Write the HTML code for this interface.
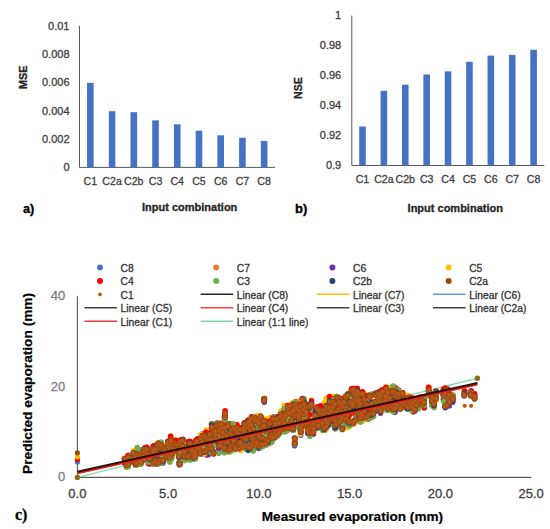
<!DOCTYPE html>
<html><head><meta charset="utf-8"><style>
html,body{margin:0;padding:0;background:#fff;}
svg{display:block;}
</style></head><body>
<svg width="550" height="529" viewBox="0 0 550 529">
<rect width="550" height="529" fill="#fff"/>
<line x1="79.5" y1="25.9" x2="79.5" y2="167.4" stroke="#595959" stroke-width="1"/>
<line x1="79.5" y1="167.4" x2="275.0" y2="167.4" stroke="#595959" stroke-width="1"/>
<text x="69.50" y="171.10" font-size="11.0" text-anchor="end" fill="#404040" stroke="#404040" stroke-width="0.3" font-weight="normal" font-family='"Liberation Sans", sans-serif' >0</text>
<text x="69.50" y="142.80" font-size="11.0" text-anchor="end" fill="#404040" stroke="#404040" stroke-width="0.3" font-weight="normal" font-family='"Liberation Sans", sans-serif' >0.002</text>
<text x="69.50" y="114.50" font-size="11.0" text-anchor="end" fill="#404040" stroke="#404040" stroke-width="0.3" font-weight="normal" font-family='"Liberation Sans", sans-serif' >0.004</text>
<text x="69.50" y="86.20" font-size="11.0" text-anchor="end" fill="#404040" stroke="#404040" stroke-width="0.3" font-weight="normal" font-family='"Liberation Sans", sans-serif' >0.006</text>
<text x="69.50" y="57.90" font-size="11.0" text-anchor="end" fill="#404040" stroke="#404040" stroke-width="0.3" font-weight="normal" font-family='"Liberation Sans", sans-serif' >0.008</text>
<text x="69.50" y="29.60" font-size="11.0" text-anchor="end" fill="#404040" stroke="#404040" stroke-width="0.3" font-weight="normal" font-family='"Liberation Sans", sans-serif' >0.01</text>
<rect x="87.06" y="82.8" width="6.6" height="84.60" fill="#4472C4"/>
<text x="90.36" y="184.90" font-size="10.6" text-anchor="middle" fill="#404040" stroke="#404040" stroke-width="0.3" font-weight="normal" font-family='"Liberation Sans", sans-serif' >C1</text>
<rect x="108.78" y="111.2" width="6.6" height="56.20" fill="#4472C4"/>
<text x="112.08" y="184.90" font-size="10.6" text-anchor="middle" fill="#404040" stroke="#404040" stroke-width="0.3" font-weight="normal" font-family='"Liberation Sans", sans-serif' >C2a</text>
<rect x="130.51" y="112.2" width="6.6" height="55.20" fill="#4472C4"/>
<text x="133.81" y="184.90" font-size="10.6" text-anchor="middle" fill="#404040" stroke="#404040" stroke-width="0.3" font-weight="normal" font-family='"Liberation Sans", sans-serif' >C2b</text>
<rect x="152.23" y="120.4" width="6.6" height="47.00" fill="#4472C4"/>
<text x="155.53" y="184.90" font-size="10.6" text-anchor="middle" fill="#404040" stroke="#404040" stroke-width="0.3" font-weight="normal" font-family='"Liberation Sans", sans-serif' >C3</text>
<rect x="173.95" y="124.3" width="6.6" height="43.10" fill="#4472C4"/>
<text x="177.25" y="184.90" font-size="10.6" text-anchor="middle" fill="#404040" stroke="#404040" stroke-width="0.3" font-weight="normal" font-family='"Liberation Sans", sans-serif' >C4</text>
<rect x="195.67" y="130.7" width="6.6" height="36.70" fill="#4472C4"/>
<text x="198.97" y="184.90" font-size="10.6" text-anchor="middle" fill="#404040" stroke="#404040" stroke-width="0.3" font-weight="normal" font-family='"Liberation Sans", sans-serif' >C5</text>
<rect x="217.39" y="135.3" width="6.6" height="32.10" fill="#4472C4"/>
<text x="220.69" y="184.90" font-size="10.6" text-anchor="middle" fill="#404040" stroke="#404040" stroke-width="0.3" font-weight="normal" font-family='"Liberation Sans", sans-serif' >C6</text>
<rect x="239.12" y="137.8" width="6.6" height="29.60" fill="#4472C4"/>
<text x="242.42" y="184.90" font-size="10.6" text-anchor="middle" fill="#404040" stroke="#404040" stroke-width="0.3" font-weight="normal" font-family='"Liberation Sans", sans-serif' >C7</text>
<rect x="260.84" y="141.0" width="6.6" height="26.40" fill="#4472C4"/>
<text x="264.14" y="184.90" font-size="10.6" text-anchor="middle" fill="#404040" stroke="#404040" stroke-width="0.3" font-weight="normal" font-family='"Liberation Sans", sans-serif' >C8</text>
<text x="0.00" y="0.00" font-size="10.9" text-anchor="middle" fill="#262626" stroke="#262626" stroke-width="0.3" font-weight="bold" font-family='"Liberation Sans", sans-serif' transform="translate(26.6,77.3) rotate(-90)">MSE</text>
<text x="23.00" y="212.80" font-size="12.8" text-anchor="start" fill="#000" stroke="#000" stroke-width="0.3" font-weight="bold" font-family='"Liberation Sans", sans-serif' >a)</text>
<text x="142.00" y="210.90" font-size="11.0" text-anchor="start" fill="#262626" stroke="#262626" stroke-width="0.3" font-weight="bold" font-family='"Liberation Sans", sans-serif' >Input combination</text>
<line x1="351.8" y1="15.5" x2="351.8" y2="165.5" stroke="#595959" stroke-width="1"/>
<line x1="351.8" y1="165.5" x2="544.3" y2="165.5" stroke="#595959" stroke-width="1"/>
<text x="341.20" y="168.90" font-size="11.0" text-anchor="end" fill="#404040" stroke="#404040" stroke-width="0.3" font-weight="normal" font-family='"Liberation Sans", sans-serif' >0.9</text>
<text x="341.20" y="138.90" font-size="11.0" text-anchor="end" fill="#404040" stroke="#404040" stroke-width="0.3" font-weight="normal" font-family='"Liberation Sans", sans-serif' >0.92</text>
<text x="341.20" y="108.90" font-size="11.0" text-anchor="end" fill="#404040" stroke="#404040" stroke-width="0.3" font-weight="normal" font-family='"Liberation Sans", sans-serif' >0.94</text>
<text x="341.20" y="78.90" font-size="11.0" text-anchor="end" fill="#404040" stroke="#404040" stroke-width="0.3" font-weight="normal" font-family='"Liberation Sans", sans-serif' >0.96</text>
<text x="341.20" y="48.90" font-size="11.0" text-anchor="end" fill="#404040" stroke="#404040" stroke-width="0.3" font-weight="normal" font-family='"Liberation Sans", sans-serif' >0.98</text>
<text x="341.20" y="18.90" font-size="11.0" text-anchor="end" fill="#404040" stroke="#404040" stroke-width="0.3" font-weight="normal" font-family='"Liberation Sans", sans-serif' >1</text>
<rect x="359.19" y="126.5" width="6.6" height="39.00" fill="#4472C4"/>
<text x="362.49" y="183.10" font-size="10.6" text-anchor="middle" fill="#404040" stroke="#404040" stroke-width="0.3" font-weight="normal" font-family='"Liberation Sans", sans-serif' >C1</text>
<rect x="380.58" y="90.9" width="6.6" height="74.60" fill="#4472C4"/>
<text x="383.88" y="183.10" font-size="10.6" text-anchor="middle" fill="#404040" stroke="#404040" stroke-width="0.3" font-weight="normal" font-family='"Liberation Sans", sans-serif' >C2a</text>
<rect x="401.97" y="84.7" width="6.6" height="80.80" fill="#4472C4"/>
<text x="405.27" y="183.10" font-size="10.6" text-anchor="middle" fill="#404040" stroke="#404040" stroke-width="0.3" font-weight="normal" font-family='"Liberation Sans", sans-serif' >C2b</text>
<rect x="423.36" y="74.5" width="6.6" height="91.00" fill="#4472C4"/>
<text x="426.66" y="183.10" font-size="10.6" text-anchor="middle" fill="#404040" stroke="#404040" stroke-width="0.3" font-weight="normal" font-family='"Liberation Sans", sans-serif' >C3</text>
<rect x="444.75" y="71.3" width="6.6" height="94.20" fill="#4472C4"/>
<text x="448.05" y="183.10" font-size="10.6" text-anchor="middle" fill="#404040" stroke="#404040" stroke-width="0.3" font-weight="normal" font-family='"Liberation Sans", sans-serif' >C4</text>
<rect x="466.14" y="61.8" width="6.6" height="103.70" fill="#4472C4"/>
<text x="469.44" y="183.10" font-size="10.6" text-anchor="middle" fill="#404040" stroke="#404040" stroke-width="0.3" font-weight="normal" font-family='"Liberation Sans", sans-serif' >C5</text>
<rect x="487.53" y="55.6" width="6.6" height="109.90" fill="#4472C4"/>
<text x="490.83" y="183.10" font-size="10.6" text-anchor="middle" fill="#404040" stroke="#404040" stroke-width="0.3" font-weight="normal" font-family='"Liberation Sans", sans-serif' >C6</text>
<rect x="508.92" y="54.9" width="6.6" height="110.60" fill="#4472C4"/>
<text x="512.22" y="183.10" font-size="10.6" text-anchor="middle" fill="#404040" stroke="#404040" stroke-width="0.3" font-weight="normal" font-family='"Liberation Sans", sans-serif' >C7</text>
<rect x="530.31" y="49.8" width="6.6" height="115.70" fill="#4472C4"/>
<text x="533.61" y="183.10" font-size="10.6" text-anchor="middle" fill="#404040" stroke="#404040" stroke-width="0.3" font-weight="normal" font-family='"Liberation Sans", sans-serif' >C8</text>
<text x="0.00" y="0.00" font-size="10.6" text-anchor="middle" fill="#262626" stroke="#262626" stroke-width="0.3" font-weight="bold" font-family='"Liberation Sans", sans-serif' transform="translate(301.6,88.1) rotate(-90)">NSE</text>
<text x="295.00" y="212.80" font-size="13.0" text-anchor="start" fill="#000" stroke="#000" stroke-width="0.3" font-weight="bold" font-family='"Liberation Sans", sans-serif' >b)</text>
<text x="407.60" y="211.50" font-size="11.0" text-anchor="start" fill="#262626" stroke="#262626" stroke-width="0.3" font-weight="bold" font-family='"Liberation Sans", sans-serif' >Input combination</text>
<line x1="77.4" y1="296.20" x2="77.4" y2="477.4" stroke="#595959" stroke-width="1.1"/>
<line x1="77.4" y1="477.4" x2="531.15" y2="477.4" stroke="#595959" stroke-width="1.1"/>
<text x="65.20" y="481.30" font-size="13.0" text-anchor="end" fill="#7f7f7f" stroke="#7f7f7f" stroke-width="0.3" font-weight="normal" font-family='"Liberation Sans", sans-serif' >0</text>
<text x="65.20" y="390.70" font-size="13.0" text-anchor="end" fill="#7f7f7f" stroke="#7f7f7f" stroke-width="0.3" font-weight="normal" font-family='"Liberation Sans", sans-serif' >20</text>
<text x="65.20" y="300.10" font-size="13.0" text-anchor="end" fill="#7f7f7f" stroke="#7f7f7f" stroke-width="0.3" font-weight="normal" font-family='"Liberation Sans", sans-serif' >40</text>
<text x="77.40" y="497.80" font-size="13.0" text-anchor="middle" fill="#404040" stroke="#404040" stroke-width="0.3" font-weight="normal" font-family='"Liberation Sans", sans-serif' >0.0</text>
<text x="168.15" y="497.80" font-size="13.0" text-anchor="middle" fill="#404040" stroke="#404040" stroke-width="0.3" font-weight="normal" font-family='"Liberation Sans", sans-serif' >5.0</text>
<text x="258.90" y="497.80" font-size="13.0" text-anchor="middle" fill="#404040" stroke="#404040" stroke-width="0.3" font-weight="normal" font-family='"Liberation Sans", sans-serif' >10.0</text>
<text x="349.65" y="497.80" font-size="13.0" text-anchor="middle" fill="#404040" stroke="#404040" stroke-width="0.3" font-weight="normal" font-family='"Liberation Sans", sans-serif' >15.0</text>
<text x="440.40" y="497.80" font-size="13.0" text-anchor="middle" fill="#404040" stroke="#404040" stroke-width="0.3" font-weight="normal" font-family='"Liberation Sans", sans-serif' >20.0</text>
<text x="531.15" y="497.80" font-size="13.0" text-anchor="middle" fill="#404040" stroke="#404040" stroke-width="0.3" font-weight="normal" font-family='"Liberation Sans", sans-serif' >25.0</text>
<text x="0.00" y="0.00" font-size="13.7" text-anchor="middle" fill="#000" stroke="#000" stroke-width="0.2" font-weight="bold" font-family='"Liberation Sans", sans-serif' transform="translate(31.7,383.4) rotate(-90)">Predicted evaporation (mm)</text>
<text x="261.80" y="520.80" font-size="13.6" text-anchor="start" fill="#000" stroke="#000" stroke-width="0.2" font-weight="bold" font-family='"Liberation Sans", sans-serif' >Measured evaporation (mm)</text>
<text x="15.00" y="520.20" font-size="16.0" text-anchor="start" fill="#000" stroke="#000" stroke-width="0.3" font-weight="bold" font-family='"Liberation Serif", serif' >c)</text>
<circle cx="100.00" cy="267.50" r="3.0" fill="#4472C4"/>
<text x="120.60" y="271.90" font-size="10.3" text-anchor="start" fill="#333333" stroke="#333333" stroke-width="0.3" font-weight="normal" font-family='"Liberation Sans", sans-serif' >C8</text>
<circle cx="216.20" cy="267.50" r="3.0" fill="#ED7D31"/>
<text x="236.80" y="271.90" font-size="10.3" text-anchor="start" fill="#333333" stroke="#333333" stroke-width="0.3" font-weight="normal" font-family='"Liberation Sans", sans-serif' >C7</text>
<circle cx="332.40" cy="267.50" r="3.0" fill="#7030A0"/>
<text x="353.00" y="271.90" font-size="10.3" text-anchor="start" fill="#333333" stroke="#333333" stroke-width="0.3" font-weight="normal" font-family='"Liberation Sans", sans-serif' >C6</text>
<circle cx="448.60" cy="267.50" r="3.0" fill="#FFC000"/>
<text x="469.20" y="271.90" font-size="10.3" text-anchor="start" fill="#333333" stroke="#333333" stroke-width="0.3" font-weight="normal" font-family='"Liberation Sans", sans-serif' >C5</text>
<circle cx="100.00" cy="280.92" r="3.0" fill="#FF0000"/>
<text x="120.60" y="285.32" font-size="10.3" text-anchor="start" fill="#333333" stroke="#333333" stroke-width="0.3" font-weight="normal" font-family='"Liberation Sans", sans-serif' >C4</text>
<circle cx="216.20" cy="280.92" r="3.0" fill="#70AD47"/>
<text x="236.80" y="285.32" font-size="10.3" text-anchor="start" fill="#333333" stroke="#333333" stroke-width="0.3" font-weight="normal" font-family='"Liberation Sans", sans-serif' >C3</text>
<circle cx="332.40" cy="280.92" r="3.0" fill="#264478"/>
<text x="353.00" y="285.32" font-size="10.3" text-anchor="start" fill="#333333" stroke="#333333" stroke-width="0.3" font-weight="normal" font-family='"Liberation Sans", sans-serif' >C2b</text>
<circle cx="448.60" cy="280.92" r="3.0" fill="#9E480E"/>
<text x="469.20" y="285.32" font-size="10.3" text-anchor="start" fill="#333333" stroke="#333333" stroke-width="0.3" font-weight="normal" font-family='"Liberation Sans", sans-serif' >C2a</text>
<circle cx="100.00" cy="294.34" r="1.9" fill="#C55A11"/>
<text x="120.60" y="298.74" font-size="10.3" text-anchor="start" fill="#333333" stroke="#333333" stroke-width="0.3" font-weight="normal" font-family='"Liberation Sans", sans-serif' >C1</text>
<line x1="200.60" y1="294.34" x2="233.20" y2="294.34" stroke="#262626" stroke-width="1.5"/>
<text x="236.80" y="298.74" font-size="10.3" text-anchor="start" fill="#333333" stroke="#333333" stroke-width="0.3" font-weight="normal" font-family='"Liberation Sans", sans-serif' >Linear (C8)</text>
<line x1="316.80" y1="294.34" x2="349.40" y2="294.34" stroke="#FFC000" stroke-width="1.5"/>
<text x="353.00" y="298.74" font-size="10.3" text-anchor="start" fill="#333333" stroke="#333333" stroke-width="0.3" font-weight="normal" font-family='"Liberation Sans", sans-serif' >Linear (C7)</text>
<line x1="433.00" y1="294.34" x2="465.60" y2="294.34" stroke="#5B9BD5" stroke-width="1.5"/>
<text x="469.20" y="298.74" font-size="10.3" text-anchor="start" fill="#333333" stroke="#333333" stroke-width="0.3" font-weight="normal" font-family='"Liberation Sans", sans-serif' >Linear (C6)</text>
<line x1="84.40" y1="307.76" x2="117.00" y2="307.76" stroke="#404040" stroke-width="1.5"/>
<text x="120.60" y="312.16" font-size="10.3" text-anchor="start" fill="#333333" stroke="#333333" stroke-width="0.3" font-weight="normal" font-family='"Liberation Sans", sans-serif' >Linear (C5)</text>
<line x1="200.60" y1="307.76" x2="233.20" y2="307.76" stroke="#FF4040" stroke-width="1.5"/>
<text x="236.80" y="312.16" font-size="10.3" text-anchor="start" fill="#333333" stroke="#333333" stroke-width="0.3" font-weight="normal" font-family='"Liberation Sans", sans-serif' >Linear (C4)</text>
<line x1="316.80" y1="307.76" x2="349.40" y2="307.76" stroke="#404040" stroke-width="1.5"/>
<text x="353.00" y="312.16" font-size="10.3" text-anchor="start" fill="#333333" stroke="#333333" stroke-width="0.3" font-weight="normal" font-family='"Liberation Sans", sans-serif' >Linear (C3)</text>
<line x1="433.00" y1="307.76" x2="465.60" y2="307.76" stroke="#404040" stroke-width="1.5"/>
<text x="469.20" y="312.16" font-size="10.3" text-anchor="start" fill="#333333" stroke="#333333" stroke-width="0.3" font-weight="normal" font-family='"Liberation Sans", sans-serif' >Linear (C2a)</text>
<line x1="84.40" y1="321.18" x2="117.00" y2="321.18" stroke="#E04040" stroke-width="1.5"/>
<text x="120.60" y="325.58" font-size="10.3" text-anchor="start" fill="#333333" stroke="#333333" stroke-width="0.3" font-weight="normal" font-family='"Liberation Sans", sans-serif' >Linear (C1)</text>
<line x1="200.60" y1="321.18" x2="233.20" y2="321.18" stroke="#7FD6A8" stroke-width="1.5"/>
<text x="236.80" y="325.58" font-size="10.3" text-anchor="start" fill="#333333" stroke="#333333" stroke-width="0.3" font-weight="normal" font-family='"Liberation Sans", sans-serif' >Linear (1:1 line)</text>
<line x1="77.4" y1="477.4" x2="477.4" y2="378.2" stroke="#8ED8B0" stroke-width="1.4"/>
<circle cx="124.6" cy="458.6" r="2.8" fill="#4472C4"/>
<circle cx="126.6" cy="461.4" r="2.8" fill="#4472C4"/>
<circle cx="126.5" cy="462.8" r="2.8" fill="#4472C4"/>
<circle cx="128.3" cy="457.6" r="2.8" fill="#4472C4"/>
<circle cx="128.4" cy="461.2" r="2.8" fill="#4472C4"/>
<circle cx="130.2" cy="457.4" r="2.8" fill="#4472C4"/>
<circle cx="132.1" cy="457.2" r="2.8" fill="#4472C4"/>
<circle cx="133.6" cy="452.7" r="2.8" fill="#4472C4"/>
<circle cx="135.2" cy="462.8" r="2.8" fill="#4472C4"/>
<circle cx="135.4" cy="462.0" r="2.8" fill="#4472C4"/>
<circle cx="135.2" cy="457.2" r="2.8" fill="#4472C4"/>
<circle cx="137.4" cy="462.9" r="2.8" fill="#4472C4"/>
<circle cx="137.1" cy="456.4" r="2.8" fill="#4472C4"/>
<circle cx="139.3" cy="456.7" r="2.8" fill="#4472C4"/>
<circle cx="139.1" cy="459.3" r="2.8" fill="#4472C4"/>
<circle cx="139.1" cy="456.1" r="2.8" fill="#4472C4"/>
<circle cx="141.2" cy="456.7" r="2.8" fill="#4472C4"/>
<circle cx="141.0" cy="462.8" r="2.8" fill="#4472C4"/>
<circle cx="142.8" cy="452.6" r="2.8" fill="#4472C4"/>
<circle cx="143.0" cy="452.7" r="2.8" fill="#4472C4"/>
<circle cx="144.8" cy="449.4" r="2.8" fill="#4472C4"/>
<circle cx="144.6" cy="452.7" r="2.8" fill="#4472C4"/>
<circle cx="144.6" cy="456.2" r="2.8" fill="#4472C4"/>
<circle cx="146.5" cy="450.7" r="2.8" fill="#4472C4"/>
<circle cx="146.4" cy="454.8" r="2.8" fill="#4472C4"/>
<circle cx="148.1" cy="458.0" r="2.8" fill="#4472C4"/>
<circle cx="148.4" cy="457.2" r="2.8" fill="#4472C4"/>
<circle cx="148.4" cy="458.8" r="2.8" fill="#4472C4"/>
<circle cx="150.2" cy="452.0" r="2.8" fill="#4472C4"/>
<circle cx="150.0" cy="458.2" r="2.8" fill="#4472C4"/>
<circle cx="151.8" cy="449.4" r="2.8" fill="#4472C4"/>
<circle cx="151.7" cy="452.2" r="2.8" fill="#4472C4"/>
<circle cx="151.5" cy="451.7" r="2.8" fill="#4472C4"/>
<circle cx="153.4" cy="460.4" r="2.8" fill="#4472C4"/>
<circle cx="153.7" cy="449.2" r="2.8" fill="#4472C4"/>
<circle cx="153.5" cy="452.0" r="2.8" fill="#4472C4"/>
<circle cx="155.3" cy="460.7" r="2.8" fill="#4472C4"/>
<circle cx="155.7" cy="462.8" r="2.8" fill="#4472C4"/>
<circle cx="155.3" cy="450.0" r="2.8" fill="#4472C4"/>
<circle cx="157.2" cy="460.6" r="2.8" fill="#4472C4"/>
<circle cx="157.4" cy="443.8" r="2.8" fill="#4472C4"/>
<circle cx="157.2" cy="453.6" r="2.8" fill="#4472C4"/>
<circle cx="159.3" cy="461.0" r="2.8" fill="#4472C4"/>
<circle cx="159.3" cy="446.1" r="2.8" fill="#4472C4"/>
<circle cx="158.9" cy="446.7" r="2.8" fill="#4472C4"/>
<circle cx="160.9" cy="462.2" r="2.8" fill="#4472C4"/>
<circle cx="161.1" cy="449.0" r="2.8" fill="#4472C4"/>
<circle cx="160.9" cy="443.2" r="2.8" fill="#4472C4"/>
<circle cx="162.9" cy="447.7" r="2.8" fill="#4472C4"/>
<circle cx="162.5" cy="461.5" r="2.8" fill="#4472C4"/>
<circle cx="164.4" cy="450.3" r="2.8" fill="#4472C4"/>
<circle cx="164.3" cy="448.7" r="2.8" fill="#4472C4"/>
<circle cx="166.6" cy="456.5" r="2.8" fill="#4472C4"/>
<circle cx="166.3" cy="452.7" r="2.8" fill="#4472C4"/>
<circle cx="168.3" cy="454.4" r="2.8" fill="#4472C4"/>
<circle cx="167.9" cy="441.4" r="2.8" fill="#4472C4"/>
<circle cx="168.3" cy="453.2" r="2.8" fill="#4472C4"/>
<circle cx="170.0" cy="456.5" r="2.8" fill="#4472C4"/>
<circle cx="169.9" cy="457.5" r="2.8" fill="#4472C4"/>
<circle cx="170.1" cy="446.9" r="2.8" fill="#4472C4"/>
<circle cx="172.1" cy="449.5" r="2.8" fill="#4472C4"/>
<circle cx="171.6" cy="448.0" r="2.8" fill="#4472C4"/>
<circle cx="171.9" cy="452.2" r="2.8" fill="#4472C4"/>
<circle cx="173.9" cy="447.4" r="2.8" fill="#4472C4"/>
<circle cx="173.7" cy="444.2" r="2.8" fill="#4472C4"/>
<circle cx="173.4" cy="450.3" r="2.8" fill="#4472C4"/>
<circle cx="175.3" cy="445.6" r="2.8" fill="#4472C4"/>
<circle cx="175.6" cy="451.3" r="2.8" fill="#4472C4"/>
<circle cx="175.5" cy="444.3" r="2.8" fill="#4472C4"/>
<circle cx="177.4" cy="445.2" r="2.8" fill="#4472C4"/>
<circle cx="177.1" cy="446.2" r="2.8" fill="#4472C4"/>
<circle cx="178.9" cy="456.7" r="2.8" fill="#4472C4"/>
<circle cx="178.8" cy="444.5" r="2.8" fill="#4472C4"/>
<circle cx="180.8" cy="446.8" r="2.8" fill="#4472C4"/>
<circle cx="180.9" cy="441.9" r="2.8" fill="#4472C4"/>
<circle cx="182.8" cy="447.9" r="2.8" fill="#4472C4"/>
<circle cx="182.8" cy="439.5" r="2.8" fill="#4472C4"/>
<circle cx="184.7" cy="457.6" r="2.8" fill="#4472C4"/>
<circle cx="184.7" cy="450.7" r="2.8" fill="#4472C4"/>
<circle cx="184.5" cy="449.5" r="2.8" fill="#4472C4"/>
<circle cx="186.3" cy="448.9" r="2.8" fill="#4472C4"/>
<circle cx="186.3" cy="454.8" r="2.8" fill="#4472C4"/>
<circle cx="187.9" cy="447.0" r="2.8" fill="#4472C4"/>
<circle cx="187.9" cy="457.6" r="2.8" fill="#4472C4"/>
<circle cx="190.0" cy="456.2" r="2.8" fill="#4472C4"/>
<circle cx="189.7" cy="444.9" r="2.8" fill="#4472C4"/>
<circle cx="190.0" cy="448.1" r="2.8" fill="#4472C4"/>
<circle cx="191.8" cy="455.3" r="2.8" fill="#4472C4"/>
<circle cx="191.6" cy="452.3" r="2.8" fill="#4472C4"/>
<circle cx="192.0" cy="450.0" r="2.8" fill="#4472C4"/>
<circle cx="193.8" cy="456.1" r="2.8" fill="#4472C4"/>
<circle cx="193.5" cy="452.3" r="2.8" fill="#4472C4"/>
<circle cx="193.3" cy="454.5" r="2.8" fill="#4472C4"/>
<circle cx="195.2" cy="449.4" r="2.8" fill="#4472C4"/>
<circle cx="195.5" cy="444.3" r="2.8" fill="#4472C4"/>
<circle cx="195.3" cy="456.6" r="2.8" fill="#4472C4"/>
<circle cx="197.4" cy="441.4" r="2.8" fill="#4472C4"/>
<circle cx="197.3" cy="448.7" r="2.8" fill="#4472C4"/>
<circle cx="199.0" cy="450.3" r="2.8" fill="#4472C4"/>
<circle cx="199.2" cy="445.7" r="2.8" fill="#4472C4"/>
<circle cx="200.7" cy="452.5" r="2.8" fill="#4472C4"/>
<circle cx="200.9" cy="439.0" r="2.8" fill="#4472C4"/>
<circle cx="201.0" cy="454.2" r="2.8" fill="#4472C4"/>
<circle cx="202.5" cy="435.8" r="2.8" fill="#4472C4"/>
<circle cx="202.7" cy="438.0" r="2.8" fill="#4472C4"/>
<circle cx="202.8" cy="443.3" r="2.8" fill="#4472C4"/>
<circle cx="204.7" cy="434.3" r="2.8" fill="#4472C4"/>
<circle cx="204.4" cy="450.5" r="2.8" fill="#4472C4"/>
<circle cx="204.6" cy="435.4" r="2.8" fill="#4472C4"/>
<circle cx="206.1" cy="442.5" r="2.8" fill="#4472C4"/>
<circle cx="206.4" cy="437.8" r="2.8" fill="#4472C4"/>
<circle cx="206.4" cy="450.7" r="2.8" fill="#4472C4"/>
<circle cx="206.0" cy="438.0" r="2.8" fill="#4472C4"/>
<circle cx="208.0" cy="448.0" r="2.8" fill="#4472C4"/>
<circle cx="208.0" cy="437.4" r="2.8" fill="#4472C4"/>
<circle cx="208.3" cy="445.7" r="2.8" fill="#4472C4"/>
<circle cx="207.9" cy="439.8" r="2.8" fill="#4472C4"/>
<circle cx="209.8" cy="440.5" r="2.8" fill="#4472C4"/>
<circle cx="209.6" cy="434.8" r="2.8" fill="#4472C4"/>
<circle cx="210.1" cy="443.3" r="2.8" fill="#4472C4"/>
<circle cx="209.8" cy="441.7" r="2.8" fill="#4472C4"/>
<circle cx="211.6" cy="438.4" r="2.8" fill="#4472C4"/>
<circle cx="212.0" cy="424.9" r="2.8" fill="#4472C4"/>
<circle cx="211.7" cy="426.8" r="2.8" fill="#4472C4"/>
<circle cx="211.9" cy="447.9" r="2.8" fill="#4472C4"/>
<circle cx="213.5" cy="452.8" r="2.8" fill="#4472C4"/>
<circle cx="213.5" cy="441.1" r="2.8" fill="#4472C4"/>
<circle cx="213.3" cy="433.2" r="2.8" fill="#4472C4"/>
<circle cx="213.7" cy="434.0" r="2.8" fill="#4472C4"/>
<circle cx="215.1" cy="438.3" r="2.8" fill="#4472C4"/>
<circle cx="215.2" cy="431.5" r="2.8" fill="#4472C4"/>
<circle cx="215.6" cy="434.1" r="2.8" fill="#4472C4"/>
<circle cx="215.3" cy="430.6" r="2.8" fill="#4472C4"/>
<circle cx="217.0" cy="439.3" r="2.8" fill="#4472C4"/>
<circle cx="217.1" cy="424.2" r="2.8" fill="#4472C4"/>
<circle cx="217.0" cy="425.7" r="2.8" fill="#4472C4"/>
<circle cx="219.2" cy="446.0" r="2.8" fill="#4472C4"/>
<circle cx="218.9" cy="434.6" r="2.8" fill="#4472C4"/>
<circle cx="218.8" cy="424.8" r="2.8" fill="#4472C4"/>
<circle cx="218.9" cy="431.0" r="2.8" fill="#4472C4"/>
<circle cx="220.7" cy="446.0" r="2.8" fill="#4472C4"/>
<circle cx="220.5" cy="426.6" r="2.8" fill="#4472C4"/>
<circle cx="220.6" cy="442.5" r="2.8" fill="#4472C4"/>
<circle cx="220.7" cy="429.9" r="2.8" fill="#4472C4"/>
<circle cx="222.7" cy="432.2" r="2.8" fill="#4472C4"/>
<circle cx="222.6" cy="431.4" r="2.8" fill="#4472C4"/>
<circle cx="222.8" cy="439.6" r="2.8" fill="#4472C4"/>
<circle cx="224.5" cy="449.3" r="2.8" fill="#4472C4"/>
<circle cx="224.2" cy="428.0" r="2.8" fill="#4472C4"/>
<circle cx="224.6" cy="446.2" r="2.8" fill="#4472C4"/>
<circle cx="226.1" cy="436.1" r="2.8" fill="#4472C4"/>
<circle cx="226.2" cy="443.1" r="2.8" fill="#4472C4"/>
<circle cx="226.0" cy="437.4" r="2.8" fill="#4472C4"/>
<circle cx="228.0" cy="424.5" r="2.8" fill="#4472C4"/>
<circle cx="228.3" cy="426.1" r="2.8" fill="#4472C4"/>
<circle cx="228.1" cy="451.5" r="2.8" fill="#4472C4"/>
<circle cx="227.9" cy="440.7" r="2.8" fill="#4472C4"/>
<circle cx="229.8" cy="434.5" r="2.8" fill="#4472C4"/>
<circle cx="230.1" cy="432.5" r="2.8" fill="#4472C4"/>
<circle cx="229.6" cy="448.2" r="2.8" fill="#4472C4"/>
<circle cx="231.5" cy="446.5" r="2.8" fill="#4472C4"/>
<circle cx="231.6" cy="437.1" r="2.8" fill="#4472C4"/>
<circle cx="231.4" cy="430.0" r="2.8" fill="#4472C4"/>
<circle cx="233.4" cy="445.9" r="2.8" fill="#4472C4"/>
<circle cx="233.5" cy="429.5" r="2.8" fill="#4472C4"/>
<circle cx="233.5" cy="439.9" r="2.8" fill="#4472C4"/>
<circle cx="235.3" cy="430.3" r="2.8" fill="#4472C4"/>
<circle cx="235.3" cy="445.5" r="2.8" fill="#4472C4"/>
<circle cx="235.0" cy="447.8" r="2.8" fill="#4472C4"/>
<circle cx="235.1" cy="447.5" r="2.8" fill="#4472C4"/>
<circle cx="236.9" cy="436.1" r="2.8" fill="#4472C4"/>
<circle cx="237.1" cy="431.5" r="2.8" fill="#4472C4"/>
<circle cx="237.1" cy="429.7" r="2.8" fill="#4472C4"/>
<circle cx="239.1" cy="444.6" r="2.8" fill="#4472C4"/>
<circle cx="238.9" cy="441.8" r="2.8" fill="#4472C4"/>
<circle cx="239.2" cy="436.5" r="2.8" fill="#4472C4"/>
<circle cx="238.7" cy="435.0" r="2.8" fill="#4472C4"/>
<circle cx="240.7" cy="444.4" r="2.8" fill="#4472C4"/>
<circle cx="240.8" cy="430.4" r="2.8" fill="#4472C4"/>
<circle cx="240.8" cy="444.0" r="2.8" fill="#4472C4"/>
<circle cx="240.7" cy="444.9" r="2.8" fill="#4472C4"/>
<circle cx="242.3" cy="438.1" r="2.8" fill="#4472C4"/>
<circle cx="242.8" cy="430.7" r="2.8" fill="#4472C4"/>
<circle cx="242.8" cy="435.4" r="2.8" fill="#4472C4"/>
<circle cx="242.5" cy="446.9" r="2.8" fill="#4472C4"/>
<circle cx="244.1" cy="423.4" r="2.8" fill="#4472C4"/>
<circle cx="244.1" cy="427.9" r="2.8" fill="#4472C4"/>
<circle cx="244.3" cy="431.2" r="2.8" fill="#4472C4"/>
<circle cx="244.5" cy="438.6" r="2.8" fill="#4472C4"/>
<circle cx="246.3" cy="423.0" r="2.8" fill="#4472C4"/>
<circle cx="246.2" cy="441.1" r="2.8" fill="#4472C4"/>
<circle cx="246.0" cy="437.7" r="2.8" fill="#4472C4"/>
<circle cx="246.2" cy="446.9" r="2.8" fill="#4472C4"/>
<circle cx="248.2" cy="422.9" r="2.8" fill="#4472C4"/>
<circle cx="248.1" cy="426.0" r="2.8" fill="#4472C4"/>
<circle cx="247.8" cy="446.6" r="2.8" fill="#4472C4"/>
<circle cx="248.2" cy="435.7" r="2.8" fill="#4472C4"/>
<circle cx="250.0" cy="449.4" r="2.8" fill="#4472C4"/>
<circle cx="249.6" cy="427.5" r="2.8" fill="#4472C4"/>
<circle cx="249.7" cy="420.7" r="2.8" fill="#4472C4"/>
<circle cx="249.7" cy="431.0" r="2.8" fill="#4472C4"/>
<circle cx="251.9" cy="426.1" r="2.8" fill="#4472C4"/>
<circle cx="251.4" cy="443.9" r="2.8" fill="#4472C4"/>
<circle cx="251.7" cy="437.1" r="2.8" fill="#4472C4"/>
<circle cx="251.9" cy="418.4" r="2.8" fill="#4472C4"/>
<circle cx="253.4" cy="438.9" r="2.8" fill="#4472C4"/>
<circle cx="253.2" cy="441.8" r="2.8" fill="#4472C4"/>
<circle cx="253.3" cy="430.2" r="2.8" fill="#4472C4"/>
<circle cx="253.3" cy="429.7" r="2.8" fill="#4472C4"/>
<circle cx="253.2" cy="437.4" r="2.8" fill="#4472C4"/>
<circle cx="255.4" cy="443.7" r="2.8" fill="#4472C4"/>
<circle cx="255.4" cy="442.7" r="2.8" fill="#4472C4"/>
<circle cx="255.1" cy="416.7" r="2.8" fill="#4472C4"/>
<circle cx="255.2" cy="420.8" r="2.8" fill="#4472C4"/>
<circle cx="257.3" cy="442.0" r="2.8" fill="#4472C4"/>
<circle cx="257.4" cy="443.2" r="2.8" fill="#4472C4"/>
<circle cx="257.2" cy="432.2" r="2.8" fill="#4472C4"/>
<circle cx="256.9" cy="443.8" r="2.8" fill="#4472C4"/>
<circle cx="257.4" cy="421.6" r="2.8" fill="#4472C4"/>
<circle cx="258.8" cy="445.1" r="2.8" fill="#4472C4"/>
<circle cx="259.0" cy="434.1" r="2.8" fill="#4472C4"/>
<circle cx="258.6" cy="435.9" r="2.8" fill="#4472C4"/>
<circle cx="258.7" cy="418.8" r="2.8" fill="#4472C4"/>
<circle cx="259.0" cy="422.1" r="2.8" fill="#4472C4"/>
<circle cx="260.9" cy="443.4" r="2.8" fill="#4472C4"/>
<circle cx="260.7" cy="418.6" r="2.8" fill="#4472C4"/>
<circle cx="260.5" cy="427.1" r="2.8" fill="#4472C4"/>
<circle cx="261.0" cy="443.9" r="2.8" fill="#4472C4"/>
<circle cx="262.8" cy="427.4" r="2.8" fill="#4472C4"/>
<circle cx="262.8" cy="426.7" r="2.8" fill="#4472C4"/>
<circle cx="262.6" cy="441.7" r="2.8" fill="#4472C4"/>
<circle cx="262.4" cy="438.4" r="2.8" fill="#4472C4"/>
<circle cx="264.3" cy="427.6" r="2.8" fill="#4472C4"/>
<circle cx="264.5" cy="426.8" r="2.8" fill="#4472C4"/>
<circle cx="264.3" cy="424.0" r="2.8" fill="#4472C4"/>
<circle cx="266.3" cy="431.9" r="2.8" fill="#4472C4"/>
<circle cx="266.1" cy="439.6" r="2.8" fill="#4472C4"/>
<circle cx="266.0" cy="441.8" r="2.8" fill="#4472C4"/>
<circle cx="267.7" cy="439.2" r="2.8" fill="#4472C4"/>
<circle cx="267.8" cy="429.4" r="2.8" fill="#4472C4"/>
<circle cx="267.7" cy="441.2" r="2.8" fill="#4472C4"/>
<circle cx="269.6" cy="431.4" r="2.8" fill="#4472C4"/>
<circle cx="269.6" cy="439.5" r="2.8" fill="#4472C4"/>
<circle cx="269.8" cy="424.3" r="2.8" fill="#4472C4"/>
<circle cx="269.7" cy="427.2" r="2.8" fill="#4472C4"/>
<circle cx="271.7" cy="438.1" r="2.8" fill="#4472C4"/>
<circle cx="271.4" cy="433.3" r="2.8" fill="#4472C4"/>
<circle cx="271.4" cy="436.3" r="2.8" fill="#4472C4"/>
<circle cx="273.3" cy="418.3" r="2.8" fill="#4472C4"/>
<circle cx="273.2" cy="438.1" r="2.8" fill="#4472C4"/>
<circle cx="273.7" cy="420.7" r="2.8" fill="#4472C4"/>
<circle cx="275.2" cy="433.4" r="2.8" fill="#4472C4"/>
<circle cx="275.4" cy="422.4" r="2.8" fill="#4472C4"/>
<circle cx="276.9" cy="417.9" r="2.8" fill="#4472C4"/>
<circle cx="276.9" cy="435.0" r="2.8" fill="#4472C4"/>
<circle cx="277.1" cy="425.6" r="2.8" fill="#4472C4"/>
<circle cx="278.6" cy="434.4" r="2.8" fill="#4472C4"/>
<circle cx="278.6" cy="423.9" r="2.8" fill="#4472C4"/>
<circle cx="278.7" cy="422.3" r="2.8" fill="#4472C4"/>
<circle cx="280.9" cy="415.2" r="2.8" fill="#4472C4"/>
<circle cx="280.4" cy="430.2" r="2.8" fill="#4472C4"/>
<circle cx="280.8" cy="416.5" r="2.8" fill="#4472C4"/>
<circle cx="282.4" cy="419.2" r="2.8" fill="#4472C4"/>
<circle cx="282.3" cy="427.1" r="2.8" fill="#4472C4"/>
<circle cx="282.6" cy="428.1" r="2.8" fill="#4472C4"/>
<circle cx="284.2" cy="422.8" r="2.8" fill="#4472C4"/>
<circle cx="284.5" cy="414.8" r="2.8" fill="#4472C4"/>
<circle cx="284.6" cy="417.9" r="2.8" fill="#4472C4"/>
<circle cx="284.3" cy="430.9" r="2.8" fill="#4472C4"/>
<circle cx="286.0" cy="413.2" r="2.8" fill="#4472C4"/>
<circle cx="286.1" cy="430.8" r="2.8" fill="#4472C4"/>
<circle cx="285.9" cy="414.6" r="2.8" fill="#4472C4"/>
<circle cx="288.1" cy="408.6" r="2.8" fill="#4472C4"/>
<circle cx="287.9" cy="411.6" r="2.8" fill="#4472C4"/>
<circle cx="287.7" cy="426.5" r="2.8" fill="#4472C4"/>
<circle cx="289.9" cy="411.2" r="2.8" fill="#4472C4"/>
<circle cx="289.6" cy="406.4" r="2.8" fill="#4472C4"/>
<circle cx="290.0" cy="424.2" r="2.8" fill="#4472C4"/>
<circle cx="291.5" cy="425.4" r="2.8" fill="#4472C4"/>
<circle cx="291.7" cy="421.8" r="2.8" fill="#4472C4"/>
<circle cx="291.7" cy="423.0" r="2.8" fill="#4472C4"/>
<circle cx="291.7" cy="412.9" r="2.8" fill="#4472C4"/>
<circle cx="293.5" cy="427.7" r="2.8" fill="#4472C4"/>
<circle cx="293.1" cy="409.8" r="2.8" fill="#4472C4"/>
<circle cx="293.7" cy="416.1" r="2.8" fill="#4472C4"/>
<circle cx="295.4" cy="403.0" r="2.8" fill="#4472C4"/>
<circle cx="295.5" cy="416.2" r="2.8" fill="#4472C4"/>
<circle cx="295.3" cy="407.2" r="2.8" fill="#4472C4"/>
<circle cx="295.2" cy="416.3" r="2.8" fill="#4472C4"/>
<circle cx="297.1" cy="408.6" r="2.8" fill="#4472C4"/>
<circle cx="296.7" cy="409.5" r="2.8" fill="#4472C4"/>
<circle cx="297.1" cy="415.6" r="2.8" fill="#4472C4"/>
<circle cx="298.9" cy="412.5" r="2.8" fill="#4472C4"/>
<circle cx="298.9" cy="423.0" r="2.8" fill="#4472C4"/>
<circle cx="298.8" cy="418.8" r="2.8" fill="#4472C4"/>
<circle cx="298.9" cy="412.8" r="2.8" fill="#4472C4"/>
<circle cx="300.4" cy="430.9" r="2.8" fill="#4472C4"/>
<circle cx="300.7" cy="405.2" r="2.8" fill="#4472C4"/>
<circle cx="300.4" cy="413.3" r="2.8" fill="#4472C4"/>
<circle cx="300.6" cy="427.3" r="2.8" fill="#4472C4"/>
<circle cx="302.3" cy="423.2" r="2.8" fill="#4472C4"/>
<circle cx="302.7" cy="400.5" r="2.8" fill="#4472C4"/>
<circle cx="302.5" cy="410.5" r="2.8" fill="#4472C4"/>
<circle cx="302.4" cy="409.6" r="2.8" fill="#4472C4"/>
<circle cx="304.4" cy="407.9" r="2.8" fill="#4472C4"/>
<circle cx="304.3" cy="403.4" r="2.8" fill="#4472C4"/>
<circle cx="304.2" cy="411.4" r="2.8" fill="#4472C4"/>
<circle cx="304.2" cy="413.3" r="2.8" fill="#4472C4"/>
<circle cx="306.0" cy="420.2" r="2.8" fill="#4472C4"/>
<circle cx="305.8" cy="407.0" r="2.8" fill="#4472C4"/>
<circle cx="305.9" cy="413.5" r="2.8" fill="#4472C4"/>
<circle cx="305.9" cy="421.7" r="2.8" fill="#4472C4"/>
<circle cx="306.1" cy="414.0" r="2.8" fill="#4472C4"/>
<circle cx="307.8" cy="426.2" r="2.8" fill="#4472C4"/>
<circle cx="307.7" cy="424.0" r="2.8" fill="#4472C4"/>
<circle cx="307.9" cy="405.1" r="2.8" fill="#4472C4"/>
<circle cx="307.9" cy="431.4" r="2.8" fill="#4472C4"/>
<circle cx="309.6" cy="422.5" r="2.8" fill="#4472C4"/>
<circle cx="309.9" cy="431.2" r="2.8" fill="#4472C4"/>
<circle cx="309.6" cy="408.3" r="2.8" fill="#4472C4"/>
<circle cx="309.7" cy="406.4" r="2.8" fill="#4472C4"/>
<circle cx="311.6" cy="427.6" r="2.8" fill="#4472C4"/>
<circle cx="311.3" cy="403.1" r="2.8" fill="#4472C4"/>
<circle cx="311.7" cy="432.1" r="2.8" fill="#4472C4"/>
<circle cx="311.7" cy="424.9" r="2.8" fill="#4472C4"/>
<circle cx="313.1" cy="425.3" r="2.8" fill="#4472C4"/>
<circle cx="313.3" cy="430.3" r="2.8" fill="#4472C4"/>
<circle cx="313.6" cy="430.1" r="2.8" fill="#4472C4"/>
<circle cx="313.2" cy="423.9" r="2.8" fill="#4472C4"/>
<circle cx="315.1" cy="423.7" r="2.8" fill="#4472C4"/>
<circle cx="314.9" cy="414.8" r="2.8" fill="#4472C4"/>
<circle cx="315.1" cy="419.3" r="2.8" fill="#4472C4"/>
<circle cx="316.7" cy="408.8" r="2.8" fill="#4472C4"/>
<circle cx="316.7" cy="420.8" r="2.8" fill="#4472C4"/>
<circle cx="316.7" cy="424.9" r="2.8" fill="#4472C4"/>
<circle cx="319.0" cy="411.7" r="2.8" fill="#4472C4"/>
<circle cx="318.6" cy="421.2" r="2.8" fill="#4472C4"/>
<circle cx="319.0" cy="425.9" r="2.8" fill="#4472C4"/>
<circle cx="318.6" cy="426.0" r="2.8" fill="#4472C4"/>
<circle cx="320.8" cy="414.8" r="2.8" fill="#4472C4"/>
<circle cx="320.4" cy="415.8" r="2.8" fill="#4472C4"/>
<circle cx="320.7" cy="418.9" r="2.8" fill="#4472C4"/>
<circle cx="322.3" cy="412.4" r="2.8" fill="#4472C4"/>
<circle cx="322.7" cy="423.5" r="2.8" fill="#4472C4"/>
<circle cx="322.4" cy="414.2" r="2.8" fill="#4472C4"/>
<circle cx="322.4" cy="418.1" r="2.8" fill="#4472C4"/>
<circle cx="324.5" cy="429.1" r="2.8" fill="#4472C4"/>
<circle cx="324.3" cy="425.0" r="2.8" fill="#4472C4"/>
<circle cx="324.4" cy="410.1" r="2.8" fill="#4472C4"/>
<circle cx="324.2" cy="428.1" r="2.8" fill="#4472C4"/>
<circle cx="325.8" cy="428.0" r="2.8" fill="#4472C4"/>
<circle cx="326.3" cy="408.4" r="2.8" fill="#4472C4"/>
<circle cx="326.1" cy="416.0" r="2.8" fill="#4472C4"/>
<circle cx="325.8" cy="413.4" r="2.8" fill="#4472C4"/>
<circle cx="328.0" cy="408.4" r="2.8" fill="#4472C4"/>
<circle cx="328.1" cy="410.7" r="2.8" fill="#4472C4"/>
<circle cx="327.6" cy="424.8" r="2.8" fill="#4472C4"/>
<circle cx="329.9" cy="403.3" r="2.8" fill="#4472C4"/>
<circle cx="329.5" cy="423.1" r="2.8" fill="#4472C4"/>
<circle cx="329.5" cy="409.6" r="2.8" fill="#4472C4"/>
<circle cx="329.5" cy="408.7" r="2.8" fill="#4472C4"/>
<circle cx="329.4" cy="414.2" r="2.8" fill="#4472C4"/>
<circle cx="331.5" cy="415.2" r="2.8" fill="#4472C4"/>
<circle cx="331.6" cy="419.4" r="2.8" fill="#4472C4"/>
<circle cx="331.3" cy="409.6" r="2.8" fill="#4472C4"/>
<circle cx="331.3" cy="410.9" r="2.8" fill="#4472C4"/>
<circle cx="333.3" cy="402.7" r="2.8" fill="#4472C4"/>
<circle cx="333.0" cy="401.2" r="2.8" fill="#4472C4"/>
<circle cx="333.4" cy="404.7" r="2.8" fill="#4472C4"/>
<circle cx="333.5" cy="419.0" r="2.8" fill="#4472C4"/>
<circle cx="335.2" cy="402.9" r="2.8" fill="#4472C4"/>
<circle cx="335.3" cy="414.5" r="2.8" fill="#4472C4"/>
<circle cx="335.1" cy="424.1" r="2.8" fill="#4472C4"/>
<circle cx="334.8" cy="418.6" r="2.8" fill="#4472C4"/>
<circle cx="336.7" cy="423.6" r="2.8" fill="#4472C4"/>
<circle cx="337.1" cy="413.1" r="2.8" fill="#4472C4"/>
<circle cx="336.7" cy="397.4" r="2.8" fill="#4472C4"/>
<circle cx="338.9" cy="401.4" r="2.8" fill="#4472C4"/>
<circle cx="338.8" cy="413.4" r="2.8" fill="#4472C4"/>
<circle cx="338.7" cy="408.0" r="2.8" fill="#4472C4"/>
<circle cx="338.6" cy="420.5" r="2.8" fill="#4472C4"/>
<circle cx="340.6" cy="414.4" r="2.8" fill="#4472C4"/>
<circle cx="340.8" cy="403.1" r="2.8" fill="#4472C4"/>
<circle cx="340.4" cy="417.8" r="2.8" fill="#4472C4"/>
<circle cx="340.5" cy="419.8" r="2.8" fill="#4472C4"/>
<circle cx="342.2" cy="411.3" r="2.8" fill="#4472C4"/>
<circle cx="342.6" cy="406.7" r="2.8" fill="#4472C4"/>
<circle cx="342.1" cy="428.0" r="2.8" fill="#4472C4"/>
<circle cx="342.1" cy="418.7" r="2.8" fill="#4472C4"/>
<circle cx="344.2" cy="402.0" r="2.8" fill="#4472C4"/>
<circle cx="344.0" cy="408.3" r="2.8" fill="#4472C4"/>
<circle cx="344.1" cy="410.8" r="2.8" fill="#4472C4"/>
<circle cx="344.4" cy="416.3" r="2.8" fill="#4472C4"/>
<circle cx="344.4" cy="406.1" r="2.8" fill="#4472C4"/>
<circle cx="346.1" cy="398.7" r="2.8" fill="#4472C4"/>
<circle cx="345.8" cy="397.4" r="2.8" fill="#4472C4"/>
<circle cx="345.9" cy="417.7" r="2.8" fill="#4472C4"/>
<circle cx="345.9" cy="407.0" r="2.8" fill="#4472C4"/>
<circle cx="345.9" cy="410.2" r="2.8" fill="#4472C4"/>
<circle cx="347.9" cy="395.2" r="2.8" fill="#4472C4"/>
<circle cx="348.1" cy="415.2" r="2.8" fill="#4472C4"/>
<circle cx="347.7" cy="420.2" r="2.8" fill="#4472C4"/>
<circle cx="347.6" cy="412.5" r="2.8" fill="#4472C4"/>
<circle cx="349.8" cy="403.4" r="2.8" fill="#4472C4"/>
<circle cx="349.7" cy="421.6" r="2.8" fill="#4472C4"/>
<circle cx="349.6" cy="421.7" r="2.8" fill="#4472C4"/>
<circle cx="349.6" cy="411.6" r="2.8" fill="#4472C4"/>
<circle cx="351.6" cy="402.9" r="2.8" fill="#4472C4"/>
<circle cx="351.4" cy="404.9" r="2.8" fill="#4472C4"/>
<circle cx="351.6" cy="404.0" r="2.8" fill="#4472C4"/>
<circle cx="351.5" cy="390.6" r="2.8" fill="#4472C4"/>
<circle cx="353.3" cy="407.2" r="2.8" fill="#4472C4"/>
<circle cx="353.4" cy="391.5" r="2.8" fill="#4472C4"/>
<circle cx="353.5" cy="392.8" r="2.8" fill="#4472C4"/>
<circle cx="353.3" cy="403.6" r="2.8" fill="#4472C4"/>
<circle cx="353.3" cy="420.9" r="2.8" fill="#4472C4"/>
<circle cx="355.2" cy="399.8" r="2.8" fill="#4472C4"/>
<circle cx="355.1" cy="420.7" r="2.8" fill="#4472C4"/>
<circle cx="355.2" cy="394.1" r="2.8" fill="#4472C4"/>
<circle cx="355.2" cy="402.3" r="2.8" fill="#4472C4"/>
<circle cx="356.8" cy="410.1" r="2.8" fill="#4472C4"/>
<circle cx="357.0" cy="402.5" r="2.8" fill="#4472C4"/>
<circle cx="356.8" cy="395.2" r="2.8" fill="#4472C4"/>
<circle cx="357.0" cy="391.8" r="2.8" fill="#4472C4"/>
<circle cx="358.7" cy="414.2" r="2.8" fill="#4472C4"/>
<circle cx="358.6" cy="406.6" r="2.8" fill="#4472C4"/>
<circle cx="359.0" cy="395.2" r="2.8" fill="#4472C4"/>
<circle cx="358.8" cy="400.8" r="2.8" fill="#4472C4"/>
<circle cx="358.6" cy="400.9" r="2.8" fill="#4472C4"/>
<circle cx="360.5" cy="412.9" r="2.8" fill="#4472C4"/>
<circle cx="360.6" cy="418.4" r="2.8" fill="#4472C4"/>
<circle cx="360.7" cy="411.5" r="2.8" fill="#4472C4"/>
<circle cx="360.6" cy="405.5" r="2.8" fill="#4472C4"/>
<circle cx="362.6" cy="395.9" r="2.8" fill="#4472C4"/>
<circle cx="362.6" cy="393.8" r="2.8" fill="#4472C4"/>
<circle cx="362.6" cy="416.6" r="2.8" fill="#4472C4"/>
<circle cx="363.9" cy="399.5" r="2.8" fill="#4472C4"/>
<circle cx="364.1" cy="411.1" r="2.8" fill="#4472C4"/>
<circle cx="364.1" cy="399.9" r="2.8" fill="#4472C4"/>
<circle cx="366.0" cy="404.6" r="2.8" fill="#4472C4"/>
<circle cx="365.9" cy="417.6" r="2.8" fill="#4472C4"/>
<circle cx="365.7" cy="407.0" r="2.8" fill="#4472C4"/>
<circle cx="367.5" cy="415.3" r="2.8" fill="#4472C4"/>
<circle cx="368.0" cy="416.3" r="2.8" fill="#4472C4"/>
<circle cx="367.9" cy="406.1" r="2.8" fill="#4472C4"/>
<circle cx="369.6" cy="396.1" r="2.8" fill="#4472C4"/>
<circle cx="369.9" cy="395.8" r="2.8" fill="#4472C4"/>
<circle cx="369.5" cy="413.9" r="2.8" fill="#4472C4"/>
<circle cx="371.7" cy="404.8" r="2.8" fill="#4472C4"/>
<circle cx="371.5" cy="416.2" r="2.8" fill="#4472C4"/>
<circle cx="371.7" cy="413.5" r="2.8" fill="#4472C4"/>
<circle cx="373.1" cy="410.4" r="2.8" fill="#4472C4"/>
<circle cx="373.2" cy="411.0" r="2.8" fill="#4472C4"/>
<circle cx="373.0" cy="414.9" r="2.8" fill="#4472C4"/>
<circle cx="375.3" cy="394.5" r="2.8" fill="#4472C4"/>
<circle cx="374.8" cy="403.5" r="2.8" fill="#4472C4"/>
<circle cx="375.2" cy="406.6" r="2.8" fill="#4472C4"/>
<circle cx="377.1" cy="395.7" r="2.8" fill="#4472C4"/>
<circle cx="377.1" cy="404.7" r="2.8" fill="#4472C4"/>
<circle cx="378.9" cy="397.6" r="2.8" fill="#4472C4"/>
<circle cx="378.6" cy="395.2" r="2.8" fill="#4472C4"/>
<circle cx="378.8" cy="394.5" r="2.8" fill="#4472C4"/>
<circle cx="380.6" cy="396.1" r="2.8" fill="#4472C4"/>
<circle cx="380.6" cy="409.9" r="2.8" fill="#4472C4"/>
<circle cx="380.3" cy="394.3" r="2.8" fill="#4472C4"/>
<circle cx="382.1" cy="405.2" r="2.8" fill="#4472C4"/>
<circle cx="382.3" cy="399.1" r="2.8" fill="#4472C4"/>
<circle cx="382.5" cy="392.2" r="2.8" fill="#4472C4"/>
<circle cx="384.2" cy="400.1" r="2.8" fill="#4472C4"/>
<circle cx="384.1" cy="405.1" r="2.8" fill="#4472C4"/>
<circle cx="386.1" cy="389.0" r="2.8" fill="#4472C4"/>
<circle cx="385.8" cy="399.4" r="2.8" fill="#4472C4"/>
<circle cx="385.7" cy="396.5" r="2.8" fill="#4472C4"/>
<circle cx="388.0" cy="393.2" r="2.8" fill="#4472C4"/>
<circle cx="388.0" cy="406.9" r="2.8" fill="#4472C4"/>
<circle cx="387.9" cy="410.0" r="2.8" fill="#4472C4"/>
<circle cx="389.6" cy="398.2" r="2.8" fill="#4472C4"/>
<circle cx="389.4" cy="403.2" r="2.8" fill="#4472C4"/>
<circle cx="389.5" cy="403.0" r="2.8" fill="#4472C4"/>
<circle cx="391.3" cy="402.0" r="2.8" fill="#4472C4"/>
<circle cx="391.6" cy="409.7" r="2.8" fill="#4472C4"/>
<circle cx="391.6" cy="392.8" r="2.8" fill="#4472C4"/>
<circle cx="393.0" cy="391.4" r="2.8" fill="#4472C4"/>
<circle cx="392.9" cy="394.1" r="2.8" fill="#4472C4"/>
<circle cx="393.3" cy="409.8" r="2.8" fill="#4472C4"/>
<circle cx="393.3" cy="400.3" r="2.8" fill="#4472C4"/>
<circle cx="395.3" cy="410.5" r="2.8" fill="#4472C4"/>
<circle cx="394.8" cy="392.1" r="2.8" fill="#4472C4"/>
<circle cx="394.8" cy="394.7" r="2.8" fill="#4472C4"/>
<circle cx="396.9" cy="393.2" r="2.8" fill="#4472C4"/>
<circle cx="396.6" cy="401.1" r="2.8" fill="#4472C4"/>
<circle cx="397.0" cy="394.9" r="2.8" fill="#4472C4"/>
<circle cx="398.6" cy="401.2" r="2.8" fill="#4472C4"/>
<circle cx="398.7" cy="395.4" r="2.8" fill="#4472C4"/>
<circle cx="398.8" cy="395.8" r="2.8" fill="#4472C4"/>
<circle cx="400.6" cy="407.1" r="2.8" fill="#4472C4"/>
<circle cx="400.2" cy="403.8" r="2.8" fill="#4472C4"/>
<circle cx="400.2" cy="408.7" r="2.8" fill="#4472C4"/>
<circle cx="402.2" cy="392.7" r="2.8" fill="#4472C4"/>
<circle cx="402.6" cy="394.1" r="2.8" fill="#4472C4"/>
<circle cx="404.4" cy="403.1" r="2.8" fill="#4472C4"/>
<circle cx="404.3" cy="402.2" r="2.8" fill="#4472C4"/>
<circle cx="406.0" cy="407.7" r="2.8" fill="#4472C4"/>
<circle cx="405.7" cy="400.8" r="2.8" fill="#4472C4"/>
<circle cx="407.9" cy="406.6" r="2.8" fill="#4472C4"/>
<circle cx="407.5" cy="397.7" r="2.8" fill="#4472C4"/>
<circle cx="409.8" cy="397.4" r="2.8" fill="#4472C4"/>
<circle cx="409.4" cy="406.0" r="2.8" fill="#4472C4"/>
<circle cx="411.6" cy="404.2" r="2.8" fill="#4472C4"/>
<circle cx="411.1" cy="406.2" r="2.8" fill="#4472C4"/>
<circle cx="413.3" cy="409.0" r="2.8" fill="#4472C4"/>
<circle cx="413.2" cy="401.2" r="2.8" fill="#4472C4"/>
<circle cx="415.2" cy="402.8" r="2.8" fill="#4472C4"/>
<circle cx="414.9" cy="411.1" r="2.8" fill="#4472C4"/>
<circle cx="416.7" cy="405.2" r="2.8" fill="#4472C4"/>
<circle cx="416.7" cy="405.3" r="2.8" fill="#4472C4"/>
<circle cx="418.7" cy="402.9" r="2.8" fill="#4472C4"/>
<circle cx="418.9" cy="400.8" r="2.8" fill="#4472C4"/>
<circle cx="420.7" cy="401.4" r="2.8" fill="#4472C4"/>
<circle cx="420.3" cy="397.9" r="2.8" fill="#4472C4"/>
<circle cx="422.5" cy="406.3" r="2.8" fill="#4472C4"/>
<circle cx="422.1" cy="404.8" r="2.8" fill="#4472C4"/>
<circle cx="424.2" cy="400.2" r="2.8" fill="#4472C4"/>
<circle cx="424.3" cy="403.2" r="2.8" fill="#4472C4"/>
<circle cx="429.0" cy="389.3" r="2.8" fill="#4472C4"/>
<circle cx="428.6" cy="389.0" r="2.8" fill="#4472C4"/>
<circle cx="432.2" cy="396.5" r="2.8" fill="#4472C4"/>
<circle cx="431.8" cy="399.7" r="2.8" fill="#4472C4"/>
<circle cx="434.1" cy="402.8" r="2.8" fill="#4472C4"/>
<circle cx="433.9" cy="405.7" r="2.8" fill="#4472C4"/>
<circle cx="435.8" cy="391.0" r="2.8" fill="#4472C4"/>
<circle cx="436.1" cy="397.2" r="2.8" fill="#4472C4"/>
<circle cx="443.5" cy="391.3" r="2.8" fill="#4472C4"/>
<circle cx="443.5" cy="395.1" r="2.8" fill="#4472C4"/>
<circle cx="445.0" cy="393.5" r="2.8" fill="#4472C4"/>
<circle cx="445.3" cy="407.0" r="2.8" fill="#4472C4"/>
<circle cx="447.3" cy="402.2" r="2.8" fill="#4472C4"/>
<circle cx="447.0" cy="388.2" r="2.8" fill="#4472C4"/>
<circle cx="448.8" cy="399.2" r="2.8" fill="#4472C4"/>
<circle cx="449.1" cy="393.3" r="2.8" fill="#4472C4"/>
<circle cx="453.0" cy="398.3" r="2.8" fill="#4472C4"/>
<circle cx="452.6" cy="400.9" r="2.8" fill="#4472C4"/>
<circle cx="464.6" cy="394.9" r="2.8" fill="#4472C4"/>
<circle cx="464.7" cy="394.3" r="2.8" fill="#4472C4"/>
<circle cx="471.2" cy="391.0" r="2.8" fill="#4472C4"/>
<circle cx="471.1" cy="395.3" r="2.8" fill="#4472C4"/>
<circle cx="474.6" cy="398.6" r="2.8" fill="#4472C4"/>
<circle cx="474.3" cy="396.2" r="2.8" fill="#4472C4"/>
<circle cx="225.1" cy="414.9" r="2.8" fill="#4472C4"/>
<circle cx="225.0" cy="412.8" r="2.8" fill="#4472C4"/>
<circle cx="264.3" cy="398.8" r="2.8" fill="#4472C4"/>
<circle cx="264.4" cy="402.0" r="2.8" fill="#4472C4"/>
<circle cx="294.6" cy="438.0" r="2.8" fill="#4472C4"/>
<circle cx="294.6" cy="445.7" r="2.8" fill="#4472C4"/>
<circle cx="171.1" cy="438.2" r="2.8" fill="#4472C4"/>
<circle cx="170.8" cy="440.7" r="2.8" fill="#4472C4"/>
<circle cx="179.4" cy="462.3" r="2.8" fill="#4472C4"/>
<circle cx="179.5" cy="463.7" r="2.8" fill="#4472C4"/>
<circle cx="124.5" cy="458.4" r="2.8" fill="#ED7D31"/>
<circle cx="126.3" cy="461.0" r="2.8" fill="#ED7D31"/>
<circle cx="126.4" cy="464.3" r="2.8" fill="#ED7D31"/>
<circle cx="128.4" cy="458.0" r="2.8" fill="#ED7D31"/>
<circle cx="128.1" cy="459.7" r="2.8" fill="#ED7D31"/>
<circle cx="130.3" cy="458.9" r="2.8" fill="#ED7D31"/>
<circle cx="132.0" cy="459.7" r="2.8" fill="#ED7D31"/>
<circle cx="133.4" cy="453.4" r="2.8" fill="#ED7D31"/>
<circle cx="135.2" cy="464.5" r="2.8" fill="#ED7D31"/>
<circle cx="135.3" cy="461.2" r="2.8" fill="#ED7D31"/>
<circle cx="135.3" cy="457.7" r="2.8" fill="#ED7D31"/>
<circle cx="137.5" cy="460.7" r="2.8" fill="#ED7D31"/>
<circle cx="137.1" cy="453.8" r="2.8" fill="#ED7D31"/>
<circle cx="139.3" cy="454.9" r="2.8" fill="#ED7D31"/>
<circle cx="139.1" cy="463.3" r="2.8" fill="#ED7D31"/>
<circle cx="139.0" cy="455.3" r="2.8" fill="#ED7D31"/>
<circle cx="141.2" cy="454.1" r="2.8" fill="#ED7D31"/>
<circle cx="140.7" cy="463.7" r="2.8" fill="#ED7D31"/>
<circle cx="142.7" cy="452.3" r="2.8" fill="#ED7D31"/>
<circle cx="142.9" cy="453.0" r="2.8" fill="#ED7D31"/>
<circle cx="144.5" cy="448.7" r="2.8" fill="#ED7D31"/>
<circle cx="144.4" cy="451.4" r="2.8" fill="#ED7D31"/>
<circle cx="144.7" cy="454.3" r="2.8" fill="#ED7D31"/>
<circle cx="146.2" cy="447.2" r="2.8" fill="#ED7D31"/>
<circle cx="146.4" cy="453.6" r="2.8" fill="#ED7D31"/>
<circle cx="148.1" cy="455.5" r="2.8" fill="#ED7D31"/>
<circle cx="148.2" cy="453.8" r="2.8" fill="#ED7D31"/>
<circle cx="148.3" cy="458.9" r="2.8" fill="#ED7D31"/>
<circle cx="150.1" cy="454.1" r="2.8" fill="#ED7D31"/>
<circle cx="150.0" cy="460.3" r="2.8" fill="#ED7D31"/>
<circle cx="152.1" cy="449.6" r="2.8" fill="#ED7D31"/>
<circle cx="152.0" cy="452.6" r="2.8" fill="#ED7D31"/>
<circle cx="151.6" cy="453.1" r="2.8" fill="#ED7D31"/>
<circle cx="153.8" cy="461.5" r="2.8" fill="#ED7D31"/>
<circle cx="153.6" cy="448.7" r="2.8" fill="#ED7D31"/>
<circle cx="153.7" cy="451.9" r="2.8" fill="#ED7D31"/>
<circle cx="155.4" cy="461.7" r="2.8" fill="#ED7D31"/>
<circle cx="155.3" cy="459.1" r="2.8" fill="#ED7D31"/>
<circle cx="155.2" cy="447.4" r="2.8" fill="#ED7D31"/>
<circle cx="157.1" cy="459.6" r="2.8" fill="#ED7D31"/>
<circle cx="157.1" cy="445.7" r="2.8" fill="#ED7D31"/>
<circle cx="157.4" cy="454.2" r="2.8" fill="#ED7D31"/>
<circle cx="159.2" cy="462.2" r="2.8" fill="#ED7D31"/>
<circle cx="159.0" cy="449.6" r="2.8" fill="#ED7D31"/>
<circle cx="159.2" cy="445.5" r="2.8" fill="#ED7D31"/>
<circle cx="161.2" cy="461.5" r="2.8" fill="#ED7D31"/>
<circle cx="160.6" cy="450.8" r="2.8" fill="#ED7D31"/>
<circle cx="160.7" cy="445.1" r="2.8" fill="#ED7D31"/>
<circle cx="162.8" cy="448.6" r="2.8" fill="#ED7D31"/>
<circle cx="162.5" cy="460.8" r="2.8" fill="#ED7D31"/>
<circle cx="164.6" cy="450.6" r="2.8" fill="#ED7D31"/>
<circle cx="164.3" cy="449.6" r="2.8" fill="#ED7D31"/>
<circle cx="166.3" cy="456.6" r="2.8" fill="#ED7D31"/>
<circle cx="166.6" cy="453.1" r="2.8" fill="#ED7D31"/>
<circle cx="168.0" cy="453.3" r="2.8" fill="#ED7D31"/>
<circle cx="168.4" cy="442.0" r="2.8" fill="#ED7D31"/>
<circle cx="168.3" cy="454.1" r="2.8" fill="#ED7D31"/>
<circle cx="169.9" cy="456.8" r="2.8" fill="#ED7D31"/>
<circle cx="170.1" cy="456.8" r="2.8" fill="#ED7D31"/>
<circle cx="170.2" cy="448.4" r="2.8" fill="#ED7D31"/>
<circle cx="171.8" cy="448.1" r="2.8" fill="#ED7D31"/>
<circle cx="171.8" cy="447.7" r="2.8" fill="#ED7D31"/>
<circle cx="171.8" cy="452.4" r="2.8" fill="#ED7D31"/>
<circle cx="173.7" cy="446.9" r="2.8" fill="#ED7D31"/>
<circle cx="173.8" cy="444.2" r="2.8" fill="#ED7D31"/>
<circle cx="173.3" cy="450.9" r="2.8" fill="#ED7D31"/>
<circle cx="175.3" cy="445.2" r="2.8" fill="#ED7D31"/>
<circle cx="175.4" cy="448.3" r="2.8" fill="#ED7D31"/>
<circle cx="175.5" cy="444.0" r="2.8" fill="#ED7D31"/>
<circle cx="177.4" cy="445.2" r="2.8" fill="#ED7D31"/>
<circle cx="177.5" cy="445.1" r="2.8" fill="#ED7D31"/>
<circle cx="179.2" cy="456.7" r="2.8" fill="#ED7D31"/>
<circle cx="179.1" cy="443.3" r="2.8" fill="#ED7D31"/>
<circle cx="181.1" cy="444.6" r="2.8" fill="#ED7D31"/>
<circle cx="180.6" cy="444.8" r="2.8" fill="#ED7D31"/>
<circle cx="182.4" cy="450.5" r="2.8" fill="#ED7D31"/>
<circle cx="182.7" cy="442.5" r="2.8" fill="#ED7D31"/>
<circle cx="184.6" cy="455.0" r="2.8" fill="#ED7D31"/>
<circle cx="184.3" cy="453.4" r="2.8" fill="#ED7D31"/>
<circle cx="184.6" cy="450.7" r="2.8" fill="#ED7D31"/>
<circle cx="186.4" cy="447.8" r="2.8" fill="#ED7D31"/>
<circle cx="186.1" cy="454.4" r="2.8" fill="#ED7D31"/>
<circle cx="187.8" cy="448.6" r="2.8" fill="#ED7D31"/>
<circle cx="188.3" cy="454.4" r="2.8" fill="#ED7D31"/>
<circle cx="190.1" cy="457.7" r="2.8" fill="#ED7D31"/>
<circle cx="189.9" cy="445.3" r="2.8" fill="#ED7D31"/>
<circle cx="190.0" cy="447.5" r="2.8" fill="#ED7D31"/>
<circle cx="191.9" cy="457.4" r="2.8" fill="#ED7D31"/>
<circle cx="191.6" cy="450.8" r="2.8" fill="#ED7D31"/>
<circle cx="191.8" cy="448.9" r="2.8" fill="#ED7D31"/>
<circle cx="193.7" cy="455.6" r="2.8" fill="#ED7D31"/>
<circle cx="193.3" cy="453.2" r="2.8" fill="#ED7D31"/>
<circle cx="193.8" cy="454.9" r="2.8" fill="#ED7D31"/>
<circle cx="195.7" cy="452.9" r="2.8" fill="#ED7D31"/>
<circle cx="195.2" cy="444.7" r="2.8" fill="#ED7D31"/>
<circle cx="195.4" cy="454.6" r="2.8" fill="#ED7D31"/>
<circle cx="197.4" cy="443.7" r="2.8" fill="#ED7D31"/>
<circle cx="197.4" cy="447.5" r="2.8" fill="#ED7D31"/>
<circle cx="199.0" cy="446.4" r="2.8" fill="#ED7D31"/>
<circle cx="198.8" cy="445.7" r="2.8" fill="#ED7D31"/>
<circle cx="200.5" cy="447.7" r="2.8" fill="#ED7D31"/>
<circle cx="200.9" cy="437.8" r="2.8" fill="#ED7D31"/>
<circle cx="200.9" cy="453.6" r="2.8" fill="#ED7D31"/>
<circle cx="202.4" cy="436.7" r="2.8" fill="#ED7D31"/>
<circle cx="202.6" cy="434.7" r="2.8" fill="#ED7D31"/>
<circle cx="202.5" cy="443.8" r="2.8" fill="#ED7D31"/>
<circle cx="204.7" cy="440.2" r="2.8" fill="#ED7D31"/>
<circle cx="204.7" cy="451.1" r="2.8" fill="#ED7D31"/>
<circle cx="204.5" cy="435.3" r="2.8" fill="#ED7D31"/>
<circle cx="206.5" cy="441.0" r="2.8" fill="#ED7D31"/>
<circle cx="206.0" cy="436.7" r="2.8" fill="#ED7D31"/>
<circle cx="206.1" cy="450.3" r="2.8" fill="#ED7D31"/>
<circle cx="206.3" cy="438.1" r="2.8" fill="#ED7D31"/>
<circle cx="208.0" cy="449.5" r="2.8" fill="#ED7D31"/>
<circle cx="208.1" cy="437.7" r="2.8" fill="#ED7D31"/>
<circle cx="208.2" cy="447.8" r="2.8" fill="#ED7D31"/>
<circle cx="207.9" cy="440.3" r="2.8" fill="#ED7D31"/>
<circle cx="209.7" cy="440.5" r="2.8" fill="#ED7D31"/>
<circle cx="210.1" cy="433.8" r="2.8" fill="#ED7D31"/>
<circle cx="209.9" cy="443.1" r="2.8" fill="#ED7D31"/>
<circle cx="210.1" cy="439.7" r="2.8" fill="#ED7D31"/>
<circle cx="211.5" cy="439.4" r="2.8" fill="#ED7D31"/>
<circle cx="211.9" cy="425.5" r="2.8" fill="#ED7D31"/>
<circle cx="211.8" cy="428.7" r="2.8" fill="#ED7D31"/>
<circle cx="211.8" cy="448.4" r="2.8" fill="#ED7D31"/>
<circle cx="213.7" cy="452.6" r="2.8" fill="#ED7D31"/>
<circle cx="213.3" cy="439.5" r="2.8" fill="#ED7D31"/>
<circle cx="213.4" cy="432.1" r="2.8" fill="#ED7D31"/>
<circle cx="213.4" cy="432.2" r="2.8" fill="#ED7D31"/>
<circle cx="215.3" cy="437.0" r="2.8" fill="#ED7D31"/>
<circle cx="215.1" cy="432.3" r="2.8" fill="#ED7D31"/>
<circle cx="215.2" cy="432.8" r="2.8" fill="#ED7D31"/>
<circle cx="215.4" cy="429.7" r="2.8" fill="#ED7D31"/>
<circle cx="216.9" cy="441.5" r="2.8" fill="#ED7D31"/>
<circle cx="217.1" cy="423.3" r="2.8" fill="#ED7D31"/>
<circle cx="217.1" cy="426.1" r="2.8" fill="#ED7D31"/>
<circle cx="219.0" cy="446.6" r="2.8" fill="#ED7D31"/>
<circle cx="219.2" cy="434.1" r="2.8" fill="#ED7D31"/>
<circle cx="219.0" cy="423.4" r="2.8" fill="#ED7D31"/>
<circle cx="219.2" cy="432.7" r="2.8" fill="#ED7D31"/>
<circle cx="220.7" cy="445.0" r="2.8" fill="#ED7D31"/>
<circle cx="220.9" cy="424.4" r="2.8" fill="#ED7D31"/>
<circle cx="220.5" cy="443.6" r="2.8" fill="#ED7D31"/>
<circle cx="220.8" cy="428.2" r="2.8" fill="#ED7D31"/>
<circle cx="222.4" cy="432.3" r="2.8" fill="#ED7D31"/>
<circle cx="222.5" cy="430.6" r="2.8" fill="#ED7D31"/>
<circle cx="222.9" cy="436.5" r="2.8" fill="#ED7D31"/>
<circle cx="224.4" cy="448.7" r="2.8" fill="#ED7D31"/>
<circle cx="224.4" cy="426.6" r="2.8" fill="#ED7D31"/>
<circle cx="224.2" cy="447.2" r="2.8" fill="#ED7D31"/>
<circle cx="226.1" cy="434.7" r="2.8" fill="#ED7D31"/>
<circle cx="226.4" cy="442.2" r="2.8" fill="#ED7D31"/>
<circle cx="225.9" cy="434.8" r="2.8" fill="#ED7D31"/>
<circle cx="228.3" cy="425.6" r="2.8" fill="#ED7D31"/>
<circle cx="228.1" cy="427.4" r="2.8" fill="#ED7D31"/>
<circle cx="227.9" cy="451.1" r="2.8" fill="#ED7D31"/>
<circle cx="228.2" cy="440.4" r="2.8" fill="#ED7D31"/>
<circle cx="229.7" cy="433.0" r="2.8" fill="#ED7D31"/>
<circle cx="229.8" cy="430.8" r="2.8" fill="#ED7D31"/>
<circle cx="229.7" cy="449.5" r="2.8" fill="#ED7D31"/>
<circle cx="231.5" cy="444.8" r="2.8" fill="#ED7D31"/>
<circle cx="231.7" cy="436.0" r="2.8" fill="#ED7D31"/>
<circle cx="231.9" cy="430.7" r="2.8" fill="#ED7D31"/>
<circle cx="233.5" cy="444.4" r="2.8" fill="#ED7D31"/>
<circle cx="233.3" cy="428.8" r="2.8" fill="#ED7D31"/>
<circle cx="233.4" cy="443.3" r="2.8" fill="#ED7D31"/>
<circle cx="235.1" cy="431.5" r="2.8" fill="#ED7D31"/>
<circle cx="235.5" cy="447.0" r="2.8" fill="#ED7D31"/>
<circle cx="235.1" cy="446.7" r="2.8" fill="#ED7D31"/>
<circle cx="235.5" cy="447.2" r="2.8" fill="#ED7D31"/>
<circle cx="237.3" cy="437.4" r="2.8" fill="#ED7D31"/>
<circle cx="237.1" cy="431.3" r="2.8" fill="#ED7D31"/>
<circle cx="237.1" cy="434.5" r="2.8" fill="#ED7D31"/>
<circle cx="238.8" cy="444.0" r="2.8" fill="#ED7D31"/>
<circle cx="239.0" cy="444.8" r="2.8" fill="#ED7D31"/>
<circle cx="239.0" cy="437.2" r="2.8" fill="#ED7D31"/>
<circle cx="238.7" cy="431.5" r="2.8" fill="#ED7D31"/>
<circle cx="240.8" cy="445.2" r="2.8" fill="#ED7D31"/>
<circle cx="241.0" cy="429.6" r="2.8" fill="#ED7D31"/>
<circle cx="241.0" cy="445.9" r="2.8" fill="#ED7D31"/>
<circle cx="240.7" cy="443.7" r="2.8" fill="#ED7D31"/>
<circle cx="242.4" cy="435.3" r="2.8" fill="#ED7D31"/>
<circle cx="242.8" cy="431.7" r="2.8" fill="#ED7D31"/>
<circle cx="242.7" cy="434.9" r="2.8" fill="#ED7D31"/>
<circle cx="242.6" cy="447.1" r="2.8" fill="#ED7D31"/>
<circle cx="244.6" cy="425.8" r="2.8" fill="#ED7D31"/>
<circle cx="244.1" cy="426.7" r="2.8" fill="#ED7D31"/>
<circle cx="244.4" cy="433.0" r="2.8" fill="#ED7D31"/>
<circle cx="244.3" cy="438.4" r="2.8" fill="#ED7D31"/>
<circle cx="246.2" cy="425.7" r="2.8" fill="#ED7D31"/>
<circle cx="246.0" cy="440.5" r="2.8" fill="#ED7D31"/>
<circle cx="246.2" cy="437.6" r="2.8" fill="#ED7D31"/>
<circle cx="246.0" cy="447.0" r="2.8" fill="#ED7D31"/>
<circle cx="248.1" cy="421.0" r="2.8" fill="#ED7D31"/>
<circle cx="247.7" cy="426.3" r="2.8" fill="#ED7D31"/>
<circle cx="247.9" cy="448.5" r="2.8" fill="#ED7D31"/>
<circle cx="248.1" cy="432.0" r="2.8" fill="#ED7D31"/>
<circle cx="250.0" cy="446.4" r="2.8" fill="#ED7D31"/>
<circle cx="249.8" cy="426.1" r="2.8" fill="#ED7D31"/>
<circle cx="249.9" cy="419.7" r="2.8" fill="#ED7D31"/>
<circle cx="249.6" cy="428.4" r="2.8" fill="#ED7D31"/>
<circle cx="251.6" cy="423.5" r="2.8" fill="#ED7D31"/>
<circle cx="251.7" cy="445.3" r="2.8" fill="#ED7D31"/>
<circle cx="251.9" cy="439.4" r="2.8" fill="#ED7D31"/>
<circle cx="251.9" cy="419.4" r="2.8" fill="#ED7D31"/>
<circle cx="253.7" cy="436.1" r="2.8" fill="#ED7D31"/>
<circle cx="253.3" cy="442.5" r="2.8" fill="#ED7D31"/>
<circle cx="253.7" cy="429.0" r="2.8" fill="#ED7D31"/>
<circle cx="253.5" cy="427.5" r="2.8" fill="#ED7D31"/>
<circle cx="253.3" cy="440.7" r="2.8" fill="#ED7D31"/>
<circle cx="255.5" cy="444.7" r="2.8" fill="#ED7D31"/>
<circle cx="255.4" cy="441.6" r="2.8" fill="#ED7D31"/>
<circle cx="255.1" cy="416.8" r="2.8" fill="#ED7D31"/>
<circle cx="255.3" cy="421.3" r="2.8" fill="#ED7D31"/>
<circle cx="256.8" cy="442.2" r="2.8" fill="#ED7D31"/>
<circle cx="256.8" cy="441.9" r="2.8" fill="#ED7D31"/>
<circle cx="256.9" cy="433.3" r="2.8" fill="#ED7D31"/>
<circle cx="257.0" cy="442.0" r="2.8" fill="#ED7D31"/>
<circle cx="257.3" cy="419.7" r="2.8" fill="#ED7D31"/>
<circle cx="259.1" cy="447.9" r="2.8" fill="#ED7D31"/>
<circle cx="259.1" cy="433.7" r="2.8" fill="#ED7D31"/>
<circle cx="259.0" cy="434.7" r="2.8" fill="#ED7D31"/>
<circle cx="258.8" cy="423.0" r="2.8" fill="#ED7D31"/>
<circle cx="259.2" cy="420.4" r="2.8" fill="#ED7D31"/>
<circle cx="260.7" cy="443.3" r="2.8" fill="#ED7D31"/>
<circle cx="260.5" cy="416.0" r="2.8" fill="#ED7D31"/>
<circle cx="260.8" cy="430.2" r="2.8" fill="#ED7D31"/>
<circle cx="260.9" cy="441.5" r="2.8" fill="#ED7D31"/>
<circle cx="262.6" cy="427.2" r="2.8" fill="#ED7D31"/>
<circle cx="262.7" cy="423.9" r="2.8" fill="#ED7D31"/>
<circle cx="262.8" cy="445.8" r="2.8" fill="#ED7D31"/>
<circle cx="262.2" cy="437.3" r="2.8" fill="#ED7D31"/>
<circle cx="264.6" cy="427.8" r="2.8" fill="#ED7D31"/>
<circle cx="264.2" cy="426.3" r="2.8" fill="#ED7D31"/>
<circle cx="264.4" cy="423.6" r="2.8" fill="#ED7D31"/>
<circle cx="266.0" cy="432.0" r="2.8" fill="#ED7D31"/>
<circle cx="265.9" cy="439.9" r="2.8" fill="#ED7D31"/>
<circle cx="266.3" cy="442.0" r="2.8" fill="#ED7D31"/>
<circle cx="267.9" cy="441.6" r="2.8" fill="#ED7D31"/>
<circle cx="268.0" cy="427.7" r="2.8" fill="#ED7D31"/>
<circle cx="267.9" cy="441.0" r="2.8" fill="#ED7D31"/>
<circle cx="270.0" cy="429.6" r="2.8" fill="#ED7D31"/>
<circle cx="269.8" cy="437.9" r="2.8" fill="#ED7D31"/>
<circle cx="269.7" cy="425.2" r="2.8" fill="#ED7D31"/>
<circle cx="269.8" cy="424.2" r="2.8" fill="#ED7D31"/>
<circle cx="271.5" cy="438.4" r="2.8" fill="#ED7D31"/>
<circle cx="271.9" cy="431.6" r="2.8" fill="#ED7D31"/>
<circle cx="271.5" cy="436.5" r="2.8" fill="#ED7D31"/>
<circle cx="273.7" cy="417.8" r="2.8" fill="#ED7D31"/>
<circle cx="273.1" cy="435.5" r="2.8" fill="#ED7D31"/>
<circle cx="273.2" cy="420.9" r="2.8" fill="#ED7D31"/>
<circle cx="275.0" cy="432.2" r="2.8" fill="#ED7D31"/>
<circle cx="275.1" cy="420.3" r="2.8" fill="#ED7D31"/>
<circle cx="277.1" cy="417.0" r="2.8" fill="#ED7D31"/>
<circle cx="277.2" cy="433.5" r="2.8" fill="#ED7D31"/>
<circle cx="277.2" cy="428.7" r="2.8" fill="#ED7D31"/>
<circle cx="278.8" cy="432.0" r="2.8" fill="#ED7D31"/>
<circle cx="279.1" cy="423.6" r="2.8" fill="#ED7D31"/>
<circle cx="279.1" cy="423.2" r="2.8" fill="#ED7D31"/>
<circle cx="280.6" cy="414.5" r="2.8" fill="#ED7D31"/>
<circle cx="280.8" cy="427.7" r="2.8" fill="#ED7D31"/>
<circle cx="280.9" cy="414.6" r="2.8" fill="#ED7D31"/>
<circle cx="282.7" cy="422.8" r="2.8" fill="#ED7D31"/>
<circle cx="282.4" cy="423.6" r="2.8" fill="#ED7D31"/>
<circle cx="282.7" cy="426.7" r="2.8" fill="#ED7D31"/>
<circle cx="284.6" cy="423.8" r="2.8" fill="#ED7D31"/>
<circle cx="284.1" cy="416.9" r="2.8" fill="#ED7D31"/>
<circle cx="284.6" cy="417.5" r="2.8" fill="#ED7D31"/>
<circle cx="284.6" cy="426.3" r="2.8" fill="#ED7D31"/>
<circle cx="286.0" cy="411.1" r="2.8" fill="#ED7D31"/>
<circle cx="285.9" cy="429.3" r="2.8" fill="#ED7D31"/>
<circle cx="286.0" cy="414.5" r="2.8" fill="#ED7D31"/>
<circle cx="288.2" cy="408.9" r="2.8" fill="#ED7D31"/>
<circle cx="287.9" cy="411.0" r="2.8" fill="#ED7D31"/>
<circle cx="287.7" cy="427.2" r="2.8" fill="#ED7D31"/>
<circle cx="289.6" cy="413.8" r="2.8" fill="#ED7D31"/>
<circle cx="289.5" cy="405.3" r="2.8" fill="#ED7D31"/>
<circle cx="289.9" cy="425.0" r="2.8" fill="#ED7D31"/>
<circle cx="291.5" cy="429.1" r="2.8" fill="#ED7D31"/>
<circle cx="291.6" cy="420.9" r="2.8" fill="#ED7D31"/>
<circle cx="291.6" cy="420.9" r="2.8" fill="#ED7D31"/>
<circle cx="291.7" cy="416.5" r="2.8" fill="#ED7D31"/>
<circle cx="293.4" cy="426.8" r="2.8" fill="#ED7D31"/>
<circle cx="293.4" cy="407.9" r="2.8" fill="#ED7D31"/>
<circle cx="293.4" cy="414.1" r="2.8" fill="#ED7D31"/>
<circle cx="295.4" cy="403.6" r="2.8" fill="#ED7D31"/>
<circle cx="295.2" cy="417.4" r="2.8" fill="#ED7D31"/>
<circle cx="295.3" cy="403.9" r="2.8" fill="#ED7D31"/>
<circle cx="295.4" cy="417.8" r="2.8" fill="#ED7D31"/>
<circle cx="297.1" cy="408.8" r="2.8" fill="#ED7D31"/>
<circle cx="297.0" cy="409.0" r="2.8" fill="#ED7D31"/>
<circle cx="296.7" cy="414.3" r="2.8" fill="#ED7D31"/>
<circle cx="298.6" cy="411.0" r="2.8" fill="#ED7D31"/>
<circle cx="298.7" cy="424.0" r="2.8" fill="#ED7D31"/>
<circle cx="298.7" cy="418.5" r="2.8" fill="#ED7D31"/>
<circle cx="298.6" cy="415.4" r="2.8" fill="#ED7D31"/>
<circle cx="300.4" cy="429.7" r="2.8" fill="#ED7D31"/>
<circle cx="300.4" cy="404.4" r="2.8" fill="#ED7D31"/>
<circle cx="300.4" cy="412.3" r="2.8" fill="#ED7D31"/>
<circle cx="300.4" cy="428.1" r="2.8" fill="#ED7D31"/>
<circle cx="302.7" cy="426.2" r="2.8" fill="#ED7D31"/>
<circle cx="302.8" cy="399.8" r="2.8" fill="#ED7D31"/>
<circle cx="302.3" cy="412.8" r="2.8" fill="#ED7D31"/>
<circle cx="302.3" cy="407.5" r="2.8" fill="#ED7D31"/>
<circle cx="304.4" cy="405.4" r="2.8" fill="#ED7D31"/>
<circle cx="304.2" cy="400.5" r="2.8" fill="#ED7D31"/>
<circle cx="304.5" cy="407.9" r="2.8" fill="#ED7D31"/>
<circle cx="304.4" cy="413.6" r="2.8" fill="#ED7D31"/>
<circle cx="306.2" cy="420.7" r="2.8" fill="#ED7D31"/>
<circle cx="306.3" cy="407.2" r="2.8" fill="#ED7D31"/>
<circle cx="306.2" cy="412.6" r="2.8" fill="#ED7D31"/>
<circle cx="306.1" cy="424.6" r="2.8" fill="#ED7D31"/>
<circle cx="306.0" cy="414.1" r="2.8" fill="#ED7D31"/>
<circle cx="308.0" cy="429.1" r="2.8" fill="#ED7D31"/>
<circle cx="307.9" cy="424.5" r="2.8" fill="#ED7D31"/>
<circle cx="308.1" cy="408.2" r="2.8" fill="#ED7D31"/>
<circle cx="307.6" cy="433.0" r="2.8" fill="#ED7D31"/>
<circle cx="309.6" cy="422.6" r="2.8" fill="#ED7D31"/>
<circle cx="309.5" cy="432.1" r="2.8" fill="#ED7D31"/>
<circle cx="309.7" cy="411.4" r="2.8" fill="#ED7D31"/>
<circle cx="309.9" cy="404.4" r="2.8" fill="#ED7D31"/>
<circle cx="311.6" cy="430.5" r="2.8" fill="#ED7D31"/>
<circle cx="311.4" cy="405.3" r="2.8" fill="#ED7D31"/>
<circle cx="311.6" cy="432.4" r="2.8" fill="#ED7D31"/>
<circle cx="311.3" cy="425.6" r="2.8" fill="#ED7D31"/>
<circle cx="313.2" cy="425.3" r="2.8" fill="#ED7D31"/>
<circle cx="313.5" cy="431.5" r="2.8" fill="#ED7D31"/>
<circle cx="313.6" cy="429.7" r="2.8" fill="#ED7D31"/>
<circle cx="313.4" cy="422.8" r="2.8" fill="#ED7D31"/>
<circle cx="315.2" cy="424.9" r="2.8" fill="#ED7D31"/>
<circle cx="314.9" cy="413.5" r="2.8" fill="#ED7D31"/>
<circle cx="315.4" cy="419.7" r="2.8" fill="#ED7D31"/>
<circle cx="316.8" cy="409.3" r="2.8" fill="#ED7D31"/>
<circle cx="317.1" cy="419.9" r="2.8" fill="#ED7D31"/>
<circle cx="317.0" cy="425.8" r="2.8" fill="#ED7D31"/>
<circle cx="318.8" cy="409.9" r="2.8" fill="#ED7D31"/>
<circle cx="319.1" cy="420.9" r="2.8" fill="#ED7D31"/>
<circle cx="318.6" cy="424.5" r="2.8" fill="#ED7D31"/>
<circle cx="318.8" cy="425.5" r="2.8" fill="#ED7D31"/>
<circle cx="320.5" cy="415.1" r="2.8" fill="#ED7D31"/>
<circle cx="320.8" cy="413.1" r="2.8" fill="#ED7D31"/>
<circle cx="320.9" cy="416.6" r="2.8" fill="#ED7D31"/>
<circle cx="322.2" cy="414.9" r="2.8" fill="#ED7D31"/>
<circle cx="322.2" cy="423.3" r="2.8" fill="#ED7D31"/>
<circle cx="322.3" cy="416.9" r="2.8" fill="#ED7D31"/>
<circle cx="322.3" cy="418.1" r="2.8" fill="#ED7D31"/>
<circle cx="324.3" cy="428.6" r="2.8" fill="#ED7D31"/>
<circle cx="324.5" cy="426.1" r="2.8" fill="#ED7D31"/>
<circle cx="324.0" cy="409.4" r="2.8" fill="#ED7D31"/>
<circle cx="324.1" cy="429.9" r="2.8" fill="#ED7D31"/>
<circle cx="325.8" cy="427.6" r="2.8" fill="#ED7D31"/>
<circle cx="325.8" cy="406.0" r="2.8" fill="#ED7D31"/>
<circle cx="325.8" cy="417.3" r="2.8" fill="#ED7D31"/>
<circle cx="326.0" cy="412.3" r="2.8" fill="#ED7D31"/>
<circle cx="328.0" cy="411.0" r="2.8" fill="#ED7D31"/>
<circle cx="327.8" cy="415.0" r="2.8" fill="#ED7D31"/>
<circle cx="328.0" cy="423.0" r="2.8" fill="#ED7D31"/>
<circle cx="329.6" cy="400.7" r="2.8" fill="#ED7D31"/>
<circle cx="329.6" cy="422.4" r="2.8" fill="#ED7D31"/>
<circle cx="329.9" cy="411.6" r="2.8" fill="#ED7D31"/>
<circle cx="329.9" cy="405.1" r="2.8" fill="#ED7D31"/>
<circle cx="329.7" cy="413.8" r="2.8" fill="#ED7D31"/>
<circle cx="331.3" cy="414.6" r="2.8" fill="#ED7D31"/>
<circle cx="331.4" cy="420.7" r="2.8" fill="#ED7D31"/>
<circle cx="331.7" cy="408.1" r="2.8" fill="#ED7D31"/>
<circle cx="331.5" cy="408.9" r="2.8" fill="#ED7D31"/>
<circle cx="333.2" cy="402.6" r="2.8" fill="#ED7D31"/>
<circle cx="333.5" cy="404.8" r="2.8" fill="#ED7D31"/>
<circle cx="333.2" cy="406.3" r="2.8" fill="#ED7D31"/>
<circle cx="333.2" cy="420.7" r="2.8" fill="#ED7D31"/>
<circle cx="335.3" cy="402.1" r="2.8" fill="#ED7D31"/>
<circle cx="335.3" cy="413.7" r="2.8" fill="#ED7D31"/>
<circle cx="335.3" cy="427.6" r="2.8" fill="#ED7D31"/>
<circle cx="335.4" cy="416.8" r="2.8" fill="#ED7D31"/>
<circle cx="336.9" cy="422.7" r="2.8" fill="#ED7D31"/>
<circle cx="336.7" cy="413.6" r="2.8" fill="#ED7D31"/>
<circle cx="336.9" cy="399.0" r="2.8" fill="#ED7D31"/>
<circle cx="339.0" cy="405.0" r="2.8" fill="#ED7D31"/>
<circle cx="338.5" cy="415.5" r="2.8" fill="#ED7D31"/>
<circle cx="338.6" cy="410.2" r="2.8" fill="#ED7D31"/>
<circle cx="338.9" cy="422.0" r="2.8" fill="#ED7D31"/>
<circle cx="340.3" cy="410.0" r="2.8" fill="#ED7D31"/>
<circle cx="340.8" cy="402.0" r="2.8" fill="#ED7D31"/>
<circle cx="340.6" cy="415.6" r="2.8" fill="#ED7D31"/>
<circle cx="340.7" cy="421.9" r="2.8" fill="#ED7D31"/>
<circle cx="342.3" cy="411.9" r="2.8" fill="#ED7D31"/>
<circle cx="342.6" cy="408.3" r="2.8" fill="#ED7D31"/>
<circle cx="342.7" cy="426.7" r="2.8" fill="#ED7D31"/>
<circle cx="342.7" cy="420.0" r="2.8" fill="#ED7D31"/>
<circle cx="344.2" cy="402.6" r="2.8" fill="#ED7D31"/>
<circle cx="344.3" cy="405.4" r="2.8" fill="#ED7D31"/>
<circle cx="344.5" cy="410.0" r="2.8" fill="#ED7D31"/>
<circle cx="344.4" cy="416.1" r="2.8" fill="#ED7D31"/>
<circle cx="344.1" cy="407.9" r="2.8" fill="#ED7D31"/>
<circle cx="346.0" cy="396.4" r="2.8" fill="#ED7D31"/>
<circle cx="346.0" cy="399.9" r="2.8" fill="#ED7D31"/>
<circle cx="346.2" cy="420.0" r="2.8" fill="#ED7D31"/>
<circle cx="346.3" cy="404.8" r="2.8" fill="#ED7D31"/>
<circle cx="346.3" cy="412.7" r="2.8" fill="#ED7D31"/>
<circle cx="347.7" cy="395.8" r="2.8" fill="#ED7D31"/>
<circle cx="348.0" cy="417.0" r="2.8" fill="#ED7D31"/>
<circle cx="347.7" cy="424.4" r="2.8" fill="#ED7D31"/>
<circle cx="348.1" cy="411.3" r="2.8" fill="#ED7D31"/>
<circle cx="349.7" cy="403.6" r="2.8" fill="#ED7D31"/>
<circle cx="349.9" cy="422.3" r="2.8" fill="#ED7D31"/>
<circle cx="349.7" cy="422.7" r="2.8" fill="#ED7D31"/>
<circle cx="349.5" cy="412.0" r="2.8" fill="#ED7D31"/>
<circle cx="351.3" cy="401.9" r="2.8" fill="#ED7D31"/>
<circle cx="351.3" cy="403.7" r="2.8" fill="#ED7D31"/>
<circle cx="351.7" cy="402.2" r="2.8" fill="#ED7D31"/>
<circle cx="351.5" cy="391.0" r="2.8" fill="#ED7D31"/>
<circle cx="353.5" cy="406.5" r="2.8" fill="#ED7D31"/>
<circle cx="353.2" cy="388.6" r="2.8" fill="#ED7D31"/>
<circle cx="353.5" cy="390.4" r="2.8" fill="#ED7D31"/>
<circle cx="353.6" cy="400.6" r="2.8" fill="#ED7D31"/>
<circle cx="353.4" cy="422.9" r="2.8" fill="#ED7D31"/>
<circle cx="355.2" cy="399.9" r="2.8" fill="#ED7D31"/>
<circle cx="354.8" cy="421.3" r="2.8" fill="#ED7D31"/>
<circle cx="354.9" cy="394.1" r="2.8" fill="#ED7D31"/>
<circle cx="355.1" cy="400.3" r="2.8" fill="#ED7D31"/>
<circle cx="356.7" cy="409.8" r="2.8" fill="#ED7D31"/>
<circle cx="357.0" cy="401.2" r="2.8" fill="#ED7D31"/>
<circle cx="356.7" cy="395.8" r="2.8" fill="#ED7D31"/>
<circle cx="356.9" cy="390.6" r="2.8" fill="#ED7D31"/>
<circle cx="358.6" cy="415.8" r="2.8" fill="#ED7D31"/>
<circle cx="358.4" cy="404.8" r="2.8" fill="#ED7D31"/>
<circle cx="358.6" cy="393.9" r="2.8" fill="#ED7D31"/>
<circle cx="358.8" cy="401.8" r="2.8" fill="#ED7D31"/>
<circle cx="358.6" cy="404.4" r="2.8" fill="#ED7D31"/>
<circle cx="360.4" cy="416.0" r="2.8" fill="#ED7D31"/>
<circle cx="360.8" cy="416.9" r="2.8" fill="#ED7D31"/>
<circle cx="360.8" cy="412.2" r="2.8" fill="#ED7D31"/>
<circle cx="360.7" cy="405.5" r="2.8" fill="#ED7D31"/>
<circle cx="362.3" cy="395.6" r="2.8" fill="#ED7D31"/>
<circle cx="362.6" cy="396.1" r="2.8" fill="#ED7D31"/>
<circle cx="362.2" cy="416.4" r="2.8" fill="#ED7D31"/>
<circle cx="364.0" cy="399.2" r="2.8" fill="#ED7D31"/>
<circle cx="364.2" cy="412.3" r="2.8" fill="#ED7D31"/>
<circle cx="364.0" cy="398.0" r="2.8" fill="#ED7D31"/>
<circle cx="365.7" cy="401.9" r="2.8" fill="#ED7D31"/>
<circle cx="365.8" cy="417.7" r="2.8" fill="#ED7D31"/>
<circle cx="365.8" cy="404.5" r="2.8" fill="#ED7D31"/>
<circle cx="367.8" cy="415.2" r="2.8" fill="#ED7D31"/>
<circle cx="367.8" cy="415.7" r="2.8" fill="#ED7D31"/>
<circle cx="367.6" cy="407.8" r="2.8" fill="#ED7D31"/>
<circle cx="369.7" cy="394.7" r="2.8" fill="#ED7D31"/>
<circle cx="369.9" cy="396.3" r="2.8" fill="#ED7D31"/>
<circle cx="369.4" cy="415.5" r="2.8" fill="#ED7D31"/>
<circle cx="371.3" cy="401.2" r="2.8" fill="#ED7D31"/>
<circle cx="371.4" cy="415.0" r="2.8" fill="#ED7D31"/>
<circle cx="371.2" cy="415.7" r="2.8" fill="#ED7D31"/>
<circle cx="373.1" cy="410.0" r="2.8" fill="#ED7D31"/>
<circle cx="373.2" cy="412.2" r="2.8" fill="#ED7D31"/>
<circle cx="373.1" cy="413.9" r="2.8" fill="#ED7D31"/>
<circle cx="374.9" cy="393.7" r="2.8" fill="#ED7D31"/>
<circle cx="374.9" cy="403.4" r="2.8" fill="#ED7D31"/>
<circle cx="375.0" cy="409.0" r="2.8" fill="#ED7D31"/>
<circle cx="377.2" cy="394.6" r="2.8" fill="#ED7D31"/>
<circle cx="376.9" cy="405.5" r="2.8" fill="#ED7D31"/>
<circle cx="378.5" cy="398.4" r="2.8" fill="#ED7D31"/>
<circle cx="378.6" cy="392.7" r="2.8" fill="#ED7D31"/>
<circle cx="379.0" cy="395.5" r="2.8" fill="#ED7D31"/>
<circle cx="380.6" cy="395.5" r="2.8" fill="#ED7D31"/>
<circle cx="380.7" cy="412.9" r="2.8" fill="#ED7D31"/>
<circle cx="380.7" cy="393.0" r="2.8" fill="#ED7D31"/>
<circle cx="382.1" cy="405.9" r="2.8" fill="#ED7D31"/>
<circle cx="382.3" cy="402.7" r="2.8" fill="#ED7D31"/>
<circle cx="382.3" cy="392.8" r="2.8" fill="#ED7D31"/>
<circle cx="384.4" cy="403.2" r="2.8" fill="#ED7D31"/>
<circle cx="384.1" cy="407.4" r="2.8" fill="#ED7D31"/>
<circle cx="385.7" cy="388.1" r="2.8" fill="#ED7D31"/>
<circle cx="385.8" cy="400.0" r="2.8" fill="#ED7D31"/>
<circle cx="385.8" cy="394.9" r="2.8" fill="#ED7D31"/>
<circle cx="387.7" cy="394.0" r="2.8" fill="#ED7D31"/>
<circle cx="388.0" cy="406.8" r="2.8" fill="#ED7D31"/>
<circle cx="387.9" cy="408.6" r="2.8" fill="#ED7D31"/>
<circle cx="389.3" cy="397.2" r="2.8" fill="#ED7D31"/>
<circle cx="389.3" cy="403.2" r="2.8" fill="#ED7D31"/>
<circle cx="389.7" cy="404.0" r="2.8" fill="#ED7D31"/>
<circle cx="391.7" cy="400.3" r="2.8" fill="#ED7D31"/>
<circle cx="391.6" cy="409.7" r="2.8" fill="#ED7D31"/>
<circle cx="391.2" cy="393.0" r="2.8" fill="#ED7D31"/>
<circle cx="393.0" cy="391.6" r="2.8" fill="#ED7D31"/>
<circle cx="393.0" cy="391.1" r="2.8" fill="#ED7D31"/>
<circle cx="393.2" cy="407.8" r="2.8" fill="#ED7D31"/>
<circle cx="393.4" cy="402.1" r="2.8" fill="#ED7D31"/>
<circle cx="395.0" cy="411.4" r="2.8" fill="#ED7D31"/>
<circle cx="394.9" cy="392.3" r="2.8" fill="#ED7D31"/>
<circle cx="395.3" cy="397.2" r="2.8" fill="#ED7D31"/>
<circle cx="396.6" cy="393.6" r="2.8" fill="#ED7D31"/>
<circle cx="396.6" cy="399.4" r="2.8" fill="#ED7D31"/>
<circle cx="396.7" cy="392.4" r="2.8" fill="#ED7D31"/>
<circle cx="398.6" cy="400.1" r="2.8" fill="#ED7D31"/>
<circle cx="398.6" cy="393.3" r="2.8" fill="#ED7D31"/>
<circle cx="398.8" cy="395.5" r="2.8" fill="#ED7D31"/>
<circle cx="400.2" cy="406.7" r="2.8" fill="#ED7D31"/>
<circle cx="400.2" cy="402.5" r="2.8" fill="#ED7D31"/>
<circle cx="400.5" cy="408.2" r="2.8" fill="#ED7D31"/>
<circle cx="402.3" cy="396.8" r="2.8" fill="#ED7D31"/>
<circle cx="402.6" cy="393.3" r="2.8" fill="#ED7D31"/>
<circle cx="404.0" cy="404.2" r="2.8" fill="#ED7D31"/>
<circle cx="404.2" cy="403.3" r="2.8" fill="#ED7D31"/>
<circle cx="405.7" cy="405.9" r="2.8" fill="#ED7D31"/>
<circle cx="406.0" cy="401.1" r="2.8" fill="#ED7D31"/>
<circle cx="407.9" cy="408.7" r="2.8" fill="#ED7D31"/>
<circle cx="408.0" cy="395.9" r="2.8" fill="#ED7D31"/>
<circle cx="409.7" cy="396.5" r="2.8" fill="#ED7D31"/>
<circle cx="409.4" cy="401.8" r="2.8" fill="#ED7D31"/>
<circle cx="411.4" cy="401.3" r="2.8" fill="#ED7D31"/>
<circle cx="411.5" cy="406.3" r="2.8" fill="#ED7D31"/>
<circle cx="413.0" cy="407.4" r="2.8" fill="#ED7D31"/>
<circle cx="413.1" cy="403.5" r="2.8" fill="#ED7D31"/>
<circle cx="414.7" cy="400.6" r="2.8" fill="#ED7D31"/>
<circle cx="415.0" cy="408.6" r="2.8" fill="#ED7D31"/>
<circle cx="416.7" cy="403.7" r="2.8" fill="#ED7D31"/>
<circle cx="416.9" cy="404.6" r="2.8" fill="#ED7D31"/>
<circle cx="418.3" cy="401.6" r="2.8" fill="#ED7D31"/>
<circle cx="418.9" cy="401.1" r="2.8" fill="#ED7D31"/>
<circle cx="420.4" cy="398.0" r="2.8" fill="#ED7D31"/>
<circle cx="420.1" cy="397.1" r="2.8" fill="#ED7D31"/>
<circle cx="422.2" cy="404.7" r="2.8" fill="#ED7D31"/>
<circle cx="422.5" cy="401.0" r="2.8" fill="#ED7D31"/>
<circle cx="424.0" cy="402.4" r="2.8" fill="#ED7D31"/>
<circle cx="424.1" cy="402.6" r="2.8" fill="#ED7D31"/>
<circle cx="428.8" cy="390.7" r="2.8" fill="#ED7D31"/>
<circle cx="428.4" cy="387.6" r="2.8" fill="#ED7D31"/>
<circle cx="431.7" cy="398.5" r="2.8" fill="#ED7D31"/>
<circle cx="431.7" cy="402.0" r="2.8" fill="#ED7D31"/>
<circle cx="434.0" cy="403.6" r="2.8" fill="#ED7D31"/>
<circle cx="433.9" cy="406.2" r="2.8" fill="#ED7D31"/>
<circle cx="435.7" cy="391.1" r="2.8" fill="#ED7D31"/>
<circle cx="436.0" cy="397.5" r="2.8" fill="#ED7D31"/>
<circle cx="443.7" cy="392.4" r="2.8" fill="#ED7D31"/>
<circle cx="443.8" cy="396.1" r="2.8" fill="#ED7D31"/>
<circle cx="445.6" cy="395.6" r="2.8" fill="#ED7D31"/>
<circle cx="445.4" cy="405.3" r="2.8" fill="#ED7D31"/>
<circle cx="447.3" cy="403.2" r="2.8" fill="#ED7D31"/>
<circle cx="446.9" cy="388.9" r="2.8" fill="#ED7D31"/>
<circle cx="449.1" cy="402.0" r="2.8" fill="#ED7D31"/>
<circle cx="449.0" cy="398.5" r="2.8" fill="#ED7D31"/>
<circle cx="452.7" cy="396.3" r="2.8" fill="#ED7D31"/>
<circle cx="453.0" cy="400.9" r="2.8" fill="#ED7D31"/>
<circle cx="464.2" cy="392.3" r="2.8" fill="#ED7D31"/>
<circle cx="464.6" cy="392.6" r="2.8" fill="#ED7D31"/>
<circle cx="471.0" cy="392.2" r="2.8" fill="#ED7D31"/>
<circle cx="471.2" cy="393.2" r="2.8" fill="#ED7D31"/>
<circle cx="474.3" cy="398.6" r="2.8" fill="#ED7D31"/>
<circle cx="474.7" cy="396.3" r="2.8" fill="#ED7D31"/>
<circle cx="224.8" cy="417.1" r="2.8" fill="#ED7D31"/>
<circle cx="224.9" cy="415.9" r="2.8" fill="#ED7D31"/>
<circle cx="264.2" cy="398.9" r="2.8" fill="#ED7D31"/>
<circle cx="264.3" cy="400.0" r="2.8" fill="#ED7D31"/>
<circle cx="294.9" cy="438.2" r="2.8" fill="#ED7D31"/>
<circle cx="295.0" cy="443.0" r="2.8" fill="#ED7D31"/>
<circle cx="170.7" cy="440.8" r="2.8" fill="#ED7D31"/>
<circle cx="170.8" cy="439.5" r="2.8" fill="#ED7D31"/>
<circle cx="179.8" cy="462.8" r="2.8" fill="#ED7D31"/>
<circle cx="179.7" cy="462.1" r="2.8" fill="#ED7D31"/>
<circle cx="124.3" cy="463.0" r="2.8" fill="#7030A0"/>
<circle cx="126.3" cy="462.8" r="2.8" fill="#7030A0"/>
<circle cx="126.5" cy="462.8" r="2.8" fill="#7030A0"/>
<circle cx="128.1" cy="455.6" r="2.8" fill="#7030A0"/>
<circle cx="127.9" cy="460.9" r="2.8" fill="#7030A0"/>
<circle cx="130.0" cy="460.1" r="2.8" fill="#7030A0"/>
<circle cx="132.0" cy="455.0" r="2.8" fill="#7030A0"/>
<circle cx="133.4" cy="455.0" r="2.8" fill="#7030A0"/>
<circle cx="135.7" cy="463.7" r="2.8" fill="#7030A0"/>
<circle cx="135.6" cy="463.6" r="2.8" fill="#7030A0"/>
<circle cx="135.8" cy="457.9" r="2.8" fill="#7030A0"/>
<circle cx="137.5" cy="464.5" r="2.8" fill="#7030A0"/>
<circle cx="137.5" cy="459.1" r="2.8" fill="#7030A0"/>
<circle cx="139.0" cy="456.9" r="2.8" fill="#7030A0"/>
<circle cx="139.1" cy="461.9" r="2.8" fill="#7030A0"/>
<circle cx="139.1" cy="456.0" r="2.8" fill="#7030A0"/>
<circle cx="141.2" cy="455.5" r="2.8" fill="#7030A0"/>
<circle cx="140.8" cy="464.1" r="2.8" fill="#7030A0"/>
<circle cx="142.8" cy="456.1" r="2.8" fill="#7030A0"/>
<circle cx="143.0" cy="452.5" r="2.8" fill="#7030A0"/>
<circle cx="144.8" cy="447.9" r="2.8" fill="#7030A0"/>
<circle cx="144.4" cy="453.1" r="2.8" fill="#7030A0"/>
<circle cx="144.8" cy="459.1" r="2.8" fill="#7030A0"/>
<circle cx="146.3" cy="450.3" r="2.8" fill="#7030A0"/>
<circle cx="146.1" cy="455.5" r="2.8" fill="#7030A0"/>
<circle cx="148.3" cy="461.0" r="2.8" fill="#7030A0"/>
<circle cx="148.3" cy="460.5" r="2.8" fill="#7030A0"/>
<circle cx="148.3" cy="456.0" r="2.8" fill="#7030A0"/>
<circle cx="149.8" cy="453.9" r="2.8" fill="#7030A0"/>
<circle cx="149.8" cy="464.0" r="2.8" fill="#7030A0"/>
<circle cx="151.8" cy="454.5" r="2.8" fill="#7030A0"/>
<circle cx="152.0" cy="457.3" r="2.8" fill="#7030A0"/>
<circle cx="152.1" cy="454.6" r="2.8" fill="#7030A0"/>
<circle cx="153.7" cy="458.3" r="2.8" fill="#7030A0"/>
<circle cx="153.5" cy="451.5" r="2.8" fill="#7030A0"/>
<circle cx="153.6" cy="455.9" r="2.8" fill="#7030A0"/>
<circle cx="155.7" cy="454.3" r="2.8" fill="#7030A0"/>
<circle cx="155.5" cy="463.9" r="2.8" fill="#7030A0"/>
<circle cx="155.6" cy="449.2" r="2.8" fill="#7030A0"/>
<circle cx="157.4" cy="463.0" r="2.8" fill="#7030A0"/>
<circle cx="157.3" cy="446.6" r="2.8" fill="#7030A0"/>
<circle cx="157.2" cy="455.6" r="2.8" fill="#7030A0"/>
<circle cx="159.0" cy="463.4" r="2.8" fill="#7030A0"/>
<circle cx="159.0" cy="451.5" r="2.8" fill="#7030A0"/>
<circle cx="158.9" cy="447.2" r="2.8" fill="#7030A0"/>
<circle cx="160.7" cy="463.2" r="2.8" fill="#7030A0"/>
<circle cx="160.7" cy="451.9" r="2.8" fill="#7030A0"/>
<circle cx="161.0" cy="442.4" r="2.8" fill="#7030A0"/>
<circle cx="163.0" cy="447.1" r="2.8" fill="#7030A0"/>
<circle cx="163.0" cy="462.9" r="2.8" fill="#7030A0"/>
<circle cx="164.2" cy="449.4" r="2.8" fill="#7030A0"/>
<circle cx="164.4" cy="450.1" r="2.8" fill="#7030A0"/>
<circle cx="166.6" cy="458.5" r="2.8" fill="#7030A0"/>
<circle cx="166.5" cy="455.6" r="2.8" fill="#7030A0"/>
<circle cx="168.3" cy="450.1" r="2.8" fill="#7030A0"/>
<circle cx="168.2" cy="446.8" r="2.8" fill="#7030A0"/>
<circle cx="168.1" cy="453.0" r="2.8" fill="#7030A0"/>
<circle cx="170.2" cy="459.2" r="2.8" fill="#7030A0"/>
<circle cx="169.8" cy="461.3" r="2.8" fill="#7030A0"/>
<circle cx="169.7" cy="448.8" r="2.8" fill="#7030A0"/>
<circle cx="171.7" cy="446.8" r="2.8" fill="#7030A0"/>
<circle cx="172.0" cy="445.2" r="2.8" fill="#7030A0"/>
<circle cx="171.6" cy="458.4" r="2.8" fill="#7030A0"/>
<circle cx="173.3" cy="449.1" r="2.8" fill="#7030A0"/>
<circle cx="173.5" cy="447.3" r="2.8" fill="#7030A0"/>
<circle cx="173.7" cy="448.4" r="2.8" fill="#7030A0"/>
<circle cx="175.6" cy="445.9" r="2.8" fill="#7030A0"/>
<circle cx="175.3" cy="450.5" r="2.8" fill="#7030A0"/>
<circle cx="175.1" cy="443.2" r="2.8" fill="#7030A0"/>
<circle cx="177.3" cy="442.0" r="2.8" fill="#7030A0"/>
<circle cx="177.3" cy="441.4" r="2.8" fill="#7030A0"/>
<circle cx="179.0" cy="457.8" r="2.8" fill="#7030A0"/>
<circle cx="179.2" cy="450.3" r="2.8" fill="#7030A0"/>
<circle cx="180.9" cy="446.8" r="2.8" fill="#7030A0"/>
<circle cx="180.7" cy="439.7" r="2.8" fill="#7030A0"/>
<circle cx="182.6" cy="448.8" r="2.8" fill="#7030A0"/>
<circle cx="182.5" cy="439.5" r="2.8" fill="#7030A0"/>
<circle cx="184.4" cy="456.0" r="2.8" fill="#7030A0"/>
<circle cx="184.4" cy="450.1" r="2.8" fill="#7030A0"/>
<circle cx="184.4" cy="453.8" r="2.8" fill="#7030A0"/>
<circle cx="186.1" cy="447.1" r="2.8" fill="#7030A0"/>
<circle cx="186.4" cy="459.2" r="2.8" fill="#7030A0"/>
<circle cx="188.0" cy="447.4" r="2.8" fill="#7030A0"/>
<circle cx="187.8" cy="456.3" r="2.8" fill="#7030A0"/>
<circle cx="190.1" cy="452.7" r="2.8" fill="#7030A0"/>
<circle cx="189.9" cy="446.9" r="2.8" fill="#7030A0"/>
<circle cx="190.0" cy="452.5" r="2.8" fill="#7030A0"/>
<circle cx="191.7" cy="457.7" r="2.8" fill="#7030A0"/>
<circle cx="191.9" cy="449.2" r="2.8" fill="#7030A0"/>
<circle cx="191.9" cy="448.8" r="2.8" fill="#7030A0"/>
<circle cx="193.4" cy="455.4" r="2.8" fill="#7030A0"/>
<circle cx="193.8" cy="452.5" r="2.8" fill="#7030A0"/>
<circle cx="193.7" cy="453.4" r="2.8" fill="#7030A0"/>
<circle cx="195.1" cy="452.8" r="2.8" fill="#7030A0"/>
<circle cx="195.5" cy="447.1" r="2.8" fill="#7030A0"/>
<circle cx="195.4" cy="458.6" r="2.8" fill="#7030A0"/>
<circle cx="197.4" cy="449.1" r="2.8" fill="#7030A0"/>
<circle cx="197.3" cy="449.6" r="2.8" fill="#7030A0"/>
<circle cx="198.8" cy="447.5" r="2.8" fill="#7030A0"/>
<circle cx="199.0" cy="442.9" r="2.8" fill="#7030A0"/>
<circle cx="200.6" cy="452.6" r="2.8" fill="#7030A0"/>
<circle cx="200.8" cy="443.2" r="2.8" fill="#7030A0"/>
<circle cx="200.6" cy="449.5" r="2.8" fill="#7030A0"/>
<circle cx="202.8" cy="437.1" r="2.8" fill="#7030A0"/>
<circle cx="202.6" cy="433.8" r="2.8" fill="#7030A0"/>
<circle cx="202.5" cy="445.3" r="2.8" fill="#7030A0"/>
<circle cx="204.7" cy="439.5" r="2.8" fill="#7030A0"/>
<circle cx="204.2" cy="452.8" r="2.8" fill="#7030A0"/>
<circle cx="204.6" cy="437.9" r="2.8" fill="#7030A0"/>
<circle cx="206.2" cy="441.5" r="2.8" fill="#7030A0"/>
<circle cx="206.3" cy="444.1" r="2.8" fill="#7030A0"/>
<circle cx="206.3" cy="455.0" r="2.8" fill="#7030A0"/>
<circle cx="206.3" cy="439.0" r="2.8" fill="#7030A0"/>
<circle cx="208.3" cy="454.7" r="2.8" fill="#7030A0"/>
<circle cx="208.4" cy="440.3" r="2.8" fill="#7030A0"/>
<circle cx="208.0" cy="446.8" r="2.8" fill="#7030A0"/>
<circle cx="208.0" cy="440.5" r="2.8" fill="#7030A0"/>
<circle cx="209.8" cy="443.0" r="2.8" fill="#7030A0"/>
<circle cx="209.8" cy="434.5" r="2.8" fill="#7030A0"/>
<circle cx="210.1" cy="445.5" r="2.8" fill="#7030A0"/>
<circle cx="209.8" cy="443.8" r="2.8" fill="#7030A0"/>
<circle cx="211.5" cy="436.4" r="2.8" fill="#7030A0"/>
<circle cx="211.7" cy="424.0" r="2.8" fill="#7030A0"/>
<circle cx="211.7" cy="434.1" r="2.8" fill="#7030A0"/>
<circle cx="211.9" cy="453.2" r="2.8" fill="#7030A0"/>
<circle cx="213.2" cy="452.2" r="2.8" fill="#7030A0"/>
<circle cx="213.3" cy="443.1" r="2.8" fill="#7030A0"/>
<circle cx="213.6" cy="439.5" r="2.8" fill="#7030A0"/>
<circle cx="213.4" cy="436.5" r="2.8" fill="#7030A0"/>
<circle cx="215.2" cy="442.0" r="2.8" fill="#7030A0"/>
<circle cx="215.1" cy="430.5" r="2.8" fill="#7030A0"/>
<circle cx="215.2" cy="438.5" r="2.8" fill="#7030A0"/>
<circle cx="215.3" cy="430.4" r="2.8" fill="#7030A0"/>
<circle cx="216.9" cy="440.2" r="2.8" fill="#7030A0"/>
<circle cx="217.0" cy="423.3" r="2.8" fill="#7030A0"/>
<circle cx="217.2" cy="428.6" r="2.8" fill="#7030A0"/>
<circle cx="218.7" cy="449.1" r="2.8" fill="#7030A0"/>
<circle cx="219.2" cy="431.2" r="2.8" fill="#7030A0"/>
<circle cx="219.0" cy="430.4" r="2.8" fill="#7030A0"/>
<circle cx="219.2" cy="430.2" r="2.8" fill="#7030A0"/>
<circle cx="220.7" cy="446.8" r="2.8" fill="#7030A0"/>
<circle cx="220.6" cy="429.2" r="2.8" fill="#7030A0"/>
<circle cx="220.7" cy="444.2" r="2.8" fill="#7030A0"/>
<circle cx="220.6" cy="426.4" r="2.8" fill="#7030A0"/>
<circle cx="222.4" cy="426.0" r="2.8" fill="#7030A0"/>
<circle cx="222.8" cy="428.8" r="2.8" fill="#7030A0"/>
<circle cx="222.8" cy="441.9" r="2.8" fill="#7030A0"/>
<circle cx="224.3" cy="452.5" r="2.8" fill="#7030A0"/>
<circle cx="224.4" cy="428.2" r="2.8" fill="#7030A0"/>
<circle cx="224.2" cy="452.5" r="2.8" fill="#7030A0"/>
<circle cx="226.5" cy="434.5" r="2.8" fill="#7030A0"/>
<circle cx="226.0" cy="448.2" r="2.8" fill="#7030A0"/>
<circle cx="226.0" cy="441.5" r="2.8" fill="#7030A0"/>
<circle cx="227.9" cy="425.9" r="2.8" fill="#7030A0"/>
<circle cx="228.0" cy="429.1" r="2.8" fill="#7030A0"/>
<circle cx="227.9" cy="451.2" r="2.8" fill="#7030A0"/>
<circle cx="228.2" cy="447.2" r="2.8" fill="#7030A0"/>
<circle cx="229.6" cy="434.2" r="2.8" fill="#7030A0"/>
<circle cx="229.6" cy="437.0" r="2.8" fill="#7030A0"/>
<circle cx="229.7" cy="448.6" r="2.8" fill="#7030A0"/>
<circle cx="231.8" cy="440.6" r="2.8" fill="#7030A0"/>
<circle cx="231.7" cy="434.4" r="2.8" fill="#7030A0"/>
<circle cx="231.7" cy="426.2" r="2.8" fill="#7030A0"/>
<circle cx="233.2" cy="446.9" r="2.8" fill="#7030A0"/>
<circle cx="233.3" cy="431.6" r="2.8" fill="#7030A0"/>
<circle cx="233.6" cy="443.1" r="2.8" fill="#7030A0"/>
<circle cx="235.4" cy="432.6" r="2.8" fill="#7030A0"/>
<circle cx="235.4" cy="448.9" r="2.8" fill="#7030A0"/>
<circle cx="235.6" cy="448.0" r="2.8" fill="#7030A0"/>
<circle cx="235.3" cy="447.7" r="2.8" fill="#7030A0"/>
<circle cx="237.0" cy="434.7" r="2.8" fill="#7030A0"/>
<circle cx="236.8" cy="429.3" r="2.8" fill="#7030A0"/>
<circle cx="237.4" cy="431.9" r="2.8" fill="#7030A0"/>
<circle cx="238.8" cy="442.8" r="2.8" fill="#7030A0"/>
<circle cx="238.8" cy="440.6" r="2.8" fill="#7030A0"/>
<circle cx="239.1" cy="433.5" r="2.8" fill="#7030A0"/>
<circle cx="238.8" cy="434.7" r="2.8" fill="#7030A0"/>
<circle cx="240.7" cy="444.4" r="2.8" fill="#7030A0"/>
<circle cx="240.9" cy="431.9" r="2.8" fill="#7030A0"/>
<circle cx="240.9" cy="448.4" r="2.8" fill="#7030A0"/>
<circle cx="240.7" cy="445.8" r="2.8" fill="#7030A0"/>
<circle cx="242.3" cy="443.6" r="2.8" fill="#7030A0"/>
<circle cx="242.6" cy="436.9" r="2.8" fill="#7030A0"/>
<circle cx="242.4" cy="436.7" r="2.8" fill="#7030A0"/>
<circle cx="242.5" cy="444.8" r="2.8" fill="#7030A0"/>
<circle cx="244.2" cy="429.4" r="2.8" fill="#7030A0"/>
<circle cx="244.3" cy="429.6" r="2.8" fill="#7030A0"/>
<circle cx="244.3" cy="435.6" r="2.8" fill="#7030A0"/>
<circle cx="244.6" cy="437.6" r="2.8" fill="#7030A0"/>
<circle cx="246.1" cy="427.6" r="2.8" fill="#7030A0"/>
<circle cx="246.4" cy="440.8" r="2.8" fill="#7030A0"/>
<circle cx="246.3" cy="435.4" r="2.8" fill="#7030A0"/>
<circle cx="246.2" cy="444.9" r="2.8" fill="#7030A0"/>
<circle cx="248.2" cy="421.6" r="2.8" fill="#7030A0"/>
<circle cx="248.3" cy="428.7" r="2.8" fill="#7030A0"/>
<circle cx="247.8" cy="448.0" r="2.8" fill="#7030A0"/>
<circle cx="248.2" cy="437.3" r="2.8" fill="#7030A0"/>
<circle cx="250.0" cy="445.9" r="2.8" fill="#7030A0"/>
<circle cx="250.1" cy="428.1" r="2.8" fill="#7030A0"/>
<circle cx="249.5" cy="425.6" r="2.8" fill="#7030A0"/>
<circle cx="249.8" cy="430.3" r="2.8" fill="#7030A0"/>
<circle cx="251.6" cy="418.2" r="2.8" fill="#7030A0"/>
<circle cx="251.6" cy="447.0" r="2.8" fill="#7030A0"/>
<circle cx="251.9" cy="436.1" r="2.8" fill="#7030A0"/>
<circle cx="251.7" cy="422.0" r="2.8" fill="#7030A0"/>
<circle cx="253.3" cy="437.9" r="2.8" fill="#7030A0"/>
<circle cx="253.7" cy="436.3" r="2.8" fill="#7030A0"/>
<circle cx="253.5" cy="424.6" r="2.8" fill="#7030A0"/>
<circle cx="253.2" cy="428.9" r="2.8" fill="#7030A0"/>
<circle cx="253.5" cy="435.2" r="2.8" fill="#7030A0"/>
<circle cx="255.0" cy="447.7" r="2.8" fill="#7030A0"/>
<circle cx="255.5" cy="436.7" r="2.8" fill="#7030A0"/>
<circle cx="255.4" cy="419.5" r="2.8" fill="#7030A0"/>
<circle cx="255.5" cy="421.9" r="2.8" fill="#7030A0"/>
<circle cx="256.8" cy="440.0" r="2.8" fill="#7030A0"/>
<circle cx="257.1" cy="441.4" r="2.8" fill="#7030A0"/>
<circle cx="257.2" cy="433.4" r="2.8" fill="#7030A0"/>
<circle cx="257.4" cy="447.1" r="2.8" fill="#7030A0"/>
<circle cx="257.3" cy="423.1" r="2.8" fill="#7030A0"/>
<circle cx="258.6" cy="448.3" r="2.8" fill="#7030A0"/>
<circle cx="258.7" cy="429.7" r="2.8" fill="#7030A0"/>
<circle cx="258.8" cy="440.3" r="2.8" fill="#7030A0"/>
<circle cx="259.0" cy="420.7" r="2.8" fill="#7030A0"/>
<circle cx="258.6" cy="424.1" r="2.8" fill="#7030A0"/>
<circle cx="260.8" cy="445.7" r="2.8" fill="#7030A0"/>
<circle cx="260.7" cy="417.1" r="2.8" fill="#7030A0"/>
<circle cx="260.4" cy="433.7" r="2.8" fill="#7030A0"/>
<circle cx="260.8" cy="444.8" r="2.8" fill="#7030A0"/>
<circle cx="262.7" cy="431.8" r="2.8" fill="#7030A0"/>
<circle cx="262.7" cy="425.9" r="2.8" fill="#7030A0"/>
<circle cx="262.4" cy="446.5" r="2.8" fill="#7030A0"/>
<circle cx="262.4" cy="438.5" r="2.8" fill="#7030A0"/>
<circle cx="264.5" cy="427.1" r="2.8" fill="#7030A0"/>
<circle cx="264.4" cy="430.8" r="2.8" fill="#7030A0"/>
<circle cx="264.1" cy="420.0" r="2.8" fill="#7030A0"/>
<circle cx="266.0" cy="428.3" r="2.8" fill="#7030A0"/>
<circle cx="265.9" cy="435.8" r="2.8" fill="#7030A0"/>
<circle cx="266.4" cy="437.4" r="2.8" fill="#7030A0"/>
<circle cx="268.1" cy="441.0" r="2.8" fill="#7030A0"/>
<circle cx="267.8" cy="426.9" r="2.8" fill="#7030A0"/>
<circle cx="268.1" cy="442.5" r="2.8" fill="#7030A0"/>
<circle cx="269.8" cy="434.1" r="2.8" fill="#7030A0"/>
<circle cx="269.6" cy="434.3" r="2.8" fill="#7030A0"/>
<circle cx="270.0" cy="427.7" r="2.8" fill="#7030A0"/>
<circle cx="269.9" cy="428.8" r="2.8" fill="#7030A0"/>
<circle cx="271.6" cy="439.8" r="2.8" fill="#7030A0"/>
<circle cx="271.6" cy="435.0" r="2.8" fill="#7030A0"/>
<circle cx="271.5" cy="438.1" r="2.8" fill="#7030A0"/>
<circle cx="273.5" cy="420.0" r="2.8" fill="#7030A0"/>
<circle cx="273.3" cy="433.0" r="2.8" fill="#7030A0"/>
<circle cx="273.3" cy="417.6" r="2.8" fill="#7030A0"/>
<circle cx="275.0" cy="437.8" r="2.8" fill="#7030A0"/>
<circle cx="275.3" cy="427.4" r="2.8" fill="#7030A0"/>
<circle cx="277.3" cy="417.4" r="2.8" fill="#7030A0"/>
<circle cx="276.8" cy="436.2" r="2.8" fill="#7030A0"/>
<circle cx="277.0" cy="428.6" r="2.8" fill="#7030A0"/>
<circle cx="278.6" cy="432.1" r="2.8" fill="#7030A0"/>
<circle cx="279.0" cy="426.0" r="2.8" fill="#7030A0"/>
<circle cx="279.0" cy="425.1" r="2.8" fill="#7030A0"/>
<circle cx="280.7" cy="415.5" r="2.8" fill="#7030A0"/>
<circle cx="281.0" cy="424.9" r="2.8" fill="#7030A0"/>
<circle cx="280.9" cy="416.3" r="2.8" fill="#7030A0"/>
<circle cx="282.3" cy="424.7" r="2.8" fill="#7030A0"/>
<circle cx="282.4" cy="427.4" r="2.8" fill="#7030A0"/>
<circle cx="282.6" cy="421.6" r="2.8" fill="#7030A0"/>
<circle cx="284.6" cy="422.7" r="2.8" fill="#7030A0"/>
<circle cx="284.3" cy="422.2" r="2.8" fill="#7030A0"/>
<circle cx="284.1" cy="414.0" r="2.8" fill="#7030A0"/>
<circle cx="284.4" cy="427.7" r="2.8" fill="#7030A0"/>
<circle cx="286.2" cy="412.5" r="2.8" fill="#7030A0"/>
<circle cx="286.2" cy="430.8" r="2.8" fill="#7030A0"/>
<circle cx="286.0" cy="417.8" r="2.8" fill="#7030A0"/>
<circle cx="287.9" cy="406.9" r="2.8" fill="#7030A0"/>
<circle cx="288.0" cy="413.1" r="2.8" fill="#7030A0"/>
<circle cx="287.7" cy="429.7" r="2.8" fill="#7030A0"/>
<circle cx="289.7" cy="411.2" r="2.8" fill="#7030A0"/>
<circle cx="289.9" cy="406.5" r="2.8" fill="#7030A0"/>
<circle cx="289.5" cy="418.7" r="2.8" fill="#7030A0"/>
<circle cx="291.9" cy="428.3" r="2.8" fill="#7030A0"/>
<circle cx="291.6" cy="415.5" r="2.8" fill="#7030A0"/>
<circle cx="291.5" cy="427.0" r="2.8" fill="#7030A0"/>
<circle cx="291.7" cy="418.0" r="2.8" fill="#7030A0"/>
<circle cx="293.3" cy="430.3" r="2.8" fill="#7030A0"/>
<circle cx="293.5" cy="410.5" r="2.8" fill="#7030A0"/>
<circle cx="293.2" cy="419.7" r="2.8" fill="#7030A0"/>
<circle cx="295.2" cy="407.5" r="2.8" fill="#7030A0"/>
<circle cx="295.4" cy="417.9" r="2.8" fill="#7030A0"/>
<circle cx="295.4" cy="406.5" r="2.8" fill="#7030A0"/>
<circle cx="295.4" cy="415.7" r="2.8" fill="#7030A0"/>
<circle cx="296.9" cy="413.0" r="2.8" fill="#7030A0"/>
<circle cx="296.8" cy="410.9" r="2.8" fill="#7030A0"/>
<circle cx="297.1" cy="409.8" r="2.8" fill="#7030A0"/>
<circle cx="298.6" cy="416.2" r="2.8" fill="#7030A0"/>
<circle cx="298.6" cy="424.6" r="2.8" fill="#7030A0"/>
<circle cx="299.0" cy="419.3" r="2.8" fill="#7030A0"/>
<circle cx="298.7" cy="417.4" r="2.8" fill="#7030A0"/>
<circle cx="300.7" cy="435.1" r="2.8" fill="#7030A0"/>
<circle cx="300.5" cy="406.8" r="2.8" fill="#7030A0"/>
<circle cx="300.9" cy="405.8" r="2.8" fill="#7030A0"/>
<circle cx="300.7" cy="426.9" r="2.8" fill="#7030A0"/>
<circle cx="302.2" cy="425.0" r="2.8" fill="#7030A0"/>
<circle cx="302.6" cy="398.5" r="2.8" fill="#7030A0"/>
<circle cx="302.5" cy="411.7" r="2.8" fill="#7030A0"/>
<circle cx="302.7" cy="405.2" r="2.8" fill="#7030A0"/>
<circle cx="304.0" cy="407.5" r="2.8" fill="#7030A0"/>
<circle cx="304.4" cy="403.2" r="2.8" fill="#7030A0"/>
<circle cx="304.1" cy="412.6" r="2.8" fill="#7030A0"/>
<circle cx="304.3" cy="411.9" r="2.8" fill="#7030A0"/>
<circle cx="305.9" cy="418.2" r="2.8" fill="#7030A0"/>
<circle cx="306.3" cy="409.6" r="2.8" fill="#7030A0"/>
<circle cx="305.8" cy="405.3" r="2.8" fill="#7030A0"/>
<circle cx="306.3" cy="423.0" r="2.8" fill="#7030A0"/>
<circle cx="306.0" cy="410.7" r="2.8" fill="#7030A0"/>
<circle cx="308.2" cy="431.2" r="2.8" fill="#7030A0"/>
<circle cx="307.7" cy="422.3" r="2.8" fill="#7030A0"/>
<circle cx="308.2" cy="405.8" r="2.8" fill="#7030A0"/>
<circle cx="308.1" cy="433.7" r="2.8" fill="#7030A0"/>
<circle cx="309.9" cy="428.5" r="2.8" fill="#7030A0"/>
<circle cx="309.9" cy="432.5" r="2.8" fill="#7030A0"/>
<circle cx="309.9" cy="407.8" r="2.8" fill="#7030A0"/>
<circle cx="309.6" cy="407.6" r="2.8" fill="#7030A0"/>
<circle cx="311.7" cy="427.3" r="2.8" fill="#7030A0"/>
<circle cx="311.3" cy="407.1" r="2.8" fill="#7030A0"/>
<circle cx="311.7" cy="430.8" r="2.8" fill="#7030A0"/>
<circle cx="311.3" cy="428.1" r="2.8" fill="#7030A0"/>
<circle cx="313.5" cy="429.0" r="2.8" fill="#7030A0"/>
<circle cx="313.2" cy="434.0" r="2.8" fill="#7030A0"/>
<circle cx="313.4" cy="434.0" r="2.8" fill="#7030A0"/>
<circle cx="313.5" cy="422.6" r="2.8" fill="#7030A0"/>
<circle cx="315.2" cy="423.7" r="2.8" fill="#7030A0"/>
<circle cx="315.0" cy="409.7" r="2.8" fill="#7030A0"/>
<circle cx="315.3" cy="419.0" r="2.8" fill="#7030A0"/>
<circle cx="317.2" cy="407.9" r="2.8" fill="#7030A0"/>
<circle cx="316.8" cy="417.1" r="2.8" fill="#7030A0"/>
<circle cx="316.9" cy="421.8" r="2.8" fill="#7030A0"/>
<circle cx="318.6" cy="416.0" r="2.8" fill="#7030A0"/>
<circle cx="318.7" cy="419.7" r="2.8" fill="#7030A0"/>
<circle cx="319.1" cy="425.2" r="2.8" fill="#7030A0"/>
<circle cx="318.6" cy="427.8" r="2.8" fill="#7030A0"/>
<circle cx="320.4" cy="423.4" r="2.8" fill="#7030A0"/>
<circle cx="320.8" cy="418.8" r="2.8" fill="#7030A0"/>
<circle cx="320.5" cy="420.9" r="2.8" fill="#7030A0"/>
<circle cx="322.3" cy="411.1" r="2.8" fill="#7030A0"/>
<circle cx="322.1" cy="427.7" r="2.8" fill="#7030A0"/>
<circle cx="322.2" cy="408.5" r="2.8" fill="#7030A0"/>
<circle cx="322.5" cy="418.2" r="2.8" fill="#7030A0"/>
<circle cx="324.4" cy="428.8" r="2.8" fill="#7030A0"/>
<circle cx="324.3" cy="430.3" r="2.8" fill="#7030A0"/>
<circle cx="324.1" cy="407.4" r="2.8" fill="#7030A0"/>
<circle cx="324.3" cy="429.5" r="2.8" fill="#7030A0"/>
<circle cx="326.1" cy="426.3" r="2.8" fill="#7030A0"/>
<circle cx="326.1" cy="407.3" r="2.8" fill="#7030A0"/>
<circle cx="325.9" cy="421.0" r="2.8" fill="#7030A0"/>
<circle cx="325.8" cy="415.2" r="2.8" fill="#7030A0"/>
<circle cx="327.6" cy="404.6" r="2.8" fill="#7030A0"/>
<circle cx="327.7" cy="408.0" r="2.8" fill="#7030A0"/>
<circle cx="328.0" cy="424.3" r="2.8" fill="#7030A0"/>
<circle cx="329.9" cy="403.2" r="2.8" fill="#7030A0"/>
<circle cx="329.9" cy="417.7" r="2.8" fill="#7030A0"/>
<circle cx="329.6" cy="408.0" r="2.8" fill="#7030A0"/>
<circle cx="329.7" cy="405.5" r="2.8" fill="#7030A0"/>
<circle cx="329.8" cy="420.3" r="2.8" fill="#7030A0"/>
<circle cx="331.5" cy="421.1" r="2.8" fill="#7030A0"/>
<circle cx="331.7" cy="420.0" r="2.8" fill="#7030A0"/>
<circle cx="331.5" cy="405.4" r="2.8" fill="#7030A0"/>
<circle cx="331.3" cy="408.0" r="2.8" fill="#7030A0"/>
<circle cx="333.2" cy="408.0" r="2.8" fill="#7030A0"/>
<circle cx="333.6" cy="404.1" r="2.8" fill="#7030A0"/>
<circle cx="333.4" cy="412.2" r="2.8" fill="#7030A0"/>
<circle cx="333.1" cy="415.3" r="2.8" fill="#7030A0"/>
<circle cx="335.3" cy="405.0" r="2.8" fill="#7030A0"/>
<circle cx="334.9" cy="414.8" r="2.8" fill="#7030A0"/>
<circle cx="334.8" cy="425.4" r="2.8" fill="#7030A0"/>
<circle cx="335.3" cy="415.9" r="2.8" fill="#7030A0"/>
<circle cx="336.9" cy="425.5" r="2.8" fill="#7030A0"/>
<circle cx="336.8" cy="415.2" r="2.8" fill="#7030A0"/>
<circle cx="336.9" cy="405.3" r="2.8" fill="#7030A0"/>
<circle cx="338.5" cy="405.0" r="2.8" fill="#7030A0"/>
<circle cx="338.7" cy="413.4" r="2.8" fill="#7030A0"/>
<circle cx="339.0" cy="416.4" r="2.8" fill="#7030A0"/>
<circle cx="338.5" cy="426.4" r="2.8" fill="#7030A0"/>
<circle cx="340.4" cy="410.3" r="2.8" fill="#7030A0"/>
<circle cx="340.3" cy="402.2" r="2.8" fill="#7030A0"/>
<circle cx="340.4" cy="416.6" r="2.8" fill="#7030A0"/>
<circle cx="340.8" cy="424.3" r="2.8" fill="#7030A0"/>
<circle cx="342.1" cy="411.3" r="2.8" fill="#7030A0"/>
<circle cx="342.5" cy="405.7" r="2.8" fill="#7030A0"/>
<circle cx="342.2" cy="428.6" r="2.8" fill="#7030A0"/>
<circle cx="342.3" cy="423.6" r="2.8" fill="#7030A0"/>
<circle cx="344.4" cy="397.9" r="2.8" fill="#7030A0"/>
<circle cx="344.0" cy="408.9" r="2.8" fill="#7030A0"/>
<circle cx="344.4" cy="415.9" r="2.8" fill="#7030A0"/>
<circle cx="344.0" cy="417.5" r="2.8" fill="#7030A0"/>
<circle cx="344.4" cy="407.8" r="2.8" fill="#7030A0"/>
<circle cx="345.8" cy="396.1" r="2.8" fill="#7030A0"/>
<circle cx="346.0" cy="398.3" r="2.8" fill="#7030A0"/>
<circle cx="346.1" cy="419.3" r="2.8" fill="#7030A0"/>
<circle cx="345.8" cy="407.7" r="2.8" fill="#7030A0"/>
<circle cx="346.2" cy="416.3" r="2.8" fill="#7030A0"/>
<circle cx="347.9" cy="394.3" r="2.8" fill="#7030A0"/>
<circle cx="347.6" cy="416.5" r="2.8" fill="#7030A0"/>
<circle cx="347.9" cy="425.9" r="2.8" fill="#7030A0"/>
<circle cx="347.8" cy="412.1" r="2.8" fill="#7030A0"/>
<circle cx="349.4" cy="410.5" r="2.8" fill="#7030A0"/>
<circle cx="349.9" cy="422.8" r="2.8" fill="#7030A0"/>
<circle cx="349.4" cy="423.0" r="2.8" fill="#7030A0"/>
<circle cx="349.5" cy="405.4" r="2.8" fill="#7030A0"/>
<circle cx="351.4" cy="407.4" r="2.8" fill="#7030A0"/>
<circle cx="351.7" cy="402.7" r="2.8" fill="#7030A0"/>
<circle cx="351.8" cy="404.4" r="2.8" fill="#7030A0"/>
<circle cx="351.4" cy="393.4" r="2.8" fill="#7030A0"/>
<circle cx="353.2" cy="411.0" r="2.8" fill="#7030A0"/>
<circle cx="353.3" cy="390.7" r="2.8" fill="#7030A0"/>
<circle cx="353.0" cy="394.3" r="2.8" fill="#7030A0"/>
<circle cx="353.6" cy="405.2" r="2.8" fill="#7030A0"/>
<circle cx="353.4" cy="422.0" r="2.8" fill="#7030A0"/>
<circle cx="355.2" cy="398.9" r="2.8" fill="#7030A0"/>
<circle cx="355.1" cy="419.8" r="2.8" fill="#7030A0"/>
<circle cx="354.8" cy="397.7" r="2.8" fill="#7030A0"/>
<circle cx="355.3" cy="403.0" r="2.8" fill="#7030A0"/>
<circle cx="357.1" cy="417.8" r="2.8" fill="#7030A0"/>
<circle cx="356.7" cy="402.7" r="2.8" fill="#7030A0"/>
<circle cx="357.1" cy="399.2" r="2.8" fill="#7030A0"/>
<circle cx="356.8" cy="388.6" r="2.8" fill="#7030A0"/>
<circle cx="358.9" cy="415.1" r="2.8" fill="#7030A0"/>
<circle cx="358.6" cy="402.5" r="2.8" fill="#7030A0"/>
<circle cx="358.9" cy="392.9" r="2.8" fill="#7030A0"/>
<circle cx="358.4" cy="405.6" r="2.8" fill="#7030A0"/>
<circle cx="358.5" cy="393.7" r="2.8" fill="#7030A0"/>
<circle cx="360.3" cy="418.3" r="2.8" fill="#7030A0"/>
<circle cx="360.3" cy="421.8" r="2.8" fill="#7030A0"/>
<circle cx="360.3" cy="421.0" r="2.8" fill="#7030A0"/>
<circle cx="360.8" cy="406.2" r="2.8" fill="#7030A0"/>
<circle cx="362.4" cy="395.5" r="2.8" fill="#7030A0"/>
<circle cx="362.5" cy="395.8" r="2.8" fill="#7030A0"/>
<circle cx="362.1" cy="416.7" r="2.8" fill="#7030A0"/>
<circle cx="364.1" cy="401.6" r="2.8" fill="#7030A0"/>
<circle cx="364.2" cy="411.1" r="2.8" fill="#7030A0"/>
<circle cx="364.4" cy="403.9" r="2.8" fill="#7030A0"/>
<circle cx="365.7" cy="405.4" r="2.8" fill="#7030A0"/>
<circle cx="366.0" cy="415.9" r="2.8" fill="#7030A0"/>
<circle cx="365.8" cy="410.1" r="2.8" fill="#7030A0"/>
<circle cx="368.0" cy="419.2" r="2.8" fill="#7030A0"/>
<circle cx="367.5" cy="419.2" r="2.8" fill="#7030A0"/>
<circle cx="367.9" cy="409.0" r="2.8" fill="#7030A0"/>
<circle cx="369.7" cy="395.5" r="2.8" fill="#7030A0"/>
<circle cx="369.8" cy="395.8" r="2.8" fill="#7030A0"/>
<circle cx="369.6" cy="418.0" r="2.8" fill="#7030A0"/>
<circle cx="371.3" cy="401.8" r="2.8" fill="#7030A0"/>
<circle cx="371.4" cy="410.6" r="2.8" fill="#7030A0"/>
<circle cx="371.5" cy="414.5" r="2.8" fill="#7030A0"/>
<circle cx="373.4" cy="409.7" r="2.8" fill="#7030A0"/>
<circle cx="373.3" cy="415.8" r="2.8" fill="#7030A0"/>
<circle cx="373.2" cy="409.6" r="2.8" fill="#7030A0"/>
<circle cx="375.1" cy="393.4" r="2.8" fill="#7030A0"/>
<circle cx="375.0" cy="405.6" r="2.8" fill="#7030A0"/>
<circle cx="375.3" cy="411.3" r="2.8" fill="#7030A0"/>
<circle cx="377.1" cy="402.2" r="2.8" fill="#7030A0"/>
<circle cx="376.9" cy="407.4" r="2.8" fill="#7030A0"/>
<circle cx="378.4" cy="397.5" r="2.8" fill="#7030A0"/>
<circle cx="378.9" cy="397.5" r="2.8" fill="#7030A0"/>
<circle cx="378.4" cy="392.5" r="2.8" fill="#7030A0"/>
<circle cx="380.4" cy="395.4" r="2.8" fill="#7030A0"/>
<circle cx="380.4" cy="412.9" r="2.8" fill="#7030A0"/>
<circle cx="380.6" cy="393.2" r="2.8" fill="#7030A0"/>
<circle cx="382.5" cy="401.1" r="2.8" fill="#7030A0"/>
<circle cx="382.4" cy="401.3" r="2.8" fill="#7030A0"/>
<circle cx="382.3" cy="395.1" r="2.8" fill="#7030A0"/>
<circle cx="383.9" cy="400.2" r="2.8" fill="#7030A0"/>
<circle cx="383.9" cy="401.8" r="2.8" fill="#7030A0"/>
<circle cx="385.7" cy="391.8" r="2.8" fill="#7030A0"/>
<circle cx="385.8" cy="402.3" r="2.8" fill="#7030A0"/>
<circle cx="386.0" cy="397.6" r="2.8" fill="#7030A0"/>
<circle cx="387.6" cy="397.3" r="2.8" fill="#7030A0"/>
<circle cx="388.0" cy="406.4" r="2.8" fill="#7030A0"/>
<circle cx="387.8" cy="407.0" r="2.8" fill="#7030A0"/>
<circle cx="389.3" cy="398.0" r="2.8" fill="#7030A0"/>
<circle cx="389.9" cy="404.9" r="2.8" fill="#7030A0"/>
<circle cx="389.4" cy="402.6" r="2.8" fill="#7030A0"/>
<circle cx="391.3" cy="400.7" r="2.8" fill="#7030A0"/>
<circle cx="391.4" cy="408.7" r="2.8" fill="#7030A0"/>
<circle cx="391.6" cy="387.7" r="2.8" fill="#7030A0"/>
<circle cx="393.4" cy="395.8" r="2.8" fill="#7030A0"/>
<circle cx="393.3" cy="392.2" r="2.8" fill="#7030A0"/>
<circle cx="393.1" cy="410.5" r="2.8" fill="#7030A0"/>
<circle cx="393.3" cy="397.2" r="2.8" fill="#7030A0"/>
<circle cx="394.9" cy="412.2" r="2.8" fill="#7030A0"/>
<circle cx="394.8" cy="394.5" r="2.8" fill="#7030A0"/>
<circle cx="394.8" cy="393.5" r="2.8" fill="#7030A0"/>
<circle cx="397.1" cy="394.7" r="2.8" fill="#7030A0"/>
<circle cx="397.0" cy="400.9" r="2.8" fill="#7030A0"/>
<circle cx="397.0" cy="399.7" r="2.8" fill="#7030A0"/>
<circle cx="398.5" cy="398.9" r="2.8" fill="#7030A0"/>
<circle cx="398.6" cy="397.6" r="2.8" fill="#7030A0"/>
<circle cx="398.8" cy="394.9" r="2.8" fill="#7030A0"/>
<circle cx="400.4" cy="408.8" r="2.8" fill="#7030A0"/>
<circle cx="400.3" cy="403.9" r="2.8" fill="#7030A0"/>
<circle cx="400.2" cy="408.8" r="2.8" fill="#7030A0"/>
<circle cx="402.4" cy="395.6" r="2.8" fill="#7030A0"/>
<circle cx="402.5" cy="392.7" r="2.8" fill="#7030A0"/>
<circle cx="404.2" cy="406.5" r="2.8" fill="#7030A0"/>
<circle cx="404.1" cy="403.2" r="2.8" fill="#7030A0"/>
<circle cx="406.1" cy="407.7" r="2.8" fill="#7030A0"/>
<circle cx="406.0" cy="401.0" r="2.8" fill="#7030A0"/>
<circle cx="407.9" cy="405.1" r="2.8" fill="#7030A0"/>
<circle cx="407.7" cy="400.4" r="2.8" fill="#7030A0"/>
<circle cx="409.4" cy="402.6" r="2.8" fill="#7030A0"/>
<circle cx="409.6" cy="405.1" r="2.8" fill="#7030A0"/>
<circle cx="411.5" cy="397.4" r="2.8" fill="#7030A0"/>
<circle cx="411.4" cy="406.2" r="2.8" fill="#7030A0"/>
<circle cx="413.3" cy="411.6" r="2.8" fill="#7030A0"/>
<circle cx="413.3" cy="407.0" r="2.8" fill="#7030A0"/>
<circle cx="415.0" cy="398.9" r="2.8" fill="#7030A0"/>
<circle cx="415.0" cy="410.1" r="2.8" fill="#7030A0"/>
<circle cx="417.1" cy="404.5" r="2.8" fill="#7030A0"/>
<circle cx="416.7" cy="406.8" r="2.8" fill="#7030A0"/>
<circle cx="418.6" cy="404.7" r="2.8" fill="#7030A0"/>
<circle cx="418.4" cy="404.1" r="2.8" fill="#7030A0"/>
<circle cx="420.5" cy="401.6" r="2.8" fill="#7030A0"/>
<circle cx="420.5" cy="397.8" r="2.8" fill="#7030A0"/>
<circle cx="422.5" cy="401.0" r="2.8" fill="#7030A0"/>
<circle cx="422.4" cy="404.6" r="2.8" fill="#7030A0"/>
<circle cx="424.2" cy="403.4" r="2.8" fill="#7030A0"/>
<circle cx="424.2" cy="408.0" r="2.8" fill="#7030A0"/>
<circle cx="428.5" cy="395.7" r="2.8" fill="#7030A0"/>
<circle cx="428.8" cy="395.2" r="2.8" fill="#7030A0"/>
<circle cx="432.0" cy="403.3" r="2.8" fill="#7030A0"/>
<circle cx="431.8" cy="399.7" r="2.8" fill="#7030A0"/>
<circle cx="434.3" cy="405.4" r="2.8" fill="#7030A0"/>
<circle cx="433.9" cy="406.3" r="2.8" fill="#7030A0"/>
<circle cx="436.3" cy="392.5" r="2.8" fill="#7030A0"/>
<circle cx="435.9" cy="394.7" r="2.8" fill="#7030A0"/>
<circle cx="443.3" cy="395.6" r="2.8" fill="#7030A0"/>
<circle cx="443.3" cy="399.2" r="2.8" fill="#7030A0"/>
<circle cx="445.2" cy="393.7" r="2.8" fill="#7030A0"/>
<circle cx="445.4" cy="401.8" r="2.8" fill="#7030A0"/>
<circle cx="447.1" cy="405.7" r="2.8" fill="#7030A0"/>
<circle cx="447.0" cy="391.7" r="2.8" fill="#7030A0"/>
<circle cx="449.2" cy="406.0" r="2.8" fill="#7030A0"/>
<circle cx="448.9" cy="398.3" r="2.8" fill="#7030A0"/>
<circle cx="452.6" cy="402.3" r="2.8" fill="#7030A0"/>
<circle cx="452.5" cy="399.6" r="2.8" fill="#7030A0"/>
<circle cx="464.2" cy="395.7" r="2.8" fill="#7030A0"/>
<circle cx="464.1" cy="395.4" r="2.8" fill="#7030A0"/>
<circle cx="470.6" cy="395.7" r="2.8" fill="#7030A0"/>
<circle cx="470.8" cy="395.2" r="2.8" fill="#7030A0"/>
<circle cx="474.6" cy="395.8" r="2.8" fill="#7030A0"/>
<circle cx="474.5" cy="394.7" r="2.8" fill="#7030A0"/>
<circle cx="224.9" cy="419.6" r="2.8" fill="#7030A0"/>
<circle cx="225.0" cy="416.3" r="2.8" fill="#7030A0"/>
<circle cx="264.3" cy="399.0" r="2.8" fill="#7030A0"/>
<circle cx="264.1" cy="401.9" r="2.8" fill="#7030A0"/>
<circle cx="294.5" cy="438.0" r="2.8" fill="#7030A0"/>
<circle cx="294.6" cy="444.9" r="2.8" fill="#7030A0"/>
<circle cx="170.7" cy="442.0" r="2.8" fill="#7030A0"/>
<circle cx="170.8" cy="440.8" r="2.8" fill="#7030A0"/>
<circle cx="179.4" cy="465.0" r="2.8" fill="#7030A0"/>
<circle cx="179.4" cy="462.0" r="2.8" fill="#7030A0"/>
<circle cx="124.6" cy="458.6" r="2.8" fill="#FFC000"/>
<circle cx="126.6" cy="460.6" r="2.8" fill="#FFC000"/>
<circle cx="126.3" cy="467.5" r="2.8" fill="#FFC000"/>
<circle cx="128.3" cy="455.6" r="2.8" fill="#FFC000"/>
<circle cx="128.2" cy="465.1" r="2.8" fill="#FFC000"/>
<circle cx="130.3" cy="461.6" r="2.8" fill="#FFC000"/>
<circle cx="131.6" cy="456.0" r="2.8" fill="#FFC000"/>
<circle cx="133.6" cy="450.8" r="2.8" fill="#FFC000"/>
<circle cx="135.3" cy="464.7" r="2.8" fill="#FFC000"/>
<circle cx="135.4" cy="456.2" r="2.8" fill="#FFC000"/>
<circle cx="135.4" cy="461.0" r="2.8" fill="#FFC000"/>
<circle cx="137.5" cy="463.0" r="2.8" fill="#FFC000"/>
<circle cx="137.1" cy="458.9" r="2.8" fill="#FFC000"/>
<circle cx="139.0" cy="456.3" r="2.8" fill="#FFC000"/>
<circle cx="138.9" cy="459.8" r="2.8" fill="#FFC000"/>
<circle cx="139.1" cy="460.2" r="2.8" fill="#FFC000"/>
<circle cx="141.1" cy="457.6" r="2.8" fill="#FFC000"/>
<circle cx="141.2" cy="453.7" r="2.8" fill="#FFC000"/>
<circle cx="142.7" cy="451.2" r="2.8" fill="#FFC000"/>
<circle cx="142.8" cy="452.0" r="2.8" fill="#FFC000"/>
<circle cx="144.4" cy="451.1" r="2.8" fill="#FFC000"/>
<circle cx="144.3" cy="451.4" r="2.8" fill="#FFC000"/>
<circle cx="144.7" cy="453.5" r="2.8" fill="#FFC000"/>
<circle cx="146.2" cy="450.5" r="2.8" fill="#FFC000"/>
<circle cx="146.2" cy="455.8" r="2.8" fill="#FFC000"/>
<circle cx="148.3" cy="456.5" r="2.8" fill="#FFC000"/>
<circle cx="148.0" cy="451.0" r="2.8" fill="#FFC000"/>
<circle cx="147.9" cy="457.0" r="2.8" fill="#FFC000"/>
<circle cx="149.9" cy="450.9" r="2.8" fill="#FFC000"/>
<circle cx="150.3" cy="461.8" r="2.8" fill="#FFC000"/>
<circle cx="152.0" cy="453.0" r="2.8" fill="#FFC000"/>
<circle cx="151.6" cy="449.8" r="2.8" fill="#FFC000"/>
<circle cx="151.7" cy="448.3" r="2.8" fill="#FFC000"/>
<circle cx="153.5" cy="462.2" r="2.8" fill="#FFC000"/>
<circle cx="153.9" cy="449.8" r="2.8" fill="#FFC000"/>
<circle cx="153.6" cy="445.7" r="2.8" fill="#FFC000"/>
<circle cx="155.7" cy="461.6" r="2.8" fill="#FFC000"/>
<circle cx="155.6" cy="461.2" r="2.8" fill="#FFC000"/>
<circle cx="155.2" cy="451.6" r="2.8" fill="#FFC000"/>
<circle cx="157.1" cy="463.7" r="2.8" fill="#FFC000"/>
<circle cx="157.1" cy="443.0" r="2.8" fill="#FFC000"/>
<circle cx="157.1" cy="450.8" r="2.8" fill="#FFC000"/>
<circle cx="159.0" cy="460.5" r="2.8" fill="#FFC000"/>
<circle cx="159.3" cy="446.9" r="2.8" fill="#FFC000"/>
<circle cx="159.3" cy="442.7" r="2.8" fill="#FFC000"/>
<circle cx="160.8" cy="458.5" r="2.8" fill="#FFC000"/>
<circle cx="160.6" cy="453.2" r="2.8" fill="#FFC000"/>
<circle cx="161.0" cy="445.7" r="2.8" fill="#FFC000"/>
<circle cx="162.7" cy="449.0" r="2.8" fill="#FFC000"/>
<circle cx="162.6" cy="457.9" r="2.8" fill="#FFC000"/>
<circle cx="164.4" cy="446.1" r="2.8" fill="#FFC000"/>
<circle cx="164.4" cy="445.1" r="2.8" fill="#FFC000"/>
<circle cx="166.3" cy="451.4" r="2.8" fill="#FFC000"/>
<circle cx="166.6" cy="452.9" r="2.8" fill="#FFC000"/>
<circle cx="168.0" cy="456.1" r="2.8" fill="#FFC000"/>
<circle cx="168.2" cy="444.4" r="2.8" fill="#FFC000"/>
<circle cx="167.9" cy="452.8" r="2.8" fill="#FFC000"/>
<circle cx="170.3" cy="454.5" r="2.8" fill="#FFC000"/>
<circle cx="170.2" cy="461.5" r="2.8" fill="#FFC000"/>
<circle cx="170.0" cy="449.0" r="2.8" fill="#FFC000"/>
<circle cx="171.6" cy="452.0" r="2.8" fill="#FFC000"/>
<circle cx="171.6" cy="447.6" r="2.8" fill="#FFC000"/>
<circle cx="171.6" cy="457.3" r="2.8" fill="#FFC000"/>
<circle cx="173.6" cy="454.0" r="2.8" fill="#FFC000"/>
<circle cx="173.3" cy="446.2" r="2.8" fill="#FFC000"/>
<circle cx="173.8" cy="453.4" r="2.8" fill="#FFC000"/>
<circle cx="175.3" cy="440.4" r="2.8" fill="#FFC000"/>
<circle cx="175.2" cy="444.0" r="2.8" fill="#FFC000"/>
<circle cx="175.5" cy="440.4" r="2.8" fill="#FFC000"/>
<circle cx="177.1" cy="440.2" r="2.8" fill="#FFC000"/>
<circle cx="176.9" cy="444.5" r="2.8" fill="#FFC000"/>
<circle cx="179.0" cy="454.8" r="2.8" fill="#FFC000"/>
<circle cx="179.2" cy="446.1" r="2.8" fill="#FFC000"/>
<circle cx="181.0" cy="447.7" r="2.8" fill="#FFC000"/>
<circle cx="180.7" cy="443.7" r="2.8" fill="#FFC000"/>
<circle cx="183.0" cy="444.5" r="2.8" fill="#FFC000"/>
<circle cx="182.7" cy="439.5" r="2.8" fill="#FFC000"/>
<circle cx="184.6" cy="452.5" r="2.8" fill="#FFC000"/>
<circle cx="184.5" cy="445.4" r="2.8" fill="#FFC000"/>
<circle cx="184.8" cy="445.8" r="2.8" fill="#FFC000"/>
<circle cx="186.4" cy="448.1" r="2.8" fill="#FFC000"/>
<circle cx="186.5" cy="453.2" r="2.8" fill="#FFC000"/>
<circle cx="188.0" cy="442.4" r="2.8" fill="#FFC000"/>
<circle cx="188.4" cy="453.6" r="2.8" fill="#FFC000"/>
<circle cx="190.1" cy="446.7" r="2.8" fill="#FFC000"/>
<circle cx="190.0" cy="445.4" r="2.8" fill="#FFC000"/>
<circle cx="190.2" cy="446.7" r="2.8" fill="#FFC000"/>
<circle cx="191.8" cy="458.0" r="2.8" fill="#FFC000"/>
<circle cx="191.5" cy="447.7" r="2.8" fill="#FFC000"/>
<circle cx="191.8" cy="446.1" r="2.8" fill="#FFC000"/>
<circle cx="193.5" cy="453.9" r="2.8" fill="#FFC000"/>
<circle cx="193.8" cy="456.0" r="2.8" fill="#FFC000"/>
<circle cx="193.4" cy="450.9" r="2.8" fill="#FFC000"/>
<circle cx="195.5" cy="449.8" r="2.8" fill="#FFC000"/>
<circle cx="195.5" cy="440.4" r="2.8" fill="#FFC000"/>
<circle cx="195.3" cy="454.5" r="2.8" fill="#FFC000"/>
<circle cx="197.4" cy="442.8" r="2.8" fill="#FFC000"/>
<circle cx="197.2" cy="451.4" r="2.8" fill="#FFC000"/>
<circle cx="198.8" cy="445.3" r="2.8" fill="#FFC000"/>
<circle cx="198.7" cy="440.7" r="2.8" fill="#FFC000"/>
<circle cx="200.6" cy="451.5" r="2.8" fill="#FFC000"/>
<circle cx="200.8" cy="434.9" r="2.8" fill="#FFC000"/>
<circle cx="200.6" cy="444.0" r="2.8" fill="#FFC000"/>
<circle cx="202.5" cy="434.2" r="2.8" fill="#FFC000"/>
<circle cx="202.7" cy="439.7" r="2.8" fill="#FFC000"/>
<circle cx="202.9" cy="444.5" r="2.8" fill="#FFC000"/>
<circle cx="204.2" cy="436.6" r="2.8" fill="#FFC000"/>
<circle cx="204.3" cy="453.9" r="2.8" fill="#FFC000"/>
<circle cx="204.4" cy="436.2" r="2.8" fill="#FFC000"/>
<circle cx="206.3" cy="441.6" r="2.8" fill="#FFC000"/>
<circle cx="206.3" cy="430.1" r="2.8" fill="#FFC000"/>
<circle cx="206.3" cy="448.9" r="2.8" fill="#FFC000"/>
<circle cx="206.4" cy="433.8" r="2.8" fill="#FFC000"/>
<circle cx="208.3" cy="446.0" r="2.8" fill="#FFC000"/>
<circle cx="208.2" cy="436.3" r="2.8" fill="#FFC000"/>
<circle cx="208.4" cy="448.4" r="2.8" fill="#FFC000"/>
<circle cx="207.9" cy="442.1" r="2.8" fill="#FFC000"/>
<circle cx="209.9" cy="443.9" r="2.8" fill="#FFC000"/>
<circle cx="209.9" cy="433.3" r="2.8" fill="#FFC000"/>
<circle cx="209.9" cy="437.5" r="2.8" fill="#FFC000"/>
<circle cx="209.9" cy="435.0" r="2.8" fill="#FFC000"/>
<circle cx="212.0" cy="435.2" r="2.8" fill="#FFC000"/>
<circle cx="211.7" cy="424.0" r="2.8" fill="#FFC000"/>
<circle cx="211.7" cy="424.0" r="2.8" fill="#FFC000"/>
<circle cx="211.7" cy="437.1" r="2.8" fill="#FFC000"/>
<circle cx="213.4" cy="454.0" r="2.8" fill="#FFC000"/>
<circle cx="213.3" cy="442.6" r="2.8" fill="#FFC000"/>
<circle cx="213.4" cy="436.1" r="2.8" fill="#FFC000"/>
<circle cx="213.6" cy="425.7" r="2.8" fill="#FFC000"/>
<circle cx="215.4" cy="444.9" r="2.8" fill="#FFC000"/>
<circle cx="215.5" cy="426.6" r="2.8" fill="#FFC000"/>
<circle cx="215.3" cy="431.2" r="2.8" fill="#FFC000"/>
<circle cx="215.4" cy="434.4" r="2.8" fill="#FFC000"/>
<circle cx="217.3" cy="440.7" r="2.8" fill="#FFC000"/>
<circle cx="217.4" cy="423.3" r="2.8" fill="#FFC000"/>
<circle cx="217.0" cy="424.2" r="2.8" fill="#FFC000"/>
<circle cx="219.1" cy="445.1" r="2.8" fill="#FFC000"/>
<circle cx="219.0" cy="425.0" r="2.8" fill="#FFC000"/>
<circle cx="218.8" cy="423.4" r="2.8" fill="#FFC000"/>
<circle cx="218.8" cy="431.5" r="2.8" fill="#FFC000"/>
<circle cx="220.6" cy="445.1" r="2.8" fill="#FFC000"/>
<circle cx="220.8" cy="423.5" r="2.8" fill="#FFC000"/>
<circle cx="220.6" cy="434.1" r="2.8" fill="#FFC000"/>
<circle cx="220.5" cy="432.5" r="2.8" fill="#FFC000"/>
<circle cx="222.3" cy="434.0" r="2.8" fill="#FFC000"/>
<circle cx="222.8" cy="432.3" r="2.8" fill="#FFC000"/>
<circle cx="222.3" cy="434.1" r="2.8" fill="#FFC000"/>
<circle cx="224.5" cy="449.4" r="2.8" fill="#FFC000"/>
<circle cx="224.3" cy="429.7" r="2.8" fill="#FFC000"/>
<circle cx="224.6" cy="445.9" r="2.8" fill="#FFC000"/>
<circle cx="226.3" cy="429.1" r="2.8" fill="#FFC000"/>
<circle cx="226.3" cy="439.2" r="2.8" fill="#FFC000"/>
<circle cx="226.3" cy="438.7" r="2.8" fill="#FFC000"/>
<circle cx="228.2" cy="423.7" r="2.8" fill="#FFC000"/>
<circle cx="228.0" cy="425.3" r="2.8" fill="#FFC000"/>
<circle cx="228.1" cy="452.0" r="2.8" fill="#FFC000"/>
<circle cx="227.9" cy="433.7" r="2.8" fill="#FFC000"/>
<circle cx="229.6" cy="434.5" r="2.8" fill="#FFC000"/>
<circle cx="229.7" cy="428.7" r="2.8" fill="#FFC000"/>
<circle cx="229.8" cy="451.8" r="2.8" fill="#FFC000"/>
<circle cx="231.9" cy="442.3" r="2.8" fill="#FFC000"/>
<circle cx="231.4" cy="432.1" r="2.8" fill="#FFC000"/>
<circle cx="231.7" cy="428.9" r="2.8" fill="#FFC000"/>
<circle cx="233.5" cy="442.2" r="2.8" fill="#FFC000"/>
<circle cx="233.3" cy="425.1" r="2.8" fill="#FFC000"/>
<circle cx="233.2" cy="438.4" r="2.8" fill="#FFC000"/>
<circle cx="235.2" cy="434.2" r="2.8" fill="#FFC000"/>
<circle cx="235.3" cy="448.4" r="2.8" fill="#FFC000"/>
<circle cx="235.1" cy="444.9" r="2.8" fill="#FFC000"/>
<circle cx="235.1" cy="444.5" r="2.8" fill="#FFC000"/>
<circle cx="237.1" cy="433.6" r="2.8" fill="#FFC000"/>
<circle cx="237.2" cy="428.2" r="2.8" fill="#FFC000"/>
<circle cx="236.8" cy="431.8" r="2.8" fill="#FFC000"/>
<circle cx="239.2" cy="438.9" r="2.8" fill="#FFC000"/>
<circle cx="239.0" cy="438.0" r="2.8" fill="#FFC000"/>
<circle cx="238.8" cy="433.9" r="2.8" fill="#FFC000"/>
<circle cx="239.1" cy="433.8" r="2.8" fill="#FFC000"/>
<circle cx="240.7" cy="444.9" r="2.8" fill="#FFC000"/>
<circle cx="240.8" cy="431.8" r="2.8" fill="#FFC000"/>
<circle cx="240.7" cy="450.4" r="2.8" fill="#FFC000"/>
<circle cx="241.0" cy="438.5" r="2.8" fill="#FFC000"/>
<circle cx="242.3" cy="439.1" r="2.8" fill="#FFC000"/>
<circle cx="242.3" cy="435.1" r="2.8" fill="#FFC000"/>
<circle cx="242.3" cy="430.6" r="2.8" fill="#FFC000"/>
<circle cx="242.4" cy="447.9" r="2.8" fill="#FFC000"/>
<circle cx="244.6" cy="425.2" r="2.8" fill="#FFC000"/>
<circle cx="244.5" cy="422.7" r="2.8" fill="#FFC000"/>
<circle cx="244.6" cy="435.6" r="2.8" fill="#FFC000"/>
<circle cx="244.2" cy="434.1" r="2.8" fill="#FFC000"/>
<circle cx="246.4" cy="424.6" r="2.8" fill="#FFC000"/>
<circle cx="246.1" cy="436.1" r="2.8" fill="#FFC000"/>
<circle cx="246.0" cy="437.2" r="2.8" fill="#FFC000"/>
<circle cx="246.2" cy="444.4" r="2.8" fill="#FFC000"/>
<circle cx="247.8" cy="420.4" r="2.8" fill="#FFC000"/>
<circle cx="247.7" cy="430.7" r="2.8" fill="#FFC000"/>
<circle cx="247.9" cy="440.6" r="2.8" fill="#FFC000"/>
<circle cx="248.2" cy="438.0" r="2.8" fill="#FFC000"/>
<circle cx="250.0" cy="444.0" r="2.8" fill="#FFC000"/>
<circle cx="249.9" cy="429.3" r="2.8" fill="#FFC000"/>
<circle cx="249.8" cy="418.6" r="2.8" fill="#FFC000"/>
<circle cx="249.9" cy="433.7" r="2.8" fill="#FFC000"/>
<circle cx="251.9" cy="423.1" r="2.8" fill="#FFC000"/>
<circle cx="251.9" cy="438.9" r="2.8" fill="#FFC000"/>
<circle cx="251.4" cy="436.3" r="2.8" fill="#FFC000"/>
<circle cx="251.4" cy="420.6" r="2.8" fill="#FFC000"/>
<circle cx="253.3" cy="431.3" r="2.8" fill="#FFC000"/>
<circle cx="253.3" cy="445.6" r="2.8" fill="#FFC000"/>
<circle cx="253.6" cy="429.5" r="2.8" fill="#FFC000"/>
<circle cx="253.7" cy="432.7" r="2.8" fill="#FFC000"/>
<circle cx="253.6" cy="430.2" r="2.8" fill="#FFC000"/>
<circle cx="255.2" cy="445.7" r="2.8" fill="#FFC000"/>
<circle cx="255.4" cy="440.5" r="2.8" fill="#FFC000"/>
<circle cx="255.6" cy="418.2" r="2.8" fill="#FFC000"/>
<circle cx="255.0" cy="418.1" r="2.8" fill="#FFC000"/>
<circle cx="257.2" cy="440.4" r="2.8" fill="#FFC000"/>
<circle cx="257.2" cy="440.6" r="2.8" fill="#FFC000"/>
<circle cx="257.4" cy="435.6" r="2.8" fill="#FFC000"/>
<circle cx="257.0" cy="446.5" r="2.8" fill="#FFC000"/>
<circle cx="256.9" cy="415.7" r="2.8" fill="#FFC000"/>
<circle cx="258.7" cy="443.6" r="2.8" fill="#FFC000"/>
<circle cx="258.7" cy="431.8" r="2.8" fill="#FFC000"/>
<circle cx="259.0" cy="435.8" r="2.8" fill="#FFC000"/>
<circle cx="259.0" cy="415.8" r="2.8" fill="#FFC000"/>
<circle cx="259.1" cy="423.6" r="2.8" fill="#FFC000"/>
<circle cx="260.8" cy="437.8" r="2.8" fill="#FFC000"/>
<circle cx="260.5" cy="416.0" r="2.8" fill="#FFC000"/>
<circle cx="260.5" cy="425.2" r="2.8" fill="#FFC000"/>
<circle cx="260.9" cy="441.5" r="2.8" fill="#FFC000"/>
<circle cx="262.8" cy="422.1" r="2.8" fill="#FFC000"/>
<circle cx="262.4" cy="424.3" r="2.8" fill="#FFC000"/>
<circle cx="262.8" cy="443.4" r="2.8" fill="#FFC000"/>
<circle cx="262.8" cy="434.4" r="2.8" fill="#FFC000"/>
<circle cx="264.2" cy="422.8" r="2.8" fill="#FFC000"/>
<circle cx="264.2" cy="419.9" r="2.8" fill="#FFC000"/>
<circle cx="264.1" cy="418.3" r="2.8" fill="#FFC000"/>
<circle cx="266.0" cy="433.5" r="2.8" fill="#FFC000"/>
<circle cx="265.9" cy="439.1" r="2.8" fill="#FFC000"/>
<circle cx="266.4" cy="437.7" r="2.8" fill="#FFC000"/>
<circle cx="267.9" cy="441.4" r="2.8" fill="#FFC000"/>
<circle cx="268.2" cy="424.6" r="2.8" fill="#FFC000"/>
<circle cx="268.0" cy="440.4" r="2.8" fill="#FFC000"/>
<circle cx="269.6" cy="441.1" r="2.8" fill="#FFC000"/>
<circle cx="269.6" cy="434.0" r="2.8" fill="#FFC000"/>
<circle cx="270.1" cy="418.4" r="2.8" fill="#FFC000"/>
<circle cx="269.8" cy="417.8" r="2.8" fill="#FFC000"/>
<circle cx="271.7" cy="440.3" r="2.8" fill="#FFC000"/>
<circle cx="271.9" cy="429.4" r="2.8" fill="#FFC000"/>
<circle cx="271.6" cy="434.4" r="2.8" fill="#FFC000"/>
<circle cx="273.5" cy="417.4" r="2.8" fill="#FFC000"/>
<circle cx="273.2" cy="433.9" r="2.8" fill="#FFC000"/>
<circle cx="273.4" cy="420.5" r="2.8" fill="#FFC000"/>
<circle cx="275.0" cy="429.8" r="2.8" fill="#FFC000"/>
<circle cx="275.0" cy="424.0" r="2.8" fill="#FFC000"/>
<circle cx="276.9" cy="416.7" r="2.8" fill="#FFC000"/>
<circle cx="276.8" cy="434.5" r="2.8" fill="#FFC000"/>
<circle cx="277.0" cy="425.9" r="2.8" fill="#FFC000"/>
<circle cx="279.2" cy="428.9" r="2.8" fill="#FFC000"/>
<circle cx="278.6" cy="421.9" r="2.8" fill="#FFC000"/>
<circle cx="279.1" cy="422.6" r="2.8" fill="#FFC000"/>
<circle cx="281.0" cy="415.6" r="2.8" fill="#FFC000"/>
<circle cx="280.6" cy="422.7" r="2.8" fill="#FFC000"/>
<circle cx="280.9" cy="411.1" r="2.8" fill="#FFC000"/>
<circle cx="282.8" cy="412.7" r="2.8" fill="#FFC000"/>
<circle cx="282.2" cy="426.4" r="2.8" fill="#FFC000"/>
<circle cx="282.4" cy="426.7" r="2.8" fill="#FFC000"/>
<circle cx="284.0" cy="419.0" r="2.8" fill="#FFC000"/>
<circle cx="284.2" cy="405.4" r="2.8" fill="#FFC000"/>
<circle cx="284.6" cy="414.1" r="2.8" fill="#FFC000"/>
<circle cx="284.5" cy="426.0" r="2.8" fill="#FFC000"/>
<circle cx="286.4" cy="411.6" r="2.8" fill="#FFC000"/>
<circle cx="285.9" cy="429.0" r="2.8" fill="#FFC000"/>
<circle cx="286.1" cy="414.7" r="2.8" fill="#FFC000"/>
<circle cx="287.9" cy="408.5" r="2.8" fill="#FFC000"/>
<circle cx="288.1" cy="415.9" r="2.8" fill="#FFC000"/>
<circle cx="287.8" cy="422.1" r="2.8" fill="#FFC000"/>
<circle cx="290.0" cy="413.2" r="2.8" fill="#FFC000"/>
<circle cx="290.0" cy="410.0" r="2.8" fill="#FFC000"/>
<circle cx="289.5" cy="417.3" r="2.8" fill="#FFC000"/>
<circle cx="291.9" cy="428.3" r="2.8" fill="#FFC000"/>
<circle cx="291.5" cy="420.9" r="2.8" fill="#FFC000"/>
<circle cx="291.7" cy="419.2" r="2.8" fill="#FFC000"/>
<circle cx="291.5" cy="403.4" r="2.8" fill="#FFC000"/>
<circle cx="293.6" cy="423.3" r="2.8" fill="#FFC000"/>
<circle cx="293.3" cy="405.9" r="2.8" fill="#FFC000"/>
<circle cx="293.5" cy="417.4" r="2.8" fill="#FFC000"/>
<circle cx="295.3" cy="402.5" r="2.8" fill="#FFC000"/>
<circle cx="295.0" cy="412.2" r="2.8" fill="#FFC000"/>
<circle cx="295.5" cy="407.4" r="2.8" fill="#FFC000"/>
<circle cx="295.1" cy="413.5" r="2.8" fill="#FFC000"/>
<circle cx="297.3" cy="404.4" r="2.8" fill="#FFC000"/>
<circle cx="297.2" cy="411.3" r="2.8" fill="#FFC000"/>
<circle cx="297.2" cy="416.6" r="2.8" fill="#FFC000"/>
<circle cx="299.0" cy="400.9" r="2.8" fill="#FFC000"/>
<circle cx="298.6" cy="418.6" r="2.8" fill="#FFC000"/>
<circle cx="298.7" cy="414.0" r="2.8" fill="#FFC000"/>
<circle cx="298.6" cy="414.3" r="2.8" fill="#FFC000"/>
<circle cx="300.4" cy="434.1" r="2.8" fill="#FFC000"/>
<circle cx="300.6" cy="403.9" r="2.8" fill="#FFC000"/>
<circle cx="300.4" cy="409.1" r="2.8" fill="#FFC000"/>
<circle cx="300.9" cy="421.2" r="2.8" fill="#FFC000"/>
<circle cx="302.6" cy="422.8" r="2.8" fill="#FFC000"/>
<circle cx="302.7" cy="404.6" r="2.8" fill="#FFC000"/>
<circle cx="302.4" cy="413.8" r="2.8" fill="#FFC000"/>
<circle cx="302.4" cy="409.7" r="2.8" fill="#FFC000"/>
<circle cx="304.2" cy="403.1" r="2.8" fill="#FFC000"/>
<circle cx="304.5" cy="405.1" r="2.8" fill="#FFC000"/>
<circle cx="304.4" cy="405.2" r="2.8" fill="#FFC000"/>
<circle cx="304.1" cy="416.2" r="2.8" fill="#FFC000"/>
<circle cx="305.9" cy="416.0" r="2.8" fill="#FFC000"/>
<circle cx="306.1" cy="403.6" r="2.8" fill="#FFC000"/>
<circle cx="306.1" cy="415.5" r="2.8" fill="#FFC000"/>
<circle cx="305.9" cy="423.4" r="2.8" fill="#FFC000"/>
<circle cx="306.0" cy="416.8" r="2.8" fill="#FFC000"/>
<circle cx="308.0" cy="427.0" r="2.8" fill="#FFC000"/>
<circle cx="307.9" cy="425.2" r="2.8" fill="#FFC000"/>
<circle cx="308.1" cy="408.3" r="2.8" fill="#FFC000"/>
<circle cx="308.0" cy="426.2" r="2.8" fill="#FFC000"/>
<circle cx="310.0" cy="416.6" r="2.8" fill="#FFC000"/>
<circle cx="309.7" cy="427.3" r="2.8" fill="#FFC000"/>
<circle cx="309.9" cy="405.9" r="2.8" fill="#FFC000"/>
<circle cx="309.9" cy="408.7" r="2.8" fill="#FFC000"/>
<circle cx="311.4" cy="424.5" r="2.8" fill="#FFC000"/>
<circle cx="311.3" cy="400.2" r="2.8" fill="#FFC000"/>
<circle cx="311.4" cy="429.6" r="2.8" fill="#FFC000"/>
<circle cx="311.4" cy="416.2" r="2.8" fill="#FFC000"/>
<circle cx="313.6" cy="426.2" r="2.8" fill="#FFC000"/>
<circle cx="313.3" cy="426.3" r="2.8" fill="#FFC000"/>
<circle cx="313.6" cy="427.7" r="2.8" fill="#FFC000"/>
<circle cx="313.2" cy="422.4" r="2.8" fill="#FFC000"/>
<circle cx="315.0" cy="423.3" r="2.8" fill="#FFC000"/>
<circle cx="315.1" cy="415.2" r="2.8" fill="#FFC000"/>
<circle cx="314.9" cy="422.1" r="2.8" fill="#FFC000"/>
<circle cx="316.9" cy="406.7" r="2.8" fill="#FFC000"/>
<circle cx="317.0" cy="415.7" r="2.8" fill="#FFC000"/>
<circle cx="316.9" cy="423.9" r="2.8" fill="#FFC000"/>
<circle cx="318.7" cy="411.5" r="2.8" fill="#FFC000"/>
<circle cx="318.9" cy="421.9" r="2.8" fill="#FFC000"/>
<circle cx="319.0" cy="417.3" r="2.8" fill="#FFC000"/>
<circle cx="318.6" cy="427.6" r="2.8" fill="#FFC000"/>
<circle cx="320.5" cy="413.2" r="2.8" fill="#FFC000"/>
<circle cx="320.7" cy="412.2" r="2.8" fill="#FFC000"/>
<circle cx="320.9" cy="412.7" r="2.8" fill="#FFC000"/>
<circle cx="322.5" cy="408.2" r="2.8" fill="#FFC000"/>
<circle cx="322.4" cy="424.0" r="2.8" fill="#FFC000"/>
<circle cx="322.3" cy="406.5" r="2.8" fill="#FFC000"/>
<circle cx="322.4" cy="415.5" r="2.8" fill="#FFC000"/>
<circle cx="324.5" cy="430.3" r="2.8" fill="#FFC000"/>
<circle cx="324.4" cy="426.3" r="2.8" fill="#FFC000"/>
<circle cx="324.2" cy="402.9" r="2.8" fill="#FFC000"/>
<circle cx="324.4" cy="424.2" r="2.8" fill="#FFC000"/>
<circle cx="325.8" cy="430.0" r="2.8" fill="#FFC000"/>
<circle cx="326.3" cy="398.3" r="2.8" fill="#FFC000"/>
<circle cx="326.2" cy="408.7" r="2.8" fill="#FFC000"/>
<circle cx="326.2" cy="409.9" r="2.8" fill="#FFC000"/>
<circle cx="327.8" cy="405.4" r="2.8" fill="#FFC000"/>
<circle cx="327.7" cy="408.1" r="2.8" fill="#FFC000"/>
<circle cx="327.8" cy="414.2" r="2.8" fill="#FFC000"/>
<circle cx="329.9" cy="399.9" r="2.8" fill="#FFC000"/>
<circle cx="330.0" cy="420.8" r="2.8" fill="#FFC000"/>
<circle cx="329.5" cy="406.2" r="2.8" fill="#FFC000"/>
<circle cx="329.4" cy="408.0" r="2.8" fill="#FFC000"/>
<circle cx="329.6" cy="414.1" r="2.8" fill="#FFC000"/>
<circle cx="331.6" cy="413.2" r="2.8" fill="#FFC000"/>
<circle cx="331.5" cy="414.7" r="2.8" fill="#FFC000"/>
<circle cx="331.2" cy="405.8" r="2.8" fill="#FFC000"/>
<circle cx="331.4" cy="406.1" r="2.8" fill="#FFC000"/>
<circle cx="333.5" cy="396.6" r="2.8" fill="#FFC000"/>
<circle cx="333.2" cy="402.2" r="2.8" fill="#FFC000"/>
<circle cx="333.3" cy="401.9" r="2.8" fill="#FFC000"/>
<circle cx="333.4" cy="417.1" r="2.8" fill="#FFC000"/>
<circle cx="335.1" cy="402.7" r="2.8" fill="#FFC000"/>
<circle cx="335.4" cy="407.4" r="2.8" fill="#FFC000"/>
<circle cx="335.1" cy="428.1" r="2.8" fill="#FFC000"/>
<circle cx="335.0" cy="418.8" r="2.8" fill="#FFC000"/>
<circle cx="336.7" cy="422.5" r="2.8" fill="#FFC000"/>
<circle cx="336.8" cy="407.8" r="2.8" fill="#FFC000"/>
<circle cx="337.2" cy="397.8" r="2.8" fill="#FFC000"/>
<circle cx="338.9" cy="402.5" r="2.8" fill="#FFC000"/>
<circle cx="338.8" cy="415.3" r="2.8" fill="#FFC000"/>
<circle cx="338.6" cy="408.5" r="2.8" fill="#FFC000"/>
<circle cx="338.8" cy="414.7" r="2.8" fill="#FFC000"/>
<circle cx="340.8" cy="408.5" r="2.8" fill="#FFC000"/>
<circle cx="340.5" cy="405.8" r="2.8" fill="#FFC000"/>
<circle cx="340.4" cy="420.9" r="2.8" fill="#FFC000"/>
<circle cx="340.4" cy="417.0" r="2.8" fill="#FFC000"/>
<circle cx="342.5" cy="406.3" r="2.8" fill="#FFC000"/>
<circle cx="342.2" cy="398.2" r="2.8" fill="#FFC000"/>
<circle cx="342.5" cy="429.4" r="2.8" fill="#FFC000"/>
<circle cx="342.2" cy="418.4" r="2.8" fill="#FFC000"/>
<circle cx="344.2" cy="398.0" r="2.8" fill="#FFC000"/>
<circle cx="344.3" cy="402.0" r="2.8" fill="#FFC000"/>
<circle cx="344.2" cy="402.9" r="2.8" fill="#FFC000"/>
<circle cx="344.4" cy="410.9" r="2.8" fill="#FFC000"/>
<circle cx="344.4" cy="402.9" r="2.8" fill="#FFC000"/>
<circle cx="346.3" cy="398.7" r="2.8" fill="#FFC000"/>
<circle cx="346.3" cy="396.1" r="2.8" fill="#FFC000"/>
<circle cx="346.2" cy="414.5" r="2.8" fill="#FFC000"/>
<circle cx="345.8" cy="404.8" r="2.8" fill="#FFC000"/>
<circle cx="345.8" cy="407.5" r="2.8" fill="#FFC000"/>
<circle cx="347.7" cy="393.7" r="2.8" fill="#FFC000"/>
<circle cx="347.7" cy="408.8" r="2.8" fill="#FFC000"/>
<circle cx="348.0" cy="427.4" r="2.8" fill="#FFC000"/>
<circle cx="347.9" cy="414.3" r="2.8" fill="#FFC000"/>
<circle cx="349.8" cy="406.8" r="2.8" fill="#FFC000"/>
<circle cx="349.6" cy="415.6" r="2.8" fill="#FFC000"/>
<circle cx="349.8" cy="420.7" r="2.8" fill="#FFC000"/>
<circle cx="349.4" cy="404.8" r="2.8" fill="#FFC000"/>
<circle cx="351.7" cy="404.3" r="2.8" fill="#FFC000"/>
<circle cx="351.8" cy="404.8" r="2.8" fill="#FFC000"/>
<circle cx="351.2" cy="404.1" r="2.8" fill="#FFC000"/>
<circle cx="351.7" cy="395.7" r="2.8" fill="#FFC000"/>
<circle cx="353.3" cy="408.2" r="2.8" fill="#FFC000"/>
<circle cx="353.0" cy="396.6" r="2.8" fill="#FFC000"/>
<circle cx="353.5" cy="391.7" r="2.8" fill="#FFC000"/>
<circle cx="353.0" cy="393.6" r="2.8" fill="#FFC000"/>
<circle cx="353.4" cy="423.7" r="2.8" fill="#FFC000"/>
<circle cx="355.3" cy="396.2" r="2.8" fill="#FFC000"/>
<circle cx="355.3" cy="422.6" r="2.8" fill="#FFC000"/>
<circle cx="355.0" cy="392.1" r="2.8" fill="#FFC000"/>
<circle cx="355.1" cy="398.2" r="2.8" fill="#FFC000"/>
<circle cx="357.2" cy="410.2" r="2.8" fill="#FFC000"/>
<circle cx="357.1" cy="403.2" r="2.8" fill="#FFC000"/>
<circle cx="357.0" cy="395.7" r="2.8" fill="#FFC000"/>
<circle cx="356.9" cy="397.0" r="2.8" fill="#FFC000"/>
<circle cx="358.7" cy="409.6" r="2.8" fill="#FFC000"/>
<circle cx="358.5" cy="404.4" r="2.8" fill="#FFC000"/>
<circle cx="358.7" cy="394.4" r="2.8" fill="#FFC000"/>
<circle cx="359.0" cy="399.0" r="2.8" fill="#FFC000"/>
<circle cx="358.6" cy="400.3" r="2.8" fill="#FFC000"/>
<circle cx="360.3" cy="416.9" r="2.8" fill="#FFC000"/>
<circle cx="360.8" cy="415.5" r="2.8" fill="#FFC000"/>
<circle cx="360.5" cy="406.0" r="2.8" fill="#FFC000"/>
<circle cx="360.2" cy="405.3" r="2.8" fill="#FFC000"/>
<circle cx="362.4" cy="392.2" r="2.8" fill="#FFC000"/>
<circle cx="362.5" cy="391.7" r="2.8" fill="#FFC000"/>
<circle cx="362.5" cy="421.2" r="2.8" fill="#FFC000"/>
<circle cx="364.4" cy="393.7" r="2.8" fill="#FFC000"/>
<circle cx="364.1" cy="408.0" r="2.8" fill="#FFC000"/>
<circle cx="364.0" cy="393.2" r="2.8" fill="#FFC000"/>
<circle cx="366.1" cy="405.0" r="2.8" fill="#FFC000"/>
<circle cx="366.2" cy="413.0" r="2.8" fill="#FFC000"/>
<circle cx="366.1" cy="401.9" r="2.8" fill="#FFC000"/>
<circle cx="367.6" cy="412.2" r="2.8" fill="#FFC000"/>
<circle cx="367.9" cy="412.9" r="2.8" fill="#FFC000"/>
<circle cx="367.5" cy="407.9" r="2.8" fill="#FFC000"/>
<circle cx="369.4" cy="394.7" r="2.8" fill="#FFC000"/>
<circle cx="369.5" cy="394.7" r="2.8" fill="#FFC000"/>
<circle cx="369.6" cy="408.4" r="2.8" fill="#FFC000"/>
<circle cx="371.2" cy="400.5" r="2.8" fill="#FFC000"/>
<circle cx="371.7" cy="413.9" r="2.8" fill="#FFC000"/>
<circle cx="371.6" cy="411.7" r="2.8" fill="#FFC000"/>
<circle cx="373.1" cy="416.0" r="2.8" fill="#FFC000"/>
<circle cx="373.2" cy="410.1" r="2.8" fill="#FFC000"/>
<circle cx="373.2" cy="414.2" r="2.8" fill="#FFC000"/>
<circle cx="374.9" cy="394.4" r="2.8" fill="#FFC000"/>
<circle cx="375.3" cy="405.9" r="2.8" fill="#FFC000"/>
<circle cx="375.0" cy="408.1" r="2.8" fill="#FFC000"/>
<circle cx="376.6" cy="392.9" r="2.8" fill="#FFC000"/>
<circle cx="376.7" cy="400.9" r="2.8" fill="#FFC000"/>
<circle cx="378.8" cy="394.7" r="2.8" fill="#FFC000"/>
<circle cx="378.6" cy="399.8" r="2.8" fill="#FFC000"/>
<circle cx="379.0" cy="392.4" r="2.8" fill="#FFC000"/>
<circle cx="380.6" cy="391.1" r="2.8" fill="#FFC000"/>
<circle cx="380.7" cy="405.6" r="2.8" fill="#FFC000"/>
<circle cx="380.5" cy="391.1" r="2.8" fill="#FFC000"/>
<circle cx="382.1" cy="402.7" r="2.8" fill="#FFC000"/>
<circle cx="382.2" cy="402.1" r="2.8" fill="#FFC000"/>
<circle cx="382.1" cy="390.9" r="2.8" fill="#FFC000"/>
<circle cx="384.3" cy="397.7" r="2.8" fill="#FFC000"/>
<circle cx="384.3" cy="402.6" r="2.8" fill="#FFC000"/>
<circle cx="385.9" cy="389.5" r="2.8" fill="#FFC000"/>
<circle cx="386.1" cy="402.9" r="2.8" fill="#FFC000"/>
<circle cx="386.0" cy="394.4" r="2.8" fill="#FFC000"/>
<circle cx="387.8" cy="387.2" r="2.8" fill="#FFC000"/>
<circle cx="388.0" cy="410.0" r="2.8" fill="#FFC000"/>
<circle cx="387.6" cy="409.7" r="2.8" fill="#FFC000"/>
<circle cx="389.8" cy="402.1" r="2.8" fill="#FFC000"/>
<circle cx="389.7" cy="398.9" r="2.8" fill="#FFC000"/>
<circle cx="389.6" cy="400.8" r="2.8" fill="#FFC000"/>
<circle cx="391.3" cy="407.3" r="2.8" fill="#FFC000"/>
<circle cx="391.3" cy="405.5" r="2.8" fill="#FFC000"/>
<circle cx="391.7" cy="395.1" r="2.8" fill="#FFC000"/>
<circle cx="392.9" cy="392.7" r="2.8" fill="#FFC000"/>
<circle cx="393.3" cy="389.0" r="2.8" fill="#FFC000"/>
<circle cx="393.2" cy="403.5" r="2.8" fill="#FFC000"/>
<circle cx="393.0" cy="399.3" r="2.8" fill="#FFC000"/>
<circle cx="394.8" cy="403.4" r="2.8" fill="#FFC000"/>
<circle cx="395.1" cy="393.9" r="2.8" fill="#FFC000"/>
<circle cx="394.9" cy="389.5" r="2.8" fill="#FFC000"/>
<circle cx="397.0" cy="393.4" r="2.8" fill="#FFC000"/>
<circle cx="396.7" cy="394.8" r="2.8" fill="#FFC000"/>
<circle cx="396.5" cy="394.3" r="2.8" fill="#FFC000"/>
<circle cx="398.8" cy="399.5" r="2.8" fill="#FFC000"/>
<circle cx="398.9" cy="395.0" r="2.8" fill="#FFC000"/>
<circle cx="398.7" cy="396.5" r="2.8" fill="#FFC000"/>
<circle cx="400.3" cy="398.9" r="2.8" fill="#FFC000"/>
<circle cx="400.5" cy="399.1" r="2.8" fill="#FFC000"/>
<circle cx="400.5" cy="404.7" r="2.8" fill="#FFC000"/>
<circle cx="402.2" cy="392.7" r="2.8" fill="#FFC000"/>
<circle cx="402.3" cy="392.7" r="2.8" fill="#FFC000"/>
<circle cx="404.1" cy="394.0" r="2.8" fill="#FFC000"/>
<circle cx="404.0" cy="403.6" r="2.8" fill="#FFC000"/>
<circle cx="406.2" cy="400.7" r="2.8" fill="#FFC000"/>
<circle cx="406.2" cy="400.5" r="2.8" fill="#FFC000"/>
<circle cx="407.5" cy="406.2" r="2.8" fill="#FFC000"/>
<circle cx="408.0" cy="396.5" r="2.8" fill="#FFC000"/>
<circle cx="409.3" cy="398.0" r="2.8" fill="#FFC000"/>
<circle cx="409.6" cy="405.6" r="2.8" fill="#FFC000"/>
<circle cx="411.3" cy="397.4" r="2.8" fill="#FFC000"/>
<circle cx="411.2" cy="405.6" r="2.8" fill="#FFC000"/>
<circle cx="413.1" cy="406.7" r="2.8" fill="#FFC000"/>
<circle cx="413.3" cy="402.3" r="2.8" fill="#FFC000"/>
<circle cx="415.2" cy="398.9" r="2.8" fill="#FFC000"/>
<circle cx="415.0" cy="406.1" r="2.8" fill="#FFC000"/>
<circle cx="416.8" cy="401.2" r="2.8" fill="#FFC000"/>
<circle cx="416.8" cy="406.2" r="2.8" fill="#FFC000"/>
<circle cx="418.6" cy="397.7" r="2.8" fill="#FFC000"/>
<circle cx="418.6" cy="401.8" r="2.8" fill="#FFC000"/>
<circle cx="420.7" cy="398.6" r="2.8" fill="#FFC000"/>
<circle cx="420.4" cy="397.1" r="2.8" fill="#FFC000"/>
<circle cx="422.4" cy="406.1" r="2.8" fill="#FFC000"/>
<circle cx="422.4" cy="399.5" r="2.8" fill="#FFC000"/>
<circle cx="424.0" cy="397.0" r="2.8" fill="#FFC000"/>
<circle cx="424.2" cy="400.9" r="2.8" fill="#FFC000"/>
<circle cx="428.9" cy="387.7" r="2.8" fill="#FFC000"/>
<circle cx="428.9" cy="387.4" r="2.8" fill="#FFC000"/>
<circle cx="432.1" cy="395.0" r="2.8" fill="#FFC000"/>
<circle cx="432.0" cy="403.1" r="2.8" fill="#FFC000"/>
<circle cx="434.1" cy="402.2" r="2.8" fill="#FFC000"/>
<circle cx="434.0" cy="402.7" r="2.8" fill="#FFC000"/>
<circle cx="436.1" cy="391.0" r="2.8" fill="#FFC000"/>
<circle cx="435.9" cy="400.6" r="2.8" fill="#FFC000"/>
<circle cx="443.6" cy="393.1" r="2.8" fill="#FFC000"/>
<circle cx="443.7" cy="396.0" r="2.8" fill="#FFC000"/>
<circle cx="445.0" cy="388.1" r="2.8" fill="#FFC000"/>
<circle cx="445.5" cy="406.5" r="2.8" fill="#FFC000"/>
<circle cx="447.0" cy="401.6" r="2.8" fill="#FFC000"/>
<circle cx="447.2" cy="390.2" r="2.8" fill="#FFC000"/>
<circle cx="449.0" cy="395.8" r="2.8" fill="#FFC000"/>
<circle cx="449.3" cy="395.5" r="2.8" fill="#FFC000"/>
<circle cx="452.8" cy="395.4" r="2.8" fill="#FFC000"/>
<circle cx="452.7" cy="395.4" r="2.8" fill="#FFC000"/>
<circle cx="464.2" cy="391.0" r="2.8" fill="#FFC000"/>
<circle cx="464.2" cy="391.0" r="2.8" fill="#FFC000"/>
<circle cx="470.7" cy="395.0" r="2.8" fill="#FFC000"/>
<circle cx="471.0" cy="391.7" r="2.8" fill="#FFC000"/>
<circle cx="474.3" cy="393.9" r="2.8" fill="#FFC000"/>
<circle cx="474.2" cy="395.3" r="2.8" fill="#FFC000"/>
<circle cx="224.6" cy="416.0" r="2.8" fill="#FFC000"/>
<circle cx="224.6" cy="415.8" r="2.8" fill="#FFC000"/>
<circle cx="264.2" cy="398.9" r="2.8" fill="#FFC000"/>
<circle cx="264.2" cy="398.5" r="2.8" fill="#FFC000"/>
<circle cx="294.6" cy="438.0" r="2.8" fill="#FFC000"/>
<circle cx="294.7" cy="439.2" r="2.8" fill="#FFC000"/>
<circle cx="171.1" cy="439.1" r="2.8" fill="#FFC000"/>
<circle cx="170.9" cy="436.1" r="2.8" fill="#FFC000"/>
<circle cx="179.6" cy="464.6" r="2.8" fill="#FFC000"/>
<circle cx="179.5" cy="462.0" r="2.8" fill="#FFC000"/>
<circle cx="124.5" cy="458.8" r="2.8" fill="#FF0000"/>
<circle cx="126.5" cy="461.5" r="2.8" fill="#FF0000"/>
<circle cx="126.6" cy="458.4" r="2.8" fill="#FF0000"/>
<circle cx="128.2" cy="455.6" r="2.8" fill="#FF0000"/>
<circle cx="128.0" cy="462.9" r="2.8" fill="#FF0000"/>
<circle cx="129.8" cy="460.2" r="2.8" fill="#FF0000"/>
<circle cx="132.1" cy="461.7" r="2.8" fill="#FF0000"/>
<circle cx="133.7" cy="458.0" r="2.8" fill="#FF0000"/>
<circle cx="135.5" cy="465.1" r="2.8" fill="#FF0000"/>
<circle cx="135.8" cy="461.9" r="2.8" fill="#FF0000"/>
<circle cx="135.8" cy="465.1" r="2.8" fill="#FF0000"/>
<circle cx="137.1" cy="460.7" r="2.8" fill="#FF0000"/>
<circle cx="137.4" cy="457.6" r="2.8" fill="#FF0000"/>
<circle cx="139.1" cy="451.7" r="2.8" fill="#FF0000"/>
<circle cx="138.9" cy="464.0" r="2.8" fill="#FF0000"/>
<circle cx="139.1" cy="455.0" r="2.8" fill="#FF0000"/>
<circle cx="140.9" cy="454.6" r="2.8" fill="#FF0000"/>
<circle cx="141.2" cy="456.9" r="2.8" fill="#FF0000"/>
<circle cx="142.9" cy="460.4" r="2.8" fill="#FF0000"/>
<circle cx="142.5" cy="449.9" r="2.8" fill="#FF0000"/>
<circle cx="144.4" cy="450.6" r="2.8" fill="#FF0000"/>
<circle cx="144.4" cy="450.6" r="2.8" fill="#FF0000"/>
<circle cx="144.5" cy="451.8" r="2.8" fill="#FF0000"/>
<circle cx="146.6" cy="447.2" r="2.8" fill="#FF0000"/>
<circle cx="146.1" cy="455.1" r="2.8" fill="#FF0000"/>
<circle cx="148.4" cy="463.4" r="2.8" fill="#FF0000"/>
<circle cx="148.1" cy="456.5" r="2.8" fill="#FF0000"/>
<circle cx="147.9" cy="457.2" r="2.8" fill="#FF0000"/>
<circle cx="150.0" cy="452.2" r="2.8" fill="#FF0000"/>
<circle cx="150.0" cy="457.7" r="2.8" fill="#FF0000"/>
<circle cx="152.1" cy="447.7" r="2.8" fill="#FF0000"/>
<circle cx="152.1" cy="455.0" r="2.8" fill="#FF0000"/>
<circle cx="151.6" cy="450.6" r="2.8" fill="#FF0000"/>
<circle cx="153.4" cy="464.2" r="2.8" fill="#FF0000"/>
<circle cx="153.9" cy="445.8" r="2.8" fill="#FF0000"/>
<circle cx="153.5" cy="446.4" r="2.8" fill="#FF0000"/>
<circle cx="155.6" cy="459.9" r="2.8" fill="#FF0000"/>
<circle cx="155.5" cy="463.9" r="2.8" fill="#FF0000"/>
<circle cx="155.5" cy="450.8" r="2.8" fill="#FF0000"/>
<circle cx="157.4" cy="463.7" r="2.8" fill="#FF0000"/>
<circle cx="157.5" cy="445.9" r="2.8" fill="#FF0000"/>
<circle cx="157.0" cy="453.6" r="2.8" fill="#FF0000"/>
<circle cx="158.8" cy="458.8" r="2.8" fill="#FF0000"/>
<circle cx="159.3" cy="447.1" r="2.8" fill="#FF0000"/>
<circle cx="159.2" cy="442.7" r="2.8" fill="#FF0000"/>
<circle cx="160.7" cy="451.8" r="2.8" fill="#FF0000"/>
<circle cx="160.8" cy="452.4" r="2.8" fill="#FF0000"/>
<circle cx="160.7" cy="446.5" r="2.8" fill="#FF0000"/>
<circle cx="162.8" cy="447.0" r="2.8" fill="#FF0000"/>
<circle cx="162.6" cy="461.5" r="2.8" fill="#FF0000"/>
<circle cx="164.4" cy="447.3" r="2.8" fill="#FF0000"/>
<circle cx="164.6" cy="451.7" r="2.8" fill="#FF0000"/>
<circle cx="166.4" cy="455.2" r="2.8" fill="#FF0000"/>
<circle cx="166.6" cy="451.2" r="2.8" fill="#FF0000"/>
<circle cx="168.2" cy="453.3" r="2.8" fill="#FF0000"/>
<circle cx="168.2" cy="441.4" r="2.8" fill="#FF0000"/>
<circle cx="167.9" cy="455.1" r="2.8" fill="#FF0000"/>
<circle cx="169.8" cy="454.6" r="2.8" fill="#FF0000"/>
<circle cx="170.2" cy="458.1" r="2.8" fill="#FF0000"/>
<circle cx="170.2" cy="441.8" r="2.8" fill="#FF0000"/>
<circle cx="172.0" cy="447.7" r="2.8" fill="#FF0000"/>
<circle cx="171.5" cy="446.9" r="2.8" fill="#FF0000"/>
<circle cx="172.0" cy="455.5" r="2.8" fill="#FF0000"/>
<circle cx="173.3" cy="444.6" r="2.8" fill="#FF0000"/>
<circle cx="173.7" cy="448.5" r="2.8" fill="#FF0000"/>
<circle cx="173.6" cy="448.0" r="2.8" fill="#FF0000"/>
<circle cx="175.3" cy="446.2" r="2.8" fill="#FF0000"/>
<circle cx="175.7" cy="447.8" r="2.8" fill="#FF0000"/>
<circle cx="175.6" cy="440.4" r="2.8" fill="#FF0000"/>
<circle cx="177.4" cy="444.8" r="2.8" fill="#FF0000"/>
<circle cx="177.4" cy="441.8" r="2.8" fill="#FF0000"/>
<circle cx="179.0" cy="455.8" r="2.8" fill="#FF0000"/>
<circle cx="179.0" cy="441.1" r="2.8" fill="#FF0000"/>
<circle cx="180.8" cy="444.2" r="2.8" fill="#FF0000"/>
<circle cx="181.1" cy="440.6" r="2.8" fill="#FF0000"/>
<circle cx="182.6" cy="446.8" r="2.8" fill="#FF0000"/>
<circle cx="182.9" cy="439.5" r="2.8" fill="#FF0000"/>
<circle cx="184.7" cy="458.8" r="2.8" fill="#FF0000"/>
<circle cx="184.5" cy="451.7" r="2.8" fill="#FF0000"/>
<circle cx="184.4" cy="451.1" r="2.8" fill="#FF0000"/>
<circle cx="186.1" cy="450.1" r="2.8" fill="#FF0000"/>
<circle cx="186.2" cy="455.8" r="2.8" fill="#FF0000"/>
<circle cx="188.2" cy="441.8" r="2.8" fill="#FF0000"/>
<circle cx="187.9" cy="452.9" r="2.8" fill="#FF0000"/>
<circle cx="189.9" cy="455.2" r="2.8" fill="#FF0000"/>
<circle cx="190.1" cy="442.7" r="2.8" fill="#FF0000"/>
<circle cx="189.9" cy="441.3" r="2.8" fill="#FF0000"/>
<circle cx="191.9" cy="456.0" r="2.8" fill="#FF0000"/>
<circle cx="191.8" cy="449.3" r="2.8" fill="#FF0000"/>
<circle cx="191.8" cy="448.6" r="2.8" fill="#FF0000"/>
<circle cx="193.6" cy="453.7" r="2.8" fill="#FF0000"/>
<circle cx="193.3" cy="449.7" r="2.8" fill="#FF0000"/>
<circle cx="193.3" cy="450.5" r="2.8" fill="#FF0000"/>
<circle cx="195.3" cy="451.2" r="2.8" fill="#FF0000"/>
<circle cx="195.5" cy="440.9" r="2.8" fill="#FF0000"/>
<circle cx="195.3" cy="449.2" r="2.8" fill="#FF0000"/>
<circle cx="197.4" cy="438.8" r="2.8" fill="#FF0000"/>
<circle cx="197.3" cy="447.7" r="2.8" fill="#FF0000"/>
<circle cx="199.0" cy="445.8" r="2.8" fill="#FF0000"/>
<circle cx="199.2" cy="453.3" r="2.8" fill="#FF0000"/>
<circle cx="200.8" cy="443.1" r="2.8" fill="#FF0000"/>
<circle cx="201.1" cy="441.5" r="2.8" fill="#FF0000"/>
<circle cx="200.9" cy="452.7" r="2.8" fill="#FF0000"/>
<circle cx="202.5" cy="442.9" r="2.8" fill="#FF0000"/>
<circle cx="202.4" cy="436.0" r="2.8" fill="#FF0000"/>
<circle cx="202.4" cy="448.6" r="2.8" fill="#FF0000"/>
<circle cx="204.7" cy="434.8" r="2.8" fill="#FF0000"/>
<circle cx="204.3" cy="450.4" r="2.8" fill="#FF0000"/>
<circle cx="204.6" cy="435.1" r="2.8" fill="#FF0000"/>
<circle cx="206.2" cy="444.6" r="2.8" fill="#FF0000"/>
<circle cx="206.0" cy="432.3" r="2.8" fill="#FF0000"/>
<circle cx="206.5" cy="448.2" r="2.8" fill="#FF0000"/>
<circle cx="206.5" cy="438.9" r="2.8" fill="#FF0000"/>
<circle cx="208.1" cy="447.7" r="2.8" fill="#FF0000"/>
<circle cx="208.3" cy="440.9" r="2.8" fill="#FF0000"/>
<circle cx="208.2" cy="443.8" r="2.8" fill="#FF0000"/>
<circle cx="208.3" cy="442.7" r="2.8" fill="#FF0000"/>
<circle cx="210.1" cy="443.3" r="2.8" fill="#FF0000"/>
<circle cx="209.7" cy="433.0" r="2.8" fill="#FF0000"/>
<circle cx="210.1" cy="444.7" r="2.8" fill="#FF0000"/>
<circle cx="209.8" cy="433.3" r="2.8" fill="#FF0000"/>
<circle cx="211.9" cy="434.6" r="2.8" fill="#FF0000"/>
<circle cx="211.6" cy="424.0" r="2.8" fill="#FF0000"/>
<circle cx="211.6" cy="424.0" r="2.8" fill="#FF0000"/>
<circle cx="211.7" cy="448.6" r="2.8" fill="#FF0000"/>
<circle cx="213.6" cy="454.0" r="2.8" fill="#FF0000"/>
<circle cx="213.7" cy="440.1" r="2.8" fill="#FF0000"/>
<circle cx="213.3" cy="428.7" r="2.8" fill="#FF0000"/>
<circle cx="213.8" cy="433.8" r="2.8" fill="#FF0000"/>
<circle cx="215.3" cy="439.8" r="2.8" fill="#FF0000"/>
<circle cx="215.5" cy="432.0" r="2.8" fill="#FF0000"/>
<circle cx="215.2" cy="436.5" r="2.8" fill="#FF0000"/>
<circle cx="215.3" cy="426.0" r="2.8" fill="#FF0000"/>
<circle cx="217.4" cy="438.0" r="2.8" fill="#FF0000"/>
<circle cx="217.0" cy="423.3" r="2.8" fill="#FF0000"/>
<circle cx="217.3" cy="426.2" r="2.8" fill="#FF0000"/>
<circle cx="219.1" cy="446.6" r="2.8" fill="#FF0000"/>
<circle cx="219.1" cy="429.5" r="2.8" fill="#FF0000"/>
<circle cx="218.9" cy="427.0" r="2.8" fill="#FF0000"/>
<circle cx="219.2" cy="426.5" r="2.8" fill="#FF0000"/>
<circle cx="220.6" cy="443.0" r="2.8" fill="#FF0000"/>
<circle cx="220.8" cy="423.5" r="2.8" fill="#FF0000"/>
<circle cx="221.0" cy="436.6" r="2.8" fill="#FF0000"/>
<circle cx="221.0" cy="423.5" r="2.8" fill="#FF0000"/>
<circle cx="222.7" cy="429.0" r="2.8" fill="#FF0000"/>
<circle cx="222.6" cy="432.2" r="2.8" fill="#FF0000"/>
<circle cx="222.5" cy="433.4" r="2.8" fill="#FF0000"/>
<circle cx="224.5" cy="443.4" r="2.8" fill="#FF0000"/>
<circle cx="224.4" cy="424.4" r="2.8" fill="#FF0000"/>
<circle cx="224.7" cy="444.8" r="2.8" fill="#FF0000"/>
<circle cx="226.5" cy="436.1" r="2.8" fill="#FF0000"/>
<circle cx="226.4" cy="444.9" r="2.8" fill="#FF0000"/>
<circle cx="226.2" cy="433.7" r="2.8" fill="#FF0000"/>
<circle cx="228.0" cy="423.7" r="2.8" fill="#FF0000"/>
<circle cx="228.0" cy="423.7" r="2.8" fill="#FF0000"/>
<circle cx="228.3" cy="440.7" r="2.8" fill="#FF0000"/>
<circle cx="228.1" cy="440.4" r="2.8" fill="#FF0000"/>
<circle cx="229.8" cy="434.3" r="2.8" fill="#FF0000"/>
<circle cx="229.8" cy="423.8" r="2.8" fill="#FF0000"/>
<circle cx="230.1" cy="448.3" r="2.8" fill="#FF0000"/>
<circle cx="231.8" cy="445.0" r="2.8" fill="#FF0000"/>
<circle cx="232.0" cy="438.0" r="2.8" fill="#FF0000"/>
<circle cx="231.6" cy="424.6" r="2.8" fill="#FF0000"/>
<circle cx="233.4" cy="439.8" r="2.8" fill="#FF0000"/>
<circle cx="233.3" cy="426.0" r="2.8" fill="#FF0000"/>
<circle cx="233.7" cy="437.4" r="2.8" fill="#FF0000"/>
<circle cx="235.3" cy="431.3" r="2.8" fill="#FF0000"/>
<circle cx="235.1" cy="437.8" r="2.8" fill="#FF0000"/>
<circle cx="235.1" cy="445.1" r="2.8" fill="#FF0000"/>
<circle cx="235.0" cy="444.2" r="2.8" fill="#FF0000"/>
<circle cx="236.9" cy="436.7" r="2.8" fill="#FF0000"/>
<circle cx="237.1" cy="427.1" r="2.8" fill="#FF0000"/>
<circle cx="237.0" cy="424.8" r="2.8" fill="#FF0000"/>
<circle cx="239.1" cy="448.6" r="2.8" fill="#FF0000"/>
<circle cx="239.0" cy="439.3" r="2.8" fill="#FF0000"/>
<circle cx="238.9" cy="437.9" r="2.8" fill="#FF0000"/>
<circle cx="238.7" cy="428.6" r="2.8" fill="#FF0000"/>
<circle cx="240.8" cy="444.2" r="2.8" fill="#FF0000"/>
<circle cx="240.7" cy="427.9" r="2.8" fill="#FF0000"/>
<circle cx="240.5" cy="441.6" r="2.8" fill="#FF0000"/>
<circle cx="240.8" cy="438.1" r="2.8" fill="#FF0000"/>
<circle cx="242.3" cy="436.5" r="2.8" fill="#FF0000"/>
<circle cx="242.4" cy="435.7" r="2.8" fill="#FF0000"/>
<circle cx="242.5" cy="429.7" r="2.8" fill="#FF0000"/>
<circle cx="242.7" cy="446.6" r="2.8" fill="#FF0000"/>
<circle cx="244.4" cy="422.7" r="2.8" fill="#FF0000"/>
<circle cx="244.5" cy="425.4" r="2.8" fill="#FF0000"/>
<circle cx="244.7" cy="433.1" r="2.8" fill="#FF0000"/>
<circle cx="244.6" cy="446.3" r="2.8" fill="#FF0000"/>
<circle cx="246.4" cy="425.3" r="2.8" fill="#FF0000"/>
<circle cx="246.0" cy="442.6" r="2.8" fill="#FF0000"/>
<circle cx="246.1" cy="438.9" r="2.8" fill="#FF0000"/>
<circle cx="246.1" cy="442.8" r="2.8" fill="#FF0000"/>
<circle cx="247.9" cy="420.4" r="2.8" fill="#FF0000"/>
<circle cx="248.2" cy="422.3" r="2.8" fill="#FF0000"/>
<circle cx="247.8" cy="447.6" r="2.8" fill="#FF0000"/>
<circle cx="247.9" cy="438.3" r="2.8" fill="#FF0000"/>
<circle cx="250.1" cy="448.3" r="2.8" fill="#FF0000"/>
<circle cx="250.0" cy="424.7" r="2.8" fill="#FF0000"/>
<circle cx="250.0" cy="422.2" r="2.8" fill="#FF0000"/>
<circle cx="249.9" cy="429.2" r="2.8" fill="#FF0000"/>
<circle cx="251.4" cy="425.8" r="2.8" fill="#FF0000"/>
<circle cx="251.4" cy="446.5" r="2.8" fill="#FF0000"/>
<circle cx="251.7" cy="439.3" r="2.8" fill="#FF0000"/>
<circle cx="251.7" cy="416.8" r="2.8" fill="#FF0000"/>
<circle cx="253.6" cy="430.9" r="2.8" fill="#FF0000"/>
<circle cx="253.3" cy="436.8" r="2.8" fill="#FF0000"/>
<circle cx="253.6" cy="426.9" r="2.8" fill="#FF0000"/>
<circle cx="253.7" cy="424.0" r="2.8" fill="#FF0000"/>
<circle cx="253.7" cy="438.3" r="2.8" fill="#FF0000"/>
<circle cx="255.4" cy="436.8" r="2.8" fill="#FF0000"/>
<circle cx="255.5" cy="443.0" r="2.8" fill="#FF0000"/>
<circle cx="255.4" cy="418.0" r="2.8" fill="#FF0000"/>
<circle cx="255.2" cy="420.1" r="2.8" fill="#FF0000"/>
<circle cx="257.0" cy="440.1" r="2.8" fill="#FF0000"/>
<circle cx="257.0" cy="439.7" r="2.8" fill="#FF0000"/>
<circle cx="257.3" cy="431.3" r="2.8" fill="#FF0000"/>
<circle cx="257.0" cy="444.7" r="2.8" fill="#FF0000"/>
<circle cx="257.1" cy="423.3" r="2.8" fill="#FF0000"/>
<circle cx="258.6" cy="442.5" r="2.8" fill="#FF0000"/>
<circle cx="258.7" cy="434.5" r="2.8" fill="#FF0000"/>
<circle cx="259.0" cy="434.2" r="2.8" fill="#FF0000"/>
<circle cx="259.2" cy="418.6" r="2.8" fill="#FF0000"/>
<circle cx="259.0" cy="429.4" r="2.8" fill="#FF0000"/>
<circle cx="260.4" cy="442.3" r="2.8" fill="#FF0000"/>
<circle cx="260.6" cy="420.4" r="2.8" fill="#FF0000"/>
<circle cx="260.8" cy="430.3" r="2.8" fill="#FF0000"/>
<circle cx="260.5" cy="436.1" r="2.8" fill="#FF0000"/>
<circle cx="262.4" cy="424.9" r="2.8" fill="#FF0000"/>
<circle cx="262.6" cy="422.6" r="2.8" fill="#FF0000"/>
<circle cx="262.7" cy="445.1" r="2.8" fill="#FF0000"/>
<circle cx="262.6" cy="434.0" r="2.8" fill="#FF0000"/>
<circle cx="264.3" cy="428.1" r="2.8" fill="#FF0000"/>
<circle cx="264.6" cy="427.4" r="2.8" fill="#FF0000"/>
<circle cx="264.6" cy="420.8" r="2.8" fill="#FF0000"/>
<circle cx="266.1" cy="430.4" r="2.8" fill="#FF0000"/>
<circle cx="266.0" cy="435.9" r="2.8" fill="#FF0000"/>
<circle cx="266.2" cy="444.7" r="2.8" fill="#FF0000"/>
<circle cx="268.0" cy="443.8" r="2.8" fill="#FF0000"/>
<circle cx="268.2" cy="433.5" r="2.8" fill="#FF0000"/>
<circle cx="268.1" cy="442.3" r="2.8" fill="#FF0000"/>
<circle cx="269.7" cy="431.2" r="2.8" fill="#FF0000"/>
<circle cx="269.6" cy="442.9" r="2.8" fill="#FF0000"/>
<circle cx="269.7" cy="421.0" r="2.8" fill="#FF0000"/>
<circle cx="269.9" cy="425.3" r="2.8" fill="#FF0000"/>
<circle cx="271.7" cy="442.0" r="2.8" fill="#FF0000"/>
<circle cx="271.9" cy="433.1" r="2.8" fill="#FF0000"/>
<circle cx="271.9" cy="438.3" r="2.8" fill="#FF0000"/>
<circle cx="273.2" cy="417.4" r="2.8" fill="#FF0000"/>
<circle cx="273.5" cy="437.6" r="2.8" fill="#FF0000"/>
<circle cx="273.2" cy="417.4" r="2.8" fill="#FF0000"/>
<circle cx="275.4" cy="430.8" r="2.8" fill="#FF0000"/>
<circle cx="275.0" cy="423.1" r="2.8" fill="#FF0000"/>
<circle cx="276.9" cy="416.7" r="2.8" fill="#FF0000"/>
<circle cx="277.3" cy="431.2" r="2.8" fill="#FF0000"/>
<circle cx="276.9" cy="425.3" r="2.8" fill="#FF0000"/>
<circle cx="278.8" cy="432.9" r="2.8" fill="#FF0000"/>
<circle cx="278.7" cy="422.4" r="2.8" fill="#FF0000"/>
<circle cx="279.1" cy="424.4" r="2.8" fill="#FF0000"/>
<circle cx="280.6" cy="417.3" r="2.8" fill="#FF0000"/>
<circle cx="280.5" cy="431.4" r="2.8" fill="#FF0000"/>
<circle cx="280.8" cy="419.6" r="2.8" fill="#FF0000"/>
<circle cx="282.6" cy="418.7" r="2.8" fill="#FF0000"/>
<circle cx="282.2" cy="425.8" r="2.8" fill="#FF0000"/>
<circle cx="282.3" cy="428.8" r="2.8" fill="#FF0000"/>
<circle cx="284.4" cy="417.8" r="2.8" fill="#FF0000"/>
<circle cx="284.1" cy="411.0" r="2.8" fill="#FF0000"/>
<circle cx="284.5" cy="411.1" r="2.8" fill="#FF0000"/>
<circle cx="284.2" cy="422.8" r="2.8" fill="#FF0000"/>
<circle cx="286.3" cy="413.5" r="2.8" fill="#FF0000"/>
<circle cx="286.4" cy="421.8" r="2.8" fill="#FF0000"/>
<circle cx="286.1" cy="415.4" r="2.8" fill="#FF0000"/>
<circle cx="287.7" cy="405.6" r="2.8" fill="#FF0000"/>
<circle cx="287.9" cy="413.8" r="2.8" fill="#FF0000"/>
<circle cx="287.9" cy="422.1" r="2.8" fill="#FF0000"/>
<circle cx="289.7" cy="408.2" r="2.8" fill="#FF0000"/>
<circle cx="290.0" cy="408.8" r="2.8" fill="#FF0000"/>
<circle cx="289.9" cy="423.6" r="2.8" fill="#FF0000"/>
<circle cx="291.4" cy="425.4" r="2.8" fill="#FF0000"/>
<circle cx="291.8" cy="412.4" r="2.8" fill="#FF0000"/>
<circle cx="291.5" cy="414.2" r="2.8" fill="#FF0000"/>
<circle cx="291.6" cy="411.9" r="2.8" fill="#FF0000"/>
<circle cx="293.1" cy="430.3" r="2.8" fill="#FF0000"/>
<circle cx="293.7" cy="403.2" r="2.8" fill="#FF0000"/>
<circle cx="293.4" cy="423.6" r="2.8" fill="#FF0000"/>
<circle cx="295.5" cy="401.7" r="2.8" fill="#FF0000"/>
<circle cx="295.5" cy="419.1" r="2.8" fill="#FF0000"/>
<circle cx="295.3" cy="405.6" r="2.8" fill="#FF0000"/>
<circle cx="295.0" cy="424.5" r="2.8" fill="#FF0000"/>
<circle cx="297.2" cy="403.5" r="2.8" fill="#FF0000"/>
<circle cx="297.3" cy="405.0" r="2.8" fill="#FF0000"/>
<circle cx="296.8" cy="415.4" r="2.8" fill="#FF0000"/>
<circle cx="298.7" cy="409.6" r="2.8" fill="#FF0000"/>
<circle cx="299.0" cy="423.2" r="2.8" fill="#FF0000"/>
<circle cx="298.8" cy="420.2" r="2.8" fill="#FF0000"/>
<circle cx="298.7" cy="411.8" r="2.8" fill="#FF0000"/>
<circle cx="300.6" cy="428.9" r="2.8" fill="#FF0000"/>
<circle cx="300.8" cy="404.8" r="2.8" fill="#FF0000"/>
<circle cx="300.5" cy="408.2" r="2.8" fill="#FF0000"/>
<circle cx="300.8" cy="431.8" r="2.8" fill="#FF0000"/>
<circle cx="302.3" cy="426.3" r="2.8" fill="#FF0000"/>
<circle cx="302.5" cy="398.5" r="2.8" fill="#FF0000"/>
<circle cx="302.5" cy="408.8" r="2.8" fill="#FF0000"/>
<circle cx="302.4" cy="406.5" r="2.8" fill="#FF0000"/>
<circle cx="304.3" cy="414.8" r="2.8" fill="#FF0000"/>
<circle cx="304.2" cy="405.5" r="2.8" fill="#FF0000"/>
<circle cx="304.5" cy="406.6" r="2.8" fill="#FF0000"/>
<circle cx="304.3" cy="417.1" r="2.8" fill="#FF0000"/>
<circle cx="306.0" cy="417.4" r="2.8" fill="#FF0000"/>
<circle cx="306.0" cy="407.6" r="2.8" fill="#FF0000"/>
<circle cx="305.8" cy="411.9" r="2.8" fill="#FF0000"/>
<circle cx="306.0" cy="425.9" r="2.8" fill="#FF0000"/>
<circle cx="306.0" cy="414.3" r="2.8" fill="#FF0000"/>
<circle cx="307.9" cy="425.0" r="2.8" fill="#FF0000"/>
<circle cx="307.8" cy="420.0" r="2.8" fill="#FF0000"/>
<circle cx="308.0" cy="404.7" r="2.8" fill="#FF0000"/>
<circle cx="307.7" cy="422.1" r="2.8" fill="#FF0000"/>
<circle cx="309.6" cy="414.7" r="2.8" fill="#FF0000"/>
<circle cx="309.6" cy="434.2" r="2.8" fill="#FF0000"/>
<circle cx="309.5" cy="408.6" r="2.8" fill="#FF0000"/>
<circle cx="309.8" cy="406.1" r="2.8" fill="#FF0000"/>
<circle cx="311.6" cy="430.1" r="2.8" fill="#FF0000"/>
<circle cx="311.5" cy="400.8" r="2.8" fill="#FF0000"/>
<circle cx="311.6" cy="430.1" r="2.8" fill="#FF0000"/>
<circle cx="311.3" cy="424.9" r="2.8" fill="#FF0000"/>
<circle cx="313.5" cy="423.4" r="2.8" fill="#FF0000"/>
<circle cx="313.4" cy="432.9" r="2.8" fill="#FF0000"/>
<circle cx="313.2" cy="425.7" r="2.8" fill="#FF0000"/>
<circle cx="313.4" cy="421.9" r="2.8" fill="#FF0000"/>
<circle cx="315.1" cy="426.1" r="2.8" fill="#FF0000"/>
<circle cx="315.0" cy="413.5" r="2.8" fill="#FF0000"/>
<circle cx="315.0" cy="419.5" r="2.8" fill="#FF0000"/>
<circle cx="317.2" cy="407.1" r="2.8" fill="#FF0000"/>
<circle cx="316.8" cy="420.4" r="2.8" fill="#FF0000"/>
<circle cx="317.3" cy="426.5" r="2.8" fill="#FF0000"/>
<circle cx="318.8" cy="406.8" r="2.8" fill="#FF0000"/>
<circle cx="318.7" cy="419.5" r="2.8" fill="#FF0000"/>
<circle cx="319.0" cy="425.1" r="2.8" fill="#FF0000"/>
<circle cx="319.0" cy="424.3" r="2.8" fill="#FF0000"/>
<circle cx="320.7" cy="415.1" r="2.8" fill="#FF0000"/>
<circle cx="320.4" cy="405.7" r="2.8" fill="#FF0000"/>
<circle cx="320.5" cy="416.0" r="2.8" fill="#FF0000"/>
<circle cx="322.2" cy="414.2" r="2.8" fill="#FF0000"/>
<circle cx="322.4" cy="415.1" r="2.8" fill="#FF0000"/>
<circle cx="322.2" cy="415.7" r="2.8" fill="#FF0000"/>
<circle cx="322.2" cy="413.2" r="2.8" fill="#FF0000"/>
<circle cx="324.2" cy="427.7" r="2.8" fill="#FF0000"/>
<circle cx="324.2" cy="430.3" r="2.8" fill="#FF0000"/>
<circle cx="324.3" cy="409.1" r="2.8" fill="#FF0000"/>
<circle cx="324.1" cy="427.2" r="2.8" fill="#FF0000"/>
<circle cx="325.8" cy="426.9" r="2.8" fill="#FF0000"/>
<circle cx="326.3" cy="407.6" r="2.8" fill="#FF0000"/>
<circle cx="326.2" cy="413.8" r="2.8" fill="#FF0000"/>
<circle cx="325.8" cy="416.0" r="2.8" fill="#FF0000"/>
<circle cx="328.0" cy="406.1" r="2.8" fill="#FF0000"/>
<circle cx="328.0" cy="414.5" r="2.8" fill="#FF0000"/>
<circle cx="327.8" cy="419.6" r="2.8" fill="#FF0000"/>
<circle cx="329.5" cy="396.6" r="2.8" fill="#FF0000"/>
<circle cx="329.4" cy="416.5" r="2.8" fill="#FF0000"/>
<circle cx="329.7" cy="407.2" r="2.8" fill="#FF0000"/>
<circle cx="329.8" cy="411.5" r="2.8" fill="#FF0000"/>
<circle cx="329.5" cy="410.8" r="2.8" fill="#FF0000"/>
<circle cx="331.3" cy="416.9" r="2.8" fill="#FF0000"/>
<circle cx="331.4" cy="422.2" r="2.8" fill="#FF0000"/>
<circle cx="331.5" cy="408.3" r="2.8" fill="#FF0000"/>
<circle cx="331.4" cy="408.8" r="2.8" fill="#FF0000"/>
<circle cx="333.2" cy="398.9" r="2.8" fill="#FF0000"/>
<circle cx="333.2" cy="402.4" r="2.8" fill="#FF0000"/>
<circle cx="333.5" cy="404.4" r="2.8" fill="#FF0000"/>
<circle cx="333.1" cy="408.5" r="2.8" fill="#FF0000"/>
<circle cx="335.1" cy="404.1" r="2.8" fill="#FF0000"/>
<circle cx="335.3" cy="417.4" r="2.8" fill="#FF0000"/>
<circle cx="335.2" cy="428.6" r="2.8" fill="#FF0000"/>
<circle cx="335.0" cy="425.1" r="2.8" fill="#FF0000"/>
<circle cx="337.2" cy="424.6" r="2.8" fill="#FF0000"/>
<circle cx="337.0" cy="405.8" r="2.8" fill="#FF0000"/>
<circle cx="337.1" cy="396.6" r="2.8" fill="#FF0000"/>
<circle cx="338.9" cy="401.0" r="2.8" fill="#FF0000"/>
<circle cx="338.7" cy="411.7" r="2.8" fill="#FF0000"/>
<circle cx="338.5" cy="405.0" r="2.8" fill="#FF0000"/>
<circle cx="338.7" cy="425.7" r="2.8" fill="#FF0000"/>
<circle cx="340.4" cy="410.5" r="2.8" fill="#FF0000"/>
<circle cx="340.5" cy="398.3" r="2.8" fill="#FF0000"/>
<circle cx="340.4" cy="408.0" r="2.8" fill="#FF0000"/>
<circle cx="340.7" cy="423.6" r="2.8" fill="#FF0000"/>
<circle cx="342.2" cy="409.4" r="2.8" fill="#FF0000"/>
<circle cx="342.2" cy="407.4" r="2.8" fill="#FF0000"/>
<circle cx="342.3" cy="422.0" r="2.8" fill="#FF0000"/>
<circle cx="342.2" cy="409.9" r="2.8" fill="#FF0000"/>
<circle cx="343.9" cy="406.5" r="2.8" fill="#FF0000"/>
<circle cx="344.0" cy="405.0" r="2.8" fill="#FF0000"/>
<circle cx="344.0" cy="410.2" r="2.8" fill="#FF0000"/>
<circle cx="344.1" cy="412.1" r="2.8" fill="#FF0000"/>
<circle cx="344.1" cy="403.5" r="2.8" fill="#FF0000"/>
<circle cx="346.1" cy="398.2" r="2.8" fill="#FF0000"/>
<circle cx="346.0" cy="396.1" r="2.8" fill="#FF0000"/>
<circle cx="345.7" cy="409.6" r="2.8" fill="#FF0000"/>
<circle cx="345.9" cy="403.2" r="2.8" fill="#FF0000"/>
<circle cx="345.8" cy="411.6" r="2.8" fill="#FF0000"/>
<circle cx="348.0" cy="393.7" r="2.8" fill="#FF0000"/>
<circle cx="347.6" cy="412.0" r="2.8" fill="#FF0000"/>
<circle cx="348.0" cy="424.1" r="2.8" fill="#FF0000"/>
<circle cx="348.1" cy="417.9" r="2.8" fill="#FF0000"/>
<circle cx="349.4" cy="401.5" r="2.8" fill="#FF0000"/>
<circle cx="349.5" cy="414.7" r="2.8" fill="#FF0000"/>
<circle cx="349.8" cy="422.7" r="2.8" fill="#FF0000"/>
<circle cx="349.5" cy="409.7" r="2.8" fill="#FF0000"/>
<circle cx="351.6" cy="406.3" r="2.8" fill="#FF0000"/>
<circle cx="351.3" cy="401.1" r="2.8" fill="#FF0000"/>
<circle cx="351.6" cy="400.0" r="2.8" fill="#FF0000"/>
<circle cx="351.5" cy="388.8" r="2.8" fill="#FF0000"/>
<circle cx="353.6" cy="401.4" r="2.8" fill="#FF0000"/>
<circle cx="353.0" cy="388.6" r="2.8" fill="#FF0000"/>
<circle cx="353.1" cy="393.7" r="2.8" fill="#FF0000"/>
<circle cx="353.2" cy="401.8" r="2.8" fill="#FF0000"/>
<circle cx="353.5" cy="423.6" r="2.8" fill="#FF0000"/>
<circle cx="355.1" cy="396.2" r="2.8" fill="#FF0000"/>
<circle cx="355.1" cy="414.3" r="2.8" fill="#FF0000"/>
<circle cx="354.8" cy="390.2" r="2.8" fill="#FF0000"/>
<circle cx="355.3" cy="400.3" r="2.8" fill="#FF0000"/>
<circle cx="356.7" cy="415.1" r="2.8" fill="#FF0000"/>
<circle cx="356.8" cy="400.9" r="2.8" fill="#FF0000"/>
<circle cx="357.0" cy="396.6" r="2.8" fill="#FF0000"/>
<circle cx="357.2" cy="388.2" r="2.8" fill="#FF0000"/>
<circle cx="358.9" cy="407.5" r="2.8" fill="#FF0000"/>
<circle cx="358.5" cy="402.5" r="2.8" fill="#FF0000"/>
<circle cx="358.5" cy="392.3" r="2.8" fill="#FF0000"/>
<circle cx="358.5" cy="397.5" r="2.8" fill="#FF0000"/>
<circle cx="358.7" cy="400.2" r="2.8" fill="#FF0000"/>
<circle cx="360.8" cy="417.1" r="2.8" fill="#FF0000"/>
<circle cx="360.3" cy="418.5" r="2.8" fill="#FF0000"/>
<circle cx="360.7" cy="408.5" r="2.8" fill="#FF0000"/>
<circle cx="360.7" cy="401.8" r="2.8" fill="#FF0000"/>
<circle cx="362.3" cy="397.1" r="2.8" fill="#FF0000"/>
<circle cx="362.4" cy="391.7" r="2.8" fill="#FF0000"/>
<circle cx="362.4" cy="418.5" r="2.8" fill="#FF0000"/>
<circle cx="364.2" cy="396.0" r="2.8" fill="#FF0000"/>
<circle cx="364.2" cy="403.7" r="2.8" fill="#FF0000"/>
<circle cx="363.9" cy="402.7" r="2.8" fill="#FF0000"/>
<circle cx="366.0" cy="395.5" r="2.8" fill="#FF0000"/>
<circle cx="365.7" cy="416.3" r="2.8" fill="#FF0000"/>
<circle cx="366.1" cy="410.9" r="2.8" fill="#FF0000"/>
<circle cx="367.7" cy="411.9" r="2.8" fill="#FF0000"/>
<circle cx="367.8" cy="419.2" r="2.8" fill="#FF0000"/>
<circle cx="367.7" cy="403.5" r="2.8" fill="#FF0000"/>
<circle cx="369.7" cy="394.7" r="2.8" fill="#FF0000"/>
<circle cx="369.7" cy="396.2" r="2.8" fill="#FF0000"/>
<circle cx="369.5" cy="413.4" r="2.8" fill="#FF0000"/>
<circle cx="371.6" cy="394.3" r="2.8" fill="#FF0000"/>
<circle cx="371.1" cy="414.5" r="2.8" fill="#FF0000"/>
<circle cx="371.7" cy="416.2" r="2.8" fill="#FF0000"/>
<circle cx="373.0" cy="411.3" r="2.8" fill="#FF0000"/>
<circle cx="373.2" cy="412.4" r="2.8" fill="#FF0000"/>
<circle cx="373.1" cy="408.3" r="2.8" fill="#FF0000"/>
<circle cx="375.2" cy="393.4" r="2.8" fill="#FF0000"/>
<circle cx="374.9" cy="401.8" r="2.8" fill="#FF0000"/>
<circle cx="375.2" cy="405.6" r="2.8" fill="#FF0000"/>
<circle cx="377.1" cy="401.4" r="2.8" fill="#FF0000"/>
<circle cx="377.0" cy="404.4" r="2.8" fill="#FF0000"/>
<circle cx="378.7" cy="394.0" r="2.8" fill="#FF0000"/>
<circle cx="378.5" cy="392.4" r="2.8" fill="#FF0000"/>
<circle cx="378.4" cy="392.4" r="2.8" fill="#FF0000"/>
<circle cx="380.7" cy="391.1" r="2.8" fill="#FF0000"/>
<circle cx="380.7" cy="407.1" r="2.8" fill="#FF0000"/>
<circle cx="380.5" cy="396.2" r="2.8" fill="#FF0000"/>
<circle cx="382.3" cy="404.7" r="2.8" fill="#FF0000"/>
<circle cx="382.0" cy="396.3" r="2.8" fill="#FF0000"/>
<circle cx="382.3" cy="389.9" r="2.8" fill="#FF0000"/>
<circle cx="384.1" cy="399.8" r="2.8" fill="#FF0000"/>
<circle cx="384.3" cy="405.5" r="2.8" fill="#FF0000"/>
<circle cx="385.9" cy="387.4" r="2.8" fill="#FF0000"/>
<circle cx="385.7" cy="392.8" r="2.8" fill="#FF0000"/>
<circle cx="385.9" cy="394.6" r="2.8" fill="#FF0000"/>
<circle cx="387.8" cy="399.6" r="2.8" fill="#FF0000"/>
<circle cx="387.6" cy="410.0" r="2.8" fill="#FF0000"/>
<circle cx="388.0" cy="407.1" r="2.8" fill="#FF0000"/>
<circle cx="389.4" cy="398.0" r="2.8" fill="#FF0000"/>
<circle cx="389.5" cy="403.6" r="2.8" fill="#FF0000"/>
<circle cx="389.5" cy="402.9" r="2.8" fill="#FF0000"/>
<circle cx="391.6" cy="396.8" r="2.8" fill="#FF0000"/>
<circle cx="391.4" cy="404.2" r="2.8" fill="#FF0000"/>
<circle cx="391.1" cy="392.5" r="2.8" fill="#FF0000"/>
<circle cx="393.3" cy="391.4" r="2.8" fill="#FF0000"/>
<circle cx="393.0" cy="391.4" r="2.8" fill="#FF0000"/>
<circle cx="393.2" cy="408.2" r="2.8" fill="#FF0000"/>
<circle cx="393.1" cy="400.0" r="2.8" fill="#FF0000"/>
<circle cx="394.9" cy="409.4" r="2.8" fill="#FF0000"/>
<circle cx="395.1" cy="388.4" r="2.8" fill="#FF0000"/>
<circle cx="394.8" cy="387.2" r="2.8" fill="#FF0000"/>
<circle cx="396.6" cy="389.6" r="2.8" fill="#FF0000"/>
<circle cx="397.1" cy="398.8" r="2.8" fill="#FF0000"/>
<circle cx="396.8" cy="397.2" r="2.8" fill="#FF0000"/>
<circle cx="398.9" cy="401.2" r="2.8" fill="#FF0000"/>
<circle cx="398.7" cy="390.0" r="2.8" fill="#FF0000"/>
<circle cx="398.8" cy="394.0" r="2.8" fill="#FF0000"/>
<circle cx="400.4" cy="405.9" r="2.8" fill="#FF0000"/>
<circle cx="400.2" cy="400.2" r="2.8" fill="#FF0000"/>
<circle cx="400.6" cy="400.4" r="2.8" fill="#FF0000"/>
<circle cx="402.4" cy="392.7" r="2.8" fill="#FF0000"/>
<circle cx="402.5" cy="392.8" r="2.8" fill="#FF0000"/>
<circle cx="403.9" cy="397.5" r="2.8" fill="#FF0000"/>
<circle cx="404.2" cy="403.5" r="2.8" fill="#FF0000"/>
<circle cx="405.9" cy="401.1" r="2.8" fill="#FF0000"/>
<circle cx="406.0" cy="403.9" r="2.8" fill="#FF0000"/>
<circle cx="407.7" cy="406.4" r="2.8" fill="#FF0000"/>
<circle cx="407.9" cy="398.0" r="2.8" fill="#FF0000"/>
<circle cx="409.6" cy="397.3" r="2.8" fill="#FF0000"/>
<circle cx="409.4" cy="401.9" r="2.8" fill="#FF0000"/>
<circle cx="411.1" cy="408.0" r="2.8" fill="#FF0000"/>
<circle cx="411.4" cy="404.8" r="2.8" fill="#FF0000"/>
<circle cx="413.1" cy="411.6" r="2.8" fill="#FF0000"/>
<circle cx="412.9" cy="398.2" r="2.8" fill="#FF0000"/>
<circle cx="415.1" cy="398.9" r="2.8" fill="#FF0000"/>
<circle cx="415.1" cy="407.0" r="2.8" fill="#FF0000"/>
<circle cx="416.5" cy="402.8" r="2.8" fill="#FF0000"/>
<circle cx="417.0" cy="401.3" r="2.8" fill="#FF0000"/>
<circle cx="418.7" cy="399.2" r="2.8" fill="#FF0000"/>
<circle cx="418.9" cy="399.2" r="2.8" fill="#FF0000"/>
<circle cx="420.2" cy="401.8" r="2.8" fill="#FF0000"/>
<circle cx="420.7" cy="397.1" r="2.8" fill="#FF0000"/>
<circle cx="422.5" cy="401.6" r="2.8" fill="#FF0000"/>
<circle cx="422.0" cy="397.6" r="2.8" fill="#FF0000"/>
<circle cx="424.2" cy="407.3" r="2.8" fill="#FF0000"/>
<circle cx="424.3" cy="399.8" r="2.8" fill="#FF0000"/>
<circle cx="428.7" cy="387.4" r="2.8" fill="#FF0000"/>
<circle cx="429.0" cy="392.7" r="2.8" fill="#FF0000"/>
<circle cx="432.2" cy="393.9" r="2.8" fill="#FF0000"/>
<circle cx="432.1" cy="398.6" r="2.8" fill="#FF0000"/>
<circle cx="434.2" cy="396.4" r="2.8" fill="#FF0000"/>
<circle cx="433.9" cy="404.6" r="2.8" fill="#FF0000"/>
<circle cx="435.7" cy="392.7" r="2.8" fill="#FF0000"/>
<circle cx="435.9" cy="393.0" r="2.8" fill="#FF0000"/>
<circle cx="443.3" cy="389.6" r="2.8" fill="#FF0000"/>
<circle cx="443.2" cy="393.1" r="2.8" fill="#FF0000"/>
<circle cx="445.1" cy="388.1" r="2.8" fill="#FF0000"/>
<circle cx="445.3" cy="404.7" r="2.8" fill="#FF0000"/>
<circle cx="446.9" cy="400.9" r="2.8" fill="#FF0000"/>
<circle cx="447.4" cy="390.6" r="2.8" fill="#FF0000"/>
<circle cx="448.9" cy="393.4" r="2.8" fill="#FF0000"/>
<circle cx="448.9" cy="390.0" r="2.8" fill="#FF0000"/>
<circle cx="452.4" cy="395.5" r="2.8" fill="#FF0000"/>
<circle cx="452.9" cy="395.4" r="2.8" fill="#FF0000"/>
<circle cx="464.7" cy="391.0" r="2.8" fill="#FF0000"/>
<circle cx="464.5" cy="392.0" r="2.8" fill="#FF0000"/>
<circle cx="471.1" cy="391.0" r="2.8" fill="#FF0000"/>
<circle cx="470.9" cy="391.9" r="2.8" fill="#FF0000"/>
<circle cx="474.6" cy="393.9" r="2.8" fill="#FF0000"/>
<circle cx="474.7" cy="398.6" r="2.8" fill="#FF0000"/>
<circle cx="224.5" cy="416.7" r="2.8" fill="#FF0000"/>
<circle cx="225.1" cy="410.8" r="2.8" fill="#FF0000"/>
<circle cx="264.4" cy="398.5" r="2.8" fill="#FF0000"/>
<circle cx="264.3" cy="400.2" r="2.8" fill="#FF0000"/>
<circle cx="294.9" cy="439.6" r="2.8" fill="#FF0000"/>
<circle cx="294.9" cy="443.3" r="2.8" fill="#FF0000"/>
<circle cx="170.6" cy="436.4" r="2.8" fill="#FF0000"/>
<circle cx="171.0" cy="439.5" r="2.8" fill="#FF0000"/>
<circle cx="179.7" cy="462.0" r="2.8" fill="#FF0000"/>
<circle cx="179.6" cy="462.0" r="2.8" fill="#FF0000"/>
<circle cx="124.8" cy="461.4" r="2.8" fill="#70AD47"/>
<circle cx="126.3" cy="467.0" r="2.8" fill="#70AD47"/>
<circle cx="126.5" cy="463.6" r="2.8" fill="#70AD47"/>
<circle cx="128.4" cy="457.2" r="2.8" fill="#70AD47"/>
<circle cx="128.4" cy="466.8" r="2.8" fill="#70AD47"/>
<circle cx="129.9" cy="461.1" r="2.8" fill="#70AD47"/>
<circle cx="132.0" cy="456.5" r="2.8" fill="#70AD47"/>
<circle cx="133.5" cy="455.4" r="2.8" fill="#70AD47"/>
<circle cx="135.3" cy="465.1" r="2.8" fill="#70AD47"/>
<circle cx="135.7" cy="465.1" r="2.8" fill="#70AD47"/>
<circle cx="135.4" cy="455.2" r="2.8" fill="#70AD47"/>
<circle cx="137.5" cy="460.0" r="2.8" fill="#70AD47"/>
<circle cx="137.2" cy="447.6" r="2.8" fill="#70AD47"/>
<circle cx="138.9" cy="456.0" r="2.8" fill="#70AD47"/>
<circle cx="139.1" cy="463.6" r="2.8" fill="#70AD47"/>
<circle cx="139.2" cy="450.1" r="2.8" fill="#70AD47"/>
<circle cx="140.7" cy="458.1" r="2.8" fill="#70AD47"/>
<circle cx="141.1" cy="464.1" r="2.8" fill="#70AD47"/>
<circle cx="143.0" cy="458.4" r="2.8" fill="#70AD47"/>
<circle cx="142.9" cy="452.2" r="2.8" fill="#70AD47"/>
<circle cx="144.3" cy="454.0" r="2.8" fill="#70AD47"/>
<circle cx="144.5" cy="450.0" r="2.8" fill="#70AD47"/>
<circle cx="144.3" cy="454.7" r="2.8" fill="#70AD47"/>
<circle cx="146.7" cy="452.1" r="2.8" fill="#70AD47"/>
<circle cx="146.1" cy="457.3" r="2.8" fill="#70AD47"/>
<circle cx="148.3" cy="462.1" r="2.8" fill="#70AD47"/>
<circle cx="147.9" cy="458.3" r="2.8" fill="#70AD47"/>
<circle cx="148.0" cy="458.0" r="2.8" fill="#70AD47"/>
<circle cx="149.7" cy="452.7" r="2.8" fill="#70AD47"/>
<circle cx="150.2" cy="460.1" r="2.8" fill="#70AD47"/>
<circle cx="151.8" cy="449.3" r="2.8" fill="#70AD47"/>
<circle cx="151.7" cy="450.9" r="2.8" fill="#70AD47"/>
<circle cx="151.7" cy="458.5" r="2.8" fill="#70AD47"/>
<circle cx="153.6" cy="464.2" r="2.8" fill="#70AD47"/>
<circle cx="153.9" cy="451.6" r="2.8" fill="#70AD47"/>
<circle cx="153.4" cy="452.6" r="2.8" fill="#70AD47"/>
<circle cx="155.7" cy="462.4" r="2.8" fill="#70AD47"/>
<circle cx="155.6" cy="461.5" r="2.8" fill="#70AD47"/>
<circle cx="155.4" cy="452.1" r="2.8" fill="#70AD47"/>
<circle cx="157.2" cy="463.7" r="2.8" fill="#70AD47"/>
<circle cx="157.1" cy="445.6" r="2.8" fill="#70AD47"/>
<circle cx="157.0" cy="454.7" r="2.8" fill="#70AD47"/>
<circle cx="158.9" cy="463.4" r="2.8" fill="#70AD47"/>
<circle cx="158.8" cy="452.4" r="2.8" fill="#70AD47"/>
<circle cx="159.0" cy="444.1" r="2.8" fill="#70AD47"/>
<circle cx="161.1" cy="463.2" r="2.8" fill="#70AD47"/>
<circle cx="161.2" cy="452.2" r="2.8" fill="#70AD47"/>
<circle cx="161.1" cy="442.6" r="2.8" fill="#70AD47"/>
<circle cx="163.0" cy="455.8" r="2.8" fill="#70AD47"/>
<circle cx="162.9" cy="459.4" r="2.8" fill="#70AD47"/>
<circle cx="164.3" cy="449.6" r="2.8" fill="#70AD47"/>
<circle cx="164.4" cy="451.2" r="2.8" fill="#70AD47"/>
<circle cx="166.4" cy="458.7" r="2.8" fill="#70AD47"/>
<circle cx="166.6" cy="455.7" r="2.8" fill="#70AD47"/>
<circle cx="168.1" cy="459.4" r="2.8" fill="#70AD47"/>
<circle cx="168.1" cy="448.2" r="2.8" fill="#70AD47"/>
<circle cx="168.1" cy="458.6" r="2.8" fill="#70AD47"/>
<circle cx="170.3" cy="452.3" r="2.8" fill="#70AD47"/>
<circle cx="169.8" cy="461.9" r="2.8" fill="#70AD47"/>
<circle cx="170.0" cy="444.7" r="2.8" fill="#70AD47"/>
<circle cx="171.6" cy="450.0" r="2.8" fill="#70AD47"/>
<circle cx="171.5" cy="454.5" r="2.8" fill="#70AD47"/>
<circle cx="171.9" cy="457.5" r="2.8" fill="#70AD47"/>
<circle cx="173.8" cy="451.4" r="2.8" fill="#70AD47"/>
<circle cx="173.3" cy="443.2" r="2.8" fill="#70AD47"/>
<circle cx="173.6" cy="449.3" r="2.8" fill="#70AD47"/>
<circle cx="175.7" cy="445.1" r="2.8" fill="#70AD47"/>
<circle cx="175.2" cy="451.1" r="2.8" fill="#70AD47"/>
<circle cx="175.6" cy="450.6" r="2.8" fill="#70AD47"/>
<circle cx="177.0" cy="447.7" r="2.8" fill="#70AD47"/>
<circle cx="177.1" cy="450.2" r="2.8" fill="#70AD47"/>
<circle cx="178.9" cy="456.3" r="2.8" fill="#70AD47"/>
<circle cx="179.0" cy="444.4" r="2.8" fill="#70AD47"/>
<circle cx="180.8" cy="442.4" r="2.8" fill="#70AD47"/>
<circle cx="180.6" cy="450.8" r="2.8" fill="#70AD47"/>
<circle cx="182.5" cy="443.0" r="2.8" fill="#70AD47"/>
<circle cx="182.6" cy="446.0" r="2.8" fill="#70AD47"/>
<circle cx="184.6" cy="460.4" r="2.8" fill="#70AD47"/>
<circle cx="184.3" cy="453.9" r="2.8" fill="#70AD47"/>
<circle cx="184.6" cy="458.3" r="2.8" fill="#70AD47"/>
<circle cx="186.5" cy="447.9" r="2.8" fill="#70AD47"/>
<circle cx="186.3" cy="453.9" r="2.8" fill="#70AD47"/>
<circle cx="188.2" cy="449.3" r="2.8" fill="#70AD47"/>
<circle cx="187.9" cy="455.5" r="2.8" fill="#70AD47"/>
<circle cx="190.1" cy="459.9" r="2.8" fill="#70AD47"/>
<circle cx="189.9" cy="445.5" r="2.8" fill="#70AD47"/>
<circle cx="189.9" cy="458.1" r="2.8" fill="#70AD47"/>
<circle cx="191.7" cy="455.4" r="2.8" fill="#70AD47"/>
<circle cx="191.5" cy="446.7" r="2.8" fill="#70AD47"/>
<circle cx="191.7" cy="450.8" r="2.8" fill="#70AD47"/>
<circle cx="193.8" cy="459.3" r="2.8" fill="#70AD47"/>
<circle cx="193.6" cy="457.1" r="2.8" fill="#70AD47"/>
<circle cx="193.7" cy="451.8" r="2.8" fill="#70AD47"/>
<circle cx="195.5" cy="452.6" r="2.8" fill="#70AD47"/>
<circle cx="195.6" cy="448.9" r="2.8" fill="#70AD47"/>
<circle cx="195.5" cy="458.6" r="2.8" fill="#70AD47"/>
<circle cx="197.4" cy="443.4" r="2.8" fill="#70AD47"/>
<circle cx="197.4" cy="452.8" r="2.8" fill="#70AD47"/>
<circle cx="198.9" cy="446.9" r="2.8" fill="#70AD47"/>
<circle cx="199.0" cy="448.4" r="2.8" fill="#70AD47"/>
<circle cx="201.1" cy="450.5" r="2.8" fill="#70AD47"/>
<circle cx="200.7" cy="447.6" r="2.8" fill="#70AD47"/>
<circle cx="200.7" cy="447.5" r="2.8" fill="#70AD47"/>
<circle cx="202.9" cy="440.1" r="2.8" fill="#70AD47"/>
<circle cx="202.8" cy="439.7" r="2.8" fill="#70AD47"/>
<circle cx="202.9" cy="450.9" r="2.8" fill="#70AD47"/>
<circle cx="204.2" cy="435.6" r="2.8" fill="#70AD47"/>
<circle cx="204.2" cy="447.5" r="2.8" fill="#70AD47"/>
<circle cx="204.4" cy="437.4" r="2.8" fill="#70AD47"/>
<circle cx="206.3" cy="443.8" r="2.8" fill="#70AD47"/>
<circle cx="206.5" cy="439.1" r="2.8" fill="#70AD47"/>
<circle cx="206.4" cy="450.5" r="2.8" fill="#70AD47"/>
<circle cx="206.2" cy="444.5" r="2.8" fill="#70AD47"/>
<circle cx="208.4" cy="449.4" r="2.8" fill="#70AD47"/>
<circle cx="208.3" cy="437.7" r="2.8" fill="#70AD47"/>
<circle cx="207.9" cy="450.7" r="2.8" fill="#70AD47"/>
<circle cx="208.1" cy="444.6" r="2.8" fill="#70AD47"/>
<circle cx="209.7" cy="443.6" r="2.8" fill="#70AD47"/>
<circle cx="210.2" cy="434.8" r="2.8" fill="#70AD47"/>
<circle cx="209.7" cy="441.5" r="2.8" fill="#70AD47"/>
<circle cx="209.8" cy="443.4" r="2.8" fill="#70AD47"/>
<circle cx="212.0" cy="446.9" r="2.8" fill="#70AD47"/>
<circle cx="211.8" cy="424.8" r="2.8" fill="#70AD47"/>
<circle cx="211.7" cy="424.0" r="2.8" fill="#70AD47"/>
<circle cx="211.7" cy="452.7" r="2.8" fill="#70AD47"/>
<circle cx="213.3" cy="450.9" r="2.8" fill="#70AD47"/>
<circle cx="213.6" cy="445.1" r="2.8" fill="#70AD47"/>
<circle cx="213.8" cy="436.3" r="2.8" fill="#70AD47"/>
<circle cx="213.4" cy="432.1" r="2.8" fill="#70AD47"/>
<circle cx="215.3" cy="442.7" r="2.8" fill="#70AD47"/>
<circle cx="215.1" cy="434.5" r="2.8" fill="#70AD47"/>
<circle cx="215.6" cy="440.1" r="2.8" fill="#70AD47"/>
<circle cx="215.1" cy="430.8" r="2.8" fill="#70AD47"/>
<circle cx="217.3" cy="445.5" r="2.8" fill="#70AD47"/>
<circle cx="216.9" cy="430.7" r="2.8" fill="#70AD47"/>
<circle cx="217.0" cy="423.3" r="2.8" fill="#70AD47"/>
<circle cx="218.7" cy="453.2" r="2.8" fill="#70AD47"/>
<circle cx="218.9" cy="434.3" r="2.8" fill="#70AD47"/>
<circle cx="218.8" cy="428.4" r="2.8" fill="#70AD47"/>
<circle cx="219.0" cy="431.5" r="2.8" fill="#70AD47"/>
<circle cx="220.7" cy="443.8" r="2.8" fill="#70AD47"/>
<circle cx="220.5" cy="427.3" r="2.8" fill="#70AD47"/>
<circle cx="220.6" cy="439.1" r="2.8" fill="#70AD47"/>
<circle cx="220.9" cy="429.2" r="2.8" fill="#70AD47"/>
<circle cx="222.3" cy="435.2" r="2.8" fill="#70AD47"/>
<circle cx="222.6" cy="436.5" r="2.8" fill="#70AD47"/>
<circle cx="222.6" cy="434.6" r="2.8" fill="#70AD47"/>
<circle cx="224.4" cy="452.5" r="2.8" fill="#70AD47"/>
<circle cx="224.5" cy="428.5" r="2.8" fill="#70AD47"/>
<circle cx="224.5" cy="451.1" r="2.8" fill="#70AD47"/>
<circle cx="226.5" cy="433.1" r="2.8" fill="#70AD47"/>
<circle cx="226.0" cy="447.2" r="2.8" fill="#70AD47"/>
<circle cx="226.0" cy="443.5" r="2.8" fill="#70AD47"/>
<circle cx="227.8" cy="423.7" r="2.8" fill="#70AD47"/>
<circle cx="227.7" cy="426.7" r="2.8" fill="#70AD47"/>
<circle cx="227.8" cy="451.1" r="2.8" fill="#70AD47"/>
<circle cx="228.1" cy="437.5" r="2.8" fill="#70AD47"/>
<circle cx="229.9" cy="432.1" r="2.8" fill="#70AD47"/>
<circle cx="230.0" cy="429.5" r="2.8" fill="#70AD47"/>
<circle cx="229.9" cy="451.8" r="2.8" fill="#70AD47"/>
<circle cx="231.8" cy="450.6" r="2.8" fill="#70AD47"/>
<circle cx="231.4" cy="435.2" r="2.8" fill="#70AD47"/>
<circle cx="231.8" cy="426.5" r="2.8" fill="#70AD47"/>
<circle cx="233.8" cy="441.4" r="2.8" fill="#70AD47"/>
<circle cx="233.2" cy="423.9" r="2.8" fill="#70AD47"/>
<circle cx="233.2" cy="440.1" r="2.8" fill="#70AD47"/>
<circle cx="235.1" cy="432.0" r="2.8" fill="#70AD47"/>
<circle cx="235.5" cy="444.1" r="2.8" fill="#70AD47"/>
<circle cx="235.4" cy="447.0" r="2.8" fill="#70AD47"/>
<circle cx="235.6" cy="449.7" r="2.8" fill="#70AD47"/>
<circle cx="237.4" cy="435.6" r="2.8" fill="#70AD47"/>
<circle cx="237.2" cy="429.4" r="2.8" fill="#70AD47"/>
<circle cx="237.2" cy="429.3" r="2.8" fill="#70AD47"/>
<circle cx="238.9" cy="446.1" r="2.8" fill="#70AD47"/>
<circle cx="238.8" cy="444.3" r="2.8" fill="#70AD47"/>
<circle cx="239.0" cy="443.9" r="2.8" fill="#70AD47"/>
<circle cx="238.9" cy="435.2" r="2.8" fill="#70AD47"/>
<circle cx="240.5" cy="445.4" r="2.8" fill="#70AD47"/>
<circle cx="240.7" cy="432.7" r="2.8" fill="#70AD47"/>
<circle cx="240.9" cy="443.8" r="2.8" fill="#70AD47"/>
<circle cx="240.9" cy="446.6" r="2.8" fill="#70AD47"/>
<circle cx="242.7" cy="435.2" r="2.8" fill="#70AD47"/>
<circle cx="242.5" cy="436.0" r="2.8" fill="#70AD47"/>
<circle cx="242.6" cy="435.5" r="2.8" fill="#70AD47"/>
<circle cx="242.7" cy="446.3" r="2.8" fill="#70AD47"/>
<circle cx="244.5" cy="424.4" r="2.8" fill="#70AD47"/>
<circle cx="244.2" cy="436.6" r="2.8" fill="#70AD47"/>
<circle cx="244.3" cy="437.9" r="2.8" fill="#70AD47"/>
<circle cx="244.4" cy="433.9" r="2.8" fill="#70AD47"/>
<circle cx="245.9" cy="425.1" r="2.8" fill="#70AD47"/>
<circle cx="246.2" cy="443.7" r="2.8" fill="#70AD47"/>
<circle cx="246.4" cy="445.4" r="2.8" fill="#70AD47"/>
<circle cx="246.0" cy="449.3" r="2.8" fill="#70AD47"/>
<circle cx="248.0" cy="424.3" r="2.8" fill="#70AD47"/>
<circle cx="247.9" cy="425.9" r="2.8" fill="#70AD47"/>
<circle cx="247.9" cy="450.1" r="2.8" fill="#70AD47"/>
<circle cx="247.8" cy="440.0" r="2.8" fill="#70AD47"/>
<circle cx="249.8" cy="447.5" r="2.8" fill="#70AD47"/>
<circle cx="250.0" cy="425.4" r="2.8" fill="#70AD47"/>
<circle cx="249.8" cy="424.0" r="2.8" fill="#70AD47"/>
<circle cx="249.5" cy="430.2" r="2.8" fill="#70AD47"/>
<circle cx="251.7" cy="432.8" r="2.8" fill="#70AD47"/>
<circle cx="251.7" cy="442.5" r="2.8" fill="#70AD47"/>
<circle cx="251.6" cy="435.3" r="2.8" fill="#70AD47"/>
<circle cx="251.5" cy="424.1" r="2.8" fill="#70AD47"/>
<circle cx="253.4" cy="437.1" r="2.8" fill="#70AD47"/>
<circle cx="253.3" cy="450.9" r="2.8" fill="#70AD47"/>
<circle cx="253.4" cy="432.9" r="2.8" fill="#70AD47"/>
<circle cx="253.3" cy="428.9" r="2.8" fill="#70AD47"/>
<circle cx="253.6" cy="437.6" r="2.8" fill="#70AD47"/>
<circle cx="255.3" cy="446.8" r="2.8" fill="#70AD47"/>
<circle cx="255.0" cy="439.6" r="2.8" fill="#70AD47"/>
<circle cx="255.0" cy="417.1" r="2.8" fill="#70AD47"/>
<circle cx="255.2" cy="427.5" r="2.8" fill="#70AD47"/>
<circle cx="257.1" cy="439.5" r="2.8" fill="#70AD47"/>
<circle cx="256.9" cy="440.3" r="2.8" fill="#70AD47"/>
<circle cx="257.2" cy="426.2" r="2.8" fill="#70AD47"/>
<circle cx="257.3" cy="446.5" r="2.8" fill="#70AD47"/>
<circle cx="256.9" cy="426.0" r="2.8" fill="#70AD47"/>
<circle cx="259.1" cy="447.0" r="2.8" fill="#70AD47"/>
<circle cx="259.0" cy="433.0" r="2.8" fill="#70AD47"/>
<circle cx="259.0" cy="435.6" r="2.8" fill="#70AD47"/>
<circle cx="259.1" cy="420.7" r="2.8" fill="#70AD47"/>
<circle cx="258.7" cy="430.9" r="2.8" fill="#70AD47"/>
<circle cx="260.7" cy="443.8" r="2.8" fill="#70AD47"/>
<circle cx="260.5" cy="418.7" r="2.8" fill="#70AD47"/>
<circle cx="260.7" cy="433.1" r="2.8" fill="#70AD47"/>
<circle cx="261.0" cy="447.4" r="2.8" fill="#70AD47"/>
<circle cx="262.5" cy="425.3" r="2.8" fill="#70AD47"/>
<circle cx="262.8" cy="425.8" r="2.8" fill="#70AD47"/>
<circle cx="262.8" cy="446.0" r="2.8" fill="#70AD47"/>
<circle cx="262.6" cy="436.6" r="2.8" fill="#70AD47"/>
<circle cx="264.5" cy="430.7" r="2.8" fill="#70AD47"/>
<circle cx="264.1" cy="428.6" r="2.8" fill="#70AD47"/>
<circle cx="264.3" cy="421.5" r="2.8" fill="#70AD47"/>
<circle cx="266.2" cy="436.4" r="2.8" fill="#70AD47"/>
<circle cx="266.1" cy="441.6" r="2.8" fill="#70AD47"/>
<circle cx="266.0" cy="444.7" r="2.8" fill="#70AD47"/>
<circle cx="267.8" cy="443.8" r="2.8" fill="#70AD47"/>
<circle cx="267.9" cy="429.4" r="2.8" fill="#70AD47"/>
<circle cx="267.7" cy="441.0" r="2.8" fill="#70AD47"/>
<circle cx="269.7" cy="430.8" r="2.8" fill="#70AD47"/>
<circle cx="269.6" cy="442.9" r="2.8" fill="#70AD47"/>
<circle cx="269.5" cy="433.6" r="2.8" fill="#70AD47"/>
<circle cx="269.8" cy="428.4" r="2.8" fill="#70AD47"/>
<circle cx="271.6" cy="442.0" r="2.8" fill="#70AD47"/>
<circle cx="271.8" cy="439.0" r="2.8" fill="#70AD47"/>
<circle cx="271.7" cy="439.7" r="2.8" fill="#70AD47"/>
<circle cx="273.6" cy="417.4" r="2.8" fill="#70AD47"/>
<circle cx="273.1" cy="438.8" r="2.8" fill="#70AD47"/>
<circle cx="273.2" cy="420.8" r="2.8" fill="#70AD47"/>
<circle cx="275.1" cy="432.1" r="2.8" fill="#70AD47"/>
<circle cx="275.3" cy="429.1" r="2.8" fill="#70AD47"/>
<circle cx="276.8" cy="424.6" r="2.8" fill="#70AD47"/>
<circle cx="277.3" cy="436.2" r="2.8" fill="#70AD47"/>
<circle cx="276.9" cy="433.9" r="2.8" fill="#70AD47"/>
<circle cx="278.9" cy="433.7" r="2.8" fill="#70AD47"/>
<circle cx="278.9" cy="425.5" r="2.8" fill="#70AD47"/>
<circle cx="278.9" cy="422.1" r="2.8" fill="#70AD47"/>
<circle cx="280.5" cy="422.0" r="2.8" fill="#70AD47"/>
<circle cx="280.6" cy="425.7" r="2.8" fill="#70AD47"/>
<circle cx="280.9" cy="416.9" r="2.8" fill="#70AD47"/>
<circle cx="282.2" cy="416.9" r="2.8" fill="#70AD47"/>
<circle cx="282.2" cy="426.0" r="2.8" fill="#70AD47"/>
<circle cx="282.5" cy="425.7" r="2.8" fill="#70AD47"/>
<circle cx="284.3" cy="422.2" r="2.8" fill="#70AD47"/>
<circle cx="284.2" cy="408.5" r="2.8" fill="#70AD47"/>
<circle cx="284.2" cy="418.1" r="2.8" fill="#70AD47"/>
<circle cx="284.2" cy="431.9" r="2.8" fill="#70AD47"/>
<circle cx="286.3" cy="419.8" r="2.8" fill="#70AD47"/>
<circle cx="286.0" cy="430.8" r="2.8" fill="#70AD47"/>
<circle cx="286.4" cy="420.8" r="2.8" fill="#70AD47"/>
<circle cx="288.2" cy="407.0" r="2.8" fill="#70AD47"/>
<circle cx="288.2" cy="414.6" r="2.8" fill="#70AD47"/>
<circle cx="288.2" cy="429.7" r="2.8" fill="#70AD47"/>
<circle cx="289.9" cy="413.6" r="2.8" fill="#70AD47"/>
<circle cx="289.5" cy="406.5" r="2.8" fill="#70AD47"/>
<circle cx="289.8" cy="426.9" r="2.8" fill="#70AD47"/>
<circle cx="291.4" cy="427.3" r="2.8" fill="#70AD47"/>
<circle cx="291.8" cy="427.5" r="2.8" fill="#70AD47"/>
<circle cx="291.8" cy="420.2" r="2.8" fill="#70AD47"/>
<circle cx="291.4" cy="412.3" r="2.8" fill="#70AD47"/>
<circle cx="293.3" cy="430.3" r="2.8" fill="#70AD47"/>
<circle cx="293.7" cy="417.6" r="2.8" fill="#70AD47"/>
<circle cx="293.5" cy="420.5" r="2.8" fill="#70AD47"/>
<circle cx="295.0" cy="402.1" r="2.8" fill="#70AD47"/>
<circle cx="295.4" cy="415.7" r="2.8" fill="#70AD47"/>
<circle cx="295.2" cy="406.1" r="2.8" fill="#70AD47"/>
<circle cx="295.2" cy="415.7" r="2.8" fill="#70AD47"/>
<circle cx="297.1" cy="406.4" r="2.8" fill="#70AD47"/>
<circle cx="297.3" cy="406.2" r="2.8" fill="#70AD47"/>
<circle cx="297.2" cy="416.6" r="2.8" fill="#70AD47"/>
<circle cx="298.9" cy="415.1" r="2.8" fill="#70AD47"/>
<circle cx="298.6" cy="427.5" r="2.8" fill="#70AD47"/>
<circle cx="298.7" cy="422.4" r="2.8" fill="#70AD47"/>
<circle cx="298.8" cy="414.3" r="2.8" fill="#70AD47"/>
<circle cx="300.5" cy="432.2" r="2.8" fill="#70AD47"/>
<circle cx="300.9" cy="409.1" r="2.8" fill="#70AD47"/>
<circle cx="300.7" cy="415.5" r="2.8" fill="#70AD47"/>
<circle cx="300.4" cy="431.3" r="2.8" fill="#70AD47"/>
<circle cx="302.7" cy="422.5" r="2.8" fill="#70AD47"/>
<circle cx="302.7" cy="398.5" r="2.8" fill="#70AD47"/>
<circle cx="302.3" cy="411.4" r="2.8" fill="#70AD47"/>
<circle cx="302.4" cy="407.7" r="2.8" fill="#70AD47"/>
<circle cx="304.4" cy="411.2" r="2.8" fill="#70AD47"/>
<circle cx="304.2" cy="398.9" r="2.8" fill="#70AD47"/>
<circle cx="304.2" cy="412.4" r="2.8" fill="#70AD47"/>
<circle cx="304.2" cy="415.9" r="2.8" fill="#70AD47"/>
<circle cx="306.3" cy="425.5" r="2.8" fill="#70AD47"/>
<circle cx="305.9" cy="409.7" r="2.8" fill="#70AD47"/>
<circle cx="305.8" cy="415.3" r="2.8" fill="#70AD47"/>
<circle cx="306.2" cy="424.6" r="2.8" fill="#70AD47"/>
<circle cx="305.9" cy="413.6" r="2.8" fill="#70AD47"/>
<circle cx="307.7" cy="426.5" r="2.8" fill="#70AD47"/>
<circle cx="308.0" cy="423.5" r="2.8" fill="#70AD47"/>
<circle cx="307.6" cy="407.6" r="2.8" fill="#70AD47"/>
<circle cx="308.1" cy="430.8" r="2.8" fill="#70AD47"/>
<circle cx="310.0" cy="426.1" r="2.8" fill="#70AD47"/>
<circle cx="309.9" cy="436.3" r="2.8" fill="#70AD47"/>
<circle cx="309.6" cy="407.2" r="2.8" fill="#70AD47"/>
<circle cx="309.7" cy="408.6" r="2.8" fill="#70AD47"/>
<circle cx="311.7" cy="424.8" r="2.8" fill="#70AD47"/>
<circle cx="311.6" cy="405.1" r="2.8" fill="#70AD47"/>
<circle cx="311.6" cy="431.3" r="2.8" fill="#70AD47"/>
<circle cx="311.5" cy="427.2" r="2.8" fill="#70AD47"/>
<circle cx="313.3" cy="427.4" r="2.8" fill="#70AD47"/>
<circle cx="313.4" cy="431.2" r="2.8" fill="#70AD47"/>
<circle cx="313.5" cy="431.2" r="2.8" fill="#70AD47"/>
<circle cx="313.5" cy="421.5" r="2.8" fill="#70AD47"/>
<circle cx="315.0" cy="425.3" r="2.8" fill="#70AD47"/>
<circle cx="315.2" cy="413.7" r="2.8" fill="#70AD47"/>
<circle cx="315.3" cy="420.6" r="2.8" fill="#70AD47"/>
<circle cx="316.7" cy="413.1" r="2.8" fill="#70AD47"/>
<circle cx="317.0" cy="425.7" r="2.8" fill="#70AD47"/>
<circle cx="317.2" cy="425.8" r="2.8" fill="#70AD47"/>
<circle cx="318.9" cy="410.2" r="2.8" fill="#70AD47"/>
<circle cx="318.8" cy="418.1" r="2.8" fill="#70AD47"/>
<circle cx="318.8" cy="424.5" r="2.8" fill="#70AD47"/>
<circle cx="318.7" cy="425.7" r="2.8" fill="#70AD47"/>
<circle cx="320.7" cy="417.0" r="2.8" fill="#70AD47"/>
<circle cx="320.6" cy="413.1" r="2.8" fill="#70AD47"/>
<circle cx="320.7" cy="421.6" r="2.8" fill="#70AD47"/>
<circle cx="322.4" cy="415.0" r="2.8" fill="#70AD47"/>
<circle cx="322.6" cy="430.4" r="2.8" fill="#70AD47"/>
<circle cx="322.4" cy="417.5" r="2.8" fill="#70AD47"/>
<circle cx="322.6" cy="420.2" r="2.8" fill="#70AD47"/>
<circle cx="324.1" cy="430.3" r="2.8" fill="#70AD47"/>
<circle cx="324.3" cy="428.3" r="2.8" fill="#70AD47"/>
<circle cx="324.3" cy="417.0" r="2.8" fill="#70AD47"/>
<circle cx="324.2" cy="429.6" r="2.8" fill="#70AD47"/>
<circle cx="326.2" cy="424.9" r="2.8" fill="#70AD47"/>
<circle cx="326.3" cy="407.5" r="2.8" fill="#70AD47"/>
<circle cx="326.2" cy="416.4" r="2.8" fill="#70AD47"/>
<circle cx="325.9" cy="417.8" r="2.8" fill="#70AD47"/>
<circle cx="327.7" cy="412.9" r="2.8" fill="#70AD47"/>
<circle cx="327.7" cy="417.0" r="2.8" fill="#70AD47"/>
<circle cx="327.9" cy="425.5" r="2.8" fill="#70AD47"/>
<circle cx="329.8" cy="408.2" r="2.8" fill="#70AD47"/>
<circle cx="329.4" cy="419.6" r="2.8" fill="#70AD47"/>
<circle cx="330.0" cy="415.9" r="2.8" fill="#70AD47"/>
<circle cx="329.6" cy="412.1" r="2.8" fill="#70AD47"/>
<circle cx="329.5" cy="417.4" r="2.8" fill="#70AD47"/>
<circle cx="331.7" cy="419.5" r="2.8" fill="#70AD47"/>
<circle cx="331.8" cy="412.1" r="2.8" fill="#70AD47"/>
<circle cx="331.2" cy="408.8" r="2.8" fill="#70AD47"/>
<circle cx="331.6" cy="414.2" r="2.8" fill="#70AD47"/>
<circle cx="333.6" cy="399.5" r="2.8" fill="#70AD47"/>
<circle cx="333.1" cy="407.0" r="2.8" fill="#70AD47"/>
<circle cx="333.4" cy="410.2" r="2.8" fill="#70AD47"/>
<circle cx="333.4" cy="425.2" r="2.8" fill="#70AD47"/>
<circle cx="335.4" cy="403.2" r="2.8" fill="#70AD47"/>
<circle cx="335.0" cy="419.5" r="2.8" fill="#70AD47"/>
<circle cx="335.1" cy="428.6" r="2.8" fill="#70AD47"/>
<circle cx="334.9" cy="422.0" r="2.8" fill="#70AD47"/>
<circle cx="337.1" cy="426.2" r="2.8" fill="#70AD47"/>
<circle cx="337.2" cy="415.3" r="2.8" fill="#70AD47"/>
<circle cx="336.8" cy="396.6" r="2.8" fill="#70AD47"/>
<circle cx="338.8" cy="399.4" r="2.8" fill="#70AD47"/>
<circle cx="338.7" cy="419.9" r="2.8" fill="#70AD47"/>
<circle cx="339.0" cy="412.0" r="2.8" fill="#70AD47"/>
<circle cx="338.5" cy="423.0" r="2.8" fill="#70AD47"/>
<circle cx="340.5" cy="412.2" r="2.8" fill="#70AD47"/>
<circle cx="340.3" cy="401.6" r="2.8" fill="#70AD47"/>
<circle cx="340.4" cy="421.3" r="2.8" fill="#70AD47"/>
<circle cx="340.5" cy="422.1" r="2.8" fill="#70AD47"/>
<circle cx="342.2" cy="414.4" r="2.8" fill="#70AD47"/>
<circle cx="342.4" cy="409.3" r="2.8" fill="#70AD47"/>
<circle cx="342.2" cy="429.4" r="2.8" fill="#70AD47"/>
<circle cx="342.2" cy="423.8" r="2.8" fill="#70AD47"/>
<circle cx="344.1" cy="405.1" r="2.8" fill="#70AD47"/>
<circle cx="344.1" cy="410.8" r="2.8" fill="#70AD47"/>
<circle cx="344.1" cy="408.0" r="2.8" fill="#70AD47"/>
<circle cx="344.0" cy="413.4" r="2.8" fill="#70AD47"/>
<circle cx="344.4" cy="408.8" r="2.8" fill="#70AD47"/>
<circle cx="346.1" cy="401.1" r="2.8" fill="#70AD47"/>
<circle cx="345.9" cy="396.1" r="2.8" fill="#70AD47"/>
<circle cx="346.3" cy="420.0" r="2.8" fill="#70AD47"/>
<circle cx="346.0" cy="408.0" r="2.8" fill="#70AD47"/>
<circle cx="346.0" cy="414.9" r="2.8" fill="#70AD47"/>
<circle cx="347.8" cy="393.7" r="2.8" fill="#70AD47"/>
<circle cx="347.5" cy="406.0" r="2.8" fill="#70AD47"/>
<circle cx="348.1" cy="425.1" r="2.8" fill="#70AD47"/>
<circle cx="347.7" cy="410.0" r="2.8" fill="#70AD47"/>
<circle cx="349.9" cy="407.5" r="2.8" fill="#70AD47"/>
<circle cx="349.9" cy="421.9" r="2.8" fill="#70AD47"/>
<circle cx="349.9" cy="425.8" r="2.8" fill="#70AD47"/>
<circle cx="349.6" cy="412.0" r="2.8" fill="#70AD47"/>
<circle cx="351.4" cy="408.6" r="2.8" fill="#70AD47"/>
<circle cx="351.5" cy="406.3" r="2.8" fill="#70AD47"/>
<circle cx="351.5" cy="408.4" r="2.8" fill="#70AD47"/>
<circle cx="351.3" cy="396.5" r="2.8" fill="#70AD47"/>
<circle cx="353.5" cy="409.8" r="2.8" fill="#70AD47"/>
<circle cx="353.6" cy="395.1" r="2.8" fill="#70AD47"/>
<circle cx="353.5" cy="391.2" r="2.8" fill="#70AD47"/>
<circle cx="353.2" cy="402.6" r="2.8" fill="#70AD47"/>
<circle cx="353.4" cy="422.7" r="2.8" fill="#70AD47"/>
<circle cx="355.0" cy="399.7" r="2.8" fill="#70AD47"/>
<circle cx="355.3" cy="419.7" r="2.8" fill="#70AD47"/>
<circle cx="355.0" cy="396.8" r="2.8" fill="#70AD47"/>
<circle cx="354.9" cy="408.0" r="2.8" fill="#70AD47"/>
<circle cx="356.8" cy="415.8" r="2.8" fill="#70AD47"/>
<circle cx="357.0" cy="405.2" r="2.8" fill="#70AD47"/>
<circle cx="356.9" cy="399.0" r="2.8" fill="#70AD47"/>
<circle cx="357.1" cy="391.8" r="2.8" fill="#70AD47"/>
<circle cx="359.0" cy="418.1" r="2.8" fill="#70AD47"/>
<circle cx="358.7" cy="407.3" r="2.8" fill="#70AD47"/>
<circle cx="358.5" cy="395.2" r="2.8" fill="#70AD47"/>
<circle cx="358.9" cy="404.4" r="2.8" fill="#70AD47"/>
<circle cx="358.9" cy="401.8" r="2.8" fill="#70AD47"/>
<circle cx="360.3" cy="414.0" r="2.8" fill="#70AD47"/>
<circle cx="360.5" cy="421.8" r="2.8" fill="#70AD47"/>
<circle cx="360.8" cy="415.2" r="2.8" fill="#70AD47"/>
<circle cx="360.5" cy="405.3" r="2.8" fill="#70AD47"/>
<circle cx="362.3" cy="399.3" r="2.8" fill="#70AD47"/>
<circle cx="362.1" cy="397.7" r="2.8" fill="#70AD47"/>
<circle cx="362.1" cy="415.5" r="2.8" fill="#70AD47"/>
<circle cx="364.4" cy="400.3" r="2.8" fill="#70AD47"/>
<circle cx="364.2" cy="408.5" r="2.8" fill="#70AD47"/>
<circle cx="364.4" cy="403.7" r="2.8" fill="#70AD47"/>
<circle cx="366.2" cy="402.4" r="2.8" fill="#70AD47"/>
<circle cx="366.1" cy="418.0" r="2.8" fill="#70AD47"/>
<circle cx="366.2" cy="404.8" r="2.8" fill="#70AD47"/>
<circle cx="367.6" cy="416.2" r="2.8" fill="#70AD47"/>
<circle cx="368.0" cy="419.2" r="2.8" fill="#70AD47"/>
<circle cx="368.0" cy="417.3" r="2.8" fill="#70AD47"/>
<circle cx="369.6" cy="404.7" r="2.8" fill="#70AD47"/>
<circle cx="369.8" cy="394.7" r="2.8" fill="#70AD47"/>
<circle cx="369.7" cy="414.9" r="2.8" fill="#70AD47"/>
<circle cx="371.3" cy="404.1" r="2.8" fill="#70AD47"/>
<circle cx="371.6" cy="413.4" r="2.8" fill="#70AD47"/>
<circle cx="371.6" cy="417.4" r="2.8" fill="#70AD47"/>
<circle cx="373.1" cy="413.4" r="2.8" fill="#70AD47"/>
<circle cx="373.4" cy="416.0" r="2.8" fill="#70AD47"/>
<circle cx="373.5" cy="416.5" r="2.8" fill="#70AD47"/>
<circle cx="374.9" cy="393.6" r="2.8" fill="#70AD47"/>
<circle cx="374.8" cy="407.4" r="2.8" fill="#70AD47"/>
<circle cx="375.3" cy="408.8" r="2.8" fill="#70AD47"/>
<circle cx="376.9" cy="405.0" r="2.8" fill="#70AD47"/>
<circle cx="376.9" cy="404.5" r="2.8" fill="#70AD47"/>
<circle cx="379.0" cy="399.0" r="2.8" fill="#70AD47"/>
<circle cx="378.4" cy="393.2" r="2.8" fill="#70AD47"/>
<circle cx="378.9" cy="395.9" r="2.8" fill="#70AD47"/>
<circle cx="380.7" cy="402.6" r="2.8" fill="#70AD47"/>
<circle cx="380.2" cy="409.3" r="2.8" fill="#70AD47"/>
<circle cx="380.5" cy="394.2" r="2.8" fill="#70AD47"/>
<circle cx="382.5" cy="401.7" r="2.8" fill="#70AD47"/>
<circle cx="382.6" cy="398.2" r="2.8" fill="#70AD47"/>
<circle cx="382.2" cy="400.9" r="2.8" fill="#70AD47"/>
<circle cx="384.0" cy="401.5" r="2.8" fill="#70AD47"/>
<circle cx="384.4" cy="409.7" r="2.8" fill="#70AD47"/>
<circle cx="386.2" cy="395.5" r="2.8" fill="#70AD47"/>
<circle cx="386.2" cy="399.0" r="2.8" fill="#70AD47"/>
<circle cx="385.9" cy="395.6" r="2.8" fill="#70AD47"/>
<circle cx="387.5" cy="395.2" r="2.8" fill="#70AD47"/>
<circle cx="387.9" cy="410.0" r="2.8" fill="#70AD47"/>
<circle cx="387.9" cy="410.0" r="2.8" fill="#70AD47"/>
<circle cx="389.8" cy="392.5" r="2.8" fill="#70AD47"/>
<circle cx="389.6" cy="410.0" r="2.8" fill="#70AD47"/>
<circle cx="389.4" cy="405.2" r="2.8" fill="#70AD47"/>
<circle cx="391.5" cy="406.8" r="2.8" fill="#70AD47"/>
<circle cx="391.4" cy="408.0" r="2.8" fill="#70AD47"/>
<circle cx="391.2" cy="392.7" r="2.8" fill="#70AD47"/>
<circle cx="393.1" cy="386.1" r="2.8" fill="#70AD47"/>
<circle cx="393.4" cy="398.2" r="2.8" fill="#70AD47"/>
<circle cx="393.4" cy="411.7" r="2.8" fill="#70AD47"/>
<circle cx="393.2" cy="406.5" r="2.8" fill="#70AD47"/>
<circle cx="395.0" cy="408.0" r="2.8" fill="#70AD47"/>
<circle cx="394.9" cy="395.3" r="2.8" fill="#70AD47"/>
<circle cx="395.1" cy="401.3" r="2.8" fill="#70AD47"/>
<circle cx="396.6" cy="404.0" r="2.8" fill="#70AD47"/>
<circle cx="397.0" cy="404.9" r="2.8" fill="#70AD47"/>
<circle cx="396.9" cy="390.2" r="2.8" fill="#70AD47"/>
<circle cx="398.4" cy="399.0" r="2.8" fill="#70AD47"/>
<circle cx="398.8" cy="390.6" r="2.8" fill="#70AD47"/>
<circle cx="398.4" cy="395.2" r="2.8" fill="#70AD47"/>
<circle cx="400.6" cy="408.8" r="2.8" fill="#70AD47"/>
<circle cx="400.6" cy="404.2" r="2.8" fill="#70AD47"/>
<circle cx="400.5" cy="408.8" r="2.8" fill="#70AD47"/>
<circle cx="402.0" cy="394.2" r="2.8" fill="#70AD47"/>
<circle cx="402.4" cy="394.8" r="2.8" fill="#70AD47"/>
<circle cx="403.8" cy="406.2" r="2.8" fill="#70AD47"/>
<circle cx="404.0" cy="405.4" r="2.8" fill="#70AD47"/>
<circle cx="405.7" cy="404.4" r="2.8" fill="#70AD47"/>
<circle cx="405.9" cy="402.2" r="2.8" fill="#70AD47"/>
<circle cx="407.7" cy="408.7" r="2.8" fill="#70AD47"/>
<circle cx="407.6" cy="401.6" r="2.8" fill="#70AD47"/>
<circle cx="409.3" cy="406.0" r="2.8" fill="#70AD47"/>
<circle cx="409.6" cy="400.3" r="2.8" fill="#70AD47"/>
<circle cx="411.6" cy="409.8" r="2.8" fill="#70AD47"/>
<circle cx="411.5" cy="410.6" r="2.8" fill="#70AD47"/>
<circle cx="413.3" cy="409.8" r="2.8" fill="#70AD47"/>
<circle cx="413.0" cy="408.3" r="2.8" fill="#70AD47"/>
<circle cx="415.2" cy="398.9" r="2.8" fill="#70AD47"/>
<circle cx="415.1" cy="407.8" r="2.8" fill="#70AD47"/>
<circle cx="416.7" cy="402.9" r="2.8" fill="#70AD47"/>
<circle cx="416.9" cy="402.3" r="2.8" fill="#70AD47"/>
<circle cx="418.7" cy="406.1" r="2.8" fill="#70AD47"/>
<circle cx="418.4" cy="408.7" r="2.8" fill="#70AD47"/>
<circle cx="420.7" cy="402.4" r="2.8" fill="#70AD47"/>
<circle cx="420.4" cy="405.5" r="2.8" fill="#70AD47"/>
<circle cx="422.5" cy="400.4" r="2.8" fill="#70AD47"/>
<circle cx="422.4" cy="399.2" r="2.8" fill="#70AD47"/>
<circle cx="424.0" cy="399.0" r="2.8" fill="#70AD47"/>
<circle cx="424.3" cy="405.4" r="2.8" fill="#70AD47"/>
<circle cx="428.8" cy="395.6" r="2.8" fill="#70AD47"/>
<circle cx="428.6" cy="391.1" r="2.8" fill="#70AD47"/>
<circle cx="431.9" cy="404.7" r="2.8" fill="#70AD47"/>
<circle cx="431.9" cy="405.5" r="2.8" fill="#70AD47"/>
<circle cx="434.1" cy="407.4" r="2.8" fill="#70AD47"/>
<circle cx="433.9" cy="405.1" r="2.8" fill="#70AD47"/>
<circle cx="435.8" cy="397.1" r="2.8" fill="#70AD47"/>
<circle cx="436.0" cy="392.1" r="2.8" fill="#70AD47"/>
<circle cx="443.4" cy="391.8" r="2.8" fill="#70AD47"/>
<circle cx="443.6" cy="401.5" r="2.8" fill="#70AD47"/>
<circle cx="445.1" cy="393.3" r="2.8" fill="#70AD47"/>
<circle cx="445.4" cy="407.4" r="2.8" fill="#70AD47"/>
<circle cx="447.0" cy="404.0" r="2.8" fill="#70AD47"/>
<circle cx="447.1" cy="395.8" r="2.8" fill="#70AD47"/>
<circle cx="448.9" cy="403.0" r="2.8" fill="#70AD47"/>
<circle cx="448.7" cy="401.5" r="2.8" fill="#70AD47"/>
<circle cx="452.8" cy="395.4" r="2.8" fill="#70AD47"/>
<circle cx="452.6" cy="396.5" r="2.8" fill="#70AD47"/>
<circle cx="464.3" cy="393.8" r="2.8" fill="#70AD47"/>
<circle cx="464.3" cy="394.9" r="2.8" fill="#70AD47"/>
<circle cx="471.0" cy="393.0" r="2.8" fill="#70AD47"/>
<circle cx="470.7" cy="395.7" r="2.8" fill="#70AD47"/>
<circle cx="474.3" cy="398.6" r="2.8" fill="#70AD47"/>
<circle cx="474.3" cy="398.6" r="2.8" fill="#70AD47"/>
<circle cx="225.1" cy="418.4" r="2.8" fill="#70AD47"/>
<circle cx="224.5" cy="419.9" r="2.8" fill="#70AD47"/>
<circle cx="263.9" cy="399.2" r="2.8" fill="#70AD47"/>
<circle cx="263.9" cy="398.9" r="2.8" fill="#70AD47"/>
<circle cx="294.5" cy="441.2" r="2.8" fill="#70AD47"/>
<circle cx="294.8" cy="444.3" r="2.8" fill="#70AD47"/>
<circle cx="170.9" cy="442.0" r="2.8" fill="#70AD47"/>
<circle cx="170.9" cy="442.0" r="2.8" fill="#70AD47"/>
<circle cx="179.8" cy="464.1" r="2.8" fill="#70AD47"/>
<circle cx="179.8" cy="462.0" r="2.8" fill="#70AD47"/>
<circle cx="124.7" cy="459.3" r="2.8" fill="#264478"/>
<circle cx="126.1" cy="460.8" r="2.8" fill="#264478"/>
<circle cx="126.2" cy="463.2" r="2.8" fill="#264478"/>
<circle cx="128.3" cy="458.8" r="2.8" fill="#264478"/>
<circle cx="128.2" cy="463.9" r="2.8" fill="#264478"/>
<circle cx="130.1" cy="459.9" r="2.8" fill="#264478"/>
<circle cx="131.6" cy="457.7" r="2.8" fill="#264478"/>
<circle cx="133.6" cy="452.5" r="2.8" fill="#264478"/>
<circle cx="135.5" cy="464.0" r="2.8" fill="#264478"/>
<circle cx="135.6" cy="462.8" r="2.8" fill="#264478"/>
<circle cx="135.3" cy="457.5" r="2.8" fill="#264478"/>
<circle cx="137.6" cy="461.5" r="2.8" fill="#264478"/>
<circle cx="137.0" cy="454.1" r="2.8" fill="#264478"/>
<circle cx="139.1" cy="456.2" r="2.8" fill="#264478"/>
<circle cx="139.0" cy="461.5" r="2.8" fill="#264478"/>
<circle cx="139.2" cy="455.1" r="2.8" fill="#264478"/>
<circle cx="141.0" cy="455.0" r="2.8" fill="#264478"/>
<circle cx="140.9" cy="462.1" r="2.8" fill="#264478"/>
<circle cx="142.5" cy="453.1" r="2.8" fill="#264478"/>
<circle cx="143.0" cy="451.6" r="2.8" fill="#264478"/>
<circle cx="144.4" cy="449.2" r="2.8" fill="#264478"/>
<circle cx="144.7" cy="453.0" r="2.8" fill="#264478"/>
<circle cx="144.7" cy="455.8" r="2.8" fill="#264478"/>
<circle cx="146.6" cy="448.8" r="2.8" fill="#264478"/>
<circle cx="146.4" cy="453.4" r="2.8" fill="#264478"/>
<circle cx="148.0" cy="458.4" r="2.8" fill="#264478"/>
<circle cx="148.3" cy="456.7" r="2.8" fill="#264478"/>
<circle cx="148.3" cy="458.8" r="2.8" fill="#264478"/>
<circle cx="150.1" cy="454.4" r="2.8" fill="#264478"/>
<circle cx="149.9" cy="459.4" r="2.8" fill="#264478"/>
<circle cx="151.8" cy="450.0" r="2.8" fill="#264478"/>
<circle cx="152.1" cy="451.0" r="2.8" fill="#264478"/>
<circle cx="152.0" cy="454.2" r="2.8" fill="#264478"/>
<circle cx="153.8" cy="461.9" r="2.8" fill="#264478"/>
<circle cx="153.4" cy="449.4" r="2.8" fill="#264478"/>
<circle cx="153.4" cy="450.9" r="2.8" fill="#264478"/>
<circle cx="155.1" cy="459.5" r="2.8" fill="#264478"/>
<circle cx="155.2" cy="460.8" r="2.8" fill="#264478"/>
<circle cx="155.2" cy="448.6" r="2.8" fill="#264478"/>
<circle cx="157.5" cy="462.0" r="2.8" fill="#264478"/>
<circle cx="157.1" cy="444.7" r="2.8" fill="#264478"/>
<circle cx="157.5" cy="451.9" r="2.8" fill="#264478"/>
<circle cx="158.8" cy="460.1" r="2.8" fill="#264478"/>
<circle cx="159.2" cy="446.2" r="2.8" fill="#264478"/>
<circle cx="159.2" cy="444.2" r="2.8" fill="#264478"/>
<circle cx="161.1" cy="461.2" r="2.8" fill="#264478"/>
<circle cx="160.7" cy="451.3" r="2.8" fill="#264478"/>
<circle cx="160.8" cy="444.8" r="2.8" fill="#264478"/>
<circle cx="162.9" cy="448.4" r="2.8" fill="#264478"/>
<circle cx="162.8" cy="460.8" r="2.8" fill="#264478"/>
<circle cx="164.3" cy="450.1" r="2.8" fill="#264478"/>
<circle cx="164.8" cy="448.9" r="2.8" fill="#264478"/>
<circle cx="166.4" cy="456.7" r="2.8" fill="#264478"/>
<circle cx="166.6" cy="451.9" r="2.8" fill="#264478"/>
<circle cx="168.3" cy="454.5" r="2.8" fill="#264478"/>
<circle cx="168.1" cy="442.5" r="2.8" fill="#264478"/>
<circle cx="168.2" cy="453.8" r="2.8" fill="#264478"/>
<circle cx="170.2" cy="454.9" r="2.8" fill="#264478"/>
<circle cx="169.9" cy="457.0" r="2.8" fill="#264478"/>
<circle cx="169.7" cy="444.0" r="2.8" fill="#264478"/>
<circle cx="171.8" cy="447.8" r="2.8" fill="#264478"/>
<circle cx="171.7" cy="447.5" r="2.8" fill="#264478"/>
<circle cx="171.5" cy="452.4" r="2.8" fill="#264478"/>
<circle cx="173.9" cy="449.2" r="2.8" fill="#264478"/>
<circle cx="173.6" cy="446.0" r="2.8" fill="#264478"/>
<circle cx="173.5" cy="450.4" r="2.8" fill="#264478"/>
<circle cx="175.5" cy="444.6" r="2.8" fill="#264478"/>
<circle cx="175.7" cy="450.7" r="2.8" fill="#264478"/>
<circle cx="175.7" cy="445.4" r="2.8" fill="#264478"/>
<circle cx="176.9" cy="444.6" r="2.8" fill="#264478"/>
<circle cx="177.1" cy="446.2" r="2.8" fill="#264478"/>
<circle cx="179.3" cy="457.0" r="2.8" fill="#264478"/>
<circle cx="179.3" cy="445.2" r="2.8" fill="#264478"/>
<circle cx="181.0" cy="446.5" r="2.8" fill="#264478"/>
<circle cx="180.8" cy="444.2" r="2.8" fill="#264478"/>
<circle cx="182.5" cy="446.4" r="2.8" fill="#264478"/>
<circle cx="182.6" cy="439.8" r="2.8" fill="#264478"/>
<circle cx="184.4" cy="456.9" r="2.8" fill="#264478"/>
<circle cx="184.5" cy="452.6" r="2.8" fill="#264478"/>
<circle cx="184.4" cy="453.0" r="2.8" fill="#264478"/>
<circle cx="186.1" cy="447.2" r="2.8" fill="#264478"/>
<circle cx="186.2" cy="456.8" r="2.8" fill="#264478"/>
<circle cx="188.3" cy="445.8" r="2.8" fill="#264478"/>
<circle cx="188.0" cy="456.0" r="2.8" fill="#264478"/>
<circle cx="190.0" cy="453.4" r="2.8" fill="#264478"/>
<circle cx="190.1" cy="442.9" r="2.8" fill="#264478"/>
<circle cx="190.1" cy="447.8" r="2.8" fill="#264478"/>
<circle cx="191.7" cy="455.5" r="2.8" fill="#264478"/>
<circle cx="191.6" cy="452.0" r="2.8" fill="#264478"/>
<circle cx="191.6" cy="451.2" r="2.8" fill="#264478"/>
<circle cx="193.3" cy="457.7" r="2.8" fill="#264478"/>
<circle cx="193.3" cy="454.8" r="2.8" fill="#264478"/>
<circle cx="193.7" cy="451.9" r="2.8" fill="#264478"/>
<circle cx="195.4" cy="452.9" r="2.8" fill="#264478"/>
<circle cx="195.3" cy="445.6" r="2.8" fill="#264478"/>
<circle cx="195.6" cy="455.9" r="2.8" fill="#264478"/>
<circle cx="197.1" cy="442.1" r="2.8" fill="#264478"/>
<circle cx="197.4" cy="448.1" r="2.8" fill="#264478"/>
<circle cx="198.7" cy="447.9" r="2.8" fill="#264478"/>
<circle cx="199.2" cy="443.8" r="2.8" fill="#264478"/>
<circle cx="200.9" cy="451.4" r="2.8" fill="#264478"/>
<circle cx="200.7" cy="438.7" r="2.8" fill="#264478"/>
<circle cx="200.6" cy="452.8" r="2.8" fill="#264478"/>
<circle cx="202.4" cy="437.7" r="2.8" fill="#264478"/>
<circle cx="202.9" cy="435.5" r="2.8" fill="#264478"/>
<circle cx="202.6" cy="442.5" r="2.8" fill="#264478"/>
<circle cx="204.2" cy="436.9" r="2.8" fill="#264478"/>
<circle cx="204.4" cy="452.2" r="2.8" fill="#264478"/>
<circle cx="204.4" cy="437.7" r="2.8" fill="#264478"/>
<circle cx="206.5" cy="442.8" r="2.8" fill="#264478"/>
<circle cx="206.0" cy="438.2" r="2.8" fill="#264478"/>
<circle cx="206.3" cy="450.6" r="2.8" fill="#264478"/>
<circle cx="206.3" cy="435.7" r="2.8" fill="#264478"/>
<circle cx="208.0" cy="449.1" r="2.8" fill="#264478"/>
<circle cx="208.2" cy="438.0" r="2.8" fill="#264478"/>
<circle cx="208.1" cy="444.3" r="2.8" fill="#264478"/>
<circle cx="207.9" cy="439.4" r="2.8" fill="#264478"/>
<circle cx="209.8" cy="440.7" r="2.8" fill="#264478"/>
<circle cx="209.8" cy="434.6" r="2.8" fill="#264478"/>
<circle cx="210.1" cy="445.1" r="2.8" fill="#264478"/>
<circle cx="209.8" cy="439.4" r="2.8" fill="#264478"/>
<circle cx="212.0" cy="439.4" r="2.8" fill="#264478"/>
<circle cx="211.8" cy="425.0" r="2.8" fill="#264478"/>
<circle cx="211.6" cy="427.8" r="2.8" fill="#264478"/>
<circle cx="211.8" cy="448.7" r="2.8" fill="#264478"/>
<circle cx="213.4" cy="452.0" r="2.8" fill="#264478"/>
<circle cx="213.2" cy="439.6" r="2.8" fill="#264478"/>
<circle cx="213.5" cy="431.7" r="2.8" fill="#264478"/>
<circle cx="213.4" cy="430.3" r="2.8" fill="#264478"/>
<circle cx="215.5" cy="438.4" r="2.8" fill="#264478"/>
<circle cx="215.5" cy="429.7" r="2.8" fill="#264478"/>
<circle cx="215.2" cy="433.6" r="2.8" fill="#264478"/>
<circle cx="215.2" cy="430.9" r="2.8" fill="#264478"/>
<circle cx="216.9" cy="441.4" r="2.8" fill="#264478"/>
<circle cx="217.3" cy="426.1" r="2.8" fill="#264478"/>
<circle cx="217.1" cy="424.2" r="2.8" fill="#264478"/>
<circle cx="219.1" cy="445.9" r="2.8" fill="#264478"/>
<circle cx="218.7" cy="430.3" r="2.8" fill="#264478"/>
<circle cx="219.1" cy="425.3" r="2.8" fill="#264478"/>
<circle cx="219.1" cy="431.0" r="2.8" fill="#264478"/>
<circle cx="220.6" cy="444.9" r="2.8" fill="#264478"/>
<circle cx="220.9" cy="425.6" r="2.8" fill="#264478"/>
<circle cx="220.9" cy="442.8" r="2.8" fill="#264478"/>
<circle cx="220.8" cy="431.0" r="2.8" fill="#264478"/>
<circle cx="222.8" cy="433.5" r="2.8" fill="#264478"/>
<circle cx="222.4" cy="431.8" r="2.8" fill="#264478"/>
<circle cx="222.7" cy="437.9" r="2.8" fill="#264478"/>
<circle cx="224.6" cy="449.0" r="2.8" fill="#264478"/>
<circle cx="224.2" cy="428.2" r="2.8" fill="#264478"/>
<circle cx="224.6" cy="448.1" r="2.8" fill="#264478"/>
<circle cx="226.1" cy="435.2" r="2.8" fill="#264478"/>
<circle cx="226.1" cy="443.9" r="2.8" fill="#264478"/>
<circle cx="226.3" cy="437.2" r="2.8" fill="#264478"/>
<circle cx="228.3" cy="425.3" r="2.8" fill="#264478"/>
<circle cx="227.8" cy="425.9" r="2.8" fill="#264478"/>
<circle cx="228.3" cy="449.6" r="2.8" fill="#264478"/>
<circle cx="228.0" cy="440.8" r="2.8" fill="#264478"/>
<circle cx="229.6" cy="432.9" r="2.8" fill="#264478"/>
<circle cx="229.6" cy="431.3" r="2.8" fill="#264478"/>
<circle cx="230.1" cy="448.8" r="2.8" fill="#264478"/>
<circle cx="231.6" cy="444.8" r="2.8" fill="#264478"/>
<circle cx="231.6" cy="434.5" r="2.8" fill="#264478"/>
<circle cx="231.8" cy="428.6" r="2.8" fill="#264478"/>
<circle cx="233.2" cy="444.8" r="2.8" fill="#264478"/>
<circle cx="233.8" cy="428.2" r="2.8" fill="#264478"/>
<circle cx="233.7" cy="440.4" r="2.8" fill="#264478"/>
<circle cx="235.2" cy="431.4" r="2.8" fill="#264478"/>
<circle cx="235.5" cy="444.8" r="2.8" fill="#264478"/>
<circle cx="235.6" cy="447.4" r="2.8" fill="#264478"/>
<circle cx="235.1" cy="446.6" r="2.8" fill="#264478"/>
<circle cx="237.0" cy="436.3" r="2.8" fill="#264478"/>
<circle cx="237.3" cy="432.8" r="2.8" fill="#264478"/>
<circle cx="236.9" cy="432.1" r="2.8" fill="#264478"/>
<circle cx="238.8" cy="442.1" r="2.8" fill="#264478"/>
<circle cx="239.1" cy="444.0" r="2.8" fill="#264478"/>
<circle cx="239.2" cy="437.2" r="2.8" fill="#264478"/>
<circle cx="238.9" cy="435.2" r="2.8" fill="#264478"/>
<circle cx="240.6" cy="443.9" r="2.8" fill="#264478"/>
<circle cx="240.7" cy="430.0" r="2.8" fill="#264478"/>
<circle cx="240.7" cy="444.0" r="2.8" fill="#264478"/>
<circle cx="240.7" cy="442.7" r="2.8" fill="#264478"/>
<circle cx="242.3" cy="437.7" r="2.8" fill="#264478"/>
<circle cx="242.6" cy="434.4" r="2.8" fill="#264478"/>
<circle cx="242.7" cy="433.8" r="2.8" fill="#264478"/>
<circle cx="242.8" cy="446.5" r="2.8" fill="#264478"/>
<circle cx="244.2" cy="424.7" r="2.8" fill="#264478"/>
<circle cx="244.1" cy="428.4" r="2.8" fill="#264478"/>
<circle cx="244.5" cy="431.8" r="2.8" fill="#264478"/>
<circle cx="244.5" cy="437.3" r="2.8" fill="#264478"/>
<circle cx="246.1" cy="423.7" r="2.8" fill="#264478"/>
<circle cx="246.2" cy="440.3" r="2.8" fill="#264478"/>
<circle cx="246.0" cy="437.0" r="2.8" fill="#264478"/>
<circle cx="246.4" cy="446.2" r="2.8" fill="#264478"/>
<circle cx="247.8" cy="421.2" r="2.8" fill="#264478"/>
<circle cx="248.3" cy="428.1" r="2.8" fill="#264478"/>
<circle cx="248.2" cy="450.1" r="2.8" fill="#264478"/>
<circle cx="248.2" cy="436.4" r="2.8" fill="#264478"/>
<circle cx="250.1" cy="448.2" r="2.8" fill="#264478"/>
<circle cx="250.0" cy="426.2" r="2.8" fill="#264478"/>
<circle cx="249.7" cy="421.3" r="2.8" fill="#264478"/>
<circle cx="249.7" cy="430.3" r="2.8" fill="#264478"/>
<circle cx="251.9" cy="425.3" r="2.8" fill="#264478"/>
<circle cx="251.6" cy="442.0" r="2.8" fill="#264478"/>
<circle cx="251.8" cy="438.1" r="2.8" fill="#264478"/>
<circle cx="251.7" cy="418.8" r="2.8" fill="#264478"/>
<circle cx="253.7" cy="438.9" r="2.8" fill="#264478"/>
<circle cx="253.3" cy="441.0" r="2.8" fill="#264478"/>
<circle cx="253.6" cy="428.1" r="2.8" fill="#264478"/>
<circle cx="253.5" cy="428.5" r="2.8" fill="#264478"/>
<circle cx="253.6" cy="438.8" r="2.8" fill="#264478"/>
<circle cx="255.1" cy="444.2" r="2.8" fill="#264478"/>
<circle cx="255.3" cy="442.0" r="2.8" fill="#264478"/>
<circle cx="255.0" cy="418.8" r="2.8" fill="#264478"/>
<circle cx="255.4" cy="420.3" r="2.8" fill="#264478"/>
<circle cx="257.3" cy="441.8" r="2.8" fill="#264478"/>
<circle cx="256.9" cy="441.6" r="2.8" fill="#264478"/>
<circle cx="256.9" cy="432.9" r="2.8" fill="#264478"/>
<circle cx="256.8" cy="444.4" r="2.8" fill="#264478"/>
<circle cx="257.3" cy="421.3" r="2.8" fill="#264478"/>
<circle cx="258.6" cy="447.1" r="2.8" fill="#264478"/>
<circle cx="258.9" cy="433.5" r="2.8" fill="#264478"/>
<circle cx="259.1" cy="435.9" r="2.8" fill="#264478"/>
<circle cx="258.7" cy="418.8" r="2.8" fill="#264478"/>
<circle cx="258.9" cy="423.6" r="2.8" fill="#264478"/>
<circle cx="260.4" cy="443.1" r="2.8" fill="#264478"/>
<circle cx="260.9" cy="417.3" r="2.8" fill="#264478"/>
<circle cx="260.8" cy="427.0" r="2.8" fill="#264478"/>
<circle cx="260.6" cy="443.0" r="2.8" fill="#264478"/>
<circle cx="262.8" cy="426.9" r="2.8" fill="#264478"/>
<circle cx="262.6" cy="427.0" r="2.8" fill="#264478"/>
<circle cx="262.6" cy="444.3" r="2.8" fill="#264478"/>
<circle cx="262.3" cy="438.2" r="2.8" fill="#264478"/>
<circle cx="264.1" cy="426.0" r="2.8" fill="#264478"/>
<circle cx="264.4" cy="426.1" r="2.8" fill="#264478"/>
<circle cx="264.5" cy="421.1" r="2.8" fill="#264478"/>
<circle cx="265.9" cy="429.7" r="2.8" fill="#264478"/>
<circle cx="266.1" cy="439.8" r="2.8" fill="#264478"/>
<circle cx="266.0" cy="443.0" r="2.8" fill="#264478"/>
<circle cx="268.0" cy="442.2" r="2.8" fill="#264478"/>
<circle cx="267.8" cy="430.0" r="2.8" fill="#264478"/>
<circle cx="268.0" cy="441.0" r="2.8" fill="#264478"/>
<circle cx="269.7" cy="429.7" r="2.8" fill="#264478"/>
<circle cx="270.0" cy="436.8" r="2.8" fill="#264478"/>
<circle cx="269.5" cy="423.8" r="2.8" fill="#264478"/>
<circle cx="270.1" cy="425.4" r="2.8" fill="#264478"/>
<circle cx="271.3" cy="438.1" r="2.8" fill="#264478"/>
<circle cx="271.5" cy="433.8" r="2.8" fill="#264478"/>
<circle cx="271.6" cy="435.0" r="2.8" fill="#264478"/>
<circle cx="273.6" cy="418.4" r="2.8" fill="#264478"/>
<circle cx="273.5" cy="437.0" r="2.8" fill="#264478"/>
<circle cx="273.5" cy="418.8" r="2.8" fill="#264478"/>
<circle cx="275.0" cy="433.9" r="2.8" fill="#264478"/>
<circle cx="275.2" cy="423.0" r="2.8" fill="#264478"/>
<circle cx="277.2" cy="418.3" r="2.8" fill="#264478"/>
<circle cx="276.8" cy="434.2" r="2.8" fill="#264478"/>
<circle cx="277.2" cy="425.6" r="2.8" fill="#264478"/>
<circle cx="279.0" cy="432.8" r="2.8" fill="#264478"/>
<circle cx="278.7" cy="423.1" r="2.8" fill="#264478"/>
<circle cx="279.0" cy="422.4" r="2.8" fill="#264478"/>
<circle cx="280.5" cy="414.7" r="2.8" fill="#264478"/>
<circle cx="280.6" cy="428.6" r="2.8" fill="#264478"/>
<circle cx="280.6" cy="415.4" r="2.8" fill="#264478"/>
<circle cx="282.5" cy="421.1" r="2.8" fill="#264478"/>
<circle cx="282.5" cy="426.6" r="2.8" fill="#264478"/>
<circle cx="282.5" cy="427.6" r="2.8" fill="#264478"/>
<circle cx="284.5" cy="423.3" r="2.8" fill="#264478"/>
<circle cx="284.1" cy="413.9" r="2.8" fill="#264478"/>
<circle cx="284.0" cy="418.7" r="2.8" fill="#264478"/>
<circle cx="284.3" cy="427.6" r="2.8" fill="#264478"/>
<circle cx="286.0" cy="413.3" r="2.8" fill="#264478"/>
<circle cx="285.9" cy="428.2" r="2.8" fill="#264478"/>
<circle cx="286.1" cy="413.4" r="2.8" fill="#264478"/>
<circle cx="288.1" cy="408.3" r="2.8" fill="#264478"/>
<circle cx="288.0" cy="413.7" r="2.8" fill="#264478"/>
<circle cx="288.2" cy="427.0" r="2.8" fill="#264478"/>
<circle cx="289.5" cy="413.1" r="2.8" fill="#264478"/>
<circle cx="289.6" cy="406.9" r="2.8" fill="#264478"/>
<circle cx="289.6" cy="425.0" r="2.8" fill="#264478"/>
<circle cx="291.3" cy="426.8" r="2.8" fill="#264478"/>
<circle cx="291.4" cy="420.2" r="2.8" fill="#264478"/>
<circle cx="291.6" cy="422.6" r="2.8" fill="#264478"/>
<circle cx="291.4" cy="413.8" r="2.8" fill="#264478"/>
<circle cx="293.4" cy="428.9" r="2.8" fill="#264478"/>
<circle cx="293.6" cy="409.1" r="2.8" fill="#264478"/>
<circle cx="293.3" cy="416.0" r="2.8" fill="#264478"/>
<circle cx="295.0" cy="404.4" r="2.8" fill="#264478"/>
<circle cx="295.4" cy="415.9" r="2.8" fill="#264478"/>
<circle cx="295.0" cy="404.9" r="2.8" fill="#264478"/>
<circle cx="295.2" cy="417.2" r="2.8" fill="#264478"/>
<circle cx="296.9" cy="407.2" r="2.8" fill="#264478"/>
<circle cx="296.7" cy="408.5" r="2.8" fill="#264478"/>
<circle cx="296.9" cy="416.1" r="2.8" fill="#264478"/>
<circle cx="299.1" cy="413.8" r="2.8" fill="#264478"/>
<circle cx="298.9" cy="420.9" r="2.8" fill="#264478"/>
<circle cx="298.9" cy="418.5" r="2.8" fill="#264478"/>
<circle cx="298.6" cy="416.0" r="2.8" fill="#264478"/>
<circle cx="300.8" cy="432.3" r="2.8" fill="#264478"/>
<circle cx="300.7" cy="405.5" r="2.8" fill="#264478"/>
<circle cx="300.5" cy="412.3" r="2.8" fill="#264478"/>
<circle cx="300.7" cy="427.8" r="2.8" fill="#264478"/>
<circle cx="302.4" cy="424.4" r="2.8" fill="#264478"/>
<circle cx="302.5" cy="398.9" r="2.8" fill="#264478"/>
<circle cx="302.6" cy="411.7" r="2.8" fill="#264478"/>
<circle cx="302.6" cy="408.0" r="2.8" fill="#264478"/>
<circle cx="304.1" cy="409.0" r="2.8" fill="#264478"/>
<circle cx="304.1" cy="402.0" r="2.8" fill="#264478"/>
<circle cx="304.1" cy="408.5" r="2.8" fill="#264478"/>
<circle cx="304.5" cy="413.9" r="2.8" fill="#264478"/>
<circle cx="305.9" cy="422.1" r="2.8" fill="#264478"/>
<circle cx="306.3" cy="407.0" r="2.8" fill="#264478"/>
<circle cx="306.1" cy="412.7" r="2.8" fill="#264478"/>
<circle cx="305.8" cy="424.5" r="2.8" fill="#264478"/>
<circle cx="306.1" cy="412.0" r="2.8" fill="#264478"/>
<circle cx="308.0" cy="428.9" r="2.8" fill="#264478"/>
<circle cx="308.1" cy="421.9" r="2.8" fill="#264478"/>
<circle cx="308.0" cy="409.1" r="2.8" fill="#264478"/>
<circle cx="307.8" cy="430.3" r="2.8" fill="#264478"/>
<circle cx="309.6" cy="422.5" r="2.8" fill="#264478"/>
<circle cx="309.8" cy="433.1" r="2.8" fill="#264478"/>
<circle cx="309.7" cy="407.6" r="2.8" fill="#264478"/>
<circle cx="309.6" cy="404.5" r="2.8" fill="#264478"/>
<circle cx="311.8" cy="426.5" r="2.8" fill="#264478"/>
<circle cx="311.7" cy="403.5" r="2.8" fill="#264478"/>
<circle cx="311.3" cy="431.4" r="2.8" fill="#264478"/>
<circle cx="311.5" cy="424.0" r="2.8" fill="#264478"/>
<circle cx="313.2" cy="425.4" r="2.8" fill="#264478"/>
<circle cx="313.2" cy="430.6" r="2.8" fill="#264478"/>
<circle cx="313.4" cy="429.0" r="2.8" fill="#264478"/>
<circle cx="313.1" cy="423.6" r="2.8" fill="#264478"/>
<circle cx="315.3" cy="424.9" r="2.8" fill="#264478"/>
<circle cx="315.4" cy="413.0" r="2.8" fill="#264478"/>
<circle cx="314.9" cy="420.3" r="2.8" fill="#264478"/>
<circle cx="317.2" cy="408.7" r="2.8" fill="#264478"/>
<circle cx="317.1" cy="420.2" r="2.8" fill="#264478"/>
<circle cx="316.8" cy="427.7" r="2.8" fill="#264478"/>
<circle cx="318.6" cy="410.9" r="2.8" fill="#264478"/>
<circle cx="319.1" cy="420.8" r="2.8" fill="#264478"/>
<circle cx="319.0" cy="424.3" r="2.8" fill="#264478"/>
<circle cx="318.7" cy="426.7" r="2.8" fill="#264478"/>
<circle cx="320.5" cy="414.4" r="2.8" fill="#264478"/>
<circle cx="320.4" cy="413.2" r="2.8" fill="#264478"/>
<circle cx="320.7" cy="419.7" r="2.8" fill="#264478"/>
<circle cx="322.7" cy="413.3" r="2.8" fill="#264478"/>
<circle cx="322.3" cy="424.2" r="2.8" fill="#264478"/>
<circle cx="322.7" cy="416.2" r="2.8" fill="#264478"/>
<circle cx="322.2" cy="418.6" r="2.8" fill="#264478"/>
<circle cx="324.1" cy="429.2" r="2.8" fill="#264478"/>
<circle cx="324.5" cy="426.2" r="2.8" fill="#264478"/>
<circle cx="324.5" cy="409.3" r="2.8" fill="#264478"/>
<circle cx="324.4" cy="428.5" r="2.8" fill="#264478"/>
<circle cx="326.3" cy="427.3" r="2.8" fill="#264478"/>
<circle cx="326.2" cy="405.5" r="2.8" fill="#264478"/>
<circle cx="325.9" cy="416.0" r="2.8" fill="#264478"/>
<circle cx="326.0" cy="412.3" r="2.8" fill="#264478"/>
<circle cx="328.1" cy="408.0" r="2.8" fill="#264478"/>
<circle cx="327.9" cy="410.5" r="2.8" fill="#264478"/>
<circle cx="328.1" cy="425.4" r="2.8" fill="#264478"/>
<circle cx="329.5" cy="400.9" r="2.8" fill="#264478"/>
<circle cx="329.7" cy="419.2" r="2.8" fill="#264478"/>
<circle cx="329.4" cy="409.8" r="2.8" fill="#264478"/>
<circle cx="329.6" cy="409.5" r="2.8" fill="#264478"/>
<circle cx="329.8" cy="415.1" r="2.8" fill="#264478"/>
<circle cx="331.7" cy="416.7" r="2.8" fill="#264478"/>
<circle cx="331.2" cy="421.3" r="2.8" fill="#264478"/>
<circle cx="331.7" cy="409.4" r="2.8" fill="#264478"/>
<circle cx="331.6" cy="410.7" r="2.8" fill="#264478"/>
<circle cx="333.2" cy="402.1" r="2.8" fill="#264478"/>
<circle cx="333.4" cy="403.7" r="2.8" fill="#264478"/>
<circle cx="333.5" cy="408.2" r="2.8" fill="#264478"/>
<circle cx="333.1" cy="419.5" r="2.8" fill="#264478"/>
<circle cx="335.4" cy="401.5" r="2.8" fill="#264478"/>
<circle cx="335.3" cy="413.7" r="2.8" fill="#264478"/>
<circle cx="335.4" cy="427.7" r="2.8" fill="#264478"/>
<circle cx="335.3" cy="420.5" r="2.8" fill="#264478"/>
<circle cx="337.1" cy="424.4" r="2.8" fill="#264478"/>
<circle cx="337.2" cy="411.2" r="2.8" fill="#264478"/>
<circle cx="337.0" cy="397.8" r="2.8" fill="#264478"/>
<circle cx="338.8" cy="401.0" r="2.8" fill="#264478"/>
<circle cx="338.5" cy="415.8" r="2.8" fill="#264478"/>
<circle cx="338.6" cy="409.9" r="2.8" fill="#264478"/>
<circle cx="338.5" cy="422.9" r="2.8" fill="#264478"/>
<circle cx="340.5" cy="411.6" r="2.8" fill="#264478"/>
<circle cx="340.4" cy="404.1" r="2.8" fill="#264478"/>
<circle cx="340.5" cy="417.0" r="2.8" fill="#264478"/>
<circle cx="340.8" cy="420.9" r="2.8" fill="#264478"/>
<circle cx="342.3" cy="412.5" r="2.8" fill="#264478"/>
<circle cx="342.3" cy="407.4" r="2.8" fill="#264478"/>
<circle cx="342.7" cy="428.5" r="2.8" fill="#264478"/>
<circle cx="342.4" cy="418.1" r="2.8" fill="#264478"/>
<circle cx="344.4" cy="402.3" r="2.8" fill="#264478"/>
<circle cx="344.2" cy="407.8" r="2.8" fill="#264478"/>
<circle cx="344.1" cy="412.0" r="2.8" fill="#264478"/>
<circle cx="344.4" cy="415.2" r="2.8" fill="#264478"/>
<circle cx="344.0" cy="408.3" r="2.8" fill="#264478"/>
<circle cx="346.3" cy="398.6" r="2.8" fill="#264478"/>
<circle cx="346.1" cy="398.6" r="2.8" fill="#264478"/>
<circle cx="346.2" cy="419.6" r="2.8" fill="#264478"/>
<circle cx="346.2" cy="409.0" r="2.8" fill="#264478"/>
<circle cx="346.3" cy="412.3" r="2.8" fill="#264478"/>
<circle cx="347.6" cy="394.6" r="2.8" fill="#264478"/>
<circle cx="347.9" cy="413.8" r="2.8" fill="#264478"/>
<circle cx="347.8" cy="421.9" r="2.8" fill="#264478"/>
<circle cx="347.8" cy="411.7" r="2.8" fill="#264478"/>
<circle cx="349.8" cy="404.4" r="2.8" fill="#264478"/>
<circle cx="349.7" cy="423.5" r="2.8" fill="#264478"/>
<circle cx="349.4" cy="422.8" r="2.8" fill="#264478"/>
<circle cx="349.5" cy="412.5" r="2.8" fill="#264478"/>
<circle cx="351.6" cy="404.0" r="2.8" fill="#264478"/>
<circle cx="351.6" cy="405.5" r="2.8" fill="#264478"/>
<circle cx="351.2" cy="403.9" r="2.8" fill="#264478"/>
<circle cx="351.3" cy="390.9" r="2.8" fill="#264478"/>
<circle cx="353.4" cy="407.3" r="2.8" fill="#264478"/>
<circle cx="353.0" cy="391.8" r="2.8" fill="#264478"/>
<circle cx="353.0" cy="393.7" r="2.8" fill="#264478"/>
<circle cx="353.2" cy="403.6" r="2.8" fill="#264478"/>
<circle cx="353.3" cy="422.1" r="2.8" fill="#264478"/>
<circle cx="355.3" cy="399.5" r="2.8" fill="#264478"/>
<circle cx="355.4" cy="420.2" r="2.8" fill="#264478"/>
<circle cx="355.0" cy="393.5" r="2.8" fill="#264478"/>
<circle cx="354.9" cy="399.0" r="2.8" fill="#264478"/>
<circle cx="357.1" cy="411.8" r="2.8" fill="#264478"/>
<circle cx="357.1" cy="401.0" r="2.8" fill="#264478"/>
<circle cx="356.9" cy="396.3" r="2.8" fill="#264478"/>
<circle cx="357.0" cy="390.4" r="2.8" fill="#264478"/>
<circle cx="358.6" cy="415.3" r="2.8" fill="#264478"/>
<circle cx="358.7" cy="404.8" r="2.8" fill="#264478"/>
<circle cx="358.7" cy="393.2" r="2.8" fill="#264478"/>
<circle cx="358.6" cy="402.7" r="2.8" fill="#264478"/>
<circle cx="358.5" cy="401.0" r="2.8" fill="#264478"/>
<circle cx="360.3" cy="414.5" r="2.8" fill="#264478"/>
<circle cx="360.5" cy="417.9" r="2.8" fill="#264478"/>
<circle cx="360.8" cy="413.1" r="2.8" fill="#264478"/>
<circle cx="360.8" cy="405.0" r="2.8" fill="#264478"/>
<circle cx="362.1" cy="395.5" r="2.8" fill="#264478"/>
<circle cx="362.4" cy="394.0" r="2.8" fill="#264478"/>
<circle cx="362.5" cy="415.5" r="2.8" fill="#264478"/>
<circle cx="364.2" cy="399.2" r="2.8" fill="#264478"/>
<circle cx="364.2" cy="410.3" r="2.8" fill="#264478"/>
<circle cx="364.1" cy="399.4" r="2.8" fill="#264478"/>
<circle cx="365.9" cy="403.2" r="2.8" fill="#264478"/>
<circle cx="366.0" cy="416.7" r="2.8" fill="#264478"/>
<circle cx="366.2" cy="407.0" r="2.8" fill="#264478"/>
<circle cx="367.9" cy="415.1" r="2.8" fill="#264478"/>
<circle cx="367.9" cy="415.6" r="2.8" fill="#264478"/>
<circle cx="367.8" cy="406.2" r="2.8" fill="#264478"/>
<circle cx="369.5" cy="396.3" r="2.8" fill="#264478"/>
<circle cx="369.6" cy="395.8" r="2.8" fill="#264478"/>
<circle cx="369.5" cy="413.1" r="2.8" fill="#264478"/>
<circle cx="371.2" cy="402.1" r="2.8" fill="#264478"/>
<circle cx="371.2" cy="412.8" r="2.8" fill="#264478"/>
<circle cx="371.6" cy="414.9" r="2.8" fill="#264478"/>
<circle cx="373.2" cy="413.4" r="2.8" fill="#264478"/>
<circle cx="373.5" cy="412.4" r="2.8" fill="#264478"/>
<circle cx="373.3" cy="413.4" r="2.8" fill="#264478"/>
<circle cx="375.2" cy="394.0" r="2.8" fill="#264478"/>
<circle cx="374.9" cy="402.6" r="2.8" fill="#264478"/>
<circle cx="375.1" cy="407.6" r="2.8" fill="#264478"/>
<circle cx="376.8" cy="395.7" r="2.8" fill="#264478"/>
<circle cx="376.9" cy="404.6" r="2.8" fill="#264478"/>
<circle cx="378.6" cy="396.4" r="2.8" fill="#264478"/>
<circle cx="378.7" cy="394.0" r="2.8" fill="#264478"/>
<circle cx="378.6" cy="393.1" r="2.8" fill="#264478"/>
<circle cx="380.7" cy="395.8" r="2.8" fill="#264478"/>
<circle cx="380.3" cy="412.0" r="2.8" fill="#264478"/>
<circle cx="380.3" cy="392.7" r="2.8" fill="#264478"/>
<circle cx="382.3" cy="406.6" r="2.8" fill="#264478"/>
<circle cx="382.6" cy="399.7" r="2.8" fill="#264478"/>
<circle cx="382.3" cy="391.7" r="2.8" fill="#264478"/>
<circle cx="384.2" cy="399.3" r="2.8" fill="#264478"/>
<circle cx="383.9" cy="404.0" r="2.8" fill="#264478"/>
<circle cx="386.2" cy="389.3" r="2.8" fill="#264478"/>
<circle cx="385.8" cy="399.0" r="2.8" fill="#264478"/>
<circle cx="386.0" cy="396.8" r="2.8" fill="#264478"/>
<circle cx="387.9" cy="392.0" r="2.8" fill="#264478"/>
<circle cx="388.0" cy="406.9" r="2.8" fill="#264478"/>
<circle cx="387.8" cy="408.7" r="2.8" fill="#264478"/>
<circle cx="389.9" cy="396.8" r="2.8" fill="#264478"/>
<circle cx="389.8" cy="404.4" r="2.8" fill="#264478"/>
<circle cx="389.7" cy="403.6" r="2.8" fill="#264478"/>
<circle cx="391.5" cy="401.4" r="2.8" fill="#264478"/>
<circle cx="391.3" cy="407.0" r="2.8" fill="#264478"/>
<circle cx="391.2" cy="390.9" r="2.8" fill="#264478"/>
<circle cx="392.9" cy="390.8" r="2.8" fill="#264478"/>
<circle cx="393.3" cy="391.6" r="2.8" fill="#264478"/>
<circle cx="393.2" cy="409.5" r="2.8" fill="#264478"/>
<circle cx="393.4" cy="400.9" r="2.8" fill="#264478"/>
<circle cx="395.3" cy="409.4" r="2.8" fill="#264478"/>
<circle cx="395.2" cy="393.7" r="2.8" fill="#264478"/>
<circle cx="395.2" cy="396.8" r="2.8" fill="#264478"/>
<circle cx="396.6" cy="392.1" r="2.8" fill="#264478"/>
<circle cx="396.6" cy="401.5" r="2.8" fill="#264478"/>
<circle cx="396.9" cy="393.7" r="2.8" fill="#264478"/>
<circle cx="398.8" cy="398.4" r="2.8" fill="#264478"/>
<circle cx="398.7" cy="395.6" r="2.8" fill="#264478"/>
<circle cx="398.4" cy="393.5" r="2.8" fill="#264478"/>
<circle cx="400.7" cy="406.8" r="2.8" fill="#264478"/>
<circle cx="400.5" cy="402.2" r="2.8" fill="#264478"/>
<circle cx="400.5" cy="407.9" r="2.8" fill="#264478"/>
<circle cx="402.2" cy="394.9" r="2.8" fill="#264478"/>
<circle cx="402.0" cy="393.8" r="2.8" fill="#264478"/>
<circle cx="404.3" cy="402.3" r="2.8" fill="#264478"/>
<circle cx="404.4" cy="403.6" r="2.8" fill="#264478"/>
<circle cx="405.7" cy="406.1" r="2.8" fill="#264478"/>
<circle cx="405.8" cy="399.8" r="2.8" fill="#264478"/>
<circle cx="407.7" cy="408.7" r="2.8" fill="#264478"/>
<circle cx="407.6" cy="397.8" r="2.8" fill="#264478"/>
<circle cx="409.8" cy="398.5" r="2.8" fill="#264478"/>
<circle cx="409.5" cy="403.0" r="2.8" fill="#264478"/>
<circle cx="411.6" cy="404.3" r="2.8" fill="#264478"/>
<circle cx="411.3" cy="407.2" r="2.8" fill="#264478"/>
<circle cx="413.4" cy="408.5" r="2.8" fill="#264478"/>
<circle cx="413.2" cy="403.3" r="2.8" fill="#264478"/>
<circle cx="414.9" cy="400.9" r="2.8" fill="#264478"/>
<circle cx="415.2" cy="408.2" r="2.8" fill="#264478"/>
<circle cx="417.1" cy="404.4" r="2.8" fill="#264478"/>
<circle cx="416.8" cy="405.4" r="2.8" fill="#264478"/>
<circle cx="418.9" cy="403.0" r="2.8" fill="#264478"/>
<circle cx="418.5" cy="402.2" r="2.8" fill="#264478"/>
<circle cx="420.2" cy="401.4" r="2.8" fill="#264478"/>
<circle cx="420.4" cy="398.6" r="2.8" fill="#264478"/>
<circle cx="422.0" cy="404.1" r="2.8" fill="#264478"/>
<circle cx="422.3" cy="401.1" r="2.8" fill="#264478"/>
<circle cx="424.1" cy="401.6" r="2.8" fill="#264478"/>
<circle cx="424.1" cy="402.7" r="2.8" fill="#264478"/>
<circle cx="428.6" cy="390.3" r="2.8" fill="#264478"/>
<circle cx="428.6" cy="391.3" r="2.8" fill="#264478"/>
<circle cx="431.9" cy="396.7" r="2.8" fill="#264478"/>
<circle cx="431.9" cy="401.2" r="2.8" fill="#264478"/>
<circle cx="433.9" cy="405.4" r="2.8" fill="#264478"/>
<circle cx="434.1" cy="403.6" r="2.8" fill="#264478"/>
<circle cx="436.2" cy="391.3" r="2.8" fill="#264478"/>
<circle cx="435.9" cy="398.0" r="2.8" fill="#264478"/>
<circle cx="443.7" cy="391.4" r="2.8" fill="#264478"/>
<circle cx="443.6" cy="394.4" r="2.8" fill="#264478"/>
<circle cx="445.5" cy="393.2" r="2.8" fill="#264478"/>
<circle cx="445.3" cy="407.4" r="2.8" fill="#264478"/>
<circle cx="447.2" cy="404.5" r="2.8" fill="#264478"/>
<circle cx="447.0" cy="391.0" r="2.8" fill="#264478"/>
<circle cx="448.8" cy="402.2" r="2.8" fill="#264478"/>
<circle cx="449.2" cy="395.5" r="2.8" fill="#264478"/>
<circle cx="452.5" cy="397.7" r="2.8" fill="#264478"/>
<circle cx="452.8" cy="400.3" r="2.8" fill="#264478"/>
<circle cx="464.7" cy="393.3" r="2.8" fill="#264478"/>
<circle cx="464.6" cy="393.4" r="2.8" fill="#264478"/>
<circle cx="471.2" cy="394.1" r="2.8" fill="#264478"/>
<circle cx="471.0" cy="394.5" r="2.8" fill="#264478"/>
<circle cx="474.2" cy="396.8" r="2.8" fill="#264478"/>
<circle cx="474.4" cy="396.2" r="2.8" fill="#264478"/>
<circle cx="224.9" cy="416.4" r="2.8" fill="#264478"/>
<circle cx="224.8" cy="413.8" r="2.8" fill="#264478"/>
<circle cx="264.0" cy="399.1" r="2.8" fill="#264478"/>
<circle cx="263.9" cy="400.0" r="2.8" fill="#264478"/>
<circle cx="294.8" cy="438.4" r="2.8" fill="#264478"/>
<circle cx="294.6" cy="443.2" r="2.8" fill="#264478"/>
<circle cx="170.6" cy="439.7" r="2.8" fill="#264478"/>
<circle cx="170.9" cy="441.4" r="2.8" fill="#264478"/>
<circle cx="179.4" cy="463.2" r="2.8" fill="#264478"/>
<circle cx="179.5" cy="464.5" r="2.8" fill="#264478"/>
<circle cx="124.9" cy="459.2" r="2.8" fill="#9E480E"/>
<circle cx="126.2" cy="461.0" r="2.8" fill="#9E480E"/>
<circle cx="126.4" cy="465.3" r="2.8" fill="#9E480E"/>
<circle cx="128.0" cy="457.7" r="2.8" fill="#9E480E"/>
<circle cx="128.4" cy="463.8" r="2.8" fill="#9E480E"/>
<circle cx="129.9" cy="460.5" r="2.8" fill="#9E480E"/>
<circle cx="131.9" cy="458.7" r="2.8" fill="#9E480E"/>
<circle cx="133.4" cy="453.0" r="2.8" fill="#9E480E"/>
<circle cx="135.8" cy="464.1" r="2.8" fill="#9E480E"/>
<circle cx="135.3" cy="461.3" r="2.8" fill="#9E480E"/>
<circle cx="135.3" cy="457.8" r="2.8" fill="#9E480E"/>
<circle cx="137.2" cy="463.1" r="2.8" fill="#9E480E"/>
<circle cx="137.6" cy="454.5" r="2.8" fill="#9E480E"/>
<circle cx="139.2" cy="455.3" r="2.8" fill="#9E480E"/>
<circle cx="139.1" cy="460.9" r="2.8" fill="#9E480E"/>
<circle cx="139.1" cy="456.0" r="2.8" fill="#9E480E"/>
<circle cx="141.1" cy="455.2" r="2.8" fill="#9E480E"/>
<circle cx="140.8" cy="462.2" r="2.8" fill="#9E480E"/>
<circle cx="142.9" cy="452.9" r="2.8" fill="#9E480E"/>
<circle cx="142.8" cy="451.9" r="2.8" fill="#9E480E"/>
<circle cx="144.4" cy="449.3" r="2.8" fill="#9E480E"/>
<circle cx="144.5" cy="452.5" r="2.8" fill="#9E480E"/>
<circle cx="144.4" cy="455.8" r="2.8" fill="#9E480E"/>
<circle cx="146.3" cy="449.2" r="2.8" fill="#9E480E"/>
<circle cx="146.4" cy="454.0" r="2.8" fill="#9E480E"/>
<circle cx="148.2" cy="457.4" r="2.8" fill="#9E480E"/>
<circle cx="148.3" cy="455.5" r="2.8" fill="#9E480E"/>
<circle cx="148.5" cy="458.5" r="2.8" fill="#9E480E"/>
<circle cx="150.1" cy="454.0" r="2.8" fill="#9E480E"/>
<circle cx="149.8" cy="458.4" r="2.8" fill="#9E480E"/>
<circle cx="151.8" cy="450.0" r="2.8" fill="#9E480E"/>
<circle cx="151.9" cy="452.0" r="2.8" fill="#9E480E"/>
<circle cx="151.9" cy="452.2" r="2.8" fill="#9E480E"/>
<circle cx="153.9" cy="462.7" r="2.8" fill="#9E480E"/>
<circle cx="153.4" cy="449.9" r="2.8" fill="#9E480E"/>
<circle cx="153.6" cy="452.8" r="2.8" fill="#9E480E"/>
<circle cx="155.4" cy="460.6" r="2.8" fill="#9E480E"/>
<circle cx="155.6" cy="461.9" r="2.8" fill="#9E480E"/>
<circle cx="155.3" cy="449.3" r="2.8" fill="#9E480E"/>
<circle cx="157.1" cy="463.0" r="2.8" fill="#9E480E"/>
<circle cx="157.5" cy="445.4" r="2.8" fill="#9E480E"/>
<circle cx="157.4" cy="454.0" r="2.8" fill="#9E480E"/>
<circle cx="159.4" cy="462.5" r="2.8" fill="#9E480E"/>
<circle cx="158.8" cy="448.0" r="2.8" fill="#9E480E"/>
<circle cx="159.3" cy="444.2" r="2.8" fill="#9E480E"/>
<circle cx="161.0" cy="460.2" r="2.8" fill="#9E480E"/>
<circle cx="160.6" cy="448.3" r="2.8" fill="#9E480E"/>
<circle cx="161.0" cy="445.8" r="2.8" fill="#9E480E"/>
<circle cx="162.9" cy="448.1" r="2.8" fill="#9E480E"/>
<circle cx="162.8" cy="460.4" r="2.8" fill="#9E480E"/>
<circle cx="164.3" cy="449.1" r="2.8" fill="#9E480E"/>
<circle cx="164.4" cy="450.9" r="2.8" fill="#9E480E"/>
<circle cx="166.3" cy="456.3" r="2.8" fill="#9E480E"/>
<circle cx="166.3" cy="452.1" r="2.8" fill="#9E480E"/>
<circle cx="168.4" cy="454.4" r="2.8" fill="#9E480E"/>
<circle cx="167.9" cy="442.4" r="2.8" fill="#9E480E"/>
<circle cx="167.9" cy="454.1" r="2.8" fill="#9E480E"/>
<circle cx="169.8" cy="456.9" r="2.8" fill="#9E480E"/>
<circle cx="169.7" cy="457.8" r="2.8" fill="#9E480E"/>
<circle cx="170.3" cy="444.8" r="2.8" fill="#9E480E"/>
<circle cx="171.9" cy="447.9" r="2.8" fill="#9E480E"/>
<circle cx="171.6" cy="447.9" r="2.8" fill="#9E480E"/>
<circle cx="171.9" cy="453.2" r="2.8" fill="#9E480E"/>
<circle cx="173.4" cy="448.3" r="2.8" fill="#9E480E"/>
<circle cx="173.7" cy="444.5" r="2.8" fill="#9E480E"/>
<circle cx="173.7" cy="449.5" r="2.8" fill="#9E480E"/>
<circle cx="175.7" cy="444.7" r="2.8" fill="#9E480E"/>
<circle cx="175.3" cy="450.3" r="2.8" fill="#9E480E"/>
<circle cx="175.7" cy="444.4" r="2.8" fill="#9E480E"/>
<circle cx="177.1" cy="445.5" r="2.8" fill="#9E480E"/>
<circle cx="177.4" cy="445.7" r="2.8" fill="#9E480E"/>
<circle cx="178.9" cy="456.3" r="2.8" fill="#9E480E"/>
<circle cx="178.8" cy="444.8" r="2.8" fill="#9E480E"/>
<circle cx="181.0" cy="446.6" r="2.8" fill="#9E480E"/>
<circle cx="180.9" cy="444.2" r="2.8" fill="#9E480E"/>
<circle cx="182.6" cy="446.5" r="2.8" fill="#9E480E"/>
<circle cx="182.5" cy="440.5" r="2.8" fill="#9E480E"/>
<circle cx="184.5" cy="457.0" r="2.8" fill="#9E480E"/>
<circle cx="184.2" cy="450.8" r="2.8" fill="#9E480E"/>
<circle cx="184.2" cy="452.5" r="2.8" fill="#9E480E"/>
<circle cx="186.5" cy="447.9" r="2.8" fill="#9E480E"/>
<circle cx="186.5" cy="456.5" r="2.8" fill="#9E480E"/>
<circle cx="187.8" cy="448.0" r="2.8" fill="#9E480E"/>
<circle cx="187.9" cy="456.9" r="2.8" fill="#9E480E"/>
<circle cx="189.8" cy="455.4" r="2.8" fill="#9E480E"/>
<circle cx="189.9" cy="443.6" r="2.8" fill="#9E480E"/>
<circle cx="190.0" cy="447.5" r="2.8" fill="#9E480E"/>
<circle cx="192.0" cy="456.2" r="2.8" fill="#9E480E"/>
<circle cx="192.0" cy="452.1" r="2.8" fill="#9E480E"/>
<circle cx="191.5" cy="450.9" r="2.8" fill="#9E480E"/>
<circle cx="193.3" cy="457.0" r="2.8" fill="#9E480E"/>
<circle cx="193.3" cy="455.1" r="2.8" fill="#9E480E"/>
<circle cx="193.3" cy="451.1" r="2.8" fill="#9E480E"/>
<circle cx="195.1" cy="453.1" r="2.8" fill="#9E480E"/>
<circle cx="195.1" cy="444.7" r="2.8" fill="#9E480E"/>
<circle cx="195.2" cy="456.5" r="2.8" fill="#9E480E"/>
<circle cx="196.9" cy="441.6" r="2.8" fill="#9E480E"/>
<circle cx="197.4" cy="448.5" r="2.8" fill="#9E480E"/>
<circle cx="199.3" cy="448.3" r="2.8" fill="#9E480E"/>
<circle cx="199.0" cy="444.2" r="2.8" fill="#9E480E"/>
<circle cx="200.8" cy="451.1" r="2.8" fill="#9E480E"/>
<circle cx="201.1" cy="438.2" r="2.8" fill="#9E480E"/>
<circle cx="200.7" cy="453.4" r="2.8" fill="#9E480E"/>
<circle cx="202.6" cy="435.6" r="2.8" fill="#9E480E"/>
<circle cx="202.5" cy="435.9" r="2.8" fill="#9E480E"/>
<circle cx="202.5" cy="442.4" r="2.8" fill="#9E480E"/>
<circle cx="204.2" cy="436.2" r="2.8" fill="#9E480E"/>
<circle cx="204.3" cy="451.6" r="2.8" fill="#9E480E"/>
<circle cx="204.2" cy="435.8" r="2.8" fill="#9E480E"/>
<circle cx="206.5" cy="442.5" r="2.8" fill="#9E480E"/>
<circle cx="206.1" cy="438.5" r="2.8" fill="#9E480E"/>
<circle cx="206.3" cy="450.3" r="2.8" fill="#9E480E"/>
<circle cx="206.2" cy="437.6" r="2.8" fill="#9E480E"/>
<circle cx="208.2" cy="448.3" r="2.8" fill="#9E480E"/>
<circle cx="207.9" cy="437.7" r="2.8" fill="#9E480E"/>
<circle cx="207.9" cy="445.1" r="2.8" fill="#9E480E"/>
<circle cx="208.2" cy="440.1" r="2.8" fill="#9E480E"/>
<circle cx="210.2" cy="441.3" r="2.8" fill="#9E480E"/>
<circle cx="209.8" cy="434.3" r="2.8" fill="#9E480E"/>
<circle cx="209.9" cy="445.0" r="2.8" fill="#9E480E"/>
<circle cx="210.1" cy="440.0" r="2.8" fill="#9E480E"/>
<circle cx="211.4" cy="439.7" r="2.8" fill="#9E480E"/>
<circle cx="211.7" cy="427.3" r="2.8" fill="#9E480E"/>
<circle cx="212.0" cy="427.3" r="2.8" fill="#9E480E"/>
<circle cx="211.8" cy="448.8" r="2.8" fill="#9E480E"/>
<circle cx="213.6" cy="453.0" r="2.8" fill="#9E480E"/>
<circle cx="213.7" cy="439.3" r="2.8" fill="#9E480E"/>
<circle cx="213.6" cy="432.7" r="2.8" fill="#9E480E"/>
<circle cx="213.4" cy="431.9" r="2.8" fill="#9E480E"/>
<circle cx="215.3" cy="438.2" r="2.8" fill="#9E480E"/>
<circle cx="215.1" cy="431.6" r="2.8" fill="#9E480E"/>
<circle cx="215.4" cy="434.0" r="2.8" fill="#9E480E"/>
<circle cx="215.4" cy="431.3" r="2.8" fill="#9E480E"/>
<circle cx="217.0" cy="439.4" r="2.8" fill="#9E480E"/>
<circle cx="216.9" cy="424.5" r="2.8" fill="#9E480E"/>
<circle cx="216.9" cy="425.7" r="2.8" fill="#9E480E"/>
<circle cx="219.2" cy="445.6" r="2.8" fill="#9E480E"/>
<circle cx="219.1" cy="432.0" r="2.8" fill="#9E480E"/>
<circle cx="219.1" cy="425.7" r="2.8" fill="#9E480E"/>
<circle cx="219.0" cy="430.6" r="2.8" fill="#9E480E"/>
<circle cx="220.5" cy="445.8" r="2.8" fill="#9E480E"/>
<circle cx="221.0" cy="424.2" r="2.8" fill="#9E480E"/>
<circle cx="220.7" cy="441.4" r="2.8" fill="#9E480E"/>
<circle cx="220.8" cy="428.6" r="2.8" fill="#9E480E"/>
<circle cx="222.6" cy="431.6" r="2.8" fill="#9E480E"/>
<circle cx="222.5" cy="432.5" r="2.8" fill="#9E480E"/>
<circle cx="222.5" cy="436.8" r="2.8" fill="#9E480E"/>
<circle cx="224.4" cy="448.8" r="2.8" fill="#9E480E"/>
<circle cx="224.4" cy="427.7" r="2.8" fill="#9E480E"/>
<circle cx="224.1" cy="447.7" r="2.8" fill="#9E480E"/>
<circle cx="226.4" cy="435.4" r="2.8" fill="#9E480E"/>
<circle cx="226.0" cy="442.4" r="2.8" fill="#9E480E"/>
<circle cx="226.4" cy="436.0" r="2.8" fill="#9E480E"/>
<circle cx="228.1" cy="424.4" r="2.8" fill="#9E480E"/>
<circle cx="228.0" cy="426.3" r="2.8" fill="#9E480E"/>
<circle cx="228.2" cy="450.5" r="2.8" fill="#9E480E"/>
<circle cx="227.8" cy="442.0" r="2.8" fill="#9E480E"/>
<circle cx="229.7" cy="433.4" r="2.8" fill="#9E480E"/>
<circle cx="229.9" cy="433.2" r="2.8" fill="#9E480E"/>
<circle cx="229.9" cy="449.2" r="2.8" fill="#9E480E"/>
<circle cx="231.4" cy="446.3" r="2.8" fill="#9E480E"/>
<circle cx="231.4" cy="434.8" r="2.8" fill="#9E480E"/>
<circle cx="231.8" cy="429.6" r="2.8" fill="#9E480E"/>
<circle cx="233.2" cy="445.6" r="2.8" fill="#9E480E"/>
<circle cx="233.5" cy="427.7" r="2.8" fill="#9E480E"/>
<circle cx="233.8" cy="440.9" r="2.8" fill="#9E480E"/>
<circle cx="235.5" cy="429.4" r="2.8" fill="#9E480E"/>
<circle cx="235.1" cy="446.5" r="2.8" fill="#9E480E"/>
<circle cx="235.4" cy="447.1" r="2.8" fill="#9E480E"/>
<circle cx="235.3" cy="448.4" r="2.8" fill="#9E480E"/>
<circle cx="236.9" cy="434.7" r="2.8" fill="#9E480E"/>
<circle cx="237.1" cy="431.0" r="2.8" fill="#9E480E"/>
<circle cx="236.9" cy="432.8" r="2.8" fill="#9E480E"/>
<circle cx="239.0" cy="443.2" r="2.8" fill="#9E480E"/>
<circle cx="238.9" cy="442.8" r="2.8" fill="#9E480E"/>
<circle cx="238.7" cy="435.2" r="2.8" fill="#9E480E"/>
<circle cx="238.9" cy="433.9" r="2.8" fill="#9E480E"/>
<circle cx="240.6" cy="444.2" r="2.8" fill="#9E480E"/>
<circle cx="240.8" cy="429.6" r="2.8" fill="#9E480E"/>
<circle cx="241.0" cy="445.2" r="2.8" fill="#9E480E"/>
<circle cx="240.5" cy="442.5" r="2.8" fill="#9E480E"/>
<circle cx="242.7" cy="437.2" r="2.8" fill="#9E480E"/>
<circle cx="242.6" cy="435.6" r="2.8" fill="#9E480E"/>
<circle cx="242.4" cy="434.2" r="2.8" fill="#9E480E"/>
<circle cx="242.5" cy="446.9" r="2.8" fill="#9E480E"/>
<circle cx="244.6" cy="424.5" r="2.8" fill="#9E480E"/>
<circle cx="244.6" cy="427.5" r="2.8" fill="#9E480E"/>
<circle cx="244.2" cy="431.1" r="2.8" fill="#9E480E"/>
<circle cx="244.4" cy="438.0" r="2.8" fill="#9E480E"/>
<circle cx="246.5" cy="424.5" r="2.8" fill="#9E480E"/>
<circle cx="245.9" cy="439.3" r="2.8" fill="#9E480E"/>
<circle cx="246.0" cy="435.8" r="2.8" fill="#9E480E"/>
<circle cx="246.2" cy="446.1" r="2.8" fill="#9E480E"/>
<circle cx="248.1" cy="422.8" r="2.8" fill="#9E480E"/>
<circle cx="247.7" cy="427.2" r="2.8" fill="#9E480E"/>
<circle cx="248.0" cy="447.3" r="2.8" fill="#9E480E"/>
<circle cx="247.8" cy="435.0" r="2.8" fill="#9E480E"/>
<circle cx="250.0" cy="447.7" r="2.8" fill="#9E480E"/>
<circle cx="249.8" cy="425.7" r="2.8" fill="#9E480E"/>
<circle cx="249.7" cy="421.6" r="2.8" fill="#9E480E"/>
<circle cx="250.1" cy="429.8" r="2.8" fill="#9E480E"/>
<circle cx="251.6" cy="424.9" r="2.8" fill="#9E480E"/>
<circle cx="251.7" cy="444.4" r="2.8" fill="#9E480E"/>
<circle cx="251.8" cy="436.8" r="2.8" fill="#9E480E"/>
<circle cx="251.6" cy="418.2" r="2.8" fill="#9E480E"/>
<circle cx="253.3" cy="438.8" r="2.8" fill="#9E480E"/>
<circle cx="253.4" cy="441.4" r="2.8" fill="#9E480E"/>
<circle cx="253.3" cy="428.9" r="2.8" fill="#9E480E"/>
<circle cx="253.6" cy="428.7" r="2.8" fill="#9E480E"/>
<circle cx="253.4" cy="439.7" r="2.8" fill="#9E480E"/>
<circle cx="255.5" cy="445.6" r="2.8" fill="#9E480E"/>
<circle cx="255.1" cy="441.5" r="2.8" fill="#9E480E"/>
<circle cx="255.3" cy="418.0" r="2.8" fill="#9E480E"/>
<circle cx="255.1" cy="420.6" r="2.8" fill="#9E480E"/>
<circle cx="257.4" cy="442.1" r="2.8" fill="#9E480E"/>
<circle cx="257.2" cy="442.5" r="2.8" fill="#9E480E"/>
<circle cx="256.8" cy="432.7" r="2.8" fill="#9E480E"/>
<circle cx="256.8" cy="443.5" r="2.8" fill="#9E480E"/>
<circle cx="257.2" cy="421.5" r="2.8" fill="#9E480E"/>
<circle cx="259.1" cy="446.3" r="2.8" fill="#9E480E"/>
<circle cx="259.0" cy="433.4" r="2.8" fill="#9E480E"/>
<circle cx="259.0" cy="436.4" r="2.8" fill="#9E480E"/>
<circle cx="259.2" cy="418.6" r="2.8" fill="#9E480E"/>
<circle cx="258.7" cy="423.1" r="2.8" fill="#9E480E"/>
<circle cx="260.9" cy="443.9" r="2.8" fill="#9E480E"/>
<circle cx="260.5" cy="416.4" r="2.8" fill="#9E480E"/>
<circle cx="260.8" cy="427.9" r="2.8" fill="#9E480E"/>
<circle cx="260.6" cy="444.5" r="2.8" fill="#9E480E"/>
<circle cx="262.8" cy="426.4" r="2.8" fill="#9E480E"/>
<circle cx="262.6" cy="427.1" r="2.8" fill="#9E480E"/>
<circle cx="262.6" cy="444.5" r="2.8" fill="#9E480E"/>
<circle cx="262.3" cy="437.9" r="2.8" fill="#9E480E"/>
<circle cx="264.6" cy="427.5" r="2.8" fill="#9E480E"/>
<circle cx="264.2" cy="426.0" r="2.8" fill="#9E480E"/>
<circle cx="264.2" cy="420.8" r="2.8" fill="#9E480E"/>
<circle cx="266.3" cy="431.5" r="2.8" fill="#9E480E"/>
<circle cx="266.1" cy="439.7" r="2.8" fill="#9E480E"/>
<circle cx="265.9" cy="443.3" r="2.8" fill="#9E480E"/>
<circle cx="267.7" cy="441.1" r="2.8" fill="#9E480E"/>
<circle cx="268.0" cy="429.3" r="2.8" fill="#9E480E"/>
<circle cx="268.0" cy="440.3" r="2.8" fill="#9E480E"/>
<circle cx="269.6" cy="429.6" r="2.8" fill="#9E480E"/>
<circle cx="269.5" cy="437.8" r="2.8" fill="#9E480E"/>
<circle cx="269.7" cy="423.3" r="2.8" fill="#9E480E"/>
<circle cx="269.6" cy="423.6" r="2.8" fill="#9E480E"/>
<circle cx="271.6" cy="437.8" r="2.8" fill="#9E480E"/>
<circle cx="271.7" cy="434.7" r="2.8" fill="#9E480E"/>
<circle cx="271.4" cy="436.5" r="2.8" fill="#9E480E"/>
<circle cx="273.5" cy="419.0" r="2.8" fill="#9E480E"/>
<circle cx="273.7" cy="437.4" r="2.8" fill="#9E480E"/>
<circle cx="273.5" cy="418.8" r="2.8" fill="#9E480E"/>
<circle cx="275.3" cy="432.5" r="2.8" fill="#9E480E"/>
<circle cx="275.3" cy="423.4" r="2.8" fill="#9E480E"/>
<circle cx="277.2" cy="419.1" r="2.8" fill="#9E480E"/>
<circle cx="277.1" cy="434.8" r="2.8" fill="#9E480E"/>
<circle cx="277.0" cy="427.0" r="2.8" fill="#9E480E"/>
<circle cx="279.0" cy="433.1" r="2.8" fill="#9E480E"/>
<circle cx="279.0" cy="422.5" r="2.8" fill="#9E480E"/>
<circle cx="279.0" cy="423.2" r="2.8" fill="#9E480E"/>
<circle cx="280.6" cy="414.1" r="2.8" fill="#9E480E"/>
<circle cx="280.4" cy="429.6" r="2.8" fill="#9E480E"/>
<circle cx="280.9" cy="416.3" r="2.8" fill="#9E480E"/>
<circle cx="282.4" cy="419.8" r="2.8" fill="#9E480E"/>
<circle cx="282.4" cy="426.2" r="2.8" fill="#9E480E"/>
<circle cx="282.4" cy="426.5" r="2.8" fill="#9E480E"/>
<circle cx="284.5" cy="422.9" r="2.8" fill="#9E480E"/>
<circle cx="284.3" cy="415.3" r="2.8" fill="#9E480E"/>
<circle cx="284.3" cy="418.0" r="2.8" fill="#9E480E"/>
<circle cx="284.1" cy="428.8" r="2.8" fill="#9E480E"/>
<circle cx="286.3" cy="412.7" r="2.8" fill="#9E480E"/>
<circle cx="285.9" cy="427.7" r="2.8" fill="#9E480E"/>
<circle cx="285.9" cy="415.5" r="2.8" fill="#9E480E"/>
<circle cx="288.1" cy="408.4" r="2.8" fill="#9E480E"/>
<circle cx="287.8" cy="412.7" r="2.8" fill="#9E480E"/>
<circle cx="288.0" cy="428.2" r="2.8" fill="#9E480E"/>
<circle cx="289.6" cy="413.2" r="2.8" fill="#9E480E"/>
<circle cx="289.9" cy="405.8" r="2.8" fill="#9E480E"/>
<circle cx="289.8" cy="424.8" r="2.8" fill="#9E480E"/>
<circle cx="291.6" cy="428.3" r="2.8" fill="#9E480E"/>
<circle cx="291.5" cy="420.5" r="2.8" fill="#9E480E"/>
<circle cx="291.5" cy="420.4" r="2.8" fill="#9E480E"/>
<circle cx="291.8" cy="412.7" r="2.8" fill="#9E480E"/>
<circle cx="293.5" cy="428.5" r="2.8" fill="#9E480E"/>
<circle cx="293.5" cy="410.4" r="2.8" fill="#9E480E"/>
<circle cx="293.2" cy="415.9" r="2.8" fill="#9E480E"/>
<circle cx="295.0" cy="404.3" r="2.8" fill="#9E480E"/>
<circle cx="295.2" cy="416.1" r="2.8" fill="#9E480E"/>
<circle cx="295.2" cy="405.5" r="2.8" fill="#9E480E"/>
<circle cx="295.1" cy="416.3" r="2.8" fill="#9E480E"/>
<circle cx="297.3" cy="408.5" r="2.8" fill="#9E480E"/>
<circle cx="296.7" cy="408.2" r="2.8" fill="#9E480E"/>
<circle cx="297.2" cy="415.4" r="2.8" fill="#9E480E"/>
<circle cx="298.9" cy="410.8" r="2.8" fill="#9E480E"/>
<circle cx="298.8" cy="421.9" r="2.8" fill="#9E480E"/>
<circle cx="299.0" cy="418.0" r="2.8" fill="#9E480E"/>
<circle cx="298.7" cy="415.3" r="2.8" fill="#9E480E"/>
<circle cx="300.7" cy="431.8" r="2.8" fill="#9E480E"/>
<circle cx="300.5" cy="406.2" r="2.8" fill="#9E480E"/>
<circle cx="300.9" cy="413.8" r="2.8" fill="#9E480E"/>
<circle cx="300.8" cy="428.1" r="2.8" fill="#9E480E"/>
<circle cx="302.6" cy="424.2" r="2.8" fill="#9E480E"/>
<circle cx="302.4" cy="399.2" r="2.8" fill="#9E480E"/>
<circle cx="302.5" cy="410.6" r="2.8" fill="#9E480E"/>
<circle cx="302.6" cy="408.8" r="2.8" fill="#9E480E"/>
<circle cx="304.2" cy="407.3" r="2.8" fill="#9E480E"/>
<circle cx="304.1" cy="404.4" r="2.8" fill="#9E480E"/>
<circle cx="304.0" cy="409.8" r="2.8" fill="#9E480E"/>
<circle cx="304.1" cy="414.5" r="2.8" fill="#9E480E"/>
<circle cx="306.3" cy="421.5" r="2.8" fill="#9E480E"/>
<circle cx="306.1" cy="407.2" r="2.8" fill="#9E480E"/>
<circle cx="306.0" cy="413.8" r="2.8" fill="#9E480E"/>
<circle cx="306.4" cy="424.9" r="2.8" fill="#9E480E"/>
<circle cx="306.0" cy="411.9" r="2.8" fill="#9E480E"/>
<circle cx="307.8" cy="429.1" r="2.8" fill="#9E480E"/>
<circle cx="307.9" cy="422.7" r="2.8" fill="#9E480E"/>
<circle cx="307.8" cy="406.5" r="2.8" fill="#9E480E"/>
<circle cx="307.6" cy="430.6" r="2.8" fill="#9E480E"/>
<circle cx="309.5" cy="421.1" r="2.8" fill="#9E480E"/>
<circle cx="309.7" cy="432.4" r="2.8" fill="#9E480E"/>
<circle cx="309.7" cy="406.9" r="2.8" fill="#9E480E"/>
<circle cx="309.7" cy="405.8" r="2.8" fill="#9E480E"/>
<circle cx="311.3" cy="428.0" r="2.8" fill="#9E480E"/>
<circle cx="311.2" cy="404.6" r="2.8" fill="#9E480E"/>
<circle cx="311.6" cy="432.5" r="2.8" fill="#9E480E"/>
<circle cx="311.5" cy="424.6" r="2.8" fill="#9E480E"/>
<circle cx="313.1" cy="424.4" r="2.8" fill="#9E480E"/>
<circle cx="313.4" cy="431.8" r="2.8" fill="#9E480E"/>
<circle cx="313.4" cy="428.6" r="2.8" fill="#9E480E"/>
<circle cx="313.6" cy="423.3" r="2.8" fill="#9E480E"/>
<circle cx="315.4" cy="424.1" r="2.8" fill="#9E480E"/>
<circle cx="315.0" cy="415.4" r="2.8" fill="#9E480E"/>
<circle cx="315.1" cy="419.6" r="2.8" fill="#9E480E"/>
<circle cx="316.9" cy="408.4" r="2.8" fill="#9E480E"/>
<circle cx="316.7" cy="420.9" r="2.8" fill="#9E480E"/>
<circle cx="317.2" cy="425.7" r="2.8" fill="#9E480E"/>
<circle cx="318.8" cy="410.5" r="2.8" fill="#9E480E"/>
<circle cx="319.1" cy="421.3" r="2.8" fill="#9E480E"/>
<circle cx="319.0" cy="425.1" r="2.8" fill="#9E480E"/>
<circle cx="318.7" cy="425.9" r="2.8" fill="#9E480E"/>
<circle cx="320.9" cy="415.0" r="2.8" fill="#9E480E"/>
<circle cx="320.7" cy="413.9" r="2.8" fill="#9E480E"/>
<circle cx="320.9" cy="418.3" r="2.8" fill="#9E480E"/>
<circle cx="322.4" cy="415.6" r="2.8" fill="#9E480E"/>
<circle cx="322.3" cy="423.2" r="2.8" fill="#9E480E"/>
<circle cx="322.6" cy="414.8" r="2.8" fill="#9E480E"/>
<circle cx="322.5" cy="417.5" r="2.8" fill="#9E480E"/>
<circle cx="324.3" cy="428.3" r="2.8" fill="#9E480E"/>
<circle cx="323.9" cy="427.2" r="2.8" fill="#9E480E"/>
<circle cx="324.4" cy="410.5" r="2.8" fill="#9E480E"/>
<circle cx="324.2" cy="427.9" r="2.8" fill="#9E480E"/>
<circle cx="326.2" cy="426.7" r="2.8" fill="#9E480E"/>
<circle cx="326.3" cy="406.8" r="2.8" fill="#9E480E"/>
<circle cx="326.2" cy="416.4" r="2.8" fill="#9E480E"/>
<circle cx="326.0" cy="412.1" r="2.8" fill="#9E480E"/>
<circle cx="328.0" cy="408.8" r="2.8" fill="#9E480E"/>
<circle cx="327.8" cy="413.5" r="2.8" fill="#9E480E"/>
<circle cx="327.9" cy="423.2" r="2.8" fill="#9E480E"/>
<circle cx="329.9" cy="401.9" r="2.8" fill="#9E480E"/>
<circle cx="330.0" cy="420.2" r="2.8" fill="#9E480E"/>
<circle cx="329.5" cy="410.2" r="2.8" fill="#9E480E"/>
<circle cx="329.4" cy="407.7" r="2.8" fill="#9E480E"/>
<circle cx="329.6" cy="414.1" r="2.8" fill="#9E480E"/>
<circle cx="331.7" cy="415.9" r="2.8" fill="#9E480E"/>
<circle cx="331.5" cy="419.7" r="2.8" fill="#9E480E"/>
<circle cx="331.6" cy="410.3" r="2.8" fill="#9E480E"/>
<circle cx="331.3" cy="411.0" r="2.8" fill="#9E480E"/>
<circle cx="333.2" cy="401.9" r="2.8" fill="#9E480E"/>
<circle cx="333.3" cy="403.9" r="2.8" fill="#9E480E"/>
<circle cx="333.0" cy="407.6" r="2.8" fill="#9E480E"/>
<circle cx="333.1" cy="419.0" r="2.8" fill="#9E480E"/>
<circle cx="335.0" cy="404.0" r="2.8" fill="#9E480E"/>
<circle cx="334.9" cy="413.4" r="2.8" fill="#9E480E"/>
<circle cx="334.9" cy="425.5" r="2.8" fill="#9E480E"/>
<circle cx="335.0" cy="420.3" r="2.8" fill="#9E480E"/>
<circle cx="336.9" cy="424.3" r="2.8" fill="#9E480E"/>
<circle cx="336.8" cy="412.1" r="2.8" fill="#9E480E"/>
<circle cx="337.0" cy="397.5" r="2.8" fill="#9E480E"/>
<circle cx="338.9" cy="402.2" r="2.8" fill="#9E480E"/>
<circle cx="338.9" cy="415.4" r="2.8" fill="#9E480E"/>
<circle cx="338.9" cy="409.2" r="2.8" fill="#9E480E"/>
<circle cx="338.9" cy="422.1" r="2.8" fill="#9E480E"/>
<circle cx="340.8" cy="412.0" r="2.8" fill="#9E480E"/>
<circle cx="340.5" cy="403.9" r="2.8" fill="#9E480E"/>
<circle cx="340.5" cy="416.9" r="2.8" fill="#9E480E"/>
<circle cx="340.5" cy="421.2" r="2.8" fill="#9E480E"/>
<circle cx="342.2" cy="411.4" r="2.8" fill="#9E480E"/>
<circle cx="342.2" cy="406.2" r="2.8" fill="#9E480E"/>
<circle cx="342.5" cy="429.1" r="2.8" fill="#9E480E"/>
<circle cx="342.2" cy="418.2" r="2.8" fill="#9E480E"/>
<circle cx="344.0" cy="402.3" r="2.8" fill="#9E480E"/>
<circle cx="344.2" cy="407.7" r="2.8" fill="#9E480E"/>
<circle cx="344.1" cy="411.3" r="2.8" fill="#9E480E"/>
<circle cx="344.1" cy="414.2" r="2.8" fill="#9E480E"/>
<circle cx="344.0" cy="407.6" r="2.8" fill="#9E480E"/>
<circle cx="345.8" cy="397.3" r="2.8" fill="#9E480E"/>
<circle cx="345.9" cy="397.0" r="2.8" fill="#9E480E"/>
<circle cx="345.8" cy="419.1" r="2.8" fill="#9E480E"/>
<circle cx="346.1" cy="408.1" r="2.8" fill="#9E480E"/>
<circle cx="345.9" cy="410.7" r="2.8" fill="#9E480E"/>
<circle cx="347.8" cy="395.4" r="2.8" fill="#9E480E"/>
<circle cx="347.6" cy="414.7" r="2.8" fill="#9E480E"/>
<circle cx="348.1" cy="421.5" r="2.8" fill="#9E480E"/>
<circle cx="348.1" cy="411.6" r="2.8" fill="#9E480E"/>
<circle cx="349.9" cy="403.5" r="2.8" fill="#9E480E"/>
<circle cx="349.4" cy="422.6" r="2.8" fill="#9E480E"/>
<circle cx="349.8" cy="422.1" r="2.8" fill="#9E480E"/>
<circle cx="349.6" cy="411.7" r="2.8" fill="#9E480E"/>
<circle cx="351.4" cy="403.8" r="2.8" fill="#9E480E"/>
<circle cx="351.8" cy="405.1" r="2.8" fill="#9E480E"/>
<circle cx="351.2" cy="402.5" r="2.8" fill="#9E480E"/>
<circle cx="351.4" cy="390.8" r="2.8" fill="#9E480E"/>
<circle cx="353.1" cy="405.7" r="2.8" fill="#9E480E"/>
<circle cx="353.2" cy="390.0" r="2.8" fill="#9E480E"/>
<circle cx="353.6" cy="393.5" r="2.8" fill="#9E480E"/>
<circle cx="353.1" cy="403.3" r="2.8" fill="#9E480E"/>
<circle cx="353.0" cy="422.5" r="2.8" fill="#9E480E"/>
<circle cx="355.2" cy="399.9" r="2.8" fill="#9E480E"/>
<circle cx="355.3" cy="420.3" r="2.8" fill="#9E480E"/>
<circle cx="355.0" cy="394.0" r="2.8" fill="#9E480E"/>
<circle cx="355.0" cy="400.0" r="2.8" fill="#9E480E"/>
<circle cx="357.1" cy="412.4" r="2.8" fill="#9E480E"/>
<circle cx="357.1" cy="401.1" r="2.8" fill="#9E480E"/>
<circle cx="357.0" cy="396.0" r="2.8" fill="#9E480E"/>
<circle cx="357.2" cy="391.5" r="2.8" fill="#9E480E"/>
<circle cx="358.8" cy="413.9" r="2.8" fill="#9E480E"/>
<circle cx="358.7" cy="405.9" r="2.8" fill="#9E480E"/>
<circle cx="359.0" cy="394.2" r="2.8" fill="#9E480E"/>
<circle cx="359.0" cy="404.2" r="2.8" fill="#9E480E"/>
<circle cx="359.0" cy="400.3" r="2.8" fill="#9E480E"/>
<circle cx="360.4" cy="415.5" r="2.8" fill="#9E480E"/>
<circle cx="360.3" cy="418.3" r="2.8" fill="#9E480E"/>
<circle cx="360.8" cy="413.1" r="2.8" fill="#9E480E"/>
<circle cx="360.4" cy="404.3" r="2.8" fill="#9E480E"/>
<circle cx="362.1" cy="394.1" r="2.8" fill="#9E480E"/>
<circle cx="362.4" cy="394.2" r="2.8" fill="#9E480E"/>
<circle cx="362.4" cy="415.9" r="2.8" fill="#9E480E"/>
<circle cx="364.5" cy="400.2" r="2.8" fill="#9E480E"/>
<circle cx="364.2" cy="410.9" r="2.8" fill="#9E480E"/>
<circle cx="364.3" cy="399.3" r="2.8" fill="#9E480E"/>
<circle cx="366.0" cy="404.3" r="2.8" fill="#9E480E"/>
<circle cx="365.7" cy="417.2" r="2.8" fill="#9E480E"/>
<circle cx="365.9" cy="406.6" r="2.8" fill="#9E480E"/>
<circle cx="367.9" cy="415.4" r="2.8" fill="#9E480E"/>
<circle cx="367.9" cy="416.3" r="2.8" fill="#9E480E"/>
<circle cx="368.0" cy="406.5" r="2.8" fill="#9E480E"/>
<circle cx="369.6" cy="395.9" r="2.8" fill="#9E480E"/>
<circle cx="369.8" cy="397.1" r="2.8" fill="#9E480E"/>
<circle cx="369.4" cy="413.8" r="2.8" fill="#9E480E"/>
<circle cx="371.6" cy="403.8" r="2.8" fill="#9E480E"/>
<circle cx="371.2" cy="412.8" r="2.8" fill="#9E480E"/>
<circle cx="371.5" cy="413.0" r="2.8" fill="#9E480E"/>
<circle cx="373.2" cy="412.3" r="2.8" fill="#9E480E"/>
<circle cx="373.0" cy="412.7" r="2.8" fill="#9E480E"/>
<circle cx="373.2" cy="413.6" r="2.8" fill="#9E480E"/>
<circle cx="375.2" cy="395.2" r="2.8" fill="#9E480E"/>
<circle cx="375.2" cy="402.3" r="2.8" fill="#9E480E"/>
<circle cx="374.9" cy="408.5" r="2.8" fill="#9E480E"/>
<circle cx="376.7" cy="395.9" r="2.8" fill="#9E480E"/>
<circle cx="376.9" cy="405.0" r="2.8" fill="#9E480E"/>
<circle cx="378.7" cy="397.7" r="2.8" fill="#9E480E"/>
<circle cx="378.4" cy="393.7" r="2.8" fill="#9E480E"/>
<circle cx="378.4" cy="393.7" r="2.8" fill="#9E480E"/>
<circle cx="380.8" cy="396.1" r="2.8" fill="#9E480E"/>
<circle cx="380.7" cy="411.1" r="2.8" fill="#9E480E"/>
<circle cx="380.6" cy="394.2" r="2.8" fill="#9E480E"/>
<circle cx="382.5" cy="406.8" r="2.8" fill="#9E480E"/>
<circle cx="382.1" cy="400.6" r="2.8" fill="#9E480E"/>
<circle cx="382.4" cy="391.8" r="2.8" fill="#9E480E"/>
<circle cx="384.3" cy="401.1" r="2.8" fill="#9E480E"/>
<circle cx="384.4" cy="406.5" r="2.8" fill="#9E480E"/>
<circle cx="386.2" cy="388.7" r="2.8" fill="#9E480E"/>
<circle cx="386.1" cy="400.1" r="2.8" fill="#9E480E"/>
<circle cx="385.8" cy="396.6" r="2.8" fill="#9E480E"/>
<circle cx="387.6" cy="392.9" r="2.8" fill="#9E480E"/>
<circle cx="387.9" cy="406.6" r="2.8" fill="#9E480E"/>
<circle cx="387.9" cy="408.4" r="2.8" fill="#9E480E"/>
<circle cx="389.6" cy="397.9" r="2.8" fill="#9E480E"/>
<circle cx="389.6" cy="403.6" r="2.8" fill="#9E480E"/>
<circle cx="389.8" cy="403.1" r="2.8" fill="#9E480E"/>
<circle cx="391.4" cy="402.0" r="2.8" fill="#9E480E"/>
<circle cx="391.3" cy="407.7" r="2.8" fill="#9E480E"/>
<circle cx="391.4" cy="391.1" r="2.8" fill="#9E480E"/>
<circle cx="393.5" cy="390.5" r="2.8" fill="#9E480E"/>
<circle cx="392.9" cy="391.7" r="2.8" fill="#9E480E"/>
<circle cx="393.3" cy="409.2" r="2.8" fill="#9E480E"/>
<circle cx="393.1" cy="403.7" r="2.8" fill="#9E480E"/>
<circle cx="395.2" cy="408.4" r="2.8" fill="#9E480E"/>
<circle cx="395.3" cy="392.3" r="2.8" fill="#9E480E"/>
<circle cx="395.2" cy="395.7" r="2.8" fill="#9E480E"/>
<circle cx="397.0" cy="393.9" r="2.8" fill="#9E480E"/>
<circle cx="396.8" cy="401.5" r="2.8" fill="#9E480E"/>
<circle cx="396.8" cy="393.7" r="2.8" fill="#9E480E"/>
<circle cx="398.6" cy="399.6" r="2.8" fill="#9E480E"/>
<circle cx="398.7" cy="395.3" r="2.8" fill="#9E480E"/>
<circle cx="398.6" cy="393.7" r="2.8" fill="#9E480E"/>
<circle cx="400.4" cy="405.6" r="2.8" fill="#9E480E"/>
<circle cx="400.4" cy="402.7" r="2.8" fill="#9E480E"/>
<circle cx="400.4" cy="408.6" r="2.8" fill="#9E480E"/>
<circle cx="402.4" cy="395.0" r="2.8" fill="#9E480E"/>
<circle cx="402.3" cy="393.4" r="2.8" fill="#9E480E"/>
<circle cx="404.0" cy="402.8" r="2.8" fill="#9E480E"/>
<circle cx="404.4" cy="404.9" r="2.8" fill="#9E480E"/>
<circle cx="406.2" cy="406.5" r="2.8" fill="#9E480E"/>
<circle cx="405.9" cy="400.0" r="2.8" fill="#9E480E"/>
<circle cx="407.7" cy="407.4" r="2.8" fill="#9E480E"/>
<circle cx="407.6" cy="397.6" r="2.8" fill="#9E480E"/>
<circle cx="409.7" cy="398.7" r="2.8" fill="#9E480E"/>
<circle cx="409.3" cy="402.7" r="2.8" fill="#9E480E"/>
<circle cx="411.4" cy="402.9" r="2.8" fill="#9E480E"/>
<circle cx="411.3" cy="406.3" r="2.8" fill="#9E480E"/>
<circle cx="413.1" cy="407.9" r="2.8" fill="#9E480E"/>
<circle cx="413.0" cy="402.4" r="2.8" fill="#9E480E"/>
<circle cx="415.2" cy="400.5" r="2.8" fill="#9E480E"/>
<circle cx="414.9" cy="409.7" r="2.8" fill="#9E480E"/>
<circle cx="416.9" cy="404.6" r="2.8" fill="#9E480E"/>
<circle cx="417.0" cy="404.9" r="2.8" fill="#9E480E"/>
<circle cx="418.5" cy="402.6" r="2.8" fill="#9E480E"/>
<circle cx="418.4" cy="401.8" r="2.8" fill="#9E480E"/>
<circle cx="420.5" cy="400.9" r="2.8" fill="#9E480E"/>
<circle cx="420.4" cy="400.1" r="2.8" fill="#9E480E"/>
<circle cx="422.3" cy="404.8" r="2.8" fill="#9E480E"/>
<circle cx="422.4" cy="400.3" r="2.8" fill="#9E480E"/>
<circle cx="423.8" cy="402.7" r="2.8" fill="#9E480E"/>
<circle cx="424.1" cy="402.4" r="2.8" fill="#9E480E"/>
<circle cx="428.9" cy="391.5" r="2.8" fill="#9E480E"/>
<circle cx="428.7" cy="390.4" r="2.8" fill="#9E480E"/>
<circle cx="432.2" cy="397.2" r="2.8" fill="#9E480E"/>
<circle cx="431.7" cy="400.3" r="2.8" fill="#9E480E"/>
<circle cx="434.0" cy="404.3" r="2.8" fill="#9E480E"/>
<circle cx="433.8" cy="403.7" r="2.8" fill="#9E480E"/>
<circle cx="436.2" cy="393.2" r="2.8" fill="#9E480E"/>
<circle cx="436.2" cy="398.7" r="2.8" fill="#9E480E"/>
<circle cx="443.7" cy="393.3" r="2.8" fill="#9E480E"/>
<circle cx="443.6" cy="395.8" r="2.8" fill="#9E480E"/>
<circle cx="445.2" cy="392.9" r="2.8" fill="#9E480E"/>
<circle cx="445.1" cy="406.4" r="2.8" fill="#9E480E"/>
<circle cx="447.2" cy="404.7" r="2.8" fill="#9E480E"/>
<circle cx="447.3" cy="389.8" r="2.8" fill="#9E480E"/>
<circle cx="449.3" cy="401.8" r="2.8" fill="#9E480E"/>
<circle cx="449.1" cy="395.1" r="2.8" fill="#9E480E"/>
<circle cx="452.4" cy="397.3" r="2.8" fill="#9E480E"/>
<circle cx="452.8" cy="399.2" r="2.8" fill="#9E480E"/>
<circle cx="464.3" cy="394.4" r="2.8" fill="#9E480E"/>
<circle cx="464.5" cy="395.3" r="2.8" fill="#9E480E"/>
<circle cx="471.0" cy="394.3" r="2.8" fill="#9E480E"/>
<circle cx="470.7" cy="394.9" r="2.8" fill="#9E480E"/>
<circle cx="474.5" cy="398.6" r="2.8" fill="#9E480E"/>
<circle cx="474.5" cy="396.5" r="2.8" fill="#9E480E"/>
<circle cx="224.6" cy="417.7" r="2.8" fill="#9E480E"/>
<circle cx="225.0" cy="413.5" r="2.8" fill="#9E480E"/>
<circle cx="264.3" cy="398.7" r="2.8" fill="#9E480E"/>
<circle cx="264.0" cy="400.4" r="2.8" fill="#9E480E"/>
<circle cx="294.9" cy="438.8" r="2.8" fill="#9E480E"/>
<circle cx="294.6" cy="443.5" r="2.8" fill="#9E480E"/>
<circle cx="170.8" cy="439.8" r="2.8" fill="#9E480E"/>
<circle cx="170.7" cy="440.9" r="2.8" fill="#9E480E"/>
<circle cx="179.8" cy="463.5" r="2.8" fill="#9E480E"/>
<circle cx="179.7" cy="464.2" r="2.8" fill="#9E480E"/>
<circle cx="124.9" cy="459.2" r="2.4" fill="#BC5A1A" stroke="#94440F" stroke-width="0.6"/>
<circle cx="126.2" cy="461.0" r="2.4" fill="#BC5A1A" stroke="#94440F" stroke-width="0.6"/>
<circle cx="126.4" cy="465.3" r="2.4" fill="#BC5A1A" stroke="#94440F" stroke-width="0.6"/>
<circle cx="128.0" cy="457.7" r="2.4" fill="#BC5A1A" stroke="#94440F" stroke-width="0.6"/>
<circle cx="128.4" cy="463.8" r="2.4" fill="#BC5A1A" stroke="#94440F" stroke-width="0.6"/>
<circle cx="129.9" cy="460.5" r="2.4" fill="#BC5A1A" stroke="#94440F" stroke-width="0.6"/>
<circle cx="131.9" cy="458.7" r="2.4" fill="#BC5A1A" stroke="#94440F" stroke-width="0.6"/>
<circle cx="133.4" cy="453.0" r="2.4" fill="#BC5A1A" stroke="#94440F" stroke-width="0.6"/>
<circle cx="135.8" cy="464.1" r="2.4" fill="#BC5A1A" stroke="#94440F" stroke-width="0.6"/>
<circle cx="135.3" cy="461.3" r="2.4" fill="#BC5A1A" stroke="#94440F" stroke-width="0.6"/>
<circle cx="135.3" cy="457.8" r="2.4" fill="#BC5A1A" stroke="#94440F" stroke-width="0.6"/>
<circle cx="137.2" cy="463.1" r="2.4" fill="#BC5A1A" stroke="#94440F" stroke-width="0.6"/>
<circle cx="137.6" cy="454.5" r="2.4" fill="#BC5A1A" stroke="#94440F" stroke-width="0.6"/>
<circle cx="139.2" cy="455.3" r="2.4" fill="#BC5A1A" stroke="#94440F" stroke-width="0.6"/>
<circle cx="139.1" cy="460.9" r="2.4" fill="#BC5A1A" stroke="#94440F" stroke-width="0.6"/>
<circle cx="139.1" cy="456.0" r="2.4" fill="#BC5A1A" stroke="#94440F" stroke-width="0.6"/>
<circle cx="141.1" cy="455.2" r="2.4" fill="#BC5A1A" stroke="#94440F" stroke-width="0.6"/>
<circle cx="140.8" cy="462.2" r="2.4" fill="#BC5A1A" stroke="#94440F" stroke-width="0.6"/>
<circle cx="142.9" cy="452.9" r="2.4" fill="#BC5A1A" stroke="#94440F" stroke-width="0.6"/>
<circle cx="142.8" cy="451.9" r="2.4" fill="#BC5A1A" stroke="#94440F" stroke-width="0.6"/>
<circle cx="144.4" cy="449.3" r="2.4" fill="#BC5A1A" stroke="#94440F" stroke-width="0.6"/>
<circle cx="144.5" cy="452.5" r="2.4" fill="#BC5A1A" stroke="#94440F" stroke-width="0.6"/>
<circle cx="144.4" cy="455.8" r="2.4" fill="#BC5A1A" stroke="#94440F" stroke-width="0.6"/>
<circle cx="146.3" cy="449.2" r="2.4" fill="#BC5A1A" stroke="#94440F" stroke-width="0.6"/>
<circle cx="146.4" cy="454.0" r="2.4" fill="#BC5A1A" stroke="#94440F" stroke-width="0.6"/>
<circle cx="148.2" cy="457.4" r="2.4" fill="#BC5A1A" stroke="#94440F" stroke-width="0.6"/>
<circle cx="148.3" cy="455.5" r="2.4" fill="#BC5A1A" stroke="#94440F" stroke-width="0.6"/>
<circle cx="148.5" cy="458.5" r="2.4" fill="#BC5A1A" stroke="#94440F" stroke-width="0.6"/>
<circle cx="150.1" cy="454.0" r="2.4" fill="#BC5A1A" stroke="#94440F" stroke-width="0.6"/>
<circle cx="149.8" cy="458.4" r="2.4" fill="#BC5A1A" stroke="#94440F" stroke-width="0.6"/>
<circle cx="151.8" cy="450.0" r="2.4" fill="#BC5A1A" stroke="#94440F" stroke-width="0.6"/>
<circle cx="151.9" cy="452.0" r="2.4" fill="#BC5A1A" stroke="#94440F" stroke-width="0.6"/>
<circle cx="151.9" cy="452.2" r="2.4" fill="#BC5A1A" stroke="#94440F" stroke-width="0.6"/>
<circle cx="153.9" cy="462.7" r="2.4" fill="#BC5A1A" stroke="#94440F" stroke-width="0.6"/>
<circle cx="153.4" cy="449.9" r="2.4" fill="#BC5A1A" stroke="#94440F" stroke-width="0.6"/>
<circle cx="153.6" cy="452.8" r="2.4" fill="#BC5A1A" stroke="#94440F" stroke-width="0.6"/>
<circle cx="155.4" cy="460.6" r="2.4" fill="#BC5A1A" stroke="#94440F" stroke-width="0.6"/>
<circle cx="155.6" cy="461.9" r="2.4" fill="#BC5A1A" stroke="#94440F" stroke-width="0.6"/>
<circle cx="155.3" cy="449.3" r="2.4" fill="#BC5A1A" stroke="#94440F" stroke-width="0.6"/>
<circle cx="157.1" cy="463.0" r="2.4" fill="#BC5A1A" stroke="#94440F" stroke-width="0.6"/>
<circle cx="157.5" cy="445.4" r="2.4" fill="#BC5A1A" stroke="#94440F" stroke-width="0.6"/>
<circle cx="157.4" cy="454.0" r="2.4" fill="#BC5A1A" stroke="#94440F" stroke-width="0.6"/>
<circle cx="159.4" cy="462.5" r="2.4" fill="#BC5A1A" stroke="#94440F" stroke-width="0.6"/>
<circle cx="158.8" cy="448.0" r="2.4" fill="#BC5A1A" stroke="#94440F" stroke-width="0.6"/>
<circle cx="159.3" cy="444.2" r="2.4" fill="#BC5A1A" stroke="#94440F" stroke-width="0.6"/>
<circle cx="161.0" cy="460.2" r="2.4" fill="#BC5A1A" stroke="#94440F" stroke-width="0.6"/>
<circle cx="160.6" cy="448.3" r="2.4" fill="#BC5A1A" stroke="#94440F" stroke-width="0.6"/>
<circle cx="161.0" cy="445.8" r="2.4" fill="#BC5A1A" stroke="#94440F" stroke-width="0.6"/>
<circle cx="162.9" cy="448.1" r="2.4" fill="#BC5A1A" stroke="#94440F" stroke-width="0.6"/>
<circle cx="162.8" cy="460.4" r="2.4" fill="#BC5A1A" stroke="#94440F" stroke-width="0.6"/>
<circle cx="164.3" cy="449.1" r="2.4" fill="#BC5A1A" stroke="#94440F" stroke-width="0.6"/>
<circle cx="164.4" cy="450.9" r="2.4" fill="#BC5A1A" stroke="#94440F" stroke-width="0.6"/>
<circle cx="166.3" cy="456.3" r="2.4" fill="#BC5A1A" stroke="#94440F" stroke-width="0.6"/>
<circle cx="166.3" cy="452.1" r="2.4" fill="#BC5A1A" stroke="#94440F" stroke-width="0.6"/>
<circle cx="168.4" cy="454.4" r="2.4" fill="#BC5A1A" stroke="#94440F" stroke-width="0.6"/>
<circle cx="167.9" cy="442.4" r="2.4" fill="#BC5A1A" stroke="#94440F" stroke-width="0.6"/>
<circle cx="167.9" cy="454.1" r="2.4" fill="#BC5A1A" stroke="#94440F" stroke-width="0.6"/>
<circle cx="169.8" cy="456.9" r="2.4" fill="#BC5A1A" stroke="#94440F" stroke-width="0.6"/>
<circle cx="169.7" cy="457.8" r="2.4" fill="#BC5A1A" stroke="#94440F" stroke-width="0.6"/>
<circle cx="170.3" cy="444.8" r="2.4" fill="#BC5A1A" stroke="#94440F" stroke-width="0.6"/>
<circle cx="171.9" cy="447.9" r="2.4" fill="#BC5A1A" stroke="#94440F" stroke-width="0.6"/>
<circle cx="171.6" cy="447.9" r="2.4" fill="#BC5A1A" stroke="#94440F" stroke-width="0.6"/>
<circle cx="171.9" cy="453.2" r="2.4" fill="#BC5A1A" stroke="#94440F" stroke-width="0.6"/>
<circle cx="173.4" cy="448.3" r="2.4" fill="#BC5A1A" stroke="#94440F" stroke-width="0.6"/>
<circle cx="173.7" cy="444.5" r="2.4" fill="#BC5A1A" stroke="#94440F" stroke-width="0.6"/>
<circle cx="173.7" cy="449.5" r="2.4" fill="#BC5A1A" stroke="#94440F" stroke-width="0.6"/>
<circle cx="175.7" cy="444.7" r="2.4" fill="#BC5A1A" stroke="#94440F" stroke-width="0.6"/>
<circle cx="175.3" cy="450.3" r="2.4" fill="#BC5A1A" stroke="#94440F" stroke-width="0.6"/>
<circle cx="175.7" cy="444.4" r="2.4" fill="#BC5A1A" stroke="#94440F" stroke-width="0.6"/>
<circle cx="177.1" cy="445.5" r="2.4" fill="#BC5A1A" stroke="#94440F" stroke-width="0.6"/>
<circle cx="177.4" cy="445.7" r="2.4" fill="#BC5A1A" stroke="#94440F" stroke-width="0.6"/>
<circle cx="178.9" cy="456.3" r="2.4" fill="#BC5A1A" stroke="#94440F" stroke-width="0.6"/>
<circle cx="178.8" cy="444.8" r="2.4" fill="#BC5A1A" stroke="#94440F" stroke-width="0.6"/>
<circle cx="181.0" cy="446.6" r="2.4" fill="#BC5A1A" stroke="#94440F" stroke-width="0.6"/>
<circle cx="180.9" cy="444.2" r="2.4" fill="#BC5A1A" stroke="#94440F" stroke-width="0.6"/>
<circle cx="182.6" cy="446.5" r="2.4" fill="#BC5A1A" stroke="#94440F" stroke-width="0.6"/>
<circle cx="182.5" cy="440.5" r="2.4" fill="#BC5A1A" stroke="#94440F" stroke-width="0.6"/>
<circle cx="184.5" cy="457.0" r="2.4" fill="#BC5A1A" stroke="#94440F" stroke-width="0.6"/>
<circle cx="184.2" cy="450.8" r="2.4" fill="#BC5A1A" stroke="#94440F" stroke-width="0.6"/>
<circle cx="184.2" cy="452.5" r="2.4" fill="#BC5A1A" stroke="#94440F" stroke-width="0.6"/>
<circle cx="186.5" cy="447.9" r="2.4" fill="#BC5A1A" stroke="#94440F" stroke-width="0.6"/>
<circle cx="186.5" cy="456.5" r="2.4" fill="#BC5A1A" stroke="#94440F" stroke-width="0.6"/>
<circle cx="187.8" cy="448.0" r="2.4" fill="#BC5A1A" stroke="#94440F" stroke-width="0.6"/>
<circle cx="187.9" cy="456.9" r="2.4" fill="#BC5A1A" stroke="#94440F" stroke-width="0.6"/>
<circle cx="189.8" cy="455.4" r="2.4" fill="#BC5A1A" stroke="#94440F" stroke-width="0.6"/>
<circle cx="189.9" cy="443.6" r="2.4" fill="#BC5A1A" stroke="#94440F" stroke-width="0.6"/>
<circle cx="190.0" cy="447.5" r="2.4" fill="#BC5A1A" stroke="#94440F" stroke-width="0.6"/>
<circle cx="192.0" cy="456.2" r="2.4" fill="#BC5A1A" stroke="#94440F" stroke-width="0.6"/>
<circle cx="192.0" cy="452.1" r="2.4" fill="#BC5A1A" stroke="#94440F" stroke-width="0.6"/>
<circle cx="191.5" cy="450.9" r="2.4" fill="#BC5A1A" stroke="#94440F" stroke-width="0.6"/>
<circle cx="193.3" cy="457.0" r="2.4" fill="#BC5A1A" stroke="#94440F" stroke-width="0.6"/>
<circle cx="193.3" cy="455.1" r="2.4" fill="#BC5A1A" stroke="#94440F" stroke-width="0.6"/>
<circle cx="193.3" cy="451.1" r="2.4" fill="#BC5A1A" stroke="#94440F" stroke-width="0.6"/>
<circle cx="195.1" cy="453.1" r="2.4" fill="#BC5A1A" stroke="#94440F" stroke-width="0.6"/>
<circle cx="195.1" cy="444.7" r="2.4" fill="#BC5A1A" stroke="#94440F" stroke-width="0.6"/>
<circle cx="195.2" cy="456.5" r="2.4" fill="#BC5A1A" stroke="#94440F" stroke-width="0.6"/>
<circle cx="196.9" cy="441.6" r="2.4" fill="#BC5A1A" stroke="#94440F" stroke-width="0.6"/>
<circle cx="197.4" cy="448.5" r="2.4" fill="#BC5A1A" stroke="#94440F" stroke-width="0.6"/>
<circle cx="199.3" cy="448.3" r="2.4" fill="#BC5A1A" stroke="#94440F" stroke-width="0.6"/>
<circle cx="199.0" cy="444.2" r="2.4" fill="#BC5A1A" stroke="#94440F" stroke-width="0.6"/>
<circle cx="200.8" cy="451.1" r="2.4" fill="#BC5A1A" stroke="#94440F" stroke-width="0.6"/>
<circle cx="201.1" cy="438.2" r="2.4" fill="#BC5A1A" stroke="#94440F" stroke-width="0.6"/>
<circle cx="200.7" cy="453.4" r="2.4" fill="#BC5A1A" stroke="#94440F" stroke-width="0.6"/>
<circle cx="202.6" cy="435.6" r="2.4" fill="#BC5A1A" stroke="#94440F" stroke-width="0.6"/>
<circle cx="202.5" cy="435.9" r="2.4" fill="#BC5A1A" stroke="#94440F" stroke-width="0.6"/>
<circle cx="202.5" cy="442.4" r="2.4" fill="#BC5A1A" stroke="#94440F" stroke-width="0.6"/>
<circle cx="204.2" cy="436.2" r="2.4" fill="#BC5A1A" stroke="#94440F" stroke-width="0.6"/>
<circle cx="204.3" cy="451.6" r="2.4" fill="#BC5A1A" stroke="#94440F" stroke-width="0.6"/>
<circle cx="204.2" cy="435.8" r="2.4" fill="#BC5A1A" stroke="#94440F" stroke-width="0.6"/>
<circle cx="206.5" cy="442.5" r="2.4" fill="#BC5A1A" stroke="#94440F" stroke-width="0.6"/>
<circle cx="206.1" cy="438.5" r="2.4" fill="#BC5A1A" stroke="#94440F" stroke-width="0.6"/>
<circle cx="206.3" cy="450.3" r="2.4" fill="#BC5A1A" stroke="#94440F" stroke-width="0.6"/>
<circle cx="206.2" cy="437.6" r="2.4" fill="#BC5A1A" stroke="#94440F" stroke-width="0.6"/>
<circle cx="208.2" cy="448.3" r="2.4" fill="#BC5A1A" stroke="#94440F" stroke-width="0.6"/>
<circle cx="207.9" cy="437.7" r="2.4" fill="#BC5A1A" stroke="#94440F" stroke-width="0.6"/>
<circle cx="207.9" cy="445.1" r="2.4" fill="#BC5A1A" stroke="#94440F" stroke-width="0.6"/>
<circle cx="208.2" cy="440.1" r="2.4" fill="#BC5A1A" stroke="#94440F" stroke-width="0.6"/>
<circle cx="210.2" cy="441.3" r="2.4" fill="#BC5A1A" stroke="#94440F" stroke-width="0.6"/>
<circle cx="209.8" cy="434.3" r="2.4" fill="#BC5A1A" stroke="#94440F" stroke-width="0.6"/>
<circle cx="209.9" cy="445.0" r="2.4" fill="#BC5A1A" stroke="#94440F" stroke-width="0.6"/>
<circle cx="210.1" cy="440.0" r="2.4" fill="#BC5A1A" stroke="#94440F" stroke-width="0.6"/>
<circle cx="211.4" cy="439.7" r="2.4" fill="#BC5A1A" stroke="#94440F" stroke-width="0.6"/>
<circle cx="211.7" cy="427.3" r="2.4" fill="#BC5A1A" stroke="#94440F" stroke-width="0.6"/>
<circle cx="212.0" cy="427.3" r="2.4" fill="#BC5A1A" stroke="#94440F" stroke-width="0.6"/>
<circle cx="211.8" cy="448.8" r="2.4" fill="#BC5A1A" stroke="#94440F" stroke-width="0.6"/>
<circle cx="213.6" cy="453.0" r="2.4" fill="#BC5A1A" stroke="#94440F" stroke-width="0.6"/>
<circle cx="213.7" cy="439.3" r="2.4" fill="#BC5A1A" stroke="#94440F" stroke-width="0.6"/>
<circle cx="213.6" cy="432.7" r="2.4" fill="#BC5A1A" stroke="#94440F" stroke-width="0.6"/>
<circle cx="213.4" cy="431.9" r="2.4" fill="#BC5A1A" stroke="#94440F" stroke-width="0.6"/>
<circle cx="215.3" cy="438.2" r="2.4" fill="#BC5A1A" stroke="#94440F" stroke-width="0.6"/>
<circle cx="215.1" cy="431.6" r="2.4" fill="#BC5A1A" stroke="#94440F" stroke-width="0.6"/>
<circle cx="215.4" cy="434.0" r="2.4" fill="#BC5A1A" stroke="#94440F" stroke-width="0.6"/>
<circle cx="215.4" cy="431.3" r="2.4" fill="#BC5A1A" stroke="#94440F" stroke-width="0.6"/>
<circle cx="217.0" cy="439.4" r="2.4" fill="#BC5A1A" stroke="#94440F" stroke-width="0.6"/>
<circle cx="216.9" cy="424.5" r="2.4" fill="#BC5A1A" stroke="#94440F" stroke-width="0.6"/>
<circle cx="216.9" cy="425.7" r="2.4" fill="#BC5A1A" stroke="#94440F" stroke-width="0.6"/>
<circle cx="219.2" cy="445.6" r="2.4" fill="#BC5A1A" stroke="#94440F" stroke-width="0.6"/>
<circle cx="219.1" cy="432.0" r="2.4" fill="#BC5A1A" stroke="#94440F" stroke-width="0.6"/>
<circle cx="219.1" cy="425.7" r="2.4" fill="#BC5A1A" stroke="#94440F" stroke-width="0.6"/>
<circle cx="219.0" cy="430.6" r="2.4" fill="#BC5A1A" stroke="#94440F" stroke-width="0.6"/>
<circle cx="220.5" cy="445.8" r="2.4" fill="#BC5A1A" stroke="#94440F" stroke-width="0.6"/>
<circle cx="221.0" cy="424.2" r="2.4" fill="#BC5A1A" stroke="#94440F" stroke-width="0.6"/>
<circle cx="220.7" cy="441.4" r="2.4" fill="#BC5A1A" stroke="#94440F" stroke-width="0.6"/>
<circle cx="220.8" cy="428.6" r="2.4" fill="#BC5A1A" stroke="#94440F" stroke-width="0.6"/>
<circle cx="222.6" cy="431.6" r="2.4" fill="#BC5A1A" stroke="#94440F" stroke-width="0.6"/>
<circle cx="222.5" cy="432.5" r="2.4" fill="#BC5A1A" stroke="#94440F" stroke-width="0.6"/>
<circle cx="222.5" cy="436.8" r="2.4" fill="#BC5A1A" stroke="#94440F" stroke-width="0.6"/>
<circle cx="224.4" cy="448.8" r="2.4" fill="#BC5A1A" stroke="#94440F" stroke-width="0.6"/>
<circle cx="224.4" cy="427.7" r="2.4" fill="#BC5A1A" stroke="#94440F" stroke-width="0.6"/>
<circle cx="224.1" cy="447.7" r="2.4" fill="#BC5A1A" stroke="#94440F" stroke-width="0.6"/>
<circle cx="226.4" cy="435.4" r="2.4" fill="#BC5A1A" stroke="#94440F" stroke-width="0.6"/>
<circle cx="226.0" cy="442.4" r="2.4" fill="#BC5A1A" stroke="#94440F" stroke-width="0.6"/>
<circle cx="226.4" cy="436.0" r="2.4" fill="#BC5A1A" stroke="#94440F" stroke-width="0.6"/>
<circle cx="228.1" cy="424.4" r="2.4" fill="#BC5A1A" stroke="#94440F" stroke-width="0.6"/>
<circle cx="228.0" cy="426.3" r="2.4" fill="#BC5A1A" stroke="#94440F" stroke-width="0.6"/>
<circle cx="228.2" cy="450.5" r="2.4" fill="#BC5A1A" stroke="#94440F" stroke-width="0.6"/>
<circle cx="227.8" cy="442.0" r="2.4" fill="#BC5A1A" stroke="#94440F" stroke-width="0.6"/>
<circle cx="229.7" cy="433.4" r="2.4" fill="#BC5A1A" stroke="#94440F" stroke-width="0.6"/>
<circle cx="229.9" cy="433.2" r="2.4" fill="#BC5A1A" stroke="#94440F" stroke-width="0.6"/>
<circle cx="229.9" cy="449.2" r="2.4" fill="#BC5A1A" stroke="#94440F" stroke-width="0.6"/>
<circle cx="231.4" cy="446.3" r="2.4" fill="#BC5A1A" stroke="#94440F" stroke-width="0.6"/>
<circle cx="231.4" cy="434.8" r="2.4" fill="#BC5A1A" stroke="#94440F" stroke-width="0.6"/>
<circle cx="231.8" cy="429.6" r="2.4" fill="#BC5A1A" stroke="#94440F" stroke-width="0.6"/>
<circle cx="233.2" cy="445.6" r="2.4" fill="#BC5A1A" stroke="#94440F" stroke-width="0.6"/>
<circle cx="233.5" cy="427.7" r="2.4" fill="#BC5A1A" stroke="#94440F" stroke-width="0.6"/>
<circle cx="233.8" cy="440.9" r="2.4" fill="#BC5A1A" stroke="#94440F" stroke-width="0.6"/>
<circle cx="235.5" cy="429.4" r="2.4" fill="#BC5A1A" stroke="#94440F" stroke-width="0.6"/>
<circle cx="235.1" cy="446.5" r="2.4" fill="#BC5A1A" stroke="#94440F" stroke-width="0.6"/>
<circle cx="235.4" cy="447.1" r="2.4" fill="#BC5A1A" stroke="#94440F" stroke-width="0.6"/>
<circle cx="235.3" cy="448.4" r="2.4" fill="#BC5A1A" stroke="#94440F" stroke-width="0.6"/>
<circle cx="236.9" cy="434.7" r="2.4" fill="#BC5A1A" stroke="#94440F" stroke-width="0.6"/>
<circle cx="237.1" cy="431.0" r="2.4" fill="#BC5A1A" stroke="#94440F" stroke-width="0.6"/>
<circle cx="236.9" cy="432.8" r="2.4" fill="#BC5A1A" stroke="#94440F" stroke-width="0.6"/>
<circle cx="239.0" cy="443.2" r="2.4" fill="#BC5A1A" stroke="#94440F" stroke-width="0.6"/>
<circle cx="238.9" cy="442.8" r="2.4" fill="#BC5A1A" stroke="#94440F" stroke-width="0.6"/>
<circle cx="238.7" cy="435.2" r="2.4" fill="#BC5A1A" stroke="#94440F" stroke-width="0.6"/>
<circle cx="238.9" cy="433.9" r="2.4" fill="#BC5A1A" stroke="#94440F" stroke-width="0.6"/>
<circle cx="240.6" cy="444.2" r="2.4" fill="#BC5A1A" stroke="#94440F" stroke-width="0.6"/>
<circle cx="240.8" cy="429.6" r="2.4" fill="#BC5A1A" stroke="#94440F" stroke-width="0.6"/>
<circle cx="241.0" cy="445.2" r="2.4" fill="#BC5A1A" stroke="#94440F" stroke-width="0.6"/>
<circle cx="240.5" cy="442.5" r="2.4" fill="#BC5A1A" stroke="#94440F" stroke-width="0.6"/>
<circle cx="242.7" cy="437.2" r="2.4" fill="#BC5A1A" stroke="#94440F" stroke-width="0.6"/>
<circle cx="242.6" cy="435.6" r="2.4" fill="#BC5A1A" stroke="#94440F" stroke-width="0.6"/>
<circle cx="242.4" cy="434.2" r="2.4" fill="#BC5A1A" stroke="#94440F" stroke-width="0.6"/>
<circle cx="242.5" cy="446.9" r="2.4" fill="#BC5A1A" stroke="#94440F" stroke-width="0.6"/>
<circle cx="244.6" cy="424.5" r="2.4" fill="#BC5A1A" stroke="#94440F" stroke-width="0.6"/>
<circle cx="244.6" cy="427.5" r="2.4" fill="#BC5A1A" stroke="#94440F" stroke-width="0.6"/>
<circle cx="244.2" cy="431.1" r="2.4" fill="#BC5A1A" stroke="#94440F" stroke-width="0.6"/>
<circle cx="244.4" cy="438.0" r="2.4" fill="#BC5A1A" stroke="#94440F" stroke-width="0.6"/>
<circle cx="246.5" cy="424.5" r="2.4" fill="#BC5A1A" stroke="#94440F" stroke-width="0.6"/>
<circle cx="245.9" cy="439.3" r="2.4" fill="#BC5A1A" stroke="#94440F" stroke-width="0.6"/>
<circle cx="246.0" cy="435.8" r="2.4" fill="#BC5A1A" stroke="#94440F" stroke-width="0.6"/>
<circle cx="246.2" cy="446.1" r="2.4" fill="#BC5A1A" stroke="#94440F" stroke-width="0.6"/>
<circle cx="248.1" cy="422.8" r="2.4" fill="#BC5A1A" stroke="#94440F" stroke-width="0.6"/>
<circle cx="247.7" cy="427.2" r="2.4" fill="#BC5A1A" stroke="#94440F" stroke-width="0.6"/>
<circle cx="248.0" cy="447.3" r="2.4" fill="#BC5A1A" stroke="#94440F" stroke-width="0.6"/>
<circle cx="247.8" cy="435.0" r="2.4" fill="#BC5A1A" stroke="#94440F" stroke-width="0.6"/>
<circle cx="250.0" cy="447.7" r="2.4" fill="#BC5A1A" stroke="#94440F" stroke-width="0.6"/>
<circle cx="249.8" cy="425.7" r="2.4" fill="#BC5A1A" stroke="#94440F" stroke-width="0.6"/>
<circle cx="249.7" cy="421.6" r="2.4" fill="#BC5A1A" stroke="#94440F" stroke-width="0.6"/>
<circle cx="250.1" cy="429.8" r="2.4" fill="#BC5A1A" stroke="#94440F" stroke-width="0.6"/>
<circle cx="251.6" cy="424.9" r="2.4" fill="#BC5A1A" stroke="#94440F" stroke-width="0.6"/>
<circle cx="251.7" cy="444.4" r="2.4" fill="#BC5A1A" stroke="#94440F" stroke-width="0.6"/>
<circle cx="251.8" cy="436.8" r="2.4" fill="#BC5A1A" stroke="#94440F" stroke-width="0.6"/>
<circle cx="251.6" cy="418.2" r="2.4" fill="#BC5A1A" stroke="#94440F" stroke-width="0.6"/>
<circle cx="253.3" cy="438.8" r="2.4" fill="#BC5A1A" stroke="#94440F" stroke-width="0.6"/>
<circle cx="253.4" cy="441.4" r="2.4" fill="#BC5A1A" stroke="#94440F" stroke-width="0.6"/>
<circle cx="253.3" cy="428.9" r="2.4" fill="#BC5A1A" stroke="#94440F" stroke-width="0.6"/>
<circle cx="253.6" cy="428.7" r="2.4" fill="#BC5A1A" stroke="#94440F" stroke-width="0.6"/>
<circle cx="253.4" cy="439.7" r="2.4" fill="#BC5A1A" stroke="#94440F" stroke-width="0.6"/>
<circle cx="255.5" cy="445.6" r="2.4" fill="#BC5A1A" stroke="#94440F" stroke-width="0.6"/>
<circle cx="255.1" cy="441.5" r="2.4" fill="#BC5A1A" stroke="#94440F" stroke-width="0.6"/>
<circle cx="255.3" cy="418.0" r="2.4" fill="#BC5A1A" stroke="#94440F" stroke-width="0.6"/>
<circle cx="255.1" cy="420.6" r="2.4" fill="#BC5A1A" stroke="#94440F" stroke-width="0.6"/>
<circle cx="257.4" cy="442.1" r="2.4" fill="#BC5A1A" stroke="#94440F" stroke-width="0.6"/>
<circle cx="257.2" cy="442.5" r="2.4" fill="#BC5A1A" stroke="#94440F" stroke-width="0.6"/>
<circle cx="256.8" cy="432.7" r="2.4" fill="#BC5A1A" stroke="#94440F" stroke-width="0.6"/>
<circle cx="256.8" cy="443.5" r="2.4" fill="#BC5A1A" stroke="#94440F" stroke-width="0.6"/>
<circle cx="257.2" cy="421.5" r="2.4" fill="#BC5A1A" stroke="#94440F" stroke-width="0.6"/>
<circle cx="259.1" cy="446.3" r="2.4" fill="#BC5A1A" stroke="#94440F" stroke-width="0.6"/>
<circle cx="259.0" cy="433.4" r="2.4" fill="#BC5A1A" stroke="#94440F" stroke-width="0.6"/>
<circle cx="259.0" cy="436.4" r="2.4" fill="#BC5A1A" stroke="#94440F" stroke-width="0.6"/>
<circle cx="259.2" cy="418.6" r="2.4" fill="#BC5A1A" stroke="#94440F" stroke-width="0.6"/>
<circle cx="258.7" cy="423.1" r="2.4" fill="#BC5A1A" stroke="#94440F" stroke-width="0.6"/>
<circle cx="260.9" cy="443.9" r="2.4" fill="#BC5A1A" stroke="#94440F" stroke-width="0.6"/>
<circle cx="260.5" cy="416.4" r="2.4" fill="#BC5A1A" stroke="#94440F" stroke-width="0.6"/>
<circle cx="260.8" cy="427.9" r="2.4" fill="#BC5A1A" stroke="#94440F" stroke-width="0.6"/>
<circle cx="260.6" cy="444.5" r="2.4" fill="#BC5A1A" stroke="#94440F" stroke-width="0.6"/>
<circle cx="262.8" cy="426.4" r="2.4" fill="#BC5A1A" stroke="#94440F" stroke-width="0.6"/>
<circle cx="262.6" cy="427.1" r="2.4" fill="#BC5A1A" stroke="#94440F" stroke-width="0.6"/>
<circle cx="262.6" cy="444.5" r="2.4" fill="#BC5A1A" stroke="#94440F" stroke-width="0.6"/>
<circle cx="262.3" cy="437.9" r="2.4" fill="#BC5A1A" stroke="#94440F" stroke-width="0.6"/>
<circle cx="264.6" cy="427.5" r="2.4" fill="#BC5A1A" stroke="#94440F" stroke-width="0.6"/>
<circle cx="264.2" cy="426.0" r="2.4" fill="#BC5A1A" stroke="#94440F" stroke-width="0.6"/>
<circle cx="264.2" cy="420.8" r="2.4" fill="#BC5A1A" stroke="#94440F" stroke-width="0.6"/>
<circle cx="266.3" cy="431.5" r="2.4" fill="#BC5A1A" stroke="#94440F" stroke-width="0.6"/>
<circle cx="266.1" cy="439.7" r="2.4" fill="#BC5A1A" stroke="#94440F" stroke-width="0.6"/>
<circle cx="265.9" cy="443.3" r="2.4" fill="#BC5A1A" stroke="#94440F" stroke-width="0.6"/>
<circle cx="267.7" cy="441.1" r="2.4" fill="#BC5A1A" stroke="#94440F" stroke-width="0.6"/>
<circle cx="268.0" cy="429.3" r="2.4" fill="#BC5A1A" stroke="#94440F" stroke-width="0.6"/>
<circle cx="268.0" cy="440.3" r="2.4" fill="#BC5A1A" stroke="#94440F" stroke-width="0.6"/>
<circle cx="269.6" cy="429.6" r="2.4" fill="#BC5A1A" stroke="#94440F" stroke-width="0.6"/>
<circle cx="269.5" cy="437.8" r="2.4" fill="#BC5A1A" stroke="#94440F" stroke-width="0.6"/>
<circle cx="269.7" cy="423.3" r="2.4" fill="#BC5A1A" stroke="#94440F" stroke-width="0.6"/>
<circle cx="269.6" cy="423.6" r="2.4" fill="#BC5A1A" stroke="#94440F" stroke-width="0.6"/>
<circle cx="271.6" cy="437.8" r="2.4" fill="#BC5A1A" stroke="#94440F" stroke-width="0.6"/>
<circle cx="271.7" cy="434.7" r="2.4" fill="#BC5A1A" stroke="#94440F" stroke-width="0.6"/>
<circle cx="271.4" cy="436.5" r="2.4" fill="#BC5A1A" stroke="#94440F" stroke-width="0.6"/>
<circle cx="273.5" cy="419.0" r="2.4" fill="#BC5A1A" stroke="#94440F" stroke-width="0.6"/>
<circle cx="273.7" cy="437.4" r="2.4" fill="#BC5A1A" stroke="#94440F" stroke-width="0.6"/>
<circle cx="273.5" cy="418.8" r="2.4" fill="#BC5A1A" stroke="#94440F" stroke-width="0.6"/>
<circle cx="275.3" cy="432.5" r="2.4" fill="#BC5A1A" stroke="#94440F" stroke-width="0.6"/>
<circle cx="275.3" cy="423.4" r="2.4" fill="#BC5A1A" stroke="#94440F" stroke-width="0.6"/>
<circle cx="277.2" cy="419.1" r="2.4" fill="#BC5A1A" stroke="#94440F" stroke-width="0.6"/>
<circle cx="277.1" cy="434.8" r="2.4" fill="#BC5A1A" stroke="#94440F" stroke-width="0.6"/>
<circle cx="277.0" cy="427.0" r="2.4" fill="#BC5A1A" stroke="#94440F" stroke-width="0.6"/>
<circle cx="279.0" cy="433.1" r="2.4" fill="#BC5A1A" stroke="#94440F" stroke-width="0.6"/>
<circle cx="279.0" cy="422.5" r="2.4" fill="#BC5A1A" stroke="#94440F" stroke-width="0.6"/>
<circle cx="279.0" cy="423.2" r="2.4" fill="#BC5A1A" stroke="#94440F" stroke-width="0.6"/>
<circle cx="280.6" cy="414.1" r="2.4" fill="#BC5A1A" stroke="#94440F" stroke-width="0.6"/>
<circle cx="280.4" cy="429.6" r="2.4" fill="#BC5A1A" stroke="#94440F" stroke-width="0.6"/>
<circle cx="280.9" cy="416.3" r="2.4" fill="#BC5A1A" stroke="#94440F" stroke-width="0.6"/>
<circle cx="282.4" cy="419.8" r="2.4" fill="#BC5A1A" stroke="#94440F" stroke-width="0.6"/>
<circle cx="282.4" cy="426.2" r="2.4" fill="#BC5A1A" stroke="#94440F" stroke-width="0.6"/>
<circle cx="282.4" cy="426.5" r="2.4" fill="#BC5A1A" stroke="#94440F" stroke-width="0.6"/>
<circle cx="284.5" cy="422.9" r="2.4" fill="#BC5A1A" stroke="#94440F" stroke-width="0.6"/>
<circle cx="284.3" cy="415.3" r="2.4" fill="#BC5A1A" stroke="#94440F" stroke-width="0.6"/>
<circle cx="284.3" cy="418.0" r="2.4" fill="#BC5A1A" stroke="#94440F" stroke-width="0.6"/>
<circle cx="284.1" cy="428.8" r="2.4" fill="#BC5A1A" stroke="#94440F" stroke-width="0.6"/>
<circle cx="286.3" cy="412.7" r="2.4" fill="#BC5A1A" stroke="#94440F" stroke-width="0.6"/>
<circle cx="285.9" cy="427.7" r="2.4" fill="#BC5A1A" stroke="#94440F" stroke-width="0.6"/>
<circle cx="285.9" cy="415.5" r="2.4" fill="#BC5A1A" stroke="#94440F" stroke-width="0.6"/>
<circle cx="288.1" cy="408.4" r="2.4" fill="#BC5A1A" stroke="#94440F" stroke-width="0.6"/>
<circle cx="287.8" cy="412.7" r="2.4" fill="#BC5A1A" stroke="#94440F" stroke-width="0.6"/>
<circle cx="288.0" cy="428.2" r="2.4" fill="#BC5A1A" stroke="#94440F" stroke-width="0.6"/>
<circle cx="289.6" cy="413.2" r="2.4" fill="#BC5A1A" stroke="#94440F" stroke-width="0.6"/>
<circle cx="289.9" cy="405.8" r="2.4" fill="#BC5A1A" stroke="#94440F" stroke-width="0.6"/>
<circle cx="289.8" cy="424.8" r="2.4" fill="#BC5A1A" stroke="#94440F" stroke-width="0.6"/>
<circle cx="291.6" cy="428.3" r="2.4" fill="#BC5A1A" stroke="#94440F" stroke-width="0.6"/>
<circle cx="291.5" cy="420.5" r="2.4" fill="#BC5A1A" stroke="#94440F" stroke-width="0.6"/>
<circle cx="291.5" cy="420.4" r="2.4" fill="#BC5A1A" stroke="#94440F" stroke-width="0.6"/>
<circle cx="291.8" cy="412.7" r="2.4" fill="#BC5A1A" stroke="#94440F" stroke-width="0.6"/>
<circle cx="293.5" cy="428.5" r="2.4" fill="#BC5A1A" stroke="#94440F" stroke-width="0.6"/>
<circle cx="293.5" cy="410.4" r="2.4" fill="#BC5A1A" stroke="#94440F" stroke-width="0.6"/>
<circle cx="293.2" cy="415.9" r="2.4" fill="#BC5A1A" stroke="#94440F" stroke-width="0.6"/>
<circle cx="295.0" cy="404.3" r="2.4" fill="#BC5A1A" stroke="#94440F" stroke-width="0.6"/>
<circle cx="295.2" cy="416.1" r="2.4" fill="#BC5A1A" stroke="#94440F" stroke-width="0.6"/>
<circle cx="295.2" cy="405.5" r="2.4" fill="#BC5A1A" stroke="#94440F" stroke-width="0.6"/>
<circle cx="295.1" cy="416.3" r="2.4" fill="#BC5A1A" stroke="#94440F" stroke-width="0.6"/>
<circle cx="297.3" cy="408.5" r="2.4" fill="#BC5A1A" stroke="#94440F" stroke-width="0.6"/>
<circle cx="296.7" cy="408.2" r="2.4" fill="#BC5A1A" stroke="#94440F" stroke-width="0.6"/>
<circle cx="297.2" cy="415.4" r="2.4" fill="#BC5A1A" stroke="#94440F" stroke-width="0.6"/>
<circle cx="298.9" cy="410.8" r="2.4" fill="#BC5A1A" stroke="#94440F" stroke-width="0.6"/>
<circle cx="298.8" cy="421.9" r="2.4" fill="#BC5A1A" stroke="#94440F" stroke-width="0.6"/>
<circle cx="299.0" cy="418.0" r="2.4" fill="#BC5A1A" stroke="#94440F" stroke-width="0.6"/>
<circle cx="298.7" cy="415.3" r="2.4" fill="#BC5A1A" stroke="#94440F" stroke-width="0.6"/>
<circle cx="300.7" cy="431.8" r="2.4" fill="#BC5A1A" stroke="#94440F" stroke-width="0.6"/>
<circle cx="300.5" cy="406.2" r="2.4" fill="#BC5A1A" stroke="#94440F" stroke-width="0.6"/>
<circle cx="300.9" cy="413.8" r="2.4" fill="#BC5A1A" stroke="#94440F" stroke-width="0.6"/>
<circle cx="300.8" cy="428.1" r="2.4" fill="#BC5A1A" stroke="#94440F" stroke-width="0.6"/>
<circle cx="302.6" cy="424.2" r="2.4" fill="#BC5A1A" stroke="#94440F" stroke-width="0.6"/>
<circle cx="302.4" cy="399.2" r="2.4" fill="#BC5A1A" stroke="#94440F" stroke-width="0.6"/>
<circle cx="302.5" cy="410.6" r="2.4" fill="#BC5A1A" stroke="#94440F" stroke-width="0.6"/>
<circle cx="302.6" cy="408.8" r="2.4" fill="#BC5A1A" stroke="#94440F" stroke-width="0.6"/>
<circle cx="304.2" cy="407.3" r="2.4" fill="#BC5A1A" stroke="#94440F" stroke-width="0.6"/>
<circle cx="304.1" cy="404.4" r="2.4" fill="#BC5A1A" stroke="#94440F" stroke-width="0.6"/>
<circle cx="304.0" cy="409.8" r="2.4" fill="#BC5A1A" stroke="#94440F" stroke-width="0.6"/>
<circle cx="304.1" cy="414.5" r="2.4" fill="#BC5A1A" stroke="#94440F" stroke-width="0.6"/>
<circle cx="306.3" cy="421.5" r="2.4" fill="#BC5A1A" stroke="#94440F" stroke-width="0.6"/>
<circle cx="306.1" cy="407.2" r="2.4" fill="#BC5A1A" stroke="#94440F" stroke-width="0.6"/>
<circle cx="306.0" cy="413.8" r="2.4" fill="#BC5A1A" stroke="#94440F" stroke-width="0.6"/>
<circle cx="306.4" cy="424.9" r="2.4" fill="#BC5A1A" stroke="#94440F" stroke-width="0.6"/>
<circle cx="306.0" cy="411.9" r="2.4" fill="#BC5A1A" stroke="#94440F" stroke-width="0.6"/>
<circle cx="307.8" cy="429.1" r="2.4" fill="#BC5A1A" stroke="#94440F" stroke-width="0.6"/>
<circle cx="307.9" cy="422.7" r="2.4" fill="#BC5A1A" stroke="#94440F" stroke-width="0.6"/>
<circle cx="307.8" cy="406.5" r="2.4" fill="#BC5A1A" stroke="#94440F" stroke-width="0.6"/>
<circle cx="307.6" cy="430.6" r="2.4" fill="#BC5A1A" stroke="#94440F" stroke-width="0.6"/>
<circle cx="309.5" cy="421.1" r="2.4" fill="#BC5A1A" stroke="#94440F" stroke-width="0.6"/>
<circle cx="309.7" cy="432.4" r="2.4" fill="#BC5A1A" stroke="#94440F" stroke-width="0.6"/>
<circle cx="309.7" cy="406.9" r="2.4" fill="#BC5A1A" stroke="#94440F" stroke-width="0.6"/>
<circle cx="309.7" cy="405.8" r="2.4" fill="#BC5A1A" stroke="#94440F" stroke-width="0.6"/>
<circle cx="311.3" cy="428.0" r="2.4" fill="#BC5A1A" stroke="#94440F" stroke-width="0.6"/>
<circle cx="311.2" cy="404.6" r="2.4" fill="#BC5A1A" stroke="#94440F" stroke-width="0.6"/>
<circle cx="311.6" cy="432.5" r="2.4" fill="#BC5A1A" stroke="#94440F" stroke-width="0.6"/>
<circle cx="311.5" cy="424.6" r="2.4" fill="#BC5A1A" stroke="#94440F" stroke-width="0.6"/>
<circle cx="313.1" cy="424.4" r="2.4" fill="#BC5A1A" stroke="#94440F" stroke-width="0.6"/>
<circle cx="313.4" cy="431.8" r="2.4" fill="#BC5A1A" stroke="#94440F" stroke-width="0.6"/>
<circle cx="313.4" cy="428.6" r="2.4" fill="#BC5A1A" stroke="#94440F" stroke-width="0.6"/>
<circle cx="313.6" cy="423.3" r="2.4" fill="#BC5A1A" stroke="#94440F" stroke-width="0.6"/>
<circle cx="315.4" cy="424.1" r="2.4" fill="#BC5A1A" stroke="#94440F" stroke-width="0.6"/>
<circle cx="315.0" cy="415.4" r="2.4" fill="#BC5A1A" stroke="#94440F" stroke-width="0.6"/>
<circle cx="315.1" cy="419.6" r="2.4" fill="#BC5A1A" stroke="#94440F" stroke-width="0.6"/>
<circle cx="316.9" cy="408.4" r="2.4" fill="#BC5A1A" stroke="#94440F" stroke-width="0.6"/>
<circle cx="316.7" cy="420.9" r="2.4" fill="#BC5A1A" stroke="#94440F" stroke-width="0.6"/>
<circle cx="317.2" cy="425.7" r="2.4" fill="#BC5A1A" stroke="#94440F" stroke-width="0.6"/>
<circle cx="318.8" cy="410.5" r="2.4" fill="#BC5A1A" stroke="#94440F" stroke-width="0.6"/>
<circle cx="319.1" cy="421.3" r="2.4" fill="#BC5A1A" stroke="#94440F" stroke-width="0.6"/>
<circle cx="319.0" cy="425.1" r="2.4" fill="#BC5A1A" stroke="#94440F" stroke-width="0.6"/>
<circle cx="318.7" cy="425.9" r="2.4" fill="#BC5A1A" stroke="#94440F" stroke-width="0.6"/>
<circle cx="320.9" cy="415.0" r="2.4" fill="#BC5A1A" stroke="#94440F" stroke-width="0.6"/>
<circle cx="320.7" cy="413.9" r="2.4" fill="#BC5A1A" stroke="#94440F" stroke-width="0.6"/>
<circle cx="320.9" cy="418.3" r="2.4" fill="#BC5A1A" stroke="#94440F" stroke-width="0.6"/>
<circle cx="322.4" cy="415.6" r="2.4" fill="#BC5A1A" stroke="#94440F" stroke-width="0.6"/>
<circle cx="322.3" cy="423.2" r="2.4" fill="#BC5A1A" stroke="#94440F" stroke-width="0.6"/>
<circle cx="322.6" cy="414.8" r="2.4" fill="#BC5A1A" stroke="#94440F" stroke-width="0.6"/>
<circle cx="322.5" cy="417.5" r="2.4" fill="#BC5A1A" stroke="#94440F" stroke-width="0.6"/>
<circle cx="324.3" cy="428.3" r="2.4" fill="#BC5A1A" stroke="#94440F" stroke-width="0.6"/>
<circle cx="323.9" cy="427.2" r="2.4" fill="#BC5A1A" stroke="#94440F" stroke-width="0.6"/>
<circle cx="324.4" cy="410.5" r="2.4" fill="#BC5A1A" stroke="#94440F" stroke-width="0.6"/>
<circle cx="324.2" cy="427.9" r="2.4" fill="#BC5A1A" stroke="#94440F" stroke-width="0.6"/>
<circle cx="326.2" cy="426.7" r="2.4" fill="#BC5A1A" stroke="#94440F" stroke-width="0.6"/>
<circle cx="326.3" cy="406.8" r="2.4" fill="#BC5A1A" stroke="#94440F" stroke-width="0.6"/>
<circle cx="326.2" cy="416.4" r="2.4" fill="#BC5A1A" stroke="#94440F" stroke-width="0.6"/>
<circle cx="326.0" cy="412.1" r="2.4" fill="#BC5A1A" stroke="#94440F" stroke-width="0.6"/>
<circle cx="328.0" cy="408.8" r="2.4" fill="#BC5A1A" stroke="#94440F" stroke-width="0.6"/>
<circle cx="327.8" cy="413.5" r="2.4" fill="#BC5A1A" stroke="#94440F" stroke-width="0.6"/>
<circle cx="327.9" cy="423.2" r="2.4" fill="#BC5A1A" stroke="#94440F" stroke-width="0.6"/>
<circle cx="329.9" cy="401.9" r="2.4" fill="#BC5A1A" stroke="#94440F" stroke-width="0.6"/>
<circle cx="330.0" cy="420.2" r="2.4" fill="#BC5A1A" stroke="#94440F" stroke-width="0.6"/>
<circle cx="329.5" cy="410.2" r="2.4" fill="#BC5A1A" stroke="#94440F" stroke-width="0.6"/>
<circle cx="329.4" cy="407.7" r="2.4" fill="#BC5A1A" stroke="#94440F" stroke-width="0.6"/>
<circle cx="329.6" cy="414.1" r="2.4" fill="#BC5A1A" stroke="#94440F" stroke-width="0.6"/>
<circle cx="331.7" cy="415.9" r="2.4" fill="#BC5A1A" stroke="#94440F" stroke-width="0.6"/>
<circle cx="331.5" cy="419.7" r="2.4" fill="#BC5A1A" stroke="#94440F" stroke-width="0.6"/>
<circle cx="331.6" cy="410.3" r="2.4" fill="#BC5A1A" stroke="#94440F" stroke-width="0.6"/>
<circle cx="331.3" cy="411.0" r="2.4" fill="#BC5A1A" stroke="#94440F" stroke-width="0.6"/>
<circle cx="333.2" cy="401.9" r="2.4" fill="#BC5A1A" stroke="#94440F" stroke-width="0.6"/>
<circle cx="333.3" cy="403.9" r="2.4" fill="#BC5A1A" stroke="#94440F" stroke-width="0.6"/>
<circle cx="333.0" cy="407.6" r="2.4" fill="#BC5A1A" stroke="#94440F" stroke-width="0.6"/>
<circle cx="333.1" cy="419.0" r="2.4" fill="#BC5A1A" stroke="#94440F" stroke-width="0.6"/>
<circle cx="335.0" cy="404.0" r="2.4" fill="#BC5A1A" stroke="#94440F" stroke-width="0.6"/>
<circle cx="334.9" cy="413.4" r="2.4" fill="#BC5A1A" stroke="#94440F" stroke-width="0.6"/>
<circle cx="334.9" cy="425.5" r="2.4" fill="#BC5A1A" stroke="#94440F" stroke-width="0.6"/>
<circle cx="335.0" cy="420.3" r="2.4" fill="#BC5A1A" stroke="#94440F" stroke-width="0.6"/>
<circle cx="336.9" cy="424.3" r="2.4" fill="#BC5A1A" stroke="#94440F" stroke-width="0.6"/>
<circle cx="336.8" cy="412.1" r="2.4" fill="#BC5A1A" stroke="#94440F" stroke-width="0.6"/>
<circle cx="337.0" cy="397.5" r="2.4" fill="#BC5A1A" stroke="#94440F" stroke-width="0.6"/>
<circle cx="338.9" cy="402.2" r="2.4" fill="#BC5A1A" stroke="#94440F" stroke-width="0.6"/>
<circle cx="338.9" cy="415.4" r="2.4" fill="#BC5A1A" stroke="#94440F" stroke-width="0.6"/>
<circle cx="338.9" cy="409.2" r="2.4" fill="#BC5A1A" stroke="#94440F" stroke-width="0.6"/>
<circle cx="338.9" cy="422.1" r="2.4" fill="#BC5A1A" stroke="#94440F" stroke-width="0.6"/>
<circle cx="340.8" cy="412.0" r="2.4" fill="#BC5A1A" stroke="#94440F" stroke-width="0.6"/>
<circle cx="340.5" cy="403.9" r="2.4" fill="#BC5A1A" stroke="#94440F" stroke-width="0.6"/>
<circle cx="340.5" cy="416.9" r="2.4" fill="#BC5A1A" stroke="#94440F" stroke-width="0.6"/>
<circle cx="340.5" cy="421.2" r="2.4" fill="#BC5A1A" stroke="#94440F" stroke-width="0.6"/>
<circle cx="342.2" cy="411.4" r="2.4" fill="#BC5A1A" stroke="#94440F" stroke-width="0.6"/>
<circle cx="342.2" cy="406.2" r="2.4" fill="#BC5A1A" stroke="#94440F" stroke-width="0.6"/>
<circle cx="342.5" cy="429.1" r="2.4" fill="#BC5A1A" stroke="#94440F" stroke-width="0.6"/>
<circle cx="342.2" cy="418.2" r="2.4" fill="#BC5A1A" stroke="#94440F" stroke-width="0.6"/>
<circle cx="344.0" cy="402.3" r="2.4" fill="#BC5A1A" stroke="#94440F" stroke-width="0.6"/>
<circle cx="344.2" cy="407.7" r="2.4" fill="#BC5A1A" stroke="#94440F" stroke-width="0.6"/>
<circle cx="344.1" cy="411.3" r="2.4" fill="#BC5A1A" stroke="#94440F" stroke-width="0.6"/>
<circle cx="344.1" cy="414.2" r="2.4" fill="#BC5A1A" stroke="#94440F" stroke-width="0.6"/>
<circle cx="344.0" cy="407.6" r="2.4" fill="#BC5A1A" stroke="#94440F" stroke-width="0.6"/>
<circle cx="345.8" cy="397.3" r="2.4" fill="#BC5A1A" stroke="#94440F" stroke-width="0.6"/>
<circle cx="345.9" cy="397.0" r="2.4" fill="#BC5A1A" stroke="#94440F" stroke-width="0.6"/>
<circle cx="345.8" cy="419.1" r="2.4" fill="#BC5A1A" stroke="#94440F" stroke-width="0.6"/>
<circle cx="346.1" cy="408.1" r="2.4" fill="#BC5A1A" stroke="#94440F" stroke-width="0.6"/>
<circle cx="345.9" cy="410.7" r="2.4" fill="#BC5A1A" stroke="#94440F" stroke-width="0.6"/>
<circle cx="347.8" cy="395.4" r="2.4" fill="#BC5A1A" stroke="#94440F" stroke-width="0.6"/>
<circle cx="347.6" cy="414.7" r="2.4" fill="#BC5A1A" stroke="#94440F" stroke-width="0.6"/>
<circle cx="348.1" cy="421.5" r="2.4" fill="#BC5A1A" stroke="#94440F" stroke-width="0.6"/>
<circle cx="348.1" cy="411.6" r="2.4" fill="#BC5A1A" stroke="#94440F" stroke-width="0.6"/>
<circle cx="349.9" cy="403.5" r="2.4" fill="#BC5A1A" stroke="#94440F" stroke-width="0.6"/>
<circle cx="349.4" cy="422.6" r="2.4" fill="#BC5A1A" stroke="#94440F" stroke-width="0.6"/>
<circle cx="349.8" cy="422.1" r="2.4" fill="#BC5A1A" stroke="#94440F" stroke-width="0.6"/>
<circle cx="349.6" cy="411.7" r="2.4" fill="#BC5A1A" stroke="#94440F" stroke-width="0.6"/>
<circle cx="351.4" cy="403.8" r="2.4" fill="#BC5A1A" stroke="#94440F" stroke-width="0.6"/>
<circle cx="351.8" cy="405.1" r="2.4" fill="#BC5A1A" stroke="#94440F" stroke-width="0.6"/>
<circle cx="351.2" cy="402.5" r="2.4" fill="#BC5A1A" stroke="#94440F" stroke-width="0.6"/>
<circle cx="351.4" cy="390.8" r="2.4" fill="#BC5A1A" stroke="#94440F" stroke-width="0.6"/>
<circle cx="353.1" cy="405.7" r="2.4" fill="#BC5A1A" stroke="#94440F" stroke-width="0.6"/>
<circle cx="353.2" cy="390.0" r="2.4" fill="#BC5A1A" stroke="#94440F" stroke-width="0.6"/>
<circle cx="353.6" cy="393.5" r="2.4" fill="#BC5A1A" stroke="#94440F" stroke-width="0.6"/>
<circle cx="353.1" cy="403.3" r="2.4" fill="#BC5A1A" stroke="#94440F" stroke-width="0.6"/>
<circle cx="353.0" cy="422.5" r="2.4" fill="#BC5A1A" stroke="#94440F" stroke-width="0.6"/>
<circle cx="355.2" cy="399.9" r="2.4" fill="#BC5A1A" stroke="#94440F" stroke-width="0.6"/>
<circle cx="355.3" cy="420.3" r="2.4" fill="#BC5A1A" stroke="#94440F" stroke-width="0.6"/>
<circle cx="355.0" cy="394.0" r="2.4" fill="#BC5A1A" stroke="#94440F" stroke-width="0.6"/>
<circle cx="355.0" cy="400.0" r="2.4" fill="#BC5A1A" stroke="#94440F" stroke-width="0.6"/>
<circle cx="357.1" cy="412.4" r="2.4" fill="#BC5A1A" stroke="#94440F" stroke-width="0.6"/>
<circle cx="357.1" cy="401.1" r="2.4" fill="#BC5A1A" stroke="#94440F" stroke-width="0.6"/>
<circle cx="357.0" cy="396.0" r="2.4" fill="#BC5A1A" stroke="#94440F" stroke-width="0.6"/>
<circle cx="357.2" cy="391.5" r="2.4" fill="#BC5A1A" stroke="#94440F" stroke-width="0.6"/>
<circle cx="358.8" cy="413.9" r="2.4" fill="#BC5A1A" stroke="#94440F" stroke-width="0.6"/>
<circle cx="358.7" cy="405.9" r="2.4" fill="#BC5A1A" stroke="#94440F" stroke-width="0.6"/>
<circle cx="359.0" cy="394.2" r="2.4" fill="#BC5A1A" stroke="#94440F" stroke-width="0.6"/>
<circle cx="359.0" cy="404.2" r="2.4" fill="#BC5A1A" stroke="#94440F" stroke-width="0.6"/>
<circle cx="359.0" cy="400.3" r="2.4" fill="#BC5A1A" stroke="#94440F" stroke-width="0.6"/>
<circle cx="360.4" cy="415.5" r="2.4" fill="#BC5A1A" stroke="#94440F" stroke-width="0.6"/>
<circle cx="360.3" cy="418.3" r="2.4" fill="#BC5A1A" stroke="#94440F" stroke-width="0.6"/>
<circle cx="360.8" cy="413.1" r="2.4" fill="#BC5A1A" stroke="#94440F" stroke-width="0.6"/>
<circle cx="360.4" cy="404.3" r="2.4" fill="#BC5A1A" stroke="#94440F" stroke-width="0.6"/>
<circle cx="362.1" cy="394.1" r="2.4" fill="#BC5A1A" stroke="#94440F" stroke-width="0.6"/>
<circle cx="362.4" cy="394.2" r="2.4" fill="#BC5A1A" stroke="#94440F" stroke-width="0.6"/>
<circle cx="362.4" cy="415.9" r="2.4" fill="#BC5A1A" stroke="#94440F" stroke-width="0.6"/>
<circle cx="364.5" cy="400.2" r="2.4" fill="#BC5A1A" stroke="#94440F" stroke-width="0.6"/>
<circle cx="364.2" cy="410.9" r="2.4" fill="#BC5A1A" stroke="#94440F" stroke-width="0.6"/>
<circle cx="364.3" cy="399.3" r="2.4" fill="#BC5A1A" stroke="#94440F" stroke-width="0.6"/>
<circle cx="366.0" cy="404.3" r="2.4" fill="#BC5A1A" stroke="#94440F" stroke-width="0.6"/>
<circle cx="365.7" cy="417.2" r="2.4" fill="#BC5A1A" stroke="#94440F" stroke-width="0.6"/>
<circle cx="365.9" cy="406.6" r="2.4" fill="#BC5A1A" stroke="#94440F" stroke-width="0.6"/>
<circle cx="367.9" cy="415.4" r="2.4" fill="#BC5A1A" stroke="#94440F" stroke-width="0.6"/>
<circle cx="367.9" cy="416.3" r="2.4" fill="#BC5A1A" stroke="#94440F" stroke-width="0.6"/>
<circle cx="368.0" cy="406.5" r="2.4" fill="#BC5A1A" stroke="#94440F" stroke-width="0.6"/>
<circle cx="369.6" cy="395.9" r="2.4" fill="#BC5A1A" stroke="#94440F" stroke-width="0.6"/>
<circle cx="369.8" cy="397.1" r="2.4" fill="#BC5A1A" stroke="#94440F" stroke-width="0.6"/>
<circle cx="369.4" cy="413.8" r="2.4" fill="#BC5A1A" stroke="#94440F" stroke-width="0.6"/>
<circle cx="371.6" cy="403.8" r="2.4" fill="#BC5A1A" stroke="#94440F" stroke-width="0.6"/>
<circle cx="371.2" cy="412.8" r="2.4" fill="#BC5A1A" stroke="#94440F" stroke-width="0.6"/>
<circle cx="371.5" cy="413.0" r="2.4" fill="#BC5A1A" stroke="#94440F" stroke-width="0.6"/>
<circle cx="373.2" cy="412.3" r="2.4" fill="#BC5A1A" stroke="#94440F" stroke-width="0.6"/>
<circle cx="373.0" cy="412.7" r="2.4" fill="#BC5A1A" stroke="#94440F" stroke-width="0.6"/>
<circle cx="373.2" cy="413.6" r="2.4" fill="#BC5A1A" stroke="#94440F" stroke-width="0.6"/>
<circle cx="375.2" cy="395.2" r="2.4" fill="#BC5A1A" stroke="#94440F" stroke-width="0.6"/>
<circle cx="375.2" cy="402.3" r="2.4" fill="#BC5A1A" stroke="#94440F" stroke-width="0.6"/>
<circle cx="374.9" cy="408.5" r="2.4" fill="#BC5A1A" stroke="#94440F" stroke-width="0.6"/>
<circle cx="376.7" cy="395.9" r="2.4" fill="#BC5A1A" stroke="#94440F" stroke-width="0.6"/>
<circle cx="376.9" cy="405.0" r="2.4" fill="#BC5A1A" stroke="#94440F" stroke-width="0.6"/>
<circle cx="378.7" cy="397.7" r="2.4" fill="#BC5A1A" stroke="#94440F" stroke-width="0.6"/>
<circle cx="378.4" cy="393.7" r="2.4" fill="#BC5A1A" stroke="#94440F" stroke-width="0.6"/>
<circle cx="378.4" cy="393.7" r="2.4" fill="#BC5A1A" stroke="#94440F" stroke-width="0.6"/>
<circle cx="380.8" cy="396.1" r="2.4" fill="#BC5A1A" stroke="#94440F" stroke-width="0.6"/>
<circle cx="380.7" cy="411.1" r="2.4" fill="#BC5A1A" stroke="#94440F" stroke-width="0.6"/>
<circle cx="380.6" cy="394.2" r="2.4" fill="#BC5A1A" stroke="#94440F" stroke-width="0.6"/>
<circle cx="382.5" cy="406.8" r="2.4" fill="#BC5A1A" stroke="#94440F" stroke-width="0.6"/>
<circle cx="382.1" cy="400.6" r="2.4" fill="#BC5A1A" stroke="#94440F" stroke-width="0.6"/>
<circle cx="382.4" cy="391.8" r="2.4" fill="#BC5A1A" stroke="#94440F" stroke-width="0.6"/>
<circle cx="384.3" cy="401.1" r="2.4" fill="#BC5A1A" stroke="#94440F" stroke-width="0.6"/>
<circle cx="384.4" cy="406.5" r="2.4" fill="#BC5A1A" stroke="#94440F" stroke-width="0.6"/>
<circle cx="386.2" cy="388.7" r="2.4" fill="#BC5A1A" stroke="#94440F" stroke-width="0.6"/>
<circle cx="386.1" cy="400.1" r="2.4" fill="#BC5A1A" stroke="#94440F" stroke-width="0.6"/>
<circle cx="385.8" cy="396.6" r="2.4" fill="#BC5A1A" stroke="#94440F" stroke-width="0.6"/>
<circle cx="387.6" cy="392.9" r="2.4" fill="#BC5A1A" stroke="#94440F" stroke-width="0.6"/>
<circle cx="387.9" cy="406.6" r="2.4" fill="#BC5A1A" stroke="#94440F" stroke-width="0.6"/>
<circle cx="387.9" cy="408.4" r="2.4" fill="#BC5A1A" stroke="#94440F" stroke-width="0.6"/>
<circle cx="389.6" cy="397.9" r="2.4" fill="#BC5A1A" stroke="#94440F" stroke-width="0.6"/>
<circle cx="389.6" cy="403.6" r="2.4" fill="#BC5A1A" stroke="#94440F" stroke-width="0.6"/>
<circle cx="389.8" cy="403.1" r="2.4" fill="#BC5A1A" stroke="#94440F" stroke-width="0.6"/>
<circle cx="391.4" cy="402.0" r="2.4" fill="#BC5A1A" stroke="#94440F" stroke-width="0.6"/>
<circle cx="391.3" cy="407.7" r="2.4" fill="#BC5A1A" stroke="#94440F" stroke-width="0.6"/>
<circle cx="391.4" cy="391.1" r="2.4" fill="#BC5A1A" stroke="#94440F" stroke-width="0.6"/>
<circle cx="393.5" cy="390.5" r="2.4" fill="#BC5A1A" stroke="#94440F" stroke-width="0.6"/>
<circle cx="392.9" cy="391.7" r="2.4" fill="#BC5A1A" stroke="#94440F" stroke-width="0.6"/>
<circle cx="393.3" cy="409.2" r="2.4" fill="#BC5A1A" stroke="#94440F" stroke-width="0.6"/>
<circle cx="393.1" cy="403.7" r="2.4" fill="#BC5A1A" stroke="#94440F" stroke-width="0.6"/>
<circle cx="395.2" cy="408.4" r="2.4" fill="#BC5A1A" stroke="#94440F" stroke-width="0.6"/>
<circle cx="395.3" cy="392.3" r="2.4" fill="#BC5A1A" stroke="#94440F" stroke-width="0.6"/>
<circle cx="395.2" cy="395.7" r="2.4" fill="#BC5A1A" stroke="#94440F" stroke-width="0.6"/>
<circle cx="397.0" cy="393.9" r="2.4" fill="#BC5A1A" stroke="#94440F" stroke-width="0.6"/>
<circle cx="396.8" cy="401.5" r="2.4" fill="#BC5A1A" stroke="#94440F" stroke-width="0.6"/>
<circle cx="396.8" cy="393.7" r="2.4" fill="#BC5A1A" stroke="#94440F" stroke-width="0.6"/>
<circle cx="398.6" cy="399.6" r="2.4" fill="#BC5A1A" stroke="#94440F" stroke-width="0.6"/>
<circle cx="398.7" cy="395.3" r="2.4" fill="#BC5A1A" stroke="#94440F" stroke-width="0.6"/>
<circle cx="398.6" cy="393.7" r="2.4" fill="#BC5A1A" stroke="#94440F" stroke-width="0.6"/>
<circle cx="400.4" cy="405.6" r="2.4" fill="#BC5A1A" stroke="#94440F" stroke-width="0.6"/>
<circle cx="400.4" cy="402.7" r="2.4" fill="#BC5A1A" stroke="#94440F" stroke-width="0.6"/>
<circle cx="400.4" cy="408.6" r="2.4" fill="#BC5A1A" stroke="#94440F" stroke-width="0.6"/>
<circle cx="402.4" cy="395.0" r="2.4" fill="#BC5A1A" stroke="#94440F" stroke-width="0.6"/>
<circle cx="402.3" cy="393.4" r="2.4" fill="#BC5A1A" stroke="#94440F" stroke-width="0.6"/>
<circle cx="404.0" cy="402.8" r="2.4" fill="#BC5A1A" stroke="#94440F" stroke-width="0.6"/>
<circle cx="404.4" cy="404.9" r="2.4" fill="#BC5A1A" stroke="#94440F" stroke-width="0.6"/>
<circle cx="406.2" cy="406.5" r="2.4" fill="#BC5A1A" stroke="#94440F" stroke-width="0.6"/>
<circle cx="405.9" cy="400.0" r="2.4" fill="#BC5A1A" stroke="#94440F" stroke-width="0.6"/>
<circle cx="407.7" cy="407.4" r="2.4" fill="#BC5A1A" stroke="#94440F" stroke-width="0.6"/>
<circle cx="407.6" cy="397.6" r="2.4" fill="#BC5A1A" stroke="#94440F" stroke-width="0.6"/>
<circle cx="409.7" cy="398.7" r="2.4" fill="#BC5A1A" stroke="#94440F" stroke-width="0.6"/>
<circle cx="409.3" cy="402.7" r="2.4" fill="#BC5A1A" stroke="#94440F" stroke-width="0.6"/>
<circle cx="411.4" cy="402.9" r="2.4" fill="#BC5A1A" stroke="#94440F" stroke-width="0.6"/>
<circle cx="411.3" cy="406.3" r="2.4" fill="#BC5A1A" stroke="#94440F" stroke-width="0.6"/>
<circle cx="413.1" cy="407.9" r="2.4" fill="#BC5A1A" stroke="#94440F" stroke-width="0.6"/>
<circle cx="413.0" cy="402.4" r="2.4" fill="#BC5A1A" stroke="#94440F" stroke-width="0.6"/>
<circle cx="415.2" cy="400.5" r="2.4" fill="#BC5A1A" stroke="#94440F" stroke-width="0.6"/>
<circle cx="414.9" cy="409.7" r="2.4" fill="#BC5A1A" stroke="#94440F" stroke-width="0.6"/>
<circle cx="416.9" cy="404.6" r="2.4" fill="#BC5A1A" stroke="#94440F" stroke-width="0.6"/>
<circle cx="417.0" cy="404.9" r="2.4" fill="#BC5A1A" stroke="#94440F" stroke-width="0.6"/>
<circle cx="418.5" cy="402.6" r="2.4" fill="#BC5A1A" stroke="#94440F" stroke-width="0.6"/>
<circle cx="418.4" cy="401.8" r="2.4" fill="#BC5A1A" stroke="#94440F" stroke-width="0.6"/>
<circle cx="420.5" cy="400.9" r="2.4" fill="#BC5A1A" stroke="#94440F" stroke-width="0.6"/>
<circle cx="420.4" cy="400.1" r="2.4" fill="#BC5A1A" stroke="#94440F" stroke-width="0.6"/>
<circle cx="422.3" cy="404.8" r="2.4" fill="#BC5A1A" stroke="#94440F" stroke-width="0.6"/>
<circle cx="422.4" cy="400.3" r="2.4" fill="#BC5A1A" stroke="#94440F" stroke-width="0.6"/>
<circle cx="423.8" cy="402.7" r="2.4" fill="#BC5A1A" stroke="#94440F" stroke-width="0.6"/>
<circle cx="424.1" cy="402.4" r="2.4" fill="#BC5A1A" stroke="#94440F" stroke-width="0.6"/>
<circle cx="428.9" cy="391.5" r="2.4" fill="#BC5A1A" stroke="#94440F" stroke-width="0.6"/>
<circle cx="428.7" cy="390.4" r="2.4" fill="#BC5A1A" stroke="#94440F" stroke-width="0.6"/>
<circle cx="432.2" cy="397.2" r="2.4" fill="#BC5A1A" stroke="#94440F" stroke-width="0.6"/>
<circle cx="431.7" cy="400.3" r="2.4" fill="#BC5A1A" stroke="#94440F" stroke-width="0.6"/>
<circle cx="434.0" cy="404.3" r="2.4" fill="#BC5A1A" stroke="#94440F" stroke-width="0.6"/>
<circle cx="433.8" cy="403.7" r="2.4" fill="#BC5A1A" stroke="#94440F" stroke-width="0.6"/>
<circle cx="436.2" cy="393.2" r="2.4" fill="#BC5A1A" stroke="#94440F" stroke-width="0.6"/>
<circle cx="436.2" cy="398.7" r="2.4" fill="#BC5A1A" stroke="#94440F" stroke-width="0.6"/>
<circle cx="443.7" cy="393.3" r="2.4" fill="#BC5A1A" stroke="#94440F" stroke-width="0.6"/>
<circle cx="443.6" cy="395.8" r="2.4" fill="#BC5A1A" stroke="#94440F" stroke-width="0.6"/>
<circle cx="445.2" cy="392.9" r="2.4" fill="#BC5A1A" stroke="#94440F" stroke-width="0.6"/>
<circle cx="445.1" cy="406.4" r="2.4" fill="#BC5A1A" stroke="#94440F" stroke-width="0.6"/>
<circle cx="447.2" cy="404.7" r="2.4" fill="#BC5A1A" stroke="#94440F" stroke-width="0.6"/>
<circle cx="447.3" cy="389.8" r="2.4" fill="#BC5A1A" stroke="#94440F" stroke-width="0.6"/>
<circle cx="449.3" cy="401.8" r="2.4" fill="#BC5A1A" stroke="#94440F" stroke-width="0.6"/>
<circle cx="449.1" cy="395.1" r="2.4" fill="#BC5A1A" stroke="#94440F" stroke-width="0.6"/>
<circle cx="452.4" cy="397.3" r="2.4" fill="#BC5A1A" stroke="#94440F" stroke-width="0.6"/>
<circle cx="452.8" cy="399.2" r="2.4" fill="#BC5A1A" stroke="#94440F" stroke-width="0.6"/>
<circle cx="464.3" cy="394.4" r="2.4" fill="#BC5A1A" stroke="#94440F" stroke-width="0.6"/>
<circle cx="464.5" cy="395.3" r="2.4" fill="#BC5A1A" stroke="#94440F" stroke-width="0.6"/>
<circle cx="471.0" cy="394.3" r="2.4" fill="#BC5A1A" stroke="#94440F" stroke-width="0.6"/>
<circle cx="470.7" cy="394.9" r="2.4" fill="#BC5A1A" stroke="#94440F" stroke-width="0.6"/>
<circle cx="474.5" cy="398.6" r="2.4" fill="#BC5A1A" stroke="#94440F" stroke-width="0.6"/>
<circle cx="474.5" cy="396.5" r="2.4" fill="#BC5A1A" stroke="#94440F" stroke-width="0.6"/>
<circle cx="224.6" cy="417.7" r="2.4" fill="#BC5A1A" stroke="#94440F" stroke-width="0.6"/>
<circle cx="225.0" cy="413.5" r="2.4" fill="#BC5A1A" stroke="#94440F" stroke-width="0.6"/>
<circle cx="264.3" cy="398.7" r="2.4" fill="#BC5A1A" stroke="#94440F" stroke-width="0.6"/>
<circle cx="264.0" cy="400.4" r="2.4" fill="#BC5A1A" stroke="#94440F" stroke-width="0.6"/>
<circle cx="294.9" cy="438.8" r="2.4" fill="#BC5A1A" stroke="#94440F" stroke-width="0.6"/>
<circle cx="294.6" cy="443.5" r="2.4" fill="#BC5A1A" stroke="#94440F" stroke-width="0.6"/>
<circle cx="170.8" cy="439.8" r="2.4" fill="#BC5A1A" stroke="#94440F" stroke-width="0.6"/>
<circle cx="170.7" cy="440.9" r="2.4" fill="#BC5A1A" stroke="#94440F" stroke-width="0.6"/>
<circle cx="179.8" cy="463.5" r="2.4" fill="#BC5A1A" stroke="#94440F" stroke-width="0.6"/>
<circle cx="179.7" cy="464.2" r="2.4" fill="#BC5A1A" stroke="#94440F" stroke-width="0.6"/>
<circle cx="464.7" cy="405.8" r="2.1" fill="#C55A11"/>
<circle cx="471.1" cy="405.8" r="2.1" fill="#C55A11"/>
<circle cx="77.4" cy="462" r="2.6" fill="#4472C4"/>
<circle cx="77.4" cy="459.4" r="2.6" fill="#FF0000"/>
<circle cx="77.4" cy="456.8" r="2.6" fill="#FFC000"/>
<circle cx="77.4" cy="452.8" r="2.6" fill="#9E480E"/>
<line x1="77.4" y1="473.40" x2="477.4" y2="384.60" stroke="#5B9BD5" stroke-width="1.0"/>
<line x1="77.4" y1="472.80" x2="477.4" y2="384.00" stroke="#FFC000" stroke-width="1.0"/>
<line x1="77.4" y1="473.50" x2="477.4" y2="384.70" stroke="#E8281E" stroke-width="1.5"/>
<line x1="77.4" y1="472.30" x2="477.4" y2="383.50" stroke="#7A0000" stroke-width="1.4"/>
<line x1="77.4" y1="471.40" x2="477.4" y2="382.60" stroke="#111111" stroke-width="1.4"/>
<circle cx="77.40" cy="477.40" r="2.7" fill="#8C6E12"/>
<circle cx="477.40" cy="378.20" r="2.7" fill="#8C6E12"/>
</svg></body></html>
